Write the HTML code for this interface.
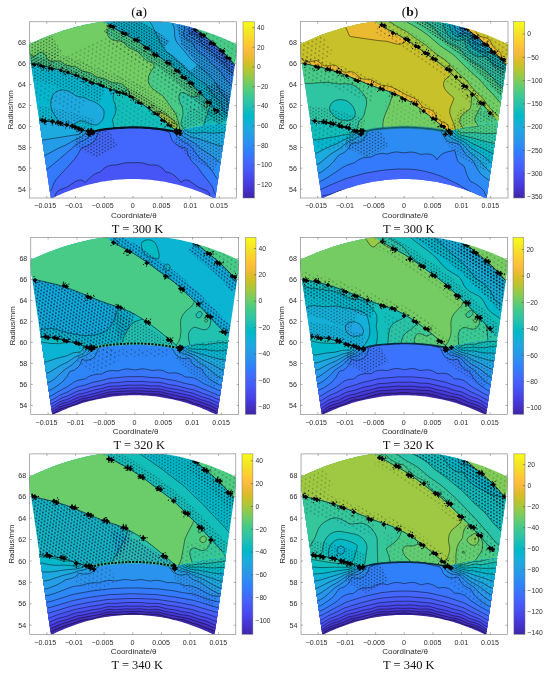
<!DOCTYPE html><html><head><meta charset="utf-8"><title>Figure</title><style>html,body{margin:0;padding:0;background:#fff}svg{display:block}</style></head><body><svg width="550" height="676" viewBox="0 0 550 676"><defs><pattern id="dt1" patternUnits="userSpaceOnUse" width="2.9" height="5.0" patternTransform="rotate(-30)"><circle cx="0.72" cy="1.25" r="0.8" fill="#0a1420"/><circle cx="2.17" cy="3.75" r="0.8" fill="#0a1420"/></pattern><pattern id="dt2" patternUnits="userSpaceOnUse" width="3.3" height="5.6" patternTransform="rotate(-30)"><circle cx="0.8" cy="1.4" r="0.62" fill="#10151a"/><circle cx="2.45" cy="4.2" r="0.62" fill="#10151a"/></pattern><pattern id="dt5" patternUnits="userSpaceOnUse" width="3.4" height="5.9" patternTransform="rotate(-30)"><circle cx="0.85" cy="1.5" r="0.85" fill="#0a1a30"/><circle cx="2.55" cy="4.45" r="0.85" fill="#0a1a30"/></pattern><pattern id="dt4" patternUnits="userSpaceOnUse" width="3.4" height="5.9" patternTransform="rotate(-22)"><circle cx="0.85" cy="1.5" r="0.95" fill="#14267a"/><circle cx="2.55" cy="4.45" r="0.95" fill="#14267a"/></pattern><pattern id="dt3" patternUnits="userSpaceOnUse" width="4.6" height="7.8" patternTransform="rotate(-25)"><circle cx="1.1" cy="1.9" r="0.6" fill="#111"/><circle cx="3.4" cy="5.8" r="0.6" fill="#111"/></pattern><linearGradient id="pg" x1="0" y1="0" x2="0" y2="1"><stop offset="0.0000" stop-color="#f9fb15"/><stop offset="0.0312" stop-color="#f6ef20"/><stop offset="0.0625" stop-color="#f5e327"/><stop offset="0.0938" stop-color="#f9d62d"/><stop offset="0.1250" stop-color="#feca33"/><stop offset="0.1562" stop-color="#febe3c"/><stop offset="0.1875" stop-color="#f1ba37"/><stop offset="0.2188" stop-color="#debc2a"/><stop offset="0.2500" stop-color="#c8c129"/><stop offset="0.2812" stop-color="#afc637"/><stop offset="0.3125" stop-color="#94ca4a"/><stop offset="0.3438" stop-color="#77cc60"/><stop offset="0.3750" stop-color="#5ccc76"/><stop offset="0.4062" stop-color="#44ca8a"/><stop offset="0.4375" stop-color="#34c79c"/><stop offset="0.4688" stop-color="#28c2ab"/><stop offset="0.5000" stop-color="#12beb9"/><stop offset="0.5312" stop-color="#01b9c6"/><stop offset="0.5625" stop-color="#0cb3d3"/><stop offset="0.5938" stop-color="#1aacdd"/><stop offset="0.6250" stop-color="#21a3e3"/><stop offset="0.6562" stop-color="#269ae9"/><stop offset="0.6875" stop-color="#2c90f0"/><stop offset="0.7188" stop-color="#2e85f8"/><stop offset="0.7500" stop-color="#347afd"/><stop offset="0.7812" stop-color="#3f6efe"/><stop offset="0.8125" stop-color="#4562fc"/><stop offset="0.8438" stop-color="#4757f7"/><stop offset="0.8750" stop-color="#484cef"/><stop offset="0.9062" stop-color="#4741e5"/><stop offset="0.9375" stop-color="#4536d5"/><stop offset="0.9688" stop-color="#422ebf"/><stop offset="1.0000" stop-color="#3e26a8"/></linearGradient><clipPath id="bxa"><rect x="29.5" y="21.8" width="207.1" height="176.2"/></clipPath><clipPath id="caband"><path d="M104.9 21.5L104.8 21.5L101.3 21.9L101.3 21.9L97.8 22.5L97.8 22.5L94.3 23.1L94.3 23.1L90.8 23.7L90.8 23.7L87.3 24.4L87.3 24.4L83.8 25.1L83.8 25.2L80.3 26L80.3 26L76.8 26.8L76.8 26.8L73.3 27.7L73.3 27.7L69.8 28.7L69.8 28.7L66.3 29.7L66.3 29.8L62.8 30.8L62.8 30.8L59.4 32L59.4 32L55.9 33.2L55.9 33.2L52.5 34.4L52.4 34.4L49 35.7L49 35.7L45.6 37.1L45.5 37.1L42.1 38.5L42.1 38.5L38.7 40L38.7 40L35.3 41.5L35.2 41.5L31.8 43.1L31.8 43.1L28.4 44.7L28.4 44.7L28.4 44.7L28.3 44.8L28.3 44.8L28.3 44.8L28.3 44.8L28.3 44.9L28.2 44.9L28.2 44.9L28.2 45L28.2 45L28.2 45L28.2 45.1L30.9 63.1L30.9 63.2L30.9 63.2L30.9 63.2L30.9 63.3L31 63.3L31 63.3L31 63.3L31 63.4L31.1 63.4L31.1 63.4L31.1 63.4L31.2 63.4L32.4 63.7L32.4 63.7L35.2 64.4L35.2 64.4L38.1 65L38.1 65L40.9 65.6L43.7 66.3L46.5 66.9L49.4 67.6L52.2 68.2L55 69L57.7 69.7L60.5 70.6L63.3 71.4L66 72.4L68.7 73.3L71.4 74.3L74.1 75.4L76.8 76.4L79.5 77.5L82.2 78.6L84.9 79.7L87.6 80.8L87.6 80.8L90.3 81.9L90.3 81.9L93 83L93 83L95.6 84.1L95.7 84.1L98.4 85.2L98.4 85.2L101.1 86.2L101.1 86.2L103.8 87.2L103.8 87.2L106.5 88.2L106.5 88.2L109.3 89.1L109.3 89.1L112 90L114.8 90.8L117.5 91.8L120.3 92.7L122.9 93.8L125.6 95L128.2 96.2L130.8 97.5L133.3 98.9L135.9 100.3L138.3 101.8L140.8 103.4L143.2 105L145.6 106.7L147.9 108.3L150.3 110.1L152.6 111.8L154.9 113.6L157.2 115.4L159.4 117.2L161.7 119L163.9 120.9L166.2 122.7L168.4 124.6L170.6 126.5L172.8 128.3L175 130.2L177.1 132.1L177.2 132.1L177.2 132.2L177.2 132.2L177.3 132.2L177.3 132.2L177.3 132.2L177.4 132.2L177.4 132.2L177.4 132.2L177.5 132.2L195.3 128L211.2 125.8L225.9 124.4L225.9 124.4L226 124.4L226 124.4L226 124.4L226.1 124.4L226.1 124.4L226.1 124.3L226.1 124.3L226.2 124.3L226.2 124.3L226.2 124.2L226.2 124.2L226.2 124.2L226.2 124.1L226.7 120.8L226.7 120.8L226.7 120.7L226.7 120.7L226.7 120.7L226.7 120.6L226.7 120.6L226.7 120.6L226.6 120.5L226.6 120.5L225.6 119.4L225.6 119.4L223.6 117.3L223.6 117.3L221.7 115.2L221.7 115.2L219.7 113.1L219.7 113.1L217.8 111.1L217.8 111.1L215.8 109L213.8 106.9L211.8 104.9L209.9 102.8L207.9 100.7L206 98.6L204.1 96.5L204.1 96.5L202.1 94.4L202.1 94.4L200.2 92.3L200.2 92.3L198.2 90.3L198.2 90.3L196.1 88.3L196.1 88.3L194.1 86.3L194.1 86.3L192 84.4L189.9 82.4L187.8 80.5L185.8 78.5L183.7 76.5L181.7 74.5L181.7 74.5L179.6 72.5L179.6 72.5L177.6 70.5L177.6 70.5L175.4 68.6L175.4 68.6L173.3 66.8L173.3 66.8L171 65L171 65L168.8 63.3L168.7 63.3L166.4 61.6L166.4 61.6L164.1 59.9L164.1 59.9L161.8 58.3L159.5 56.6L157.2 54.9L154.9 53.2L152.6 51.5L152.6 51.5L150.3 49.8L150.3 49.8L148 48.1L148 48.1L145.7 46.5L145.7 46.5L143.4 44.8L143.4 44.8L141 43.2L141 43.2L138.6 41.6L138.6 41.6L136.2 40.1L136.2 40.1L133.8 38.6L133.8 38.6L131.3 37.1L131.3 37.1L128.9 35.7L128.9 35.7L126.4 34.3L126.4 34.3L123.8 33L123.8 33L121.3 31.6L118.8 30.3L116.3 28.9L113.9 27.5L111.5 26L109.1 24.4L106.9 22.6L105.7 21.5L105.7 21.5L105.7 21.4L105.6 21.4L105.6 21.4L105.6 21.4L105.5 21.4L105.5 21.4L105.5 21.4L105.4 21.4Z"/></clipPath><clipPath id="caU"><path d="M192.8 27.7L192.8 27.7L189.3 26.8L189.3 26.8L185.8 26L185.8 26L182.3 25.2L182.3 25.1L178.8 24.4L178.8 24.4L175.3 23.7L175.3 23.7L171.8 23.1L171.8 23.1L168.3 22.5L168.3 22.5L164.8 21.9L164.8 21.9L161.3 21.5L161.2 21.5L157.7 21L157.7 21L154.2 20.7L154.2 20.7L150.7 20.4L150.7 20.4L147.2 20.1L147.2 20.1L143.6 19.9L143.6 19.9L140.1 19.8L140.1 19.8L136.6 19.7L136.6 19.7L133.1 19.7L133 19.7L129.5 19.7L129.5 19.7L126 19.8L126 19.8L122.5 19.9L122.5 19.9L118.9 20.1L118.9 20.1L115.4 20.4L115.4 20.4L111.9 20.7L111.9 20.7L108.4 21L108.4 21L105.6 21.4L105.6 21.4L105.5 21.4L105.5 21.4L105.5 21.4L105.4 21.4L105.4 21.5L105.4 21.5L105.4 21.5L105.3 21.5L105.3 21.6L105.3 21.6L105.3 21.6L105.3 21.7L105.3 21.7L105.3 21.7L105.3 21.8L105.3 21.8L105.3 21.8L105.3 21.9L105.3 21.9L105.4 21.9L105.4 21.9L105.4 22L106.5 23L106.5 23.1L108.8 24.8L108.8 24.9L111.1 26.5L111.1 26.5L113.6 28L113.6 28L116.1 29.4L116.1 29.4L118.6 30.8L118.6 30.8L121.1 32.2L121.1 32.2L123.6 33.5L126.1 34.8L128.6 36.2L131 37.6L133.5 39.1L135.9 40.6L138.3 42.1L140.7 43.7L143 45.3L145.4 46.9L147.7 48.6L150 50.3L152.2 52L154.5 53.7L154.5 53.7L156.8 55.4L156.8 55.4L159.1 57.1L159.1 57.1L161.4 58.8L161.4 58.8L163.8 60.4L166.1 62.1L168.4 63.7L170.7 65.4L172.9 67.2L175.1 69.1L177.2 71L179.2 72.9L181.3 74.9L183.3 76.9L185.3 78.9L185.3 78.9L187.4 80.9L187.4 80.9L189.5 82.9L189.5 82.9L191.6 84.8L191.6 84.8L193.7 86.8L195.7 88.7L197.8 90.7L199.8 92.7L201.7 94.8L203.7 96.9L205.6 99L207.5 101.1L207.5 101.1L209.5 103.2L209.5 103.2L211.4 105.3L211.4 105.3L213.4 107.3L213.4 107.3L215.4 109.4L217.3 111.5L219.3 113.5L221.3 115.6L223.2 117.7L225.2 119.8L226.1 120.8L226.2 120.9L226.2 120.9L226.2 120.9L226.2 120.9L226.3 120.9L226.3 120.9L226.3 120.9L226.4 121L226.4 121L226.4 120.9L226.5 120.9L226.5 120.9L226.5 120.9L226.6 120.9L226.6 120.9L226.6 120.9L226.6 120.8L226.7 120.8L226.7 120.8L226.7 120.8L226.7 120.7L226.7 120.7L226.7 120.7L234.9 64.9L235 64.9L235 64.8L235 64.8L234.9 64.8L234.9 64.7L234.9 64.7L234.9 64.7L234.9 64.7L234.9 64.6L234.7 64.5L234.7 64.5L233 62.5L233 62.4L231.2 60.4L231.2 60.4L229.5 58.5L229.5 58.5L227.6 56.5L227.6 56.5L225.8 54.6L225.8 54.6L223.9 52.7L223.9 52.7L222 50.8L222 50.8L220.1 49L220.1 49L218.2 47.1L218.1 47.1L216.2 45.4L216.2 45.4L214.2 43.6L214.2 43.6L212.1 41.9L212.1 41.9L210.1 40.2L210.1 40.2L208 38.5L208 38.5L205.9 36.8L205.9 36.8L203.9 35.2L201.8 33.5L199.7 31.8L197.7 30.1L195.9 28.6L195.8 28.6L195.8 28.6L195.8 28.6L195.7 28.6Z"/></clipPath><clipPath id="caK"><path d="M237.9 45.1L237.9 45L237.9 45L237.9 45L237.9 44.9L237.9 44.9L237.8 44.9L237.8 44.8L237.8 44.8L237.8 44.8L237.8 44.8L237.7 44.7L237.7 44.7L237.7 44.7L234.3 43.1L234.3 43.1L230.9 41.5L230.8 41.5L227.4 40L227.4 40L224 38.5L224 38.5L220.6 37.1L220.5 37.1L217.1 35.7L217.1 35.7L213.7 34.4L213.6 34.4L210.2 33.2L210.2 33.2L206.7 32L206.7 32L203.3 30.8L203.3 30.8L199.8 29.8L199.8 29.7L196.3 28.7L196.3 28.7L196 28.6L196 28.6L195.9 28.6L195.9 28.6L195.9 28.6L195.8 28.6L195.8 28.6L195.8 28.7L195.7 28.7L195.7 28.7L195.7 28.7L195.7 28.7L195.6 28.8L195.6 28.8L195.6 28.8L195.6 28.8L195.6 28.9L195.6 28.9L195.6 28.9L195.6 29L195.6 29L195.6 29L195.6 29.1L195.6 29.1L195.6 29.1L195.6 29.2L195.6 29.2L195.7 29.2L195.7 29.2L197.3 30.6L197.3 30.6L199.4 32.3L199.4 32.3L201.4 33.9L201.4 33.9L203.5 35.6L205.6 37.3L207.7 38.9L209.7 40.6L211.8 42.3L213.8 44L215.8 45.8L217.8 47.6L219.7 49.4L221.6 51.2L223.5 53.1L225.4 55L227.2 56.9L229 58.9L230.8 60.8L232.6 62.8L234.3 64.8L234.4 64.9L234.4 65L234.4 65L234.4 65L234.5 65L234.5 65L234.5 65L234.6 65L234.6 65L234.6 65L234.7 65L234.7 65L234.7 65L234.8 65L234.8 65L234.8 65L234.9 65L234.9 64.9L234.9 64.9L234.9 64.9L234.9 64.8L235 64.8L235 64.8L235 64.7Z"/></clipPath><clipPath id="cabot"><path d="M50.8 198.3L50.8 198.3L50.8 198.4L50.8 198.4L50.9 198.4L50.9 198.5L50.9 198.5L50.9 198.5L51 198.5L51 198.6L51 198.6L51 198.6L51.1 198.6L51.1 198.6L51.1 198.6L51.2 198.6L51.2 198.6L51.2 198.6L51.3 198.6L51.3 198.6L54 197.3L56.6 196.1L59.3 194.9L62 193.7L64.7 192.6L67.4 191.5L70.1 190.5L72.8 189.6L75.5 188.6L78.2 187.7L80.9 186.9L83.6 186.1L86.4 185.3L89.1 184.6L91.8 183.9L94.6 183.3L97.3 182.7L100 182.1L102.8 181.6L105.5 181.2L108.3 180.8L111 180.4L113.8 180.1L116.5 179.8L119.3 179.6L122 179.4L124.8 179.2L127.5 179.1L130.3 179L133.1 179L135.8 179L138.6 179.1L141.3 179.2L144.1 179.4L146.8 179.6L149.6 179.8L152.3 180.1L155.1 180.4L157.8 180.8L160.6 181.2L163.3 181.6L166.1 182.1L168.8 182.7L171.5 183.3L174.3 183.9L177 184.6L179.7 185.3L182.5 186.1L185.2 186.9L187.9 187.7L190.6 188.6L193.3 189.6L196 190.5L198.7 191.5L201.4 192.6L204.1 193.7L206.8 194.9L209.5 196.1L212.1 197.3L214.8 198.6L214.8 198.6L214.9 198.6L214.9 198.6L214.9 198.6L215 198.6L215 198.6L215 198.6L215.1 198.6L215.1 198.6L215.1 198.6L215.1 198.5L215.2 198.5L215.2 198.5L215.2 198.5L215.2 198.4L215.3 198.4L215.3 198.4L215.3 198.3L215.3 198.3L226.2 124.3L226.2 124.2L226.2 124.2L226.2 124.2L226.2 124.1L226.2 124.1L226.2 124.1L226.2 124L226.1 124L226.1 124L226.1 123.9L226.1 123.9L226 123.9L226 123.9L226 123.9L225.9 123.9L225.9 123.9L225.9 123.9L225.8 123.9L211.2 125.2L211.2 125.2L195.2 127.4L195.2 127.4L177.5 131.6L177.5 131.6L177.4 131.6L177.4 131.6L177.4 131.6L177.3 131.6L177.3 131.6L177.3 131.6L177.2 131.6L177.2 131.6L177.2 131.6L175.2 131.2L175.2 131.2L173 130.8L173 130.8L170.8 130.5L170.8 130.5L168.6 130.1L168.6 130.1L166.4 129.7L166.4 129.7L164.2 129.4L164.1 129.4L161.9 129.1L161.9 129.1L159.7 128.8L159.7 128.8L157.5 128.5L157.5 128.5L155.3 128.3L155.2 128.3L153 128L153 128L150.8 127.8L150.8 127.8L148.5 127.7L148.5 127.7L146.3 127.5L146.3 127.5L144.1 127.4L144.1 127.4L141.8 127.3L141.8 127.3L139.6 127.2L139.6 127.2L137.3 127.1L137.3 127.1L135.1 127.1L135.1 127.1L132.9 127.1L132.9 127.1L130.6 127.2L130.6 127.2L128.4 127.2L128.4 127.2L126.1 127.3L126.1 127.3L123.9 127.4L123.9 127.4L121.7 127.5L121.6 127.5L119.4 127.6L119.4 127.6L117.2 127.8L117.2 127.8L114.9 128L114.9 128L112.7 128.1L112.7 128.1L110.5 128.3L110.5 128.3L108.2 128.6L108.2 128.6L106 128.8L106 128.8L103.8 129.1L103.8 129.1L101.6 129.5L101.6 129.5L99.4 129.9L99.3 129.9L97.2 130.4L97.2 130.4L95 130.9L95 130.9L92.8 131.5L92.8 131.5L90.8 132.1L90.8 132.1L90.8 132.1L90.8 132.1L90.7 132.1L90.7 132.1L90.7 132.1L90.6 132.1L90.6 132.1L88.8 131.5L86.7 130.9L84.6 130.3L82.6 129.7L80.5 129.1L78.4 128.4L76.4 127.8L74.3 127.2L72.3 126.5L72.3 126.5L70.2 125.9L70.2 125.9L68.1 125.2L68.1 125.2L66.1 124.6L66.1 124.6L64 124L64 124L61.9 123.5L61.9 123.5L59.8 123L59.8 123L57.7 122.6L57.7 122.6L55.6 122.2L55.6 122.2L53.4 121.9L53.4 121.9L51.3 121.5L51.3 121.5L49.2 121.3L49.2 121.3L47 121L44.9 120.7L42.8 120.4L40.6 120.1L39.7 119.9L39.7 119.9L39.7 119.9L39.6 119.9L39.6 119.9L39.5 119.9L39.5 119.9L39.5 120L39.5 120L39.4 120L39.4 120L39.4 120.1L39.4 120.1L39.3 120.1L39.3 120.1L39.3 120.2L39.3 120.2L39.3 120.2L39.3 120.3L39.3 120.3Z"/></clipPath><clipPath id="caW"><path d="M39.3 120.2L39.3 120.2L39.3 120.3L39.3 120.3L39.3 120.3L39.4 120.3L39.4 120.4L39.4 120.4L39.4 120.4L39.5 120.4L39.5 120.5L39.5 120.5L39.6 120.5L39.6 120.5L40.5 120.6L40.5 120.6L42.7 121L42.7 121L44.8 121.3L44.8 121.3L47 121.5L47 121.5L49.1 121.8L51.2 122.1L53.4 122.4L55.5 122.8L57.6 123.1L59.7 123.6L61.8 124.1L63.8 124.6L65.9 125.2L68 125.8L70 126.4L72.1 127.1L74.2 127.7L74.2 127.7L76.2 128.4L76.2 128.4L78.3 129L78.3 129L80.3 129.6L80.3 129.6L82.4 130.2L82.4 130.2L84.5 130.9L84.5 130.9L86.5 131.5L86.5 131.5L88.6 132.1L90.6 132.7L90.7 132.7L90.7 132.7L90.7 132.7L90.8 132.7L90.8 132.7L90.8 132.7L93 132.1L95.1 131.5L97.3 131L99.5 130.5L101.7 130L103.9 129.7L106.1 129.4L108.3 129.2L110.5 128.9L112.8 128.7L115 128.5L117.2 128.4L119.4 128.2L121.7 128.1L123.9 128L126.2 127.9L128.4 127.8L130.6 127.7L132.9 127.7L135.1 127.7L137.3 127.7L139.6 127.8L141.8 127.9L144 128L146.3 128.1L148.5 128.2L150.7 128.4L153 128.6L155.2 128.8L157.4 129.1L159.6 129.4L161.9 129.6L164.1 130L166.3 130.3L168.5 130.7L170.7 131L172.9 131.4L175.1 131.8L177.1 132.2L177.1 132.2L177.2 132.2L177.2 132.2L177.2 132.2L177.3 132.2L177.3 132.1L177.3 132.1L177.3 132.1L177.4 132.1L177.4 132.1L177.4 132L177.4 132L177.5 132L177.5 132L177.5 131.9L177.5 131.9L177.5 131.9L177.5 131.8L177.5 131.8L177.5 131.8L177.5 131.7L177.5 131.7L177.5 131.7L177.4 131.6L177.4 131.6L177.4 131.6L177.4 131.6L175.4 129.8L175.4 129.8L173.2 127.9L173.2 127.9L171 126L171 126L168.7 124.1L168.7 124.1L166.5 122.3L166.5 122.3L164.3 120.4L164.3 120.4L162 118.6L162 118.6L159.8 116.7L159.8 116.7L157.5 114.9L157.5 114.9L155.2 113.1L155.2 113.1L152.9 111.4L152.9 111.4L150.6 109.6L150.6 109.6L148.3 107.9L148.3 107.9L145.9 106.2L145.9 106.2L143.5 104.5L143.5 104.5L141.1 102.9L141.1 102.9L138.7 101.3L138.6 101.3L136.2 99.8L136.2 99.8L133.6 98.4L133.6 98.4L131.1 97L131.1 97L128.5 95.7L128.5 95.7L125.8 94.4L125.8 94.4L123.2 93.3L123.2 93.3L120.5 92.2L120.5 92.2L117.7 91.2L117.7 91.2L115 90.3L115 90.3L112.2 89.4L109.5 88.5L106.7 87.6L104 86.7L101.3 85.7L98.6 84.6L95.9 83.6L93.2 82.5L90.5 81.4L87.8 80.3L85.1 79.2L82.4 78.1L82.4 78.1L79.8 77L79.7 77L77.1 75.9L77.1 75.9L74.4 74.8L74.4 74.8L71.6 73.8L71.6 73.8L68.9 72.8L68.9 72.8L66.2 71.8L66.2 71.8L63.5 70.9L63.4 70.9L60.7 70L60.7 70L57.9 69.2L57.9 69.2L55.1 68.4L55.1 68.4L52.3 67.7L52.3 67.7L49.5 67L49.5 67L46.7 66.3L46.7 66.3L43.8 65.7L43.8 65.7L41 65.1L38.2 64.4L35.3 63.8L32.5 63.2L31.3 62.9L31.3 62.9L31.3 62.9L31.2 62.9L31.2 62.9L31.2 62.9L31.1 62.9L31.1 62.9L31.1 62.9L31 62.9L31 62.9L31 63L31 63L31 63L30.9 63.1L30.9 63.1L30.9 63.1L30.9 63.2L30.9 63.2L30.9 63.2L30.9 63.3Z"/></clipPath><clipPath id="seca"><path d="M28.6 45L32 43.4L35.4 41.8L38.8 40.3L42.2 38.8L45.7 37.4L49.1 36.1L52.6 34.8L56 33.5L59.5 32.3L63 31.2L66.4 30.1L69.9 29.1L73.4 28.1L76.9 27.2L80.4 26.3L83.9 25.5L87.4 24.7L90.9 24L94.4 23.4L97.9 22.8L101.4 22.3L104.9 21.8L108.4 21.4L111.9 21L115.4 20.7L119 20.5L122.5 20.3L126 20.1L129.5 20.1L133.1 20L136.6 20.1L140.1 20.1L143.6 20.3L147.1 20.5L150.7 20.7L154.2 21L157.7 21.4L161.2 21.8L164.7 22.3L168.2 22.8L171.7 23.4L175.2 24L178.7 24.7L182.2 25.5L185.7 26.3L189.2 27.2L192.7 28.1L196.2 29.1L199.7 30.1L203.1 31.2L206.6 32.3L210.1 33.5L213.5 34.8L217 36.1L220.4 37.4L223.9 38.8L227.3 40.3L230.7 41.8L234.1 43.4L237.5 45L214.9 198.3L212.3 197L209.6 195.7L206.9 194.5L204.2 193.4L201.5 192.3L198.8 191.2L196.1 190.2L193.4 189.2L190.7 188.3L188 187.4L185.3 186.5L182.5 185.7L179.8 185L177.1 184.3L174.3 183.6L171.6 182.9L168.9 182.4L166.1 181.8L163.4 181.3L160.6 180.8L157.9 180.4L155.1 180.1L152.4 179.7L149.6 179.4L146.9 179.2L144.1 179L141.3 178.9L138.6 178.7L135.8 178.7L133.1 178.7L130.3 178.7L127.5 178.7L124.8 178.9L122 179L119.2 179.2L116.5 179.4L113.7 179.7L111 180.1L108.2 180.4L105.5 180.8L102.7 181.3L100 181.8L97.2 182.4L94.5 182.9L91.8 183.6L89 184.3L86.3 185L83.6 185.7L80.8 186.5L78.1 187.4L75.4 188.3L72.7 189.2L70 190.2L67.3 191.2L64.6 192.3L61.9 193.4L59.2 194.5L56.5 195.7L53.8 197L51.2 198.3Z"/></clipPath><clipPath id="bxb"><rect x="300.4" y="21.7" width="207.6" height="176.3"/></clipPath><clipPath id="cbband"><path d="M375.9 21.4L375.9 21.4L372.4 21.8L372.4 21.8L368.9 22.4L368.9 22.4L365.4 23L365.4 23L361.8 23.6L361.8 23.6L358.3 24.3L358.3 24.3L354.8 25.1L354.8 25.1L351.3 25.9L351.3 25.9L347.8 26.7L347.8 26.7L344.3 27.6L344.3 27.6L340.8 28.6L340.8 28.6L337.3 29.7L337.3 29.7L333.8 30.7L333.8 30.7L330.4 31.9L330.3 31.9L326.9 33.1L326.9 33.1L323.4 34.3L323.4 34.3L319.9 35.6L319.9 35.6L316.5 37L316.5 37L313 38.4L313 38.4L309.6 39.9L309.6 39.9L306.2 41.4L306.2 41.4L302.7 43L302.7 43L299.3 44.6L299.3 44.6L299.3 44.7L299.2 44.7L299.2 44.7L299.2 44.7L299.2 44.8L299.2 44.8L299.1 44.8L299.1 44.9L299.1 44.9L299.1 44.9L299.1 45L299.1 45L301.8 63.1L301.8 63.1L301.8 63.1L301.8 63.2L301.8 63.2L301.9 63.2L301.9 63.2L301.9 63.3L301.9 63.3L302 63.3L302 63.3L302 63.3L302.1 63.3L303.3 63.6L303.3 63.6L306.1 64.3L306.1 64.3L309 64.9L309 64.9L311.8 65.6L314.6 66.2L317.5 66.8L320.3 67.5L323.1 68.2L325.9 68.9L328.7 69.7L331.5 70.5L334.3 71.4L337 72.3L339.7 73.3L342.4 74.3L345.2 75.3L347.9 76.4L350.6 77.5L353.2 78.6L355.9 79.7L358.6 80.8L358.6 80.8L361.3 81.9L361.3 81.9L364 83L364 83L366.7 84.1L366.7 84.1L369.4 85.1L369.4 85.1L372.1 86.1L372.1 86.1L374.9 87.1L374.9 87.1L377.6 88.1L377.6 88.1L380.4 89L380.4 89L383.1 89.9L385.9 90.8L388.7 91.7L391.4 92.7L394.1 93.7L396.7 94.9L399.3 96.1L401.9 97.4L404.5 98.8L407 100.3L409.5 101.8L412 103.3L414.4 105L416.8 106.6L419.1 108.3L421.5 110L423.8 111.8L426.1 113.5L428.4 115.3L430.6 117.1L432.9 119L435.1 120.8L437.4 122.7L439.6 124.5L441.8 126.4L444 128.3L446.2 130.2L448.4 132.1L448.4 132.1L448.5 132.1L448.5 132.1L448.5 132.2L448.5 132.2L448.6 132.2L448.6 132.2L448.6 132.2L448.7 132.2L448.7 132.2L466.6 128L482.6 125.8L497.3 124.4L497.3 124.4L497.3 124.4L497.4 124.4L497.4 124.4L497.4 124.3L497.5 124.3L497.5 124.3L497.5 124.3L497.5 124.3L497.5 124.2L497.6 124.2L497.6 124.2L497.6 124.1L497.6 124.1L498.1 120.8L498.1 120.7L498.1 120.7L498.1 120.7L498.1 120.6L498.1 120.6L498.1 120.6L498 120.5L498 120.5L498 120.5L497 119.3L497 119.3L495 117.2L495 117.2L493.1 115.1L493.1 115.1L491.1 113.1L491.1 113.1L489.1 111L489.1 111L487.1 109L485.1 106.9L483.2 104.8L481.2 102.8L479.3 100.7L477.3 98.5L475.4 96.4L475.4 96.4L473.5 94.3L473.5 94.3L471.5 92.3L471.5 92.3L469.5 90.2L469.5 90.2L467.4 88.2L467.4 88.2L465.4 86.3L465.4 86.3L463.3 84.3L461.2 82.4L459.1 80.4L457 78.4L455 76.4L452.9 74.4L452.9 74.4L450.9 72.4L450.9 72.4L448.8 70.5L448.8 70.5L446.7 68.5L446.7 68.5L444.5 66.7L444.5 66.7L442.3 64.9L442.3 64.9L440 63.2L440 63.2L437.7 61.5L437.7 61.5L435.3 59.8L435.3 59.8L433 58.2L430.7 56.5L428.4 54.9L426.1 53.2L423.8 51.4L423.8 51.4L421.5 49.7L421.5 49.7L419.2 48L419.2 48L416.9 46.4L416.9 46.4L414.5 44.7L414.5 44.7L412.2 43.1L412.2 43.1L409.8 41.5L409.8 41.5L407.4 40L407.4 40L404.9 38.5L404.9 38.5L402.5 37L402.5 37L400 35.6L400 35.6L397.5 34.2L397.5 34.2L395 32.9L395 32.9L392.5 31.5L389.9 30.2L387.5 28.8L385 27.4L382.6 25.9L380.2 24.3L378 22.5L376.8 21.4L376.8 21.4L376.8 21.3L376.7 21.3L376.7 21.3L376.7 21.3L376.6 21.3L376.6 21.3L376.6 21.3L376.5 21.3Z"/></clipPath><clipPath id="cbU"><path d="M464.1 27.6L464.1 27.6L460.6 26.7L460.6 26.7L457.1 25.9L457.1 25.9L453.6 25.1L453.6 25.1L450.1 24.3L450.1 24.3L446.6 23.6L446.6 23.6L443 23L443 23L439.5 22.4L439.5 22.4L436 21.8L436 21.8L432.5 21.4L432.5 21.4L428.9 20.9L428.9 20.9L425.4 20.6L425.4 20.6L421.9 20.3L421.9 20.3L418.3 20L418.3 20L414.8 19.8L414.8 19.8L411.3 19.7L411.3 19.7L407.7 19.6L407.7 19.6L404.2 19.6L404.2 19.6L400.7 19.6L400.7 19.6L397.1 19.7L397.1 19.7L393.6 19.8L393.6 19.8L390.1 20L390.1 20L386.5 20.3L386.5 20.3L383 20.6L383 20.6L379.5 20.9L379.5 20.9L376.7 21.3L376.7 21.3L376.6 21.3L376.6 21.3L376.6 21.3L376.5 21.3L376.5 21.4L376.5 21.4L376.5 21.4L376.4 21.4L376.4 21.5L376.4 21.5L376.4 21.5L376.4 21.6L376.4 21.6L376.4 21.6L376.4 21.7L376.4 21.7L376.4 21.7L376.4 21.8L376.4 21.8L376.4 21.8L376.5 21.8L376.5 21.9L377.6 22.9L377.6 23L379.8 24.7L379.9 24.8L382.2 26.4L382.2 26.4L384.7 27.9L384.7 27.9L387.2 29.3L387.2 29.3L389.7 30.7L389.7 30.7L392.2 32.1L392.2 32.1L394.7 33.4L397.2 34.8L399.7 36.1L402.2 37.5L404.6 39L407.1 40.5L409.5 42L411.8 43.6L414.2 45.2L416.5 46.8L418.9 48.5L421.2 50.2L423.4 51.9L425.7 53.6L425.7 53.6L428 55.3L428 55.3L430.3 57L430.3 57L432.7 58.7L432.7 58.7L435 60.3L437.3 62L439.6 63.7L441.9 65.4L444.1 67.1L446.3 69L448.4 70.9L450.5 72.8L452.5 74.8L454.6 76.8L456.6 78.8L456.6 78.8L458.7 80.8L458.7 80.8L460.8 82.8L460.8 82.8L462.9 84.8L462.9 84.8L465 86.7L467 88.6L469.1 90.6L471.1 92.7L473 94.7L475 96.8L476.9 98.9L478.8 101.1L478.8 101.1L480.8 103.1L480.8 103.2L482.8 105.2L482.8 105.2L484.7 107.3L484.7 107.3L486.7 109.4L488.7 111.4L490.7 113.5L492.6 115.5L494.6 117.6L496.5 119.7L497.5 120.8L497.5 120.8L497.6 120.8L497.6 120.9L497.6 120.9L497.6 120.9L497.7 120.9L497.7 120.9L497.7 120.9L497.8 120.9L497.8 120.9L497.8 120.9L497.9 120.9L497.9 120.9L497.9 120.9L498 120.8L498 120.8L498 120.8L498 120.8L498.1 120.7L498.1 120.7L498.1 120.7L498.1 120.6L498.1 120.6L506.3 64.8L506.3 64.8L506.3 64.8L506.3 64.7L506.3 64.7L506.3 64.7L506.3 64.6L506.3 64.6L506.3 64.6L506.3 64.6L506.1 64.4L506.1 64.4L504.4 62.4L504.4 62.4L502.6 60.4L502.6 60.4L500.8 58.4L500.8 58.4L499 56.4L499 56.4L497.2 54.5L497.2 54.5L495.3 52.6L495.3 52.6L493.4 50.7L493.4 50.7L491.5 48.9L491.5 48.9L489.5 47.1L489.5 47.1L487.5 45.3L487.5 45.3L485.5 43.5L485.5 43.5L483.5 41.8L483.5 41.8L481.4 40.1L481.4 40.1L479.4 38.4L479.4 38.4L477.3 36.7L477.3 36.7L475.2 35.1L473.1 33.4L471 31.7L469 30L467.2 28.5L467.1 28.5L467.1 28.5L467.1 28.5L467 28.5Z"/></clipPath><clipPath id="cbK"><path d="M509.3 45L509.3 45L509.3 44.9L509.3 44.9L509.3 44.9L509.3 44.8L509.2 44.8L509.2 44.8L509.2 44.7L509.2 44.7L509.2 44.7L509.1 44.7L509.1 44.6L509.1 44.6L505.7 43L505.7 43L502.2 41.4L502.2 41.4L498.8 39.9L498.8 39.9L495.4 38.4L495.4 38.4L491.9 37L491.9 37L488.5 35.6L488.5 35.6L485 34.3L485 34.3L481.5 33.1L481.5 33.1L478.1 31.9L478 31.9L474.6 30.7L474.6 30.7L471.1 29.7L471.1 29.7L467.6 28.6L467.6 28.6L467.3 28.5L467.3 28.5L467.2 28.5L467.2 28.5L467.2 28.5L467.1 28.5L467.1 28.5L467.1 28.6L467 28.6L467 28.6L467 28.6L467 28.6L466.9 28.7L466.9 28.7L466.9 28.7L466.9 28.8L466.9 28.8L466.9 28.8L466.9 28.8L466.9 28.9L466.9 28.9L466.9 29L466.9 29L466.9 29L466.9 29L466.9 29.1L466.9 29.1L467 29.1L467 29.2L468.6 30.5L468.6 30.5L470.7 32.2L470.7 32.2L472.8 33.9L472.8 33.9L474.8 35.5L476.9 37.2L479 38.9L481.1 40.5L483.1 42.2L485.1 44L487.1 45.7L489.1 47.5L491.1 49.3L493 51.1L494.9 53L496.8 54.9L498.6 56.8L500.4 58.8L502.2 60.8L503.9 62.8L505.7 64.8L505.8 64.9L505.8 64.9L505.8 64.9L505.8 64.9L505.9 64.9L505.9 64.9L505.9 65L506 65L506 65L506 65L506.1 65L506.1 65L506.1 65L506.2 64.9L506.2 64.9L506.2 64.9L506.3 64.9L506.3 64.9L506.3 64.8L506.3 64.8L506.3 64.8L506.4 64.7L506.4 64.7L506.4 64.7Z"/></clipPath><clipPath id="cbbot"><path d="M321.8 198.3L321.8 198.3L321.8 198.4L321.8 198.4L321.8 198.4L321.8 198.5L321.9 198.5L321.9 198.5L321.9 198.5L321.9 198.6L322 198.6L322 198.6L322 198.6L322.1 198.6L322.1 198.6L322.1 198.6L322.2 198.6L322.2 198.6L322.2 198.6L322.3 198.6L324.9 197.3L327.6 196.1L330.3 194.9L333 193.7L335.7 192.6L338.4 191.5L341.1 190.5L343.8 189.5L346.5 188.6L349.2 187.7L352 186.9L354.7 186.1L357.4 185.3L360.1 184.6L362.9 183.9L365.6 183.3L368.4 182.7L371.1 182.1L373.9 181.6L376.6 181.2L379.4 180.8L382.1 180.4L384.9 180.1L387.6 179.8L390.4 179.5L393.2 179.3L395.9 179.2L398.7 179.1L401.4 179L404.2 179L407 179L409.7 179.1L412.5 179.2L415.2 179.3L418 179.5L420.8 179.8L423.5 180.1L426.3 180.4L429 180.8L431.8 181.2L434.5 181.6L437.3 182.1L440 182.7L442.8 183.3L445.5 183.9L448.3 184.6L451 185.3L453.7 186.1L456.4 186.9L459.2 187.7L461.9 188.6L464.6 189.5L467.3 190.5L470 191.5L472.7 192.6L475.4 193.7L478.1 194.9L480.8 196.1L483.5 197.3L486.1 198.6L486.2 198.6L486.2 198.6L486.2 198.6L486.3 198.6L486.3 198.6L486.3 198.6L486.4 198.6L486.4 198.6L486.4 198.6L486.5 198.6L486.5 198.5L486.5 198.5L486.5 198.5L486.6 198.5L486.6 198.4L486.6 198.4L486.6 198.4L486.6 198.3L486.6 198.3L497.6 124.2L497.6 124.2L497.6 124.1L497.6 124.1L497.6 124.1L497.6 124L497.5 124L497.5 124L497.5 124L497.5 123.9L497.5 123.9L497.4 123.9L497.4 123.9L497.4 123.8L497.3 123.8L497.3 123.8L497.3 123.8L497.2 123.8L497.2 123.8L482.5 125.2L482.5 125.2L466.5 127.4L466.5 127.4L448.7 131.6L448.7 131.6L448.7 131.5L448.7 131.5L448.6 131.5L448.6 131.5L448.6 131.5L448.5 131.5L448.5 131.6L448.5 131.6L448.5 131.6L446.5 131.2L446.5 131.2L444.2 130.8L444.2 130.8L442 130.4L442 130.4L439.8 130L439.8 130L437.6 129.7L437.6 129.7L435.4 129.4L435.4 129.4L433.2 129L433.1 129L430.9 128.7L430.9 128.7L428.7 128.5L428.7 128.5L426.5 128.2L426.5 128.2L424.2 128L424.2 128L422 127.8L422 127.8L419.7 127.6L419.7 127.6L417.5 127.5L417.5 127.5L415.2 127.3L415.2 127.3L413 127.2L413 127.2L410.8 127.2L410.7 127.2L408.5 127.1L408.5 127.1L406.3 127.1L406.3 127.1L404 127.1L404 127.1L401.8 127.1L401.8 127.1L399.5 127.2L399.5 127.2L397.3 127.2L397.3 127.2L395 127.3L395 127.3L392.8 127.5L392.8 127.5L390.5 127.6L390.5 127.6L388.3 127.8L388.3 127.8L386 127.9L386 127.9L383.8 128.1L383.8 128.1L381.6 128.3L381.6 128.3L379.3 128.5L379.3 128.5L377.1 128.8L377.1 128.8L374.9 129.1L374.9 129.1L372.6 129.4L372.6 129.4L370.4 129.9L370.4 129.9L368.2 130.4L368.2 130.4L366 130.9L366 130.9L363.9 131.5L363.9 131.5L361.9 132.1L361.9 132.1L361.9 132L361.8 132L361.8 132L361.7 132L361.7 132L361.7 132.1L361.7 132.1L359.8 131.5L357.7 130.9L355.7 130.3L353.6 129.7L351.5 129L349.5 128.4L347.4 127.8L345.3 127.1L343.3 126.5L343.3 126.5L341.2 125.8L341.2 125.8L339.1 125.2L339.1 125.2L337.1 124.6L337.1 124.6L335 124L335 124L332.9 123.5L332.9 123.5L330.8 123L330.8 123L328.7 122.5L328.7 122.5L326.5 122.2L326.5 122.2L324.4 121.8L324.4 121.8L322.3 121.5L322.3 121.5L320.1 121.2L320.1 121.2L318 120.9L315.8 120.6L313.7 120.3L311.6 120L310.6 119.9L310.6 119.9L310.6 119.9L310.5 119.9L310.5 119.9L310.5 119.9L310.4 119.9L310.4 119.9L310.4 119.9L310.4 120L310.3 120L310.3 120L310.3 120L310.3 120.1L310.3 120.1L310.2 120.1L310.2 120.2L310.2 120.2L310.2 120.2L310.2 120.3Z"/></clipPath><clipPath id="cbW"><path d="M310.2 120.1L310.2 120.2L310.2 120.2L310.3 120.2L310.3 120.3L310.3 120.3L310.3 120.3L310.3 120.4L310.4 120.4L310.4 120.4L310.4 120.4L310.4 120.4L310.5 120.4L310.5 120.4L311.5 120.6L311.5 120.6L313.6 120.9L313.6 120.9L315.8 121.2L315.8 121.2L317.9 121.5L317.9 121.5L320 121.8L322.2 122.1L324.3 122.4L326.4 122.7L328.5 123.1L330.7 123.5L332.7 124L334.8 124.6L336.9 125.1L339 125.7L341 126.4L343.1 127L345.2 127.7L345.2 127.7L347.2 128.3L347.2 128.3L349.3 129L349.3 129L351.4 129.6L351.4 129.6L353.4 130.2L353.4 130.2L355.5 130.8L355.5 130.8L357.6 131.4L357.6 131.4L359.6 132.1L361.7 132.7L361.7 132.7L361.7 132.7L361.8 132.7L361.8 132.7L361.8 132.7L361.9 132.7L364 132.1L366.2 131.5L368.4 130.9L370.5 130.4L372.7 130L374.9 129.7L377.2 129.4L379.4 129.1L381.6 128.9L383.9 128.7L386.1 128.5L388.3 128.3L390.6 128.2L392.8 128L395 127.9L397.3 127.8L399.5 127.8L401.8 127.7L404 127.7L406.3 127.7L408.5 127.7L410.7 127.7L413 127.8L415.2 127.9L417.5 128L419.7 128.2L421.9 128.4L424.2 128.6L426.4 128.8L428.6 129L430.8 129.3L433.1 129.6L435.3 129.9L437.5 130.3L439.7 130.6L441.9 131L444.1 131.4L446.4 131.8L448.3 132.1L448.4 132.1L448.4 132.1L448.4 132.1L448.5 132.1L448.5 132.1L448.5 132.1L448.6 132.1L448.6 132.1L448.6 132.1L448.7 132L448.7 132L448.7 132L448.7 132L448.7 131.9L448.7 131.9L448.8 131.9L448.8 131.8L448.8 131.8L448.8 131.8L448.8 131.7L448.7 131.7L448.7 131.7L448.7 131.6L448.7 131.6L448.7 131.6L448.7 131.5L448.6 131.5L446.6 129.8L446.6 129.8L444.4 127.9L444.4 127.9L442.2 126L442.2 126L440 124.1L440 124.1L437.8 122.2L437.7 122.2L435.5 120.4L435.5 120.4L433.3 118.5L433.3 118.5L431 116.7L431 116.7L428.7 114.9L428.7 114.9L426.4 113.1L426.4 113.1L424.1 111.3L424.1 111.3L421.8 109.6L421.8 109.5L419.5 107.8L419.5 107.8L417.1 106.1L417.1 106.1L414.7 104.5L414.7 104.5L412.3 102.9L412.3 102.9L409.8 101.3L409.8 101.3L407.3 99.8L407.3 99.8L404.8 98.3L404.8 98.3L402.2 96.9L402.2 96.9L399.6 95.6L399.6 95.6L397 94.4L397 94.4L394.3 93.2L394.3 93.2L391.6 92.1L391.6 92.1L388.8 91.1L388.8 91.1L386.1 90.2L386.1 90.2L383.3 89.3L380.5 88.5L377.8 87.6L375.1 86.6L372.3 85.6L369.6 84.6L366.9 83.5L364.2 82.4L361.5 81.3L358.8 80.2L356.2 79.1L353.5 78L353.5 78L350.8 76.9L350.8 76.9L348.1 75.8L348.1 75.8L345.4 74.8L345.4 74.8L342.7 73.7L342.6 73.7L339.9 72.7L339.9 72.7L337.2 71.7L337.2 71.7L334.4 70.8L334.4 70.8L331.7 69.9L331.7 69.9L328.9 69.1L328.9 69.1L326.1 68.3L326.1 68.3L323.3 67.6L323.3 67.6L320.4 66.9L320.4 66.9L317.6 66.3L317.6 66.3L314.8 65.6L314.8 65.6L311.9 65L309.1 64.4L306.3 63.7L303.4 63.1L302.2 62.8L302.2 62.8L302.2 62.8L302.1 62.8L302.1 62.8L302.1 62.8L302 62.8L302 62.8L302 62.8L301.9 62.8L301.9 62.9L301.9 62.9L301.9 62.9L301.9 63L301.8 63L301.8 63L301.8 63L301.8 63.1L301.8 63.1L301.8 63.1L301.8 63.2Z"/></clipPath><clipPath id="secb"><path d="M299.5 44.9L302.9 43.3L306.3 41.7L309.7 40.2L313.2 38.7L316.6 37.3L320.1 36L323.5 34.7L327 33.4L330.5 32.2L333.9 31.1L337.4 30L340.9 29L344.4 28L347.9 27.1L351.4 26.2L354.9 25.4L358.4 24.6L361.9 23.9L365.4 23.3L368.9 22.7L372.5 22.2L376 21.7L379.5 21.3L383 20.9L386.5 20.6L390.1 20.4L393.6 20.2L397.1 20L400.7 19.9L404.2 19.9L407.7 19.9L411.3 20L414.8 20.2L418.3 20.4L421.9 20.6L425.4 20.9L428.9 21.3L432.4 21.7L435.9 22.2L439.5 22.7L443 23.3L446.5 23.9L450 24.6L453.5 25.4L457 26.2L460.5 27.1L464 28L467.5 29L471 30L474.5 31.1L477.9 32.2L481.4 33.4L484.9 34.7L488.3 36L491.8 37.3L495.2 38.7L498.7 40.2L502.1 41.7L505.5 43.3L508.9 44.9L486.3 198.3L483.6 197L480.9 195.7L478.2 194.5L475.5 193.4L472.8 192.3L470.1 191.2L467.4 190.2L464.7 189.2L462 188.3L459.3 187.4L456.5 186.5L453.8 185.7L451.1 185L448.3 184.2L445.6 183.6L442.9 182.9L440.1 182.3L437.4 181.8L434.6 181.3L431.8 180.8L429.1 180.4L426.3 180L423.6 179.7L420.8 179.4L418 179.2L415.3 179L412.5 178.8L409.7 178.7L407 178.7L404.2 178.6L401.4 178.7L398.7 178.7L395.9 178.8L393.1 179L390.4 179.2L387.6 179.4L384.8 179.7L382.1 180L379.3 180.4L376.6 180.8L373.8 181.3L371 181.8L368.3 182.3L365.5 182.9L362.8 183.6L360.1 184.2L357.3 185L354.6 185.7L351.9 186.5L349.1 187.4L346.4 188.3L343.7 189.2L341 190.2L338.3 191.2L335.6 192.3L332.9 193.4L330.2 194.5L327.5 195.7L324.8 197L322.1 198.3Z"/></clipPath><clipPath id="bxc"><rect x="30.8" y="237.5" width="207.9" height="176.8"/></clipPath><clipPath id="ccband"><path d="M106.4 237.2L106.4 237.2L102.9 237.6L102.9 237.6L99.4 238.2L99.4 238.2L95.9 238.8L95.8 238.8L92.3 239.4L92.3 239.4L88.8 240.1L88.8 240.1L85.3 240.9L85.3 240.9L81.8 241.7L81.8 241.7L78.3 242.5L78.3 242.5L74.8 243.5L74.8 243.5L71.3 244.4L71.3 244.4L67.8 245.5L67.8 245.5L64.3 246.6L64.3 246.6L60.8 247.7L60.8 247.7L57.3 248.9L57.3 248.9L53.8 250.2L53.8 250.2L50.4 251.5L50.4 251.5L46.9 252.8L46.9 252.8L43.5 254.3L43.5 254.3L40 255.7L40 255.7L36.6 257.3L36.6 257.3L33.1 258.8L33.1 258.9L29.7 260.5L29.7 260.5L29.7 260.5L29.6 260.5L29.6 260.6L29.6 260.6L29.6 260.6L29.6 260.7L29.5 260.7L29.5 260.7L29.5 260.8L29.5 260.8L29.5 260.8L29.5 260.9L32.2 279L32.2 279L32.2 279L32.2 279.1L32.2 279.1L32.3 279.1L32.3 279.2L32.3 279.2L32.3 279.2L32.4 279.2L32.4 279.2L32.4 279.3L32.5 279.3L33.7 279.6L33.7 279.6L36.5 280.2L36.5 280.2L39.4 280.8L39.4 280.8L42.2 281.5L45.1 282.1L47.9 282.8L50.7 283.4L53.6 284.1L56.4 284.8L59.2 285.6L61.9 286.4L64.7 287.3L67.4 288.2L70.2 289.2L72.9 290.2L75.6 291.3L78.3 292.3L81 293.4L83.7 294.5L86.4 295.6L89.1 296.7L89.1 296.7L91.8 297.9L91.8 297.9L94.5 299L94.5 299L97.2 300L97.2 300L99.9 301.1L99.9 301.1L102.6 302.1L102.6 302.1L105.4 303.1L105.4 303.1L108.1 304.1L108.1 304.1L110.9 305L110.9 305L113.7 305.9L116.4 306.8L119.2 307.7L121.9 308.7L124.6 309.7L127.3 310.9L129.9 312.1L132.5 313.5L135 314.8L137.6 316.3L140.1 317.8L142.5 319.4L144.9 321L147.3 322.6L149.7 324.3L152 326.1L154.4 327.8L156.7 329.6L158.9 331.4L161.2 333.2L163.5 335.1L165.7 336.9L168 338.8L170.2 340.6L172.4 342.5L174.6 344.4L176.8 346.3L179 348.2L179 348.2L179.1 348.2L179.1 348.3L179.1 348.3L179.2 348.3L179.2 348.3L179.2 348.3L179.3 348.3L179.3 348.3L179.3 348.3L197.3 344.1L213.2 341.9L228 340.5L228 340.5L228 340.5L228.1 340.5L228.1 340.4L228.1 340.4L228.1 340.4L228.2 340.4L228.2 340.4L228.2 340.3L228.2 340.3L228.2 340.3L228.3 340.3L228.3 340.2L228.3 340.2L228.8 336.8L228.8 336.8L228.8 336.8L228.8 336.7L228.8 336.7L228.8 336.7L228.7 336.6L228.7 336.6L228.7 336.6L228.7 336.6L227.6 335.4L227.6 335.4L225.7 333.3L225.7 333.3L223.7 331.2L223.7 331.2L221.8 329.1L221.8 329.1L219.8 327.1L219.8 327.1L217.8 325L215.8 322.9L213.8 320.9L211.9 318.8L209.9 316.7L208 314.6L206.1 312.5L206.1 312.4L204.1 310.3L204.1 310.3L202.1 308.3L202.1 308.3L200.1 306.2L200.1 306.2L198.1 304.2L198.1 304.2L196 302.2L196 302.2L193.9 300.3L191.8 298.4L189.7 296.4L187.7 294.4L185.6 292.4L183.6 290.4L183.6 290.4L181.5 288.4L181.5 288.4L179.4 286.4L179.4 286.4L177.3 284.5L177.3 284.5L175.1 282.6L175.1 282.6L172.9 280.8L172.9 280.8L170.6 279.1L170.6 279.1L168.3 277.4L168.3 277.4L165.9 275.8L165.9 275.8L163.6 274.1L161.3 272.4L159 270.7L156.7 269L154.4 267.3L154.4 267.3L152.1 265.6L152.1 265.6L149.8 263.9L149.8 263.9L147.4 262.2L147.4 262.2L145.1 260.6L145.1 260.6L142.7 259L142.7 259L140.3 257.4L140.3 257.4L137.9 255.8L137.9 255.8L135.5 254.3L135.5 254.3L133 252.9L133 252.9L130.5 251.5L130.5 251.5L128 250.1L128 250.1L125.5 248.7L125.5 248.7L123 247.4L120.5 246L118 244.6L115.5 243.2L113.1 241.7L110.7 240.1L108.5 238.3L107.3 237.2L107.3 237.2L107.3 237.1L107.2 237.1L107.2 237.1L107.2 237.1L107.1 237.1L107.1 237.1L107.1 237.1L107 237.1Z"/></clipPath><clipPath id="ccU"><path d="M194.7 243.5L194.7 243.5L191.2 242.5L191.2 242.5L187.7 241.7L187.7 241.7L184.2 240.9L184.2 240.9L180.7 240.1L180.7 240.1L177.2 239.4L177.2 239.4L173.7 238.8L173.6 238.8L170.1 238.2L170.1 238.2L166.6 237.6L166.6 237.6L163.1 237.2L163.1 237.2L159.5 236.7L159.5 236.7L156 236.4L156 236.4L152.5 236.1L152.5 236.1L148.9 235.8L148.9 235.8L145.4 235.6L145.4 235.6L141.8 235.5L141.8 235.5L138.3 235.4L138.3 235.4L134.8 235.4L134.7 235.4L131.2 235.4L131.2 235.4L127.7 235.5L127.7 235.5L124.1 235.6L124.1 235.6L120.6 235.8L120.6 235.8L117 236.1L117 236.1L113.5 236.4L113.5 236.4L110 236.7L110 236.7L107.2 237.1L107.2 237.1L107.1 237.1L107.1 237.1L107.1 237.1L107 237.1L107 237.2L107 237.2L107 237.2L106.9 237.2L106.9 237.3L106.9 237.3L106.9 237.3L106.9 237.4L106.9 237.4L106.9 237.4L106.9 237.5L106.9 237.5L106.9 237.5L106.9 237.6L106.9 237.6L107 237.6L107 237.6L107 237.7L108.1 238.7L108.1 238.8L110.4 240.6L110.4 240.6L112.7 242.2L112.8 242.2L115.2 243.7L115.2 243.7L117.7 245.1L117.7 245.1L120.2 246.5L120.2 246.5L122.7 247.9L122.7 247.9L125.2 249.2L127.8 250.6L130.3 252L132.7 253.4L135.2 254.8L137.6 256.3L140 257.9L142.4 259.5L144.8 261.1L147.1 262.7L149.4 264.4L151.7 266.1L154 267.8L156.3 269.5L156.3 269.5L158.6 271.2L158.6 271.2L160.9 272.9L160.9 272.9L163.3 274.6L163.3 274.6L165.6 276.2L167.9 277.9L170.2 279.6L172.5 281.3L174.7 283.1L176.9 284.9L179 286.8L181.1 288.8L183.2 290.8L185.2 292.8L187.2 294.8L187.3 294.8L189.3 296.8L189.3 296.8L191.4 298.8L191.4 298.8L193.5 300.7L193.5 300.7L195.6 302.7L197.7 304.6L199.7 306.6L201.7 308.7L203.7 310.7L205.6 312.8L207.6 315L209.5 317.1L209.5 317.1L211.4 319.2L211.5 319.2L213.4 321.3L213.4 321.3L215.4 323.3L215.4 323.3L217.4 325.4L219.4 327.5L221.3 329.5L223.3 331.6L225.3 333.7L227.2 335.8L228.2 336.9L228.2 336.9L228.2 336.9L228.3 336.9L228.3 337L228.3 337L228.4 337L228.4 337L228.4 337L228.5 337L228.5 337L228.5 337L228.6 337L228.6 337L228.6 336.9L228.7 336.9L228.7 336.9L228.7 336.9L228.7 336.8L228.7 336.8L228.8 336.8L228.8 336.8L228.8 336.7L228.8 336.7L237 280.8L237 280.7L237 280.7L237 280.7L237 280.6L237 280.6L237 280.6L237 280.5L237 280.5L237 280.5L236.8 280.3L236.8 280.3L235.1 278.3L235.1 278.3L233.3 276.3L233.3 276.3L231.5 274.3L231.5 274.3L229.7 272.3L229.7 272.3L227.9 270.4L227.9 270.4L226 268.5L226 268.5L224.1 266.6L224.1 266.6L222.1 264.8L222.1 264.7L220.2 262.9L220.2 262.9L218.2 261.1L218.2 261.1L216.2 259.4L216.2 259.4L214.1 257.7L214.1 257.6L212.1 255.9L212.1 255.9L210 254.3L210 254.3L207.9 252.6L207.9 252.6L205.8 250.9L203.8 249.2L201.7 247.6L199.6 245.9L197.8 244.4L197.8 244.3L197.7 244.3L197.7 244.3L197.7 244.3Z"/></clipPath><clipPath id="ccK"><path d="M240 260.9L240 260.8L240 260.8L240 260.8L240 260.7L240 260.7L239.9 260.7L239.9 260.6L239.9 260.6L239.9 260.6L239.9 260.5L239.8 260.5L239.8 260.5L239.8 260.5L236.4 258.9L236.4 258.8L232.9 257.3L232.9 257.3L229.5 255.7L229.5 255.7L226 254.3L226 254.3L222.6 252.8L222.6 252.8L219.1 251.5L219.1 251.5L215.7 250.2L215.7 250.2L212.2 248.9L212.2 248.9L208.7 247.7L208.7 247.7L205.2 246.6L205.2 246.6L201.7 245.5L201.7 245.5L198.2 244.4L198.2 244.4L198 244.4L197.9 244.4L197.9 244.4L197.9 244.4L197.8 244.4L197.8 244.4L197.8 244.4L197.7 244.4L197.7 244.4L197.7 244.4L197.6 244.4L197.6 244.5L197.6 244.5L197.6 244.5L197.6 244.5L197.5 244.6L197.5 244.6L197.5 244.6L197.5 244.7L197.5 244.7L197.5 244.7L197.5 244.8L197.5 244.8L197.5 244.8L197.6 244.9L197.6 244.9L197.6 244.9L197.6 245L197.6 245L199.3 246.3L199.3 246.3L201.3 248L201.3 248L203.4 249.7L203.4 249.7L205.5 251.4L207.6 253L209.6 254.7L211.7 256.4L213.8 258.1L215.8 259.8L217.8 261.6L219.8 263.4L221.7 265.2L223.7 267L225.6 268.9L227.5 270.8L229.3 272.7L231.1 274.7L232.9 276.7L234.6 278.7L236.4 280.7L236.5 280.8L236.5 280.8L236.5 280.8L236.5 280.8L236.6 280.9L236.6 280.9L236.6 280.9L236.7 280.9L236.7 280.9L236.7 280.9L236.8 280.9L236.8 280.9L236.8 280.9L236.9 280.9L236.9 280.8L236.9 280.8L237 280.8L237 280.8L237 280.8L237 280.7L237 280.7L237 280.7L237.1 280.6L237.1 280.6Z"/></clipPath><clipPath id="ccbot"><path d="M52.2 414.6L52.2 414.6L52.2 414.7L52.2 414.7L52.2 414.7L52.3 414.8L52.3 414.8L52.3 414.8L52.3 414.8L52.4 414.9L52.4 414.9L52.4 414.9L52.5 414.9L52.5 414.9L52.5 414.9L52.6 414.9L52.6 414.9L52.6 414.9L52.7 414.9L52.7 414.9L55.4 413.6L58.1 412.4L60.7 411.2L63.4 410L66.1 408.9L68.8 407.8L71.5 406.8L74.3 405.8L77 404.9L79.7 404L82.4 403.1L85.2 402.3L87.9 401.6L90.6 400.8L93.4 400.2L96.1 399.5L98.9 398.9L101.6 398.4L104.4 397.9L107.1 397.4L109.9 397L112.6 396.6L115.4 396.3L118.2 396L120.9 395.8L123.7 395.6L126.5 395.4L129.2 395.3L132 395.3L134.8 395.2L137.5 395.3L140.3 395.3L143 395.4L145.8 395.6L148.6 395.8L151.3 396L154.1 396.3L156.9 396.6L159.6 397L162.4 397.4L165.1 397.9L167.9 398.4L170.6 398.9L173.4 399.5L176.1 400.2L178.9 400.8L181.6 401.6L184.3 402.3L187.1 403.1L189.8 404L192.5 404.9L195.2 405.8L198 406.8L200.7 407.8L203.4 408.9L206.1 410L208.8 411.2L211.4 412.4L214.1 413.6L216.8 414.9L216.8 414.9L216.9 414.9L216.9 414.9L216.9 414.9L217 414.9L217 414.9L217 414.9L217.1 414.9L217.1 414.9L217.1 414.9L217.2 414.8L217.2 414.8L217.2 414.8L217.2 414.8L217.3 414.7L217.3 414.7L217.3 414.7L217.3 414.6L217.3 414.6L228.3 340.3L228.3 340.3L228.3 340.2L228.3 340.2L228.3 340.2L228.2 340.1L228.2 340.1L228.2 340.1L228.2 340L228.2 340L228.1 340L228.1 340L228.1 340L228.1 339.9L228 339.9L228 339.9L228 339.9L227.9 339.9L227.9 339.9L213.2 341.3L213.2 341.3L197.2 343.5L197.2 343.5L179.4 347.7L179.4 347.7L179.3 347.7L179.3 347.7L179.3 347.6L179.2 347.6L179.2 347.7L179.2 347.7L179.1 347.7L179.1 347.7L179.1 347.7L177.1 347.3L177.1 347.3L174.9 346.9L174.9 346.9L172.6 346.5L172.6 346.5L170.4 346.2L170.4 346.2L168.2 345.8L168.2 345.8L166 345.5L166 345.5L163.7 345.1L163.7 345.1L161.5 344.8L161.5 344.8L159.3 344.6L159.3 344.6L157 344.3L157 344.3L154.8 344.1L154.8 344.1L152.6 343.9L152.6 343.9L150.3 343.7L150.3 343.7L148.1 343.6L148.1 343.6L145.8 343.4L145.8 343.4L143.6 343.3L143.6 343.3L141.3 343.3L141.3 343.3L139.1 343.2L139.1 343.2L136.8 343.2L136.8 343.2L134.6 343.2L134.6 343.2L132.3 343.2L132.3 343.2L130.1 343.3L130.1 343.3L127.8 343.3L127.8 343.3L125.6 343.4L125.6 343.4L123.3 343.6L123.3 343.6L121.1 343.7L121.1 343.7L118.8 343.9L118.8 343.9L116.6 344L116.6 344L114.3 344.2L114.3 344.2L112.1 344.4L112.1 344.4L109.8 344.6L109.8 344.6L107.6 344.9L107.6 344.9L105.4 345.2L105.4 345.2L103.1 345.5L103.1 345.5L100.9 346L100.9 346L98.7 346.5L98.7 346.5L96.5 347L96.5 347L94.4 347.6L94.4 347.6L92.4 348.2L92.4 348.2L92.3 348.2L92.3 348.2L92.3 348.2L92.2 348.2L92.2 348.2L92.2 348.2L92.2 348.2L90.3 347.6L88.2 347L86.1 346.4L84.1 345.8L82 345.1L79.9 344.5L77.9 343.9L75.8 343.2L73.7 342.6L73.7 342.6L71.7 341.9L71.7 341.9L69.6 341.3L69.6 341.3L67.5 340.7L67.5 340.7L65.4 340.1L65.4 340.1L63.3 339.5L63.3 339.5L61.2 339.1L61.2 339.1L59.1 338.6L59.1 338.6L57 338.2L57 338.2L54.8 337.9L54.8 337.9L52.7 337.6L52.7 337.6L50.5 337.3L50.5 337.3L48.4 337L46.3 336.7L44.1 336.4L42 336.1L41.1 336L41 335.9L41 335.9L41 335.9L40.9 336L40.9 336L40.9 336L40.8 336L40.8 336L40.8 336L40.7 336.1L40.7 336.1L40.7 336.1L40.7 336.1L40.7 336.2L40.7 336.2L40.7 336.2L40.7 336.3L40.7 336.3L40.7 336.3Z"/></clipPath><clipPath id="ccW"><path d="M40.6 336.2L40.6 336.3L40.7 336.3L40.7 336.3L40.7 336.4L40.7 336.4L40.7 336.4L40.7 336.4L40.8 336.5L40.8 336.5L40.8 336.5L40.9 336.5L40.9 336.5L40.9 336.5L41.9 336.7L41.9 336.7L44 337L44 337L46.2 337.3L46.2 337.3L48.3 337.6L48.3 337.6L50.5 337.9L52.6 338.2L54.7 338.5L56.9 338.8L59 339.2L61.1 339.6L63.2 340.1L65.3 340.6L67.4 341.2L69.4 341.8L71.5 342.5L73.6 343.1L75.6 343.8L75.6 343.8L77.7 344.4L77.7 344.4L79.8 345.1L79.8 345.1L81.8 345.7L81.8 345.7L83.9 346.3L83.9 346.3L86 346.9L86 346.9L88 347.6L88 347.6L90.1 348.2L92.2 348.8L92.2 348.8L92.2 348.8L92.3 348.8L92.3 348.8L92.3 348.8L92.4 348.8L94.5 348.2L96.7 347.6L98.9 347L101 346.5L103.2 346.1L105.4 345.8L107.7 345.5L109.9 345.2L112.1 345L114.4 344.8L116.6 344.6L118.9 344.4L121.1 344.3L123.3 344.1L125.6 344L127.8 343.9L130.1 343.9L132.3 343.8L134.6 343.8L136.8 343.8L139 343.8L141.3 343.8L143.5 343.9L145.8 344L148 344.1L150.3 344.3L152.5 344.5L154.7 344.7L157 344.9L159.2 345.1L161.4 345.4L163.7 345.7L165.9 346L168.1 346.4L170.3 346.7L172.5 347.1L174.8 347.5L177 347.9L179 348.2L179 348.3L179 348.3L179.1 348.3L179.1 348.2L179.1 348.2L179.2 348.2L179.2 348.2L179.2 348.2L179.2 348.2L179.3 348.1L179.3 348.1L179.3 348.1L179.3 348.1L179.3 348L179.4 348L179.4 348L179.4 347.9L179.4 347.9L179.4 347.9L179.4 347.8L179.4 347.8L179.3 347.8L179.3 347.7L179.3 347.7L179.3 347.7L179.3 347.7L179.3 347.6L177.2 345.9L177.2 345.9L175 344L175 344L172.8 342.1L172.8 342.1L170.6 340.2L170.6 340.2L168.3 338.3L168.3 338.3L166.1 336.4L166.1 336.4L163.8 334.6L163.8 334.6L161.6 332.8L161.6 332.8L159.3 330.9L159.3 330.9L157 329.1L157 329.1L154.7 327.4L154.7 327.4L152.4 325.6L152.4 325.6L150 323.9L150 323.9L147.7 322.2L147.7 322.2L145.3 320.5L145.3 320.5L142.8 318.9L142.8 318.9L140.4 317.3L140.4 317.3L137.9 315.8L137.9 315.8L135.3 314.3L135.3 314.3L132.8 312.9L132.7 312.9L130.2 311.6L130.1 311.6L127.5 310.4L127.5 310.4L124.8 309.2L124.8 309.2L122.1 308.1L122.1 308.1L119.4 307.1L119.4 307.1L116.6 306.2L116.6 306.2L113.8 305.3L111.1 304.5L108.3 303.5L105.6 302.6L102.8 301.6L100.1 300.5L97.4 299.5L94.7 298.4L92 297.3L89.3 296.2L86.6 295.1L83.9 294L83.9 294L81.2 292.9L81.2 292.9L78.5 291.8L78.5 291.8L75.8 290.7L75.8 290.7L73.1 289.7L73.1 289.7L70.4 288.7L70.4 288.7L67.6 287.7L67.6 287.7L64.9 286.7L64.9 286.7L62.1 285.9L62.1 285.9L59.3 285L59.3 285L56.5 284.3L56.5 284.3L53.7 283.5L53.7 283.5L50.9 282.9L50.9 282.9L48 282.2L48 282.2L45.2 281.5L45.2 281.5L42.4 280.9L39.5 280.3L36.7 279.6L33.8 279L32.6 278.7L32.6 278.7L32.6 278.7L32.5 278.7L32.5 278.7L32.5 278.7L32.4 278.7L32.4 278.7L32.4 278.7L32.3 278.8L32.3 278.8L32.3 278.8L32.3 278.8L32.3 278.9L32.2 278.9L32.2 278.9L32.2 279L32.2 279L32.2 279L32.2 279.1L32.2 279.1Z"/></clipPath><clipPath id="secc"><path d="M29.9 260.8L33.3 259.2L36.7 257.6L40.2 256.1L43.6 254.6L47 253.2L50.5 251.8L54 250.5L57.4 249.2L60.9 248L64.4 246.9L67.9 245.8L71.4 244.8L74.9 243.8L78.4 242.9L81.9 242L85.4 241.2L88.9 240.4L92.4 239.7L95.9 239.1L99.4 238.5L103 238L106.5 237.5L110 237.1L113.5 236.7L117.1 236.4L120.6 236.2L124.1 236L127.7 235.8L131.2 235.7L134.8 235.7L138.3 235.7L141.8 235.8L145.4 236L148.9 236.2L152.4 236.4L156 236.7L159.5 237.1L163 237.5L166.5 238L170.1 238.5L173.6 239.1L177.1 239.7L180.6 240.4L184.1 241.2L187.6 242L191.1 242.9L194.6 243.8L198.1 244.8L201.6 245.8L205.1 246.9L208.6 248L212.1 249.2L215.5 250.5L219 251.8L222.5 253.2L225.9 254.6L229.3 256.1L232.8 257.6L236.2 259.2L239.6 260.8L217 414.6L214.3 413.3L211.6 412L208.9 410.8L206.2 409.7L203.5 408.6L200.8 407.5L198.1 406.5L195.4 405.5L192.6 404.6L189.9 403.7L187.2 402.8L184.4 402L181.7 401.2L179 400.5L176.2 399.8L173.5 399.2L170.7 398.6L168 398.1L165.2 397.5L162.4 397.1L159.7 396.7L156.9 396.3L154.1 396L151.4 395.7L148.6 395.4L145.8 395.2L143.1 395.1L140.3 395L137.5 394.9L134.8 394.9L132 394.9L129.2 395L126.4 395.1L123.7 395.2L120.9 395.4L118.1 395.7L115.4 396L112.6 396.3L109.8 396.7L107.1 397.1L104.3 397.5L101.5 398.1L98.8 398.6L96 399.2L93.3 399.8L90.5 400.5L87.8 401.2L85.1 402L82.3 402.8L79.6 403.7L76.9 404.6L74.1 405.5L71.4 406.5L68.7 407.5L66 408.6L63.3 409.7L60.6 410.8L57.9 412L55.2 413.3L52.5 414.6Z"/></clipPath><clipPath id="bxd"><rect x="300.5" y="237.5" width="207" height="176.8"/></clipPath><clipPath id="cdband"><path d="M375.8 237.2L375.8 237.2L372.3 237.6L372.3 237.6L368.8 238.2L368.8 238.2L365.3 238.8L365.3 238.8L361.8 239.4L361.8 239.4L358.3 240.1L358.3 240.1L354.8 240.9L354.8 240.9L351.3 241.7L351.3 241.7L347.8 242.5L347.8 242.5L344.3 243.5L344.3 243.5L340.8 244.4L340.8 244.4L337.3 245.5L337.3 245.5L333.8 246.6L333.8 246.6L330.4 247.7L330.4 247.7L326.9 248.9L326.9 248.9L323.4 250.2L323.4 250.2L320 251.5L320 251.5L316.5 252.8L316.5 252.8L313.1 254.3L313.1 254.3L309.7 255.7L309.7 255.7L306.2 257.3L306.2 257.3L302.8 258.8L302.8 258.9L299.4 260.5L299.4 260.5L299.4 260.5L299.3 260.5L299.3 260.6L299.3 260.6L299.3 260.6L299.3 260.7L299.2 260.7L299.2 260.7L299.2 260.8L299.2 260.8L299.2 260.8L299.2 260.9L301.9 279L301.9 279L301.9 279L301.9 279.1L301.9 279.1L302 279.1L302 279.2L302 279.2L302 279.2L302.1 279.2L302.1 279.2L302.1 279.3L302.2 279.3L303.4 279.6L303.4 279.6L306.2 280.2L306.2 280.2L309 280.8L309 280.8L311.9 281.5L314.7 282.1L317.5 282.8L320.3 283.4L323.2 284.1L326 284.8L328.7 285.6L331.5 286.4L334.3 287.3L337 288.2L339.7 289.2L342.4 290.2L345.1 291.3L347.8 292.3L350.5 293.4L353.2 294.5L355.9 295.6L358.6 296.7L358.6 296.7L361.2 297.9L361.2 297.9L363.9 299L363.9 299L366.6 300L366.6 300L369.3 301.1L369.3 301.1L372 302.1L372 302.1L374.7 303.1L374.8 303.1L377.5 304.1L377.5 304.1L380.2 305L380.2 305L383 305.9L385.8 306.8L388.5 307.7L391.2 308.7L393.9 309.7L396.5 310.9L399.2 312.1L401.7 313.5L404.3 314.8L406.8 316.3L409.3 317.8L411.7 319.4L414.2 321L416.5 322.6L418.9 324.3L421.2 326.1L423.5 327.8L425.8 329.6L428.1 331.4L430.4 333.2L432.6 335.1L434.9 336.9L437.1 338.8L439.3 340.6L441.5 342.5L443.7 344.4L445.9 346.3L448.1 348.2L448.1 348.2L448.1 348.2L448.2 348.3L448.2 348.3L448.2 348.3L448.3 348.3L448.3 348.3L448.3 348.3L448.3 348.3L448.4 348.3L466.3 344.1L482.2 341.9L496.8 340.5L496.8 340.5L496.9 340.5L496.9 340.5L496.9 340.4L497 340.4L497 340.4L497 340.4L497 340.4L497.1 340.3L497.1 340.3L497.1 340.3L497.1 340.3L497.1 340.2L497.1 340.2L497.6 336.8L497.6 336.8L497.6 336.8L497.6 336.7L497.6 336.7L497.6 336.7L497.6 336.6L497.6 336.6L497.5 336.6L497.5 336.6L496.5 335.4L496.5 335.4L494.6 333.3L494.6 333.3L492.6 331.2L492.6 331.2L490.6 329.1L490.6 329.1L488.7 327.1L488.7 327.1L486.7 325L484.7 322.9L482.7 320.9L480.8 318.8L478.8 316.7L476.9 314.6L475 312.5L475 312.4L473.1 310.3L473.1 310.3L471.1 308.3L471.1 308.3L469.1 306.2L469.1 306.2L467.1 304.2L467.1 304.2L465 302.2L465 302.2L462.9 300.3L460.8 298.4L458.7 296.4L456.7 294.4L454.6 292.4L452.6 290.4L452.6 290.4L450.6 288.4L450.6 288.4L448.5 286.4L448.5 286.4L446.4 284.5L446.4 284.5L444.2 282.6L444.2 282.6L442 280.8L442 280.8L439.7 279.1L439.7 279.1L437.4 277.4L437.4 277.4L435 275.8L435 275.8L432.7 274.1L430.4 272.4L428.1 270.7L425.8 269L423.5 267.3L423.5 267.3L421.2 265.6L421.2 265.6L419 263.9L418.9 263.9L416.6 262.2L416.6 262.2L414.3 260.6L414.3 260.6L411.9 259L411.9 259L409.6 257.4L409.6 257.4L407.2 255.8L407.2 255.8L404.7 254.3L404.7 254.3L402.3 252.9L402.3 252.9L399.8 251.5L399.8 251.5L397.3 250.1L397.3 250.1L394.8 248.7L394.8 248.7L392.3 247.4L389.8 246L387.3 244.6L384.8 243.2L382.4 241.7L380.1 240.1L377.9 238.3L376.7 237.2L376.7 237.2L376.6 237.1L376.6 237.1L376.6 237.1L376.5 237.1L376.5 237.1L376.5 237.1L376.4 237.1L376.4 237.1Z"/></clipPath><clipPath id="cdU"><path d="M463.7 243.5L463.7 243.5L460.2 242.5L460.2 242.5L456.7 241.7L456.7 241.7L453.2 240.9L453.2 240.9L449.7 240.1L449.7 240.1L446.2 239.4L446.2 239.4L442.7 238.8L442.7 238.8L439.2 238.2L439.2 238.2L435.7 237.6L435.7 237.6L432.2 237.2L432.2 237.2L428.7 236.7L428.7 236.7L425.2 236.4L425.1 236.4L421.6 236.1L421.6 236.1L418.1 235.8L418.1 235.8L414.6 235.6L414.6 235.6L411.1 235.5L411 235.5L407.5 235.4L407.5 235.4L404 235.4L404 235.4L400.5 235.4L400.5 235.4L397 235.5L396.9 235.5L393.4 235.6L393.4 235.6L389.9 235.8L389.9 235.8L386.4 236.1L386.4 236.1L382.9 236.4L382.8 236.4L379.3 236.7L379.3 236.7L376.6 237.1L376.5 237.1L376.5 237.1L376.5 237.1L376.4 237.1L376.4 237.1L376.4 237.2L376.4 237.2L376.3 237.2L376.3 237.2L376.3 237.3L376.3 237.3L376.3 237.3L376.3 237.4L376.3 237.4L376.3 237.4L376.3 237.5L376.3 237.5L376.3 237.5L376.3 237.6L376.3 237.6L376.3 237.6L376.3 237.6L376.4 237.7L377.5 238.7L377.5 238.8L379.7 240.6L379.7 240.6L382.1 242.2L382.1 242.2L384.5 243.7L384.5 243.7L387 245.1L387 245.1L389.5 246.5L389.5 246.5L392 247.9L392 247.9L394.5 249.2L397 250.6L399.5 252L402 253.4L404.4 254.8L406.9 256.3L409.3 257.9L411.6 259.5L414 261.1L416.3 262.7L418.6 264.4L420.9 266.1L423.2 267.8L425.5 269.5L425.5 269.5L427.8 271.2L427.8 271.2L430.1 272.9L430.1 272.9L432.4 274.6L432.4 274.6L434.7 276.2L437 277.9L439.3 279.6L441.6 281.3L443.8 283.1L446 284.9L448.1 286.8L450.2 288.8L452.2 290.8L454.2 292.8L456.3 294.8L456.3 294.8L458.3 296.8L458.3 296.8L460.4 298.8L460.4 298.8L462.5 300.7L462.5 300.7L464.6 302.7L466.7 304.6L468.7 306.6L470.7 308.7L472.6 310.7L474.6 312.8L476.5 315L478.4 317.1L478.4 317.1L480.4 319.2L480.4 319.2L482.3 321.3L482.3 321.3L484.3 323.3L484.3 323.3L486.3 325.4L488.2 327.5L490.2 329.5L492.2 331.6L494.1 333.7L496.1 335.8L497 336.9L497.1 336.9L497.1 336.9L497.1 336.9L497.1 337L497.2 337L497.2 337L497.2 337L497.3 337L497.3 337L497.3 337L497.4 337L497.4 337L497.4 337L497.5 336.9L497.5 336.9L497.5 336.9L497.6 336.9L497.6 336.8L497.6 336.8L497.6 336.8L497.6 336.8L497.6 336.7L497.6 336.7L505.9 280.8L505.9 280.7L505.9 280.7L505.9 280.7L505.8 280.6L505.8 280.6L505.8 280.6L505.8 280.5L505.8 280.5L505.8 280.5L505.6 280.3L505.6 280.3L503.9 278.3L503.9 278.3L502.1 276.3L502.1 276.3L500.4 274.3L500.4 274.3L498.6 272.3L498.5 272.3L496.7 270.4L496.7 270.4L494.8 268.5L494.8 268.5L492.9 266.6L492.9 266.6L491 264.8L491 264.7L489.1 262.9L489.1 262.9L487.1 261.1L487.1 261.1L485.1 259.4L485.1 259.4L483 257.7L483 257.6L481 255.9L481 255.9L478.9 254.3L478.9 254.3L476.9 252.6L476.9 252.6L474.8 250.9L472.7 249.2L470.7 247.6L468.6 245.9L466.8 244.4L466.7 244.3L466.7 244.3L466.7 244.3L466.6 244.3Z"/></clipPath><clipPath id="cdK"><path d="M508.8 260.9L508.8 260.8L508.8 260.8L508.8 260.8L508.8 260.7L508.8 260.7L508.7 260.7L508.7 260.6L508.7 260.6L508.7 260.6L508.7 260.5L508.6 260.5L508.6 260.5L508.6 260.5L505.2 258.9L505.2 258.8L501.8 257.3L501.8 257.3L498.3 255.7L498.3 255.7L494.9 254.3L494.9 254.3L491.5 252.8L491.5 252.8L488 251.5L488 251.5L484.6 250.2L484.6 250.2L481.1 248.9L481.1 248.9L477.6 247.7L477.6 247.7L474.2 246.6L474.2 246.6L470.7 245.5L470.7 245.5L467.2 244.4L467.2 244.4L466.9 244.4L466.9 244.4L466.9 244.4L466.8 244.4L466.8 244.4L466.8 244.4L466.7 244.4L466.7 244.4L466.7 244.4L466.6 244.4L466.6 244.4L466.6 244.5L466.6 244.5L466.5 244.5L466.5 244.5L466.5 244.6L466.5 244.6L466.5 244.6L466.5 244.7L466.5 244.7L466.5 244.7L466.5 244.8L466.5 244.8L466.5 244.8L466.5 244.9L466.5 244.9L466.6 244.9L466.6 245L466.6 245L468.2 246.3L468.2 246.3L470.3 248L470.3 248L472.4 249.7L472.4 249.7L474.4 251.4L476.5 253L478.6 254.7L480.6 256.4L482.7 258.1L484.7 259.8L486.7 261.6L488.7 263.4L490.6 265.2L492.5 267L494.4 268.9L496.3 270.8L498.1 272.7L499.9 274.7L501.7 276.7L503.5 278.7L505.2 280.7L505.3 280.8L505.3 280.8L505.3 280.8L505.3 280.8L505.4 280.9L505.4 280.9L505.4 280.9L505.5 280.9L505.5 280.9L505.5 280.9L505.6 280.9L505.6 280.9L505.6 280.9L505.7 280.9L505.7 280.8L505.7 280.8L505.8 280.8L505.8 280.8L505.8 280.8L505.8 280.7L505.8 280.7L505.9 280.7L505.9 280.6L505.9 280.6Z"/></clipPath><clipPath id="cdbot"><path d="M321.8 414.6L321.8 414.6L321.8 414.7L321.8 414.7L321.8 414.7L321.9 414.8L321.9 414.8L321.9 414.8L321.9 414.8L322 414.9L322 414.9L322 414.9L322.1 414.9L322.1 414.9L322.1 414.9L322.2 414.9L322.2 414.9L322.2 414.9L322.3 414.9L322.3 414.9L325 413.6L327.6 412.4L330.3 411.2L333 410L335.7 408.9L338.4 407.8L341.1 406.8L343.8 405.8L346.5 404.9L349.2 404L351.9 403.1L354.6 402.3L357.3 401.6L360.1 400.8L362.8 400.2L365.5 399.5L368.3 398.9L371 398.4L373.7 397.9L376.5 397.4L379.2 397L382 396.6L384.7 396.3L387.5 396L390.2 395.8L393 395.6L395.7 395.4L398.5 395.3L401.2 395.3L404 395.2L406.8 395.3L409.5 395.3L412.3 395.4L415 395.6L417.8 395.8L420.5 396L423.3 396.3L426 396.6L428.8 397L431.5 397.4L434.3 397.9L437 398.4L439.7 398.9L442.5 399.5L445.2 400.2L447.9 400.8L450.7 401.6L453.4 402.3L456.1 403.1L458.8 404L461.5 404.9L464.2 405.8L466.9 406.8L469.6 407.8L472.3 408.9L475 410L477.7 411.2L480.4 412.4L483 413.6L485.7 414.9L485.7 414.9L485.8 414.9L485.8 414.9L485.8 414.9L485.9 414.9L485.9 414.9L485.9 414.9L486 414.9L486 414.9L486 414.9L486.1 414.8L486.1 414.8L486.1 414.8L486.1 414.8L486.2 414.7L486.2 414.7L486.2 414.7L486.2 414.6L486.2 414.6L497.1 340.3L497.1 340.3L497.1 340.2L497.1 340.2L497.1 340.2L497.1 340.1L497.1 340.1L497.1 340.1L497 340L497 340L497 340L497 340L496.9 340L496.9 339.9L496.9 339.9L496.8 339.9L496.8 339.9L496.8 339.9L496.7 339.9L482.1 341.3L482.1 341.3L466.2 343.5L466.1 343.5L448.4 347.7L448.4 347.7L448.4 347.7L448.3 347.7L448.3 347.6L448.3 347.6L448.2 347.7L448.2 347.7L448.2 347.7L448.1 347.7L448.1 347.7L446.1 347.3L446.1 347.3L443.9 346.9L443.9 346.9L441.7 346.5L441.7 346.5L439.5 346.2L439.5 346.2L437.3 345.8L437.3 345.8L435.1 345.5L435.1 345.5L432.9 345.1L432.9 345.1L430.6 344.8L430.6 344.8L428.4 344.6L428.4 344.6L426.2 344.3L426.2 344.3L424 344.1L424 344.1L421.7 343.9L421.7 343.9L419.5 343.7L419.5 343.7L417.3 343.6L417.3 343.6L415 343.4L415 343.4L412.8 343.3L412.8 343.3L410.5 343.3L410.5 343.3L408.3 343.2L408.3 343.2L406.1 343.2L406 343.2L403.8 343.2L403.8 343.2L401.6 343.2L401.6 343.2L399.3 343.3L399.3 343.3L397.1 343.3L397.1 343.3L394.8 343.4L394.8 343.4L392.6 343.6L392.6 343.6L390.4 343.7L390.4 343.7L388.1 343.9L388.1 343.9L385.9 344L385.9 344L383.7 344.2L383.7 344.2L381.4 344.4L381.4 344.4L379.2 344.6L379.2 344.6L377 344.9L377 344.9L374.7 345.2L374.7 345.2L372.5 345.5L372.5 345.5L370.3 346L370.3 346L368.1 346.5L368.1 346.5L366 347L365.9 347L363.8 347.6L363.8 347.6L361.8 348.2L361.8 348.2L361.8 348.2L361.7 348.2L361.7 348.2L361.7 348.2L361.6 348.2L361.6 348.2L361.6 348.2L359.7 347.6L357.7 347L355.6 346.4L353.5 345.8L351.5 345.1L349.4 344.5L347.4 343.9L345.3 343.2L343.2 342.6L343.2 342.6L341.2 341.9L341.2 341.9L339.1 341.3L339.1 341.3L337.1 340.7L337.1 340.7L335 340.1L335 340.1L332.9 339.5L332.9 339.5L330.8 339.1L330.8 339.1L328.7 338.6L328.7 338.6L326.6 338.2L326.6 338.2L324.4 337.9L324.4 337.9L322.3 337.6L322.3 337.6L320.2 337.3L320.2 337.3L318 337L315.9 336.7L313.8 336.4L311.6 336.1L310.7 336L310.7 335.9L310.6 335.9L310.6 335.9L310.6 336L310.5 336L310.5 336L310.5 336L310.5 336L310.4 336L310.4 336.1L310.4 336.1L310.4 336.1L310.3 336.1L310.3 336.2L310.3 336.2L310.3 336.2L310.3 336.3L310.3 336.3L310.3 336.3Z"/></clipPath><clipPath id="cdW"><path d="M310.3 336.2L310.3 336.3L310.3 336.3L310.3 336.3L310.3 336.4L310.4 336.4L310.4 336.4L310.4 336.4L310.4 336.5L310.5 336.5L310.5 336.5L310.5 336.5L310.5 336.5L310.6 336.5L311.5 336.7L311.5 336.7L313.7 337L313.7 337L315.8 337.3L315.8 337.3L317.9 337.6L317.9 337.6L320.1 337.9L322.2 338.2L324.3 338.5L326.5 338.8L328.6 339.2L330.7 339.6L332.8 340.1L334.8 340.6L336.9 341.2L339 341.8L341 342.5L343.1 343.1L345.1 343.8L345.1 343.8L347.2 344.4L347.2 344.4L349.2 345.1L349.2 345.1L351.3 345.7L351.3 345.7L353.4 346.3L353.4 346.3L355.4 346.9L355.4 346.9L357.5 347.6L357.5 347.6L359.6 348.2L361.6 348.8L361.6 348.8L361.7 348.8L361.7 348.8L361.7 348.8L361.8 348.8L361.8 348.8L363.9 348.2L366.1 347.6L368.3 347L370.4 346.5L372.6 346.1L374.8 345.8L377 345.5L379.3 345.2L381.5 345L383.7 344.8L385.9 344.6L388.2 344.4L390.4 344.3L392.6 344.1L394.9 344L397.1 343.9L399.3 343.9L401.6 343.8L403.8 343.8L406 343.8L408.3 343.8L410.5 343.8L412.8 343.9L415 344L417.2 344.1L419.4 344.3L421.7 344.5L423.9 344.7L426.1 344.9L428.4 345.1L430.6 345.4L432.8 345.7L435 346L437.2 346.4L439.4 346.7L441.6 347.1L443.8 347.5L446 347.9L448 348.2L448.1 348.3L448.1 348.3L448.1 348.3L448.2 348.2L448.2 348.2L448.2 348.2L448.2 348.2L448.3 348.2L448.3 348.2L448.3 348.1L448.4 348.1L448.4 348.1L448.4 348.1L448.4 348L448.4 348L448.4 348L448.4 347.9L448.4 347.9L448.4 347.9L448.4 347.8L448.4 347.8L448.4 347.8L448.4 347.7L448.4 347.7L448.4 347.7L448.3 347.7L448.3 347.6L446.3 345.9L446.3 345.9L444.1 344L444.1 344L441.9 342.1L441.9 342.1L439.7 340.2L439.7 340.2L437.5 338.3L437.5 338.3L435.2 336.4L435.2 336.4L433 334.6L433 334.6L430.7 332.8L430.7 332.8L428.4 330.9L428.4 330.9L426.2 329.1L426.2 329.1L423.9 327.4L423.9 327.4L421.6 325.6L421.6 325.6L419.2 323.9L419.2 323.9L416.9 322.2L416.9 322.2L414.5 320.5L414.5 320.5L412.1 318.9L412 318.9L409.6 317.3L409.6 317.3L407.1 315.8L407.1 315.8L404.6 314.3L404.6 314.3L402 312.9L402 312.9L399.4 311.6L399.4 311.6L396.8 310.4L396.8 310.4L394.1 309.2L394.1 309.2L391.4 308.1L391.4 308.1L388.7 307.1L388.7 307.1L385.9 306.2L385.9 306.2L383.2 305.3L380.4 304.5L377.7 303.5L374.9 302.6L372.2 301.6L369.5 300.5L366.8 299.5L364.1 298.4L361.5 297.3L358.8 296.2L356.1 295.1L353.4 294L353.4 294L350.7 292.9L350.7 292.9L348 291.8L348 291.8L345.3 290.7L345.3 290.7L342.6 289.7L342.6 289.7L339.9 288.7L339.9 288.7L337.2 287.7L337.2 287.7L334.4 286.7L334.4 286.7L331.7 285.9L331.7 285.9L328.9 285L328.9 285L326.1 284.3L326.1 284.3L323.3 283.5L323.3 283.5L320.5 282.9L320.5 282.9L317.7 282.2L317.7 282.2L314.8 281.5L314.8 281.5L312 280.9L309.2 280.3L306.3 279.6L303.5 279L302.3 278.7L302.3 278.7L302.3 278.7L302.2 278.7L302.2 278.7L302.2 278.7L302.1 278.7L302.1 278.7L302.1 278.7L302 278.8L302 278.8L302 278.8L302 278.8L302 278.9L301.9 278.9L301.9 278.9L301.9 279L301.9 279L301.9 279L301.9 279.1L301.9 279.1Z"/></clipPath><clipPath id="secd"><path d="M299.6 260.8L303 259.2L306.4 257.6L309.8 256.1L313.2 254.6L316.7 253.2L320.1 251.8L323.6 250.5L327 249.2L330.5 248L333.9 246.9L337.4 245.8L340.9 244.8L344.4 243.8L347.8 242.9L351.3 242L354.8 241.2L358.3 240.4L361.8 239.7L365.3 239.1L368.8 238.5L372.3 238L375.9 237.5L379.4 237.1L382.9 236.7L386.4 236.4L389.9 236.2L393.4 236L397 235.8L400.5 235.7L404 235.7L407.5 235.7L411 235.8L414.6 236L418.1 236.2L421.6 236.4L425.1 236.7L428.6 237.1L432.1 237.5L435.7 238L439.2 238.5L442.7 239.1L446.2 239.7L449.7 240.4L453.2 241.2L456.7 242L460.2 242.9L463.6 243.8L467.1 244.8L470.6 245.8L474.1 246.9L477.5 248L481 249.2L484.4 250.5L487.9 251.8L491.3 253.2L494.8 254.6L498.2 256.1L501.6 257.6L505 259.2L508.4 260.8L485.9 414.6L483.2 413.3L480.5 412L477.8 410.8L475.1 409.7L472.4 408.6L469.8 407.5L467.1 406.5L464.3 405.5L461.6 404.6L458.9 403.7L456.2 402.8L453.5 402L450.7 401.2L448 400.5L445.3 399.8L442.5 399.2L439.8 398.6L437.1 398.1L434.3 397.5L431.6 397.1L428.8 396.7L426.1 396.3L423.3 396L420.6 395.7L417.8 395.4L415 395.2L412.3 395.1L409.5 395L406.8 394.9L404 394.9L401.2 394.9L398.5 395L395.7 395.1L393 395.2L390.2 395.4L387.4 395.7L384.7 396L381.9 396.3L379.2 396.7L376.4 397.1L373.7 397.5L370.9 398.1L368.2 398.6L365.5 399.2L362.7 399.8L360 400.5L357.3 401.2L354.5 402L351.8 402.8L349.1 403.7L346.4 404.6L343.7 405.5L340.9 406.5L338.2 407.5L335.6 408.6L332.9 409.7L330.2 410.8L327.5 412L324.8 413.3L322.1 414.6Z"/></clipPath><clipPath id="bxe"><rect x="29.7" y="453.9" width="206.1" height="180.4"/></clipPath><clipPath id="ceband"><path d="M104.7 453.6L104.7 453.6L101.2 454L101.2 454L97.7 454.6L97.7 454.6L94.2 455.2L94.2 455.2L90.7 455.8L90.7 455.8L87.2 456.6L87.2 456.6L83.7 457.3L83.7 457.3L80.2 458.2L80.2 458.2L76.8 459L76.8 459L73.3 460L73.3 460L69.8 461L69.8 461L66.3 462L66.3 462L62.9 463.2L62.9 463.2L59.4 464.3L59.4 464.3L56 465.5L56 465.5L52.5 466.8L52.5 466.8L49.1 468.2L49.1 468.2L45.7 469.6L45.7 469.6L42.3 471L42.2 471L38.8 472.5L38.8 472.5L35.4 474.1L35.4 474.1L32 475.7L32 475.7L28.6 477.4L28.6 477.4L28.6 477.4L28.5 477.4L28.5 477.4L28.5 477.5L28.5 477.5L28.5 477.5L28.4 477.6L28.4 477.6L28.4 477.6L28.4 477.7L28.4 477.7L28.4 477.7L31.1 496.2L31.1 496.2L31.1 496.3L31.1 496.3L31.1 496.3L31.1 496.4L31.2 496.4L31.2 496.4L31.2 496.5L31.2 496.5L31.3 496.5L31.3 496.5L31.3 496.5L32.6 496.8L32.6 496.8L35.4 497.5L35.4 497.5L38.2 498.1L38.2 498.1L41 498.8L43.8 499.4L46.7 500.1L49.5 500.8L52.3 501.5L55 502.2L57.8 503L60.6 503.8L63.3 504.7L66 505.7L68.7 506.7L71.4 507.7L74.1 508.8L76.8 509.8L79.5 511L82.2 512.1L84.8 513.2L87.5 514.4L87.5 514.4L90.2 515.5L90.2 515.5L92.9 516.6L92.9 516.6L95.5 517.7L95.5 517.7L98.2 518.8L98.2 518.8L100.9 519.8L100.9 519.8L103.6 520.9L103.6 520.9L106.3 521.8L106.4 521.8L109.1 522.8L109.1 522.8L111.8 523.7L114.6 524.6L117.3 525.5L120 526.5L122.7 527.6L125.3 528.8L127.9 530.1L130.5 531.4L133 532.8L135.5 534.3L138 535.8L140.5 537.4L142.9 539.1L145.2 540.8L147.6 542.5L149.9 544.3L152.2 546.1L154.5 547.9L156.7 549.7L159 551.6L161.2 553.4L163.5 555.3L165.7 557.2L167.9 559.1L170.1 561L172.3 563L174.5 564.9L176.6 566.9L176.7 566.9L176.7 566.9L176.7 566.9L176.7 566.9L176.8 566.9L176.8 566.9L176.8 566.9L176.9 566.9L176.9 566.9L176.9 566.9L194.7 562.6L210.6 560.4L225.2 559L225.2 559L225.2 559L225.3 559L225.3 558.9L225.3 558.9L225.3 558.9L225.4 558.9L225.4 558.9L225.4 558.8L225.4 558.8L225.4 558.8L225.5 558.7L225.5 558.7L225.5 558.7L226 555.3L226 555.2L226 555.2L226 555.2L226 555.1L225.9 555.1L225.9 555.1L225.9 555L225.9 555L225.9 555L224.8 553.8L224.8 553.8L222.9 551.7L222.9 551.7L221 549.5L221 549.5L219 547.4L219 547.4L217 545.3L217 545.3L215.1 543.2L213.1 541.1L211.2 539L209.2 536.8L207.3 534.7L205.4 532.5L203.4 530.4L203.4 530.4L201.5 528.2L201.5 528.2L199.6 526.1L199.6 526.1L197.6 524L197.6 524L195.5 522L195.5 522L193.5 520L193.5 520L191.4 518L189.3 516L187.2 514L185.2 511.9L183.2 509.9L181.1 507.8L181.1 507.8L179.1 505.8L179.1 505.8L177 503.8L177 503.8L174.9 501.8L174.9 501.8L172.8 499.9L172.8 499.9L170.5 498.1L170.5 498.1L168.3 496.4L168.3 496.3L166 494.6L166 494.6L163.7 492.9L163.7 492.9L161.3 491.2L159 489.5L156.7 487.8L154.5 486.1L152.2 484.3L152.2 484.3L149.9 482.6L149.9 482.6L147.6 480.9L147.6 480.9L145.3 479.2L145.3 479.1L143 477.5L143 477.5L140.7 475.8L140.7 475.8L138.3 474.2L138.3 474.2L135.9 472.6L135.9 472.6L133.5 471.1L133.5 471.1L131 469.6L131 469.6L128.6 468.1L128.6 468.1L126.1 466.7L126.1 466.7L123.6 465.4L123.6 465.4L121.1 464L118.6 462.6L116.1 461.2L113.7 459.7L111.3 458.2L108.9 456.5L106.7 454.7L105.6 453.6L105.5 453.6L105.5 453.5L105.5 453.5L105.4 453.5L105.4 453.5L105.4 453.5L105.3 453.5L105.3 453.5L105.3 453.5Z"/></clipPath><clipPath id="ceU"><path d="M192.2 460L192.2 460L188.7 459L188.7 459L185.3 458.2L185.3 458.2L181.8 457.3L181.8 457.3L178.3 456.6L178.3 456.6L174.8 455.8L174.8 455.8L171.3 455.2L171.3 455.2L167.8 454.6L167.8 454.6L164.3 454L164.3 454L160.8 453.6L160.8 453.6L157.3 453.1L157.3 453.1L153.8 452.8L153.8 452.8L150.3 452.4L150.3 452.4L146.8 452.2L146.8 452.2L143.3 452L143.3 452L139.8 451.8L139.8 451.8L136.3 451.7L136.3 451.7L132.8 451.7L132.7 451.7L129.2 451.7L129.2 451.7L125.7 451.8L125.7 451.8L122.2 452L122.2 452L118.7 452.2L118.7 452.2L115.2 452.4L115.2 452.4L111.7 452.8L111.7 452.8L108.2 453.1L108.2 453.1L105.4 453.5L105.4 453.5L105.4 453.5L105.3 453.5L105.3 453.5L105.3 453.5L105.2 453.5L105.2 453.6L105.2 453.6L105.2 453.6L105.2 453.7L105.2 453.7L105.1 453.7L105.1 453.8L105.1 453.8L105.1 453.8L105.1 453.9L105.1 453.9L105.1 453.9L105.2 454L105.2 454L105.2 454L105.2 454.1L105.2 454.1L106.3 455.2L106.4 455.2L108.6 457L108.6 457L110.9 458.7L111 458.7L113.4 460.2L113.4 460.2L115.8 461.7L115.8 461.7L118.3 463.1L118.3 463.1L120.8 464.5L120.8 464.5L123.3 465.9L125.8 467.3L128.3 468.7L130.8 470.1L133.2 471.6L135.6 473.1L138 474.7L140.3 476.3L142.7 478L145 479.6L147.3 481.3L149.6 483.1L151.9 484.8L154.1 486.6L154.1 486.6L156.4 488.3L156.4 488.3L158.7 490L158.7 490L161 491.7L161 491.7L163.3 493.4L165.6 495.1L167.9 496.8L170.2 498.6L172.4 500.4L174.6 502.3L176.6 504.2L178.7 506.2L180.7 508.3L182.8 510.3L184.8 512.4L184.8 512.4L186.8 514.4L186.8 514.4L188.9 516.4L188.9 516.4L191 518.4L191 518.4L193.1 520.4L195.1 522.4L197.2 524.4L199.1 526.5L201.1 528.6L203 530.8L204.9 532.9L206.9 535.1L206.9 535.1L208.8 537.2L208.8 537.2L210.7 539.4L210.7 539.4L212.7 541.5L212.7 541.5L214.7 543.6L216.6 545.7L218.6 547.8L220.6 549.9L222.5 552.1L224.4 554.2L225.4 555.3L225.4 555.3L225.4 555.3L225.5 555.4L225.5 555.4L225.5 555.4L225.6 555.4L225.6 555.4L225.6 555.4L225.7 555.4L225.7 555.4L225.7 555.4L225.8 555.4L225.8 555.4L225.8 555.4L225.8 555.3L225.9 555.3L225.9 555.3L225.9 555.3L225.9 555.2L226 555.2L226 555.2L226 555.1L226 555.1L234.2 498L234.2 498L234.2 498L234.2 497.9L234.2 497.9L234.1 497.9L234.1 497.8L234.1 497.8L234.1 497.8L234.1 497.7L233.9 497.6L233.9 497.6L232.2 495.5L232.2 495.5L230.5 493.5L230.5 493.5L228.7 491.4L228.7 491.4L226.9 489.4L226.9 489.4L225.1 487.5L225.1 487.4L223.2 485.5L223.2 485.5L221.3 483.6L221.3 483.6L219.4 481.7L219.4 481.7L217.4 479.9L217.4 479.9L215.5 478L215.5 478L213.5 476.2L213.5 476.2L211.5 474.5L211.4 474.5L209.4 472.7L209.4 472.7L207.4 471L207.4 471L205.3 469.3L205.3 469.3L203.2 467.6L201.2 465.9L199.1 464.2L197.1 462.4L195.3 460.9L195.2 460.9L195.2 460.8L195.2 460.8L195.1 460.8Z"/></clipPath><clipPath id="ceK"><path d="M237.1 477.7L237.1 477.7L237.1 477.7L237.1 477.6L237.1 477.6L237.1 477.6L237 477.5L237 477.5L237 477.5L237 477.4L237 477.4L236.9 477.4L236.9 477.4L236.9 477.4L233.5 475.7L233.5 475.7L230.1 474.1L230.1 474.1L226.7 472.5L226.7 472.5L223.3 471L223.2 471L219.8 469.6L219.8 469.6L216.4 468.2L216.4 468.2L213 466.8L213 466.8L209.5 465.5L209.5 465.5L206.1 464.3L206.1 464.3L202.6 463.2L202.6 463.2L199.2 462L199.2 462L195.7 461L195.7 461L195.4 460.9L195.4 460.9L195.3 460.9L195.3 460.9L195.3 460.9L195.2 460.9L195.2 460.9L195.2 460.9L195.1 460.9L195.1 461L195.1 461L195.1 461L195 461L195 461.1L195 461.1L195 461.1L195 461.1L195 461.2L195 461.2L195 461.3L195 461.3L195 461.3L195 461.4L195 461.4L195 461.4L195 461.4L195 461.5L195.1 461.5L195.1 461.5L196.7 462.9L196.7 462.9L198.7 464.6L198.8 464.6L200.8 466.3L200.8 466.3L202.9 468L204.9 469.7L207 471.5L209 473.2L211.1 474.9L213.1 476.7L215.1 478.5L217.1 480.3L219 482.1L220.9 484L222.8 485.9L224.6 487.9L226.5 489.8L228.3 491.8L230 493.9L231.8 495.9L233.5 498L233.6 498.1L233.6 498.1L233.6 498.1L233.7 498.1L233.7 498.1L233.7 498.2L233.7 498.2L233.8 498.2L233.8 498.2L233.8 498.2L233.9 498.2L233.9 498.2L234 498.2L234 498.1L234 498.1L234 498.1L234.1 498.1L234.1 498.1L234.1 498L234.1 498L234.2 498L234.2 497.9L234.2 497.9L234.2 497.9Z"/></clipPath><clipPath id="cebot"><path d="M50.9 634.6L50.9 634.6L50.9 634.7L50.9 634.7L51 634.7L51 634.8L51 634.8L51 634.8L51 634.8L51.1 634.9L51.1 634.9L51.1 634.9L51.2 634.9L51.2 634.9L51.2 634.9L51.3 634.9L51.3 634.9L51.3 634.9L51.4 634.9L51.4 634.9L54.1 633.6L56.7 632.3L59.4 631.1L62.1 629.9L64.7 628.8L67.4 627.7L70.1 626.7L72.8 625.7L75.5 624.7L78.2 623.8L80.9 622.9L83.6 622.1L86.3 621.3L89 620.6L91.7 619.9L94.5 619.2L97.2 618.6L99.9 618.1L102.6 617.6L105.4 617.1L108.1 616.7L110.8 616.3L113.6 615.9L116.3 615.7L119 615.4L121.8 615.2L124.5 615.1L127.3 614.9L130 614.9L132.8 614.9L135.5 614.9L138.2 614.9L141 615.1L143.7 615.2L146.5 615.4L149.2 615.7L151.9 615.9L154.7 616.3L157.4 616.7L160.1 617.1L162.9 617.6L165.6 618.1L168.3 618.6L171 619.2L173.8 619.9L176.5 620.6L179.2 621.3L181.9 622.1L184.6 622.9L187.3 623.8L190 624.7L192.7 625.7L195.4 626.7L198.1 627.7L200.8 628.8L203.4 629.9L206.1 631.1L208.8 632.3L211.4 633.6L214.1 634.9L214.1 634.9L214.2 634.9L214.2 634.9L214.2 634.9L214.3 634.9L214.3 634.9L214.3 634.9L214.4 634.9L214.4 634.9L214.4 634.9L214.5 634.8L214.5 634.8L214.5 634.8L214.5 634.8L214.5 634.7L214.6 634.7L214.6 634.7L214.6 634.6L214.6 634.6L225.5 558.8L225.5 558.8L225.5 558.7L225.4 558.7L225.4 558.7L225.4 558.6L225.4 558.6L225.4 558.6L225.4 558.5L225.4 558.5L225.3 558.5L225.3 558.5L225.3 558.4L225.2 558.4L225.2 558.4L225.2 558.4L225.1 558.4L225.1 558.4L225.1 558.4L210.5 559.8L210.5 559.8L194.6 562.1L194.6 562.1L177 566.3L177 566.3L176.9 566.3L176.9 566.3L176.9 566.3L176.8 566.3L176.8 566.3L176.8 566.3L176.7 566.3L176.7 566.3L176.7 566.3L174.7 566L174.7 566L172.5 565.5L172.5 565.5L170.3 565.2L170.3 565.2L168.1 564.8L168.1 564.8L165.9 564.4L165.9 564.4L163.7 564.1L163.7 564.1L161.5 563.7L161.5 563.7L159.3 563.4L159.3 563.4L157.1 563.2L157.1 563.2L154.8 562.9L154.8 562.9L152.6 562.7L152.6 562.7L150.4 562.5L150.4 562.5L148.2 562.3L148.2 562.3L145.9 562.1L145.9 562.1L143.7 562L143.7 562L141.5 561.9L141.5 561.9L139.3 561.8L139.3 561.8L137 561.8L137 561.8L134.8 561.7L134.8 561.7L132.6 561.7L132.6 561.7L130.3 561.8L130.3 561.8L128.1 561.8L128.1 561.8L125.9 561.9L125.9 561.9L123.6 562L123.6 562L121.4 562.1L121.4 562.1L119.2 562.3L119.2 562.3L117 562.4L117 562.4L114.7 562.6L114.7 562.6L112.5 562.8L112.5 562.8L110.3 563L110.3 563L108.1 563.2L108.1 563.2L105.8 563.5L105.8 563.5L103.6 563.8L103.6 563.8L101.4 564.1L101.4 564.1L99.2 564.6L99.2 564.6L97 565.1L97 565.1L94.9 565.6L94.9 565.6L92.7 566.3L92.7 566.3L90.7 566.8L90.7 566.8L90.7 566.8L90.7 566.8L90.6 566.8L90.6 566.8L90.6 566.8L90.5 566.8L90.5 566.8L88.7 566.3L86.6 565.6L84.6 565L82.5 564.4L80.5 563.7L78.4 563.1L76.4 562.4L74.3 561.8L72.3 561.1L72.3 561.1L70.2 560.4L70.2 560.4L68.2 559.8L68.2 559.8L66.1 559.2L66.1 559.2L64 558.6L64 558.6L62 558L61.9 558L59.9 557.5L59.9 557.5L57.8 557.1L57.7 557.1L55.6 556.7L55.6 556.7L53.5 556.3L53.5 556.3L51.4 556L51.4 556L49.3 555.7L49.3 555.7L47.1 555.4L45 555.1L42.9 554.8L40.8 554.5L39.9 554.4L39.8 554.4L39.8 554.4L39.8 554.4L39.7 554.4L39.7 554.4L39.7 554.4L39.6 554.4L39.6 554.4L39.6 554.4L39.6 554.5L39.5 554.5L39.5 554.5L39.5 554.6L39.5 554.6L39.5 554.6L39.5 554.7L39.5 554.7L39.5 554.7L39.5 554.8Z"/></clipPath><clipPath id="ceW"><path d="M39.5 554.6L39.5 554.7L39.5 554.7L39.5 554.7L39.5 554.8L39.5 554.8L39.5 554.8L39.6 554.8L39.6 554.9L39.6 554.9L39.6 554.9L39.7 554.9L39.7 554.9L39.7 554.9L40.7 555.1L40.7 555.1L42.8 555.4L42.8 555.4L44.9 555.7L44.9 555.7L47.1 556L47.1 556L49.2 556.3L51.3 556.6L53.4 556.9L55.5 557.3L57.6 557.7L59.7 558.1L61.8 558.6L63.9 559.1L65.9 559.7L68 560.4L70 561L72.1 561.7L74.1 562.3L74.1 562.3L76.2 563L76.2 563L78.2 563.6L78.2 563.6L80.3 564.3L80.3 564.3L82.3 564.9L82.3 564.9L84.4 565.6L84.4 565.6L86.4 566.2L86.4 566.2L88.5 566.8L90.5 567.4L90.6 567.5L90.6 567.5L90.6 567.5L90.7 567.5L90.7 567.5L90.7 567.4L92.9 566.8L95 566.2L97.2 565.7L99.3 565.2L101.5 564.7L103.7 564.4L105.9 564.1L108.1 563.8L110.3 563.6L112.6 563.4L114.8 563.2L117 563L119.2 562.9L121.4 562.7L123.7 562.6L125.9 562.5L128.1 562.4L130.3 562.4L132.6 562.3L134.8 562.3L137 562.4L139.2 562.4L141.5 562.5L143.7 562.6L145.9 562.7L148.1 562.9L150.3 563.1L152.6 563.3L154.8 563.5L157 563.7L159.2 564L161.4 564.3L163.6 564.6L165.8 565L168 565.4L170.2 565.7L172.4 566.1L174.6 566.5L176.6 566.9L176.6 566.9L176.6 566.9L176.7 566.9L176.7 566.9L176.7 566.9L176.8 566.9L176.8 566.9L176.8 566.8L176.9 566.8L176.9 566.8L176.9 566.8L176.9 566.7L176.9 566.7L177 566.7L177 566.7L177 566.6L177 566.6L177 566.6L177 566.5L177 566.5L177 566.5L177 566.4L176.9 566.4L176.9 566.4L176.9 566.3L176.9 566.3L176.9 566.3L174.8 564.5L174.8 564.5L172.7 562.5L172.7 562.5L170.5 560.6L170.5 560.6L168.3 558.7L168.3 558.7L166.1 556.8L166.1 556.8L163.8 554.9L163.8 554.9L161.6 553L161.6 553L159.4 551.1L159.3 551.1L157.1 549.3L157.1 549.2L154.8 547.4L154.8 547.4L152.5 545.6L152.5 545.6L150.2 543.8L150.2 543.8L147.9 542L147.9 542L145.6 540.3L145.6 540.3L143.2 538.6L143.2 538.6L140.8 536.9L140.8 536.9L138.3 535.3L138.3 535.3L135.8 533.8L135.8 533.8L133.3 532.3L133.3 532.3L130.8 530.9L130.8 530.9L128.2 529.5L128.2 529.5L125.6 528.3L125.6 528.3L122.9 527.1L122.9 527.1L120.2 526L120.2 526L117.5 525L117.5 525L114.8 524L114.8 524L112 523.1L109.3 522.2L106.5 521.3L103.8 520.3L101.1 519.3L98.4 518.2L95.7 517.2L93.1 516.1L90.4 514.9L87.7 513.8L85.1 512.7L82.4 511.5L82.4 511.5L79.7 510.4L79.7 510.4L77 509.3L77 509.3L74.3 508.2L74.3 508.2L71.6 507.1L71.6 507.1L68.9 506.1L68.9 506.1L66.2 505.1L66.2 505.1L63.5 504.1L63.5 504.1L60.7 503.3L60.7 503.2L58 502.4L58 502.4L55.2 501.6L55.2 501.6L52.4 500.9L52.4 500.9L49.6 500.2L49.6 500.2L46.8 499.5L46.8 499.5L44 498.8L44 498.8L41.2 498.2L38.3 497.6L35.5 496.9L32.7 496.2L31.5 495.9L31.5 495.9L31.5 495.9L31.4 495.9L31.4 495.9L31.4 495.9L31.3 496L31.3 496L31.3 496L31.2 496L31.2 496L31.2 496.1L31.2 496.1L31.1 496.1L31.1 496.1L31.1 496.2L31.1 496.2L31.1 496.2L31.1 496.3L31.1 496.3L31.1 496.3Z"/></clipPath><clipPath id="sece"><path d="M28.8 477.7L32.2 476L35.6 474.4L39 472.8L42.4 471.3L45.8 469.9L49.2 468.5L52.7 467.2L56.1 465.9L59.5 464.7L63 463.5L66.4 462.4L69.9 461.3L73.4 460.3L76.8 459.4L80.3 458.5L83.8 457.7L87.3 456.9L90.8 456.2L94.2 455.5L97.7 454.9L101.2 454.4L104.7 453.9L108.2 453.5L111.7 453.1L115.2 452.8L118.7 452.5L122.2 452.3L125.7 452.2L129.2 452.1L132.8 452.1L136.3 452.1L139.8 452.2L143.3 452.3L146.8 452.5L150.3 452.8L153.8 453.1L157.3 453.5L160.8 453.9L164.3 454.4L167.8 454.9L171.3 455.5L174.7 456.2L178.2 456.9L181.7 457.7L185.2 458.5L188.7 459.4L192.1 460.3L195.6 461.3L199.1 462.4L202.5 463.5L206 464.7L209.4 465.9L212.8 467.2L216.3 468.5L219.7 469.9L223.1 471.3L226.5 472.8L229.9 474.4L233.3 476L236.7 477.7L214.2 634.6L211.6 633.2L208.9 632L206.3 630.8L203.6 629.6L200.9 628.5L198.2 627.4L195.5 626.3L192.8 625.3L190.1 624.4L187.4 623.4L184.7 622.6L182 621.7L179.3 621L176.6 620.2L173.8 619.5L171.1 618.9L168.4 618.3L165.7 617.7L162.9 617.2L160.2 616.7L157.5 616.3L154.7 615.9L152 615.6L149.2 615.3L146.5 615.1L143.7 614.9L141 614.7L138.2 614.6L135.5 614.5L132.8 614.5L130 614.5L127.3 614.6L124.5 614.7L121.8 614.9L119 615.1L116.3 615.3L113.5 615.6L110.8 615.9L108 616.3L105.3 616.7L102.6 617.2L99.8 617.7L97.1 618.3L94.4 618.9L91.7 619.5L88.9 620.2L86.2 621L83.5 621.7L80.8 622.6L78.1 623.4L75.4 624.4L72.7 625.3L70 626.3L67.3 627.4L64.6 628.5L61.9 629.6L59.2 630.8L56.6 632L53.9 633.2L51.3 634.6Z"/></clipPath><clipPath id="bxf"><rect x="301" y="453.9" width="206.5" height="180.4"/></clipPath><clipPath id="cfband"><path d="M376.1 453.6L376.1 453.6L372.6 454L372.6 454L369.1 454.6L369.1 454.6L365.6 455.2L365.6 455.2L362.1 455.8L362.1 455.8L358.6 456.6L358.6 456.6L355.1 457.3L355.1 457.3L351.6 458.2L351.6 458.2L348.1 459L348.1 459L344.7 460L344.7 460L341.2 461L341.2 461L337.7 462L337.7 462L334.3 463.2L334.2 463.2L330.8 464.3L330.8 464.3L327.3 465.5L327.3 465.5L323.9 466.8L323.9 466.8L320.4 468.2L320.4 468.2L317 469.6L317 469.6L313.6 471L313.6 471L310.2 472.5L310.1 472.5L306.7 474.1L306.7 474.1L303.3 475.7L303.3 475.7L299.9 477.4L299.9 477.4L299.9 477.4L299.8 477.4L299.8 477.4L299.8 477.5L299.8 477.5L299.8 477.5L299.7 477.6L299.7 477.6L299.7 477.6L299.7 477.7L299.7 477.7L299.7 477.7L302.4 496.2L302.4 496.2L302.4 496.3L302.4 496.3L302.4 496.3L302.5 496.4L302.5 496.4L302.5 496.4L302.5 496.5L302.6 496.5L302.6 496.5L302.6 496.5L302.6 496.5L303.9 496.8L303.9 496.8L306.7 497.5L306.7 497.5L309.5 498.1L309.5 498.1L312.4 498.8L315.2 499.4L318 500.1L320.8 500.8L323.6 501.5L326.4 502.2L329.2 503L331.9 503.8L334.7 504.7L337.4 505.7L340.1 506.7L342.8 507.7L345.5 508.8L348.2 509.8L350.9 511L353.6 512.1L356.2 513.2L358.9 514.4L358.9 514.4L361.6 515.5L361.6 515.5L364.3 516.6L364.3 516.6L367 517.7L367 517.7L369.7 518.8L369.7 518.8L372.4 519.8L372.4 519.8L375.1 520.9L375.1 520.9L377.8 521.8L377.8 521.8L380.5 522.8L380.5 522.8L383.3 523.7L386 524.6L388.8 525.5L391.5 526.5L394.2 527.6L396.8 528.8L399.4 530.1L402 531.4L404.5 532.8L407.1 534.3L409.5 535.8L412 537.4L414.4 539.1L416.8 540.8L419.1 542.5L421.4 544.3L423.7 546.1L426 547.9L428.3 549.7L430.5 551.6L432.8 553.4L435 555.3L437.3 557.2L439.5 559.1L441.7 561L443.9 563L446.1 564.9L448.2 566.9L448.2 566.9L448.3 566.9L448.3 566.9L448.3 566.9L448.4 566.9L448.4 566.9L448.4 566.9L448.5 566.9L448.5 566.9L448.5 566.9L466.4 562.6L482.2 560.4L496.8 559L496.9 559L496.9 559L496.9 559L497 558.9L497 558.9L497 558.9L497 558.9L497.1 558.9L497.1 558.8L497.1 558.8L497.1 558.8L497.1 558.7L497.1 558.7L497.1 558.7L497.6 555.3L497.6 555.2L497.6 555.2L497.6 555.2L497.6 555.1L497.6 555.1L497.6 555.1L497.6 555L497.6 555L497.6 555L496.5 553.8L496.5 553.8L494.6 551.7L494.6 551.7L492.6 549.5L492.6 549.5L490.7 547.4L490.7 547.4L488.7 545.3L488.7 545.3L486.7 543.2L484.8 541.1L482.8 539L480.9 536.8L478.9 534.7L477 532.5L475.1 530.4L475.1 530.4L473.1 528.2L473.1 528.2L471.2 526.1L471.2 526.1L469.2 524L469.2 524L467.2 522L467.2 522L465.1 520L465.1 520L463 518L460.9 516L458.8 514L456.8 511.9L454.8 509.9L452.7 507.8L452.7 507.8L450.7 505.8L450.7 505.8L448.6 503.8L448.6 503.8L446.5 501.8L446.5 501.8L444.3 499.9L444.3 499.9L442.1 498.1L442.1 498.1L439.8 496.4L439.8 496.3L437.5 494.6L437.5 494.6L435.2 492.9L435.2 492.9L432.9 491.2L430.6 489.5L428.3 487.8L426 486.1L423.7 484.3L423.7 484.3L421.5 482.6L421.5 482.6L419.2 480.9L419.2 480.9L416.9 479.2L416.9 479.1L414.5 477.5L414.5 477.5L412.2 475.8L412.2 475.8L409.8 474.2L409.8 474.2L407.4 472.6L407.4 472.6L405 471.1L405 471.1L402.5 469.6L402.5 469.6L400.1 468.1L400.1 468.1L397.6 466.7L397.6 466.7L395.1 465.4L395.1 465.4L392.6 464L390.1 462.6L387.6 461.2L385.1 459.7L382.7 458.2L380.4 456.5L378.2 454.7L377 453.6L377 453.6L377 453.5L376.9 453.5L376.9 453.5L376.9 453.5L376.8 453.5L376.8 453.5L376.8 453.5L376.7 453.5Z"/></clipPath><clipPath id="cfU"><path d="M463.8 460L463.8 460L460.4 459L460.4 459L456.9 458.2L456.9 458.2L453.4 457.3L453.4 457.3L449.9 456.6L449.9 456.6L446.4 455.8L446.4 455.8L442.9 455.2L442.9 455.2L439.4 454.6L439.4 454.6L435.9 454L435.9 454L432.4 453.6L432.4 453.6L428.9 453.1L428.9 453.1L425.4 452.8L425.3 452.8L421.8 452.4L421.8 452.4L418.3 452.2L418.3 452.2L414.8 452L414.8 452L411.3 451.8L411.3 451.8L407.8 451.7L407.8 451.7L404.3 451.7L404.2 451.7L400.7 451.7L400.7 451.7L397.2 451.8L397.2 451.8L393.7 452L393.7 452L390.2 452.2L390.2 452.2L386.7 452.4L386.7 452.4L383.2 452.8L383.1 452.8L379.6 453.1L379.6 453.1L376.9 453.5L376.8 453.5L376.8 453.5L376.8 453.5L376.8 453.5L376.7 453.5L376.7 453.5L376.7 453.6L376.6 453.6L376.6 453.6L376.6 453.7L376.6 453.7L376.6 453.7L376.6 453.8L376.6 453.8L376.6 453.8L376.6 453.9L376.6 453.9L376.6 453.9L376.6 454L376.6 454L376.6 454L376.7 454.1L376.7 454.1L377.8 455.2L377.8 455.2L380 457L380 457L382.4 458.7L382.4 458.7L384.8 460.2L384.8 460.2L387.3 461.7L387.3 461.7L389.8 463.1L389.8 463.1L392.3 464.5L392.3 464.5L394.8 465.9L397.3 467.3L399.8 468.7L402.3 470.1L404.7 471.6L407.1 473.1L409.5 474.7L411.9 476.3L414.2 478L416.5 479.6L418.8 481.3L421.1 483.1L423.4 484.8L425.7 486.6L425.7 486.6L428 488.3L428 488.3L430.2 490L430.3 490L432.6 491.7L432.6 491.7L434.9 493.4L437.2 495.1L439.5 496.8L441.8 498.6L444 500.4L446.1 502.3L448.2 504.2L450.3 506.2L452.3 508.3L454.4 510.3L456.4 512.4L456.4 512.4L458.4 514.4L458.4 514.4L460.5 516.4L460.5 516.4L462.6 518.4L462.6 518.4L464.7 520.4L466.8 522.4L468.8 524.4L470.8 526.5L472.7 528.6L474.7 530.8L476.6 532.9L478.5 535.1L478.5 535.1L480.4 537.2L480.4 537.2L482.4 539.4L482.4 539.4L484.4 541.5L484.4 541.5L486.3 543.6L488.3 545.7L490.3 547.8L492.2 549.9L494.2 552.1L496.1 554.2L497.1 555.3L497.1 555.3L497.1 555.3L497.1 555.4L497.2 555.4L497.2 555.4L497.2 555.4L497.3 555.4L497.3 555.4L497.3 555.4L497.4 555.4L497.4 555.4L497.4 555.4L497.5 555.4L497.5 555.4L497.5 555.3L497.6 555.3L497.6 555.3L497.6 555.3L497.6 555.2L497.6 555.2L497.6 555.2L497.7 555.1L497.7 555.1L505.9 498L505.9 498L505.9 498L505.9 497.9L505.8 497.9L505.8 497.9L505.8 497.8L505.8 497.8L505.8 497.8L505.8 497.7L505.6 497.6L505.6 497.6L503.9 495.5L503.9 495.5L502.2 493.5L502.1 493.5L500.4 491.4L500.4 491.4L498.6 489.4L498.6 489.4L496.7 487.5L496.7 487.4L494.9 485.5L494.9 485.5L493 483.6L493 483.6L491.1 481.7L491.1 481.7L489.1 479.9L489.1 479.9L487.1 478L487.1 478L485.1 476.2L485.1 476.2L483.1 474.5L483.1 474.5L481.1 472.7L481.1 472.7L479 471L479 471L476.9 469.3L476.9 469.3L474.9 467.6L472.8 465.9L470.7 464.2L468.7 462.4L466.9 460.9L466.8 460.9L466.8 460.8L466.8 460.8L466.7 460.8Z"/></clipPath><clipPath id="cfK"><path d="M508.8 477.7L508.8 477.7L508.8 477.7L508.8 477.6L508.8 477.6L508.8 477.6L508.7 477.5L508.7 477.5L508.7 477.5L508.7 477.4L508.7 477.4L508.6 477.4L508.6 477.4L508.6 477.4L505.2 475.7L505.2 475.7L501.8 474.1L501.8 474.1L498.4 472.5L498.3 472.5L494.9 471L494.9 471L491.5 469.6L491.5 469.6L488.1 468.2L488.1 468.2L484.6 466.8L484.6 466.8L481.2 465.5L481.2 465.5L477.7 464.3L477.7 464.3L474.3 463.2L474.2 463.2L470.8 462L470.8 462L467.3 461L467.3 461L467 460.9L467 460.9L467 460.9L466.9 460.9L466.9 460.9L466.9 460.9L466.8 460.9L466.8 460.9L466.8 460.9L466.7 461L466.7 461L466.7 461L466.7 461L466.6 461.1L466.6 461.1L466.6 461.1L466.6 461.1L466.6 461.2L466.6 461.2L466.6 461.3L466.6 461.3L466.6 461.3L466.6 461.4L466.6 461.4L466.6 461.4L466.6 461.4L466.7 461.5L466.7 461.5L466.7 461.5L468.3 462.9L468.3 462.9L470.4 464.6L470.4 464.6L472.4 466.3L472.4 466.3L474.5 468L476.6 469.7L478.6 471.5L480.7 473.2L482.7 474.9L484.7 476.7L486.7 478.5L488.7 480.3L490.7 482.1L492.6 484L494.5 485.9L496.3 487.9L498.2 489.8L499.9 491.8L501.7 493.9L503.5 495.9L505.2 498L505.3 498.1L505.3 498.1L505.3 498.1L505.3 498.1L505.4 498.1L505.4 498.2L505.4 498.2L505.5 498.2L505.5 498.2L505.5 498.2L505.6 498.2L505.6 498.2L505.6 498.2L505.7 498.1L505.7 498.1L505.7 498.1L505.8 498.1L505.8 498.1L505.8 498L505.8 498L505.8 498L505.9 497.9L505.9 497.9L505.9 497.9Z"/></clipPath><clipPath id="cfbot"><path d="M322.3 634.6L322.3 634.6L322.3 634.7L322.3 634.7L322.3 634.7L322.3 634.8L322.3 634.8L322.4 634.8L322.4 634.8L322.4 634.9L322.4 634.9L322.5 634.9L322.5 634.9L322.5 634.9L322.6 634.9L322.6 634.9L322.6 634.9L322.7 634.9L322.7 634.9L322.7 634.9L325.4 633.6L328.1 632.3L330.7 631.1L333.4 629.9L336.1 628.8L338.8 627.7L341.5 626.7L344.2 625.7L346.9 624.7L349.6 623.8L352.3 622.9L355 622.1L357.7 621.3L360.4 620.6L363.2 619.9L365.9 619.2L368.6 618.6L371.3 618.1L374.1 617.6L376.8 617.1L379.5 616.7L382.3 616.3L385 615.9L387.8 615.7L390.5 615.4L393.3 615.2L396 615.1L398.8 614.9L401.5 614.9L404.2 614.9L407 614.9L409.7 614.9L412.5 615.1L415.2 615.2L418 615.4L420.7 615.7L423.5 615.9L426.2 616.3L429 616.7L431.7 617.1L434.4 617.6L437.2 618.1L439.9 618.6L442.6 619.2L445.3 619.9L448.1 620.6L450.8 621.3L453.5 622.1L456.2 622.9L458.9 623.8L461.6 624.7L464.3 625.7L467 626.7L469.7 627.7L472.4 628.8L475.1 629.9L477.8 631.1L480.4 632.3L483.1 633.6L485.8 634.9L485.8 634.9L485.8 634.9L485.9 634.9L485.9 634.9L485.9 634.9L486 634.9L486 634.9L486 634.9L486.1 634.9L486.1 634.9L486.1 634.8L486.1 634.8L486.2 634.8L486.2 634.8L486.2 634.7L486.2 634.7L486.2 634.7L486.2 634.6L486.2 634.6L497.1 558.8L497.1 558.8L497.1 558.7L497.1 558.7L497.1 558.7L497.1 558.6L497.1 558.6L497.1 558.6L497.1 558.5L497 558.5L497 558.5L497 558.5L497 558.4L496.9 558.4L496.9 558.4L496.9 558.4L496.8 558.4L496.8 558.4L496.8 558.4L482.2 559.8L482.1 559.8L466.3 562.1L466.2 562.1L448.6 566.3L448.6 566.3L448.5 566.3L448.5 566.3L448.5 566.3L448.4 566.3L448.4 566.3L448.4 566.3L448.3 566.3L448.3 566.3L448.3 566.3L446.3 566L446.3 566L444.1 565.5L444.1 565.5L441.9 565.2L441.9 565.2L439.7 564.8L439.7 564.8L437.5 564.4L437.5 564.4L435.3 564.1L435.3 564.1L433 563.7L433 563.7L430.8 563.4L430.8 563.4L428.6 563.2L428.6 563.2L426.4 562.9L426.4 562.9L424.2 562.7L424.2 562.7L421.9 562.5L421.9 562.5L419.7 562.3L419.7 562.3L417.5 562.1L417.5 562.1L415.2 562L415.2 562L413 561.9L413 561.9L410.8 561.8L410.8 561.8L408.5 561.8L408.5 561.8L406.3 561.7L406.3 561.7L404.1 561.7L404.1 561.7L401.8 561.8L401.8 561.8L399.6 561.8L399.6 561.8L397.4 561.9L397.3 561.9L395.1 562L395.1 562L392.9 562.1L392.9 562.1L390.7 562.3L390.7 562.3L388.4 562.4L388.4 562.4L386.2 562.6L386.2 562.6L384 562.8L384 562.8L381.7 563L381.7 563L379.5 563.2L379.5 563.2L377.3 563.5L377.3 563.5L375.1 563.8L375.1 563.8L372.9 564.1L372.8 564.1L370.7 564.6L370.6 564.6L368.5 565.1L368.5 565.1L366.3 565.6L366.3 565.6L364.1 566.3L364.1 566.3L362.2 566.8L362.2 566.8L362.1 566.8L362.1 566.8L362.1 566.8L362 566.8L362 566.8L362 566.8L362 566.8L360.1 566.3L358 565.6L356 565L353.9 564.4L351.9 563.7L349.8 563.1L347.7 562.4L345.7 561.8L343.6 561.1L343.6 561.1L341.6 560.4L341.6 560.4L339.5 559.8L339.5 559.8L337.5 559.2L337.5 559.2L335.4 558.6L335.4 558.6L333.3 558L333.3 558L331.2 557.5L331.2 557.5L329.1 557.1L329.1 557.1L327 556.7L327 556.7L324.9 556.3L324.9 556.3L322.7 556L322.7 556L320.6 555.7L320.6 555.7L318.5 555.4L316.3 555.1L314.2 554.8L312.1 554.5L311.2 554.4L311.2 554.4L311.1 554.4L311.1 554.4L311.1 554.4L311 554.4L311 554.4L311 554.4L310.9 554.4L310.9 554.4L310.9 554.5L310.9 554.5L310.8 554.5L310.8 554.6L310.8 554.6L310.8 554.6L310.8 554.7L310.8 554.7L310.8 554.7L310.8 554.8Z"/></clipPath><clipPath id="cfW"><path d="M310.8 554.6L310.8 554.7L310.8 554.7L310.8 554.7L310.8 554.8L310.8 554.8L310.9 554.8L310.9 554.8L310.9 554.9L310.9 554.9L311 554.9L311 554.9L311 554.9L311.1 554.9L312 555.1L312 555.1L314.1 555.4L314.1 555.4L316.3 555.7L316.3 555.7L318.4 556L318.4 556L320.5 556.3L322.7 556.6L324.8 556.9L326.9 557.3L329 557.7L331.1 558.1L333.2 558.6L335.2 559.1L337.3 559.7L339.4 560.4L341.4 561L343.5 561.7L345.5 562.3L345.5 562.3L347.6 563L347.6 563L349.6 563.6L349.6 563.6L351.7 564.3L351.7 564.3L353.7 564.9L353.7 564.9L355.8 565.6L355.8 565.6L357.9 566.2L357.9 566.2L359.9 566.8L362 567.4L362 567.5L362 567.5L362.1 567.5L362.1 567.5L362.1 567.5L362.2 567.4L364.3 566.8L366.4 566.2L368.6 565.7L370.8 565.2L372.9 564.7L375.1 564.4L377.4 564.1L379.6 563.8L381.8 563.6L384 563.4L386.2 563.2L388.5 563L390.7 562.9L392.9 562.7L395.1 562.6L397.4 562.5L399.6 562.4L401.8 562.4L404.1 562.3L406.3 562.3L408.5 562.4L410.7 562.4L413 562.5L415.2 562.6L417.4 562.7L419.7 562.9L421.9 563.1L424.1 563.3L426.3 563.5L428.5 563.7L430.8 564L433 564.3L435.2 564.6L437.4 565L439.6 565.4L441.8 565.7L444 566.1L446.2 566.5L448.2 566.9L448.2 566.9L448.2 566.9L448.3 566.9L448.3 566.9L448.3 566.9L448.4 566.9L448.4 566.9L448.4 566.8L448.4 566.8L448.5 566.8L448.5 566.8L448.5 566.7L448.5 566.7L448.5 566.7L448.6 566.7L448.6 566.6L448.6 566.6L448.6 566.6L448.6 566.5L448.6 566.5L448.6 566.5L448.5 566.4L448.5 566.4L448.5 566.4L448.5 566.3L448.5 566.3L448.5 566.3L446.4 564.5L446.4 564.5L444.2 562.5L444.2 562.5L442 560.6L442 560.6L439.8 558.7L439.8 558.7L437.6 556.8L437.6 556.8L435.4 554.9L435.4 554.9L433.2 553L433.2 553L430.9 551.1L430.9 551.1L428.6 549.3L428.6 549.2L426.4 547.4L426.4 547.4L424.1 545.6L424.1 545.6L421.8 543.8L421.8 543.8L419.4 542L419.4 542L417.1 540.3L417.1 540.3L414.7 538.6L414.7 538.6L412.3 536.9L412.3 536.9L409.8 535.3L409.8 535.3L407.3 533.8L407.3 533.8L404.8 532.3L404.8 532.3L402.3 530.9L402.3 530.9L399.7 529.5L399.7 529.5L397.1 528.3L397 528.3L394.4 527.1L394.4 527.1L391.7 526L391.7 526L389 525L389 525L386.2 524L386.2 524L383.5 523.1L380.7 522.2L378 521.3L375.3 520.3L372.6 519.3L369.9 518.2L367.2 517.2L364.5 516.1L361.8 514.9L359.1 513.8L356.5 512.7L353.8 511.5L353.8 511.5L351.1 510.4L351.1 510.4L348.4 509.3L348.4 509.3L345.7 508.2L345.7 508.2L343 507.1L343 507.1L340.3 506.1L340.3 506.1L337.6 505.1L337.6 505.1L334.9 504.1L334.8 504.1L332.1 503.3L332.1 503.2L329.3 502.4L329.3 502.4L326.5 501.6L326.5 501.6L323.7 500.9L323.7 500.9L320.9 500.2L320.9 500.2L318.1 499.5L318.1 499.5L315.3 498.8L315.3 498.8L312.5 498.2L309.7 497.6L306.8 496.9L304 496.2L302.8 495.9L302.8 495.9L302.8 495.9L302.7 495.9L302.7 495.9L302.7 495.9L302.6 496L302.6 496L302.6 496L302.5 496L302.5 496L302.5 496.1L302.5 496.1L302.4 496.1L302.4 496.1L302.4 496.2L302.4 496.2L302.4 496.2L302.4 496.3L302.4 496.3L302.4 496.3Z"/></clipPath><clipPath id="secf"><path d="M300.1 477.7L303.5 476L306.9 474.4L310.3 472.8L313.7 471.3L317.1 469.9L320.6 468.5L324 467.2L327.4 465.9L330.9 464.7L334.4 463.5L337.8 462.4L341.3 461.3L344.8 460.3L348.2 459.4L351.7 458.5L355.2 457.7L358.7 456.9L362.2 456.2L365.7 455.5L369.2 454.9L372.7 454.4L376.2 453.9L379.7 453.5L383.2 453.1L386.7 452.8L390.2 452.5L393.7 452.3L397.2 452.2L400.7 452.1L404.2 452.1L407.8 452.1L411.3 452.2L414.8 452.3L418.3 452.5L421.8 452.8L425.3 453.1L428.8 453.5L432.3 453.9L435.8 454.4L439.3 454.9L442.8 455.5L446.3 456.2L449.8 456.9L453.3 457.7L456.8 458.5L460.3 459.4L463.7 460.3L467.2 461.3L470.7 462.4L474.1 463.5L477.6 464.7L481.1 465.9L484.5 467.2L487.9 468.5L491.4 469.9L494.8 471.3L498.2 472.8L501.6 474.4L505 476L508.4 477.7L485.9 634.6L483.2 633.2L480.6 632L477.9 630.8L475.2 629.6L472.5 628.5L469.8 627.4L467.1 626.3L464.4 625.3L461.7 624.4L459 623.4L456.3 622.6L453.6 621.7L450.9 621L448.2 620.2L445.4 619.5L442.7 618.9L440 618.3L437.2 617.7L434.5 617.2L431.7 616.7L429 616.3L426.3 615.9L423.5 615.6L420.8 615.3L418 615.1L415.3 614.9L412.5 614.7L409.8 614.6L407 614.5L404.2 614.5L401.5 614.5L398.7 614.6L396 614.7L393.2 614.9L390.5 615.1L387.7 615.3L385 615.6L382.2 615.9L379.5 616.3L376.8 616.7L374 617.2L371.3 617.7L368.5 618.3L365.8 618.9L363.1 619.5L360.3 620.2L357.6 621L354.9 621.7L352.2 622.6L349.5 623.4L346.8 624.4L344.1 625.3L341.4 626.3L338.7 627.4L336 628.5L333.3 629.6L330.6 630.8L327.9 632L325.3 633.2L322.6 634.6Z"/></clipPath></defs><g><g clip-path="url(#bxa)"><g clip-path="url(#caband)"><path d="M104.6 19.3L104.6 19.3L101 19.8L101 19.8L97.5 20.3L97.5 20.3L94 20.9L93.9 20.9L90.4 21.6L90.4 21.6L86.9 22.3L86.8 22.3L83.3 23L83.3 23.1L79.8 23.9L79.8 23.9L76.3 24.7L76.2 24.7L72.8 25.7L72.7 25.7L69.2 26.6L69.2 26.7L65.7 27.7L65.7 27.7L62.2 28.8L62.2 28.8L58.7 29.9L58.7 29.9L55.2 31.1L55.2 31.1L51.7 32.4L51.7 32.4L48.2 33.7L48.2 33.7L44.8 35.1L44.7 35.1L41.3 36.5L41.3 36.5L37.8 38L37.8 38L34.4 39.5L34.4 39.5L30.9 41.1L30.9 41.1L27.5 42.8L27.3 42.9L27.1 43L26.9 43.2L26.7 43.3L26.6 43.5L26.4 43.7L26.3 44L26.2 44.2L26.2 44.4L26.1 44.7L26.1 44.9L26.1 45.1L26.1 45.4L28.8 63.4L28.8 63.7L28.9 63.9L29 64.2L29.1 64.4L29.2 64.6L29.4 64.8L29.6 64.9L29.8 65.1L30 65.2L30.2 65.4L30.4 65.4L30.7 65.5L31.9 65.8L31.9 65.8L34.7 66.5L34.8 66.5L37.6 67.1L37.6 67.1L40.4 67.7L43.2 68.4L46.1 69L48.9 69.7L51.6 70.3L54.4 71.1L57.2 71.8L59.9 72.6L62.6 73.5L65.3 74.4L68 75.4L70.7 76.4L73.4 77.4L76.1 78.4L78.7 79.5L81.4 80.6L84.1 81.7L86.8 82.8L86.8 82.8L89.5 83.9L89.5 83.9L92.2 85L92.2 85L94.9 86.1L94.9 86.1L97.6 87.2L97.6 87.2L100.3 88.2L100.3 88.2L103 89.2L103.1 89.2L105.8 90.2L105.9 90.2L108.6 91.1L108.6 91.1L111.4 92L114.1 92.9L116.8 93.8L119.5 94.7L122.1 95.8L124.7 96.9L127.3 98.1L129.8 99.4L132.3 100.8L134.8 102.2L137.2 103.7L139.6 105.2L142 106.8L144.4 108.4L146.7 110.1L149 111.8L151.3 113.5L153.6 115.3L155.8 117.1L158.1 118.9L160.3 120.7L162.6 122.5L164.8 124.4L167 126.2L169.2 128.1L171.4 130L173.6 131.9L175.7 133.8L175.9 133.9L176.1 134L176.3 134.1L176.6 134.2L176.8 134.3L177 134.3L177.2 134.4L177.5 134.4L177.7 134.3L177.9 134.3L195.7 130.1L211.5 127.9L226.1 126.6L226.3 126.5L226.6 126.5L226.8 126.4L227 126.3L227.2 126.2L227.4 126.1L227.6 125.9L227.7 125.7L227.9 125.5L228 125.3L228.1 125.1L228.2 124.9L228.3 124.7L228.3 124.5L228.8 121.1L228.9 120.9L228.9 120.6L228.8 120.4L228.8 120.1L228.7 119.9L228.6 119.7L228.5 119.5L228.4 119.3L228.2 119.1L227.2 117.9L227.2 117.9L225.2 115.8L225.2 115.8L223.3 113.7L223.2 113.7L221.3 111.6L221.3 111.6L219.3 109.6L219.3 109.6L217.3 107.5L215.3 105.5L213.4 103.4L211.4 101.3L209.5 99.3L207.6 97.1L205.7 95L205.7 95L203.7 92.9L203.7 92.9L201.7 90.8L201.7 90.8L199.7 88.8L199.7 88.7L197.6 86.7L197.6 86.7L195.5 84.8L195.5 84.7L193.4 82.8L191.3 80.9L189.3 78.9L187.2 77L185.2 75L183.2 72.9L183.2 72.9L181.1 70.9L181.1 70.9L179 69L179 68.9L176.9 67L176.8 67L174.6 65.1L174.6 65.1L172.4 63.3L172.3 63.3L170 61.5L170 61.5L167.7 59.8L167.7 59.8L165.3 58.2L165.3 58.2L163 56.5L160.7 54.9L158.4 53.2L156.2 51.5L153.9 49.8L153.9 49.8L151.6 48.1L151.6 48.1L149.3 46.4L149.3 46.4L146.9 44.7L146.9 44.7L144.6 43.1L144.6 43L142.2 41.4L142.2 41.4L139.8 39.8L139.8 39.8L137.4 38.3L137.3 38.2L134.9 36.7L134.9 36.7L132.4 35.3L132.4 35.2L129.9 33.8L129.9 33.8L127.4 32.4L127.4 32.4L124.9 31.1L124.9 31.1L122.3 29.7L119.9 28.4L117.4 27L115 25.6L112.6 24.2L110.4 22.7L108.3 21L107.2 19.9L107 19.8L106.8 19.6L106.6 19.5L106.4 19.4L106.2 19.3L105.9 19.3L105.7 19.2L105.4 19.2L105.2 19.3Z" fill="#12beb9"/><path d="M204.4 128.9L203.9 125.9L204.2 122.9L206.8 116.1L208.8 109.3L209.8 107.7L213.7 103.8L199.7 88.7L179 69L172.4 63.3L142.2 41.4L132.4 35.3L112.6 24.2L106.6 19.5L105.4 19.2L101 19.8L86.9 22.3L65.7 27.7L55.2 31.1L41.3 36.5L27.5 42.8L26.3 44L26.1 45.4L28.8 63.4L29.2 64.6L30.2 65.4L51.6 70.3L62.6 73.5L73.4 77.4L100.3 88.2L116.8 93.8L124.7 96.9L134.8 102.2L146.7 110.1L158.1 118.9L176.6 134.2L177.9 134.3L195.7 130.1Z" fill="#2fc5a2" stroke="#0a0a0a" stroke-width="0.5" stroke-linejoin="round"/><path d="M28.7 63.1L33.6 63.8L38 63L39.5 63.2L41.5 64.3L44.5 67.3L47.3 69.3L53.7 70.9L58.9 70.9L66.4 74.5L73.9 75.5L75.4 76.1L81.3 80L90.3 82.1L94.8 85.7L97.8 87.2L103.7 88.6L106.1 90.3L119.5 94.7L127.3 98.1L137.2 103.7L146.7 110.1L160.3 120.7L175.7 133.8L177 134.3L186.5 132.3L181.4 125.4L181 124.4L181 122.9L182.8 115.3L183 112.3L182.5 107.8L179.7 101.8L178.9 98.8L178.9 95.8L179.9 93.3L181.4 92.6L182.9 92.6L185.9 93.6L190.4 96.4L194.8 96.9L199.6 95.8L201 94.3L201.5 92.8L201.6 90.7L199.7 88.8L179 69L172.3 63.3L139.8 39.8L132.4 35.2L115 25.6L105.9 19.3L97.5 20.3L86.8 22.3L65.7 27.7L44.8 35.1L27.3 42.9L26.3 44L26.1 45.1ZM204 106.3L205.3 107.2L206.8 107.2L207.7 106.3L206.8 103.6L205.3 103L204.8 103.3L203.8 104.8Z" fill="#48cb86" stroke="#0a0a0a" stroke-width="0.5" stroke-linejoin="round"/><path d="M180.2 133.8L179.8 128.9L178.4 121.9L176.3 115.3L173.9 111L162.8 95.8L153 89.1L150.9 86.8L149 83.8L148.2 80.8L148.6 76.3L149.9 73.3L153.7 67.3L154 65.8L153.9 64.3L152.2 62.8L148.3 61.3L145.6 59.7L142.6 57.1L138.1 51.9L129.1 47.8L126.1 45.4L123.2 42.3L120.2 41.1L112.7 40L109.7 38.2L108 35.8L107.1 31.2L107.5 29.7L108.2 29L111.8 26.7L112.8 24.3L106.8 19.6L104.6 19.3L90.4 21.6L79.8 23.9L65.7 27.7L44.7 35.1L30.9 41.1L27.3 42.9L26.4 43.7L26.1 45.1L26.5 48.4L30.2 53.8L31.6 55.3L33.6 56.3L35 56.1L39.5 52.5L42.5 52.3L44.6 53.8L47 58.3L48.5 60.1L50 61L51.5 61.3L58.9 60.8L61.9 62.1L64.9 64.6L66.4 65.4L75.4 66.7L78.4 68.4L81.3 70.8L90.3 72.9L91.8 73.6L96.3 76.9L97.8 77.4L105.2 78.9L111.2 82.3L112.7 82.7L118.7 83.1L121.7 83.9L123.2 84.8L126.8 88.3L129 91.3L130.4 95.8L130.6 99.8L139.6 105.2L149 111.8L162.6 122.5L175.9 133.9L177.7 134.3Z" fill="#71cd64" stroke="#0a0a0a" stroke-width="0.5" stroke-linejoin="round"/><path d="M174.1 132.4L176.9 127.6L177.3 125.9L176.9 124.6L175.4 122.5L168 115.6L163.5 113.1L157.5 111.5L154.5 111.7L151.6 113.8Z" fill="#9fc942" stroke="#0a0a0a" stroke-width="0.5" stroke-linejoin="round"/></g><g clip-path="url(#caU)"><path d="M193.4 25.7L193.3 25.7L189.9 24.7L189.8 24.7L186.3 23.9L186.3 23.9L182.8 23.1L182.8 23L179.3 22.3L179.2 22.3L175.7 21.6L175.7 21.6L172.2 20.9L172.1 20.9L168.6 20.3L168.6 20.3L165.1 19.8L165.1 19.8L161.5 19.3L161.5 19.3L158 18.9L157.9 18.9L154.4 18.5L154.4 18.5L150.9 18.2L150.8 18.2L147.3 18L147.3 18L143.8 17.8L143.7 17.8L140.2 17.6L140.2 17.6L136.6 17.5L136.6 17.5L133.1 17.5L133 17.5L129.5 17.5L129.5 17.5L125.9 17.6L125.9 17.6L122.4 17.8L122.3 17.8L118.8 18L118.8 18L115.3 18.2L115.2 18.2L111.7 18.5L111.7 18.5L108.2 18.9L108.1 18.9L105.3 19.2L105.1 19.3L104.9 19.3L104.6 19.4L104.4 19.5L104.2 19.7L104 19.8L103.8 20L103.7 20.2L103.5 20.4L103.4 20.6L103.3 20.8L103.2 21L103.2 21.3L103.2 21.5L103.2 21.8L103.2 22L103.2 22.3L103.3 22.5L103.4 22.7L103.5 23L103.6 23.2L103.8 23.4L103.9 23.5L105 24.6L105.2 24.7L107.4 26.5L107.6 26.6L109.9 28.2L110 28.3L112.5 29.8L112.5 29.8L115 31.3L115 31.3L117.5 32.7L117.5 32.7L120 34L120.1 34.1L122.6 35.4L125.1 36.7L127.5 38.1L130 39.5L132.4 40.9L134.8 42.4L137.1 43.9L139.5 45.5L141.8 47.1L144.1 48.7L146.4 50.3L148.7 52L151 53.7L153.3 55.4L153.3 55.4L155.6 57.1L155.6 57.1L157.9 58.8L157.9 58.8L160.2 60.5L160.2 60.5L162.5 62.2L164.9 63.8L167.1 65.5L169.4 67.1L171.5 68.9L173.6 70.7L175.7 72.5L177.8 74.5L179.8 76.4L181.8 78.4L183.8 80.4L183.9 80.5L185.9 82.5L185.9 82.5L188 84.4L188 84.5L190.1 86.4L190.1 86.4L192.2 88.3L194.3 90.3L196.3 92.2L198.2 94.2L200.2 96.3L202.1 98.3L204 100.5L205.9 102.6L205.9 102.6L207.9 104.7L207.9 104.7L209.9 106.8L209.9 106.8L211.8 108.8L211.8 108.8L213.8 110.9L215.8 113L217.8 115L219.7 117.1L221.7 119.1L223.6 121.2L224.6 122.3L224.7 122.5L224.9 122.6L225.1 122.8L225.3 122.9L225.6 123L225.8 123L226 123.1L226.3 123.1L226.5 123.1L226.8 123.1L227 123L227.2 123L227.5 122.9L227.7 122.7L227.9 122.6L228.1 122.5L228.2 122.3L228.4 122.1L228.5 121.9L228.6 121.7L228.7 121.4L228.8 121.2L228.8 121L237.1 65.2L237.1 65L237.1 64.7L237.1 64.5L237 64.3L237 64L236.9 63.8L236.8 63.6L236.6 63.4L236.5 63.2L236.4 63.1L236.4 63.1L234.6 61L234.6 61L232.8 59L232.8 59L231 57L231 57L229.2 55L229.2 55L227.4 53.1L227.3 53.1L225.5 51.2L225.4 51.1L223.5 49.3L223.5 49.2L221.6 47.4L221.6 47.4L219.6 45.6L219.6 45.5L217.6 43.8L217.6 43.7L215.6 42L215.5 42L213.5 40.2L213.5 40.2L211.4 38.5L211.4 38.5L209.4 36.8L209.4 36.8L207.3 35.1L207.3 35.1L205.2 33.5L203.1 31.8L201.1 30.1L199 28.5L197.2 27L197 26.8L196.8 26.7L196.5 26.6L196.3 26.5Z" fill="#347afd"/><path d="M235.5 76L231.9 73.1L226.1 65.6L209.2 49.3L201.7 43.4L198.7 37.5L197.2 35.8L195.8 35L191.3 33.8L189.3 32.5L188.7 31L188.7 29.5L190.6 24.9L179.3 22.3L168.6 20.3L154.4 18.5L143.7 17.8L129.5 17.5L115.3 18.2L105.1 19.3L104 19.8L103.3 20.8L103.2 22L103.6 23.2L107.6 26.6L112.5 29.8L130 39.5L137.1 43.9L171.5 68.9L196.3 92.2L224.6 122.3L226 123.1L227.9 122.6L228.8 121Z" fill="#2d8cf3" stroke="#0a0a0a" stroke-width="0.5" stroke-linejoin="round"/><path d="M233.6 88.5L231.1 85.1L225.6 79.5L219.6 70.3L212.2 64.4L205.5 56.6L200.2 53L197.2 50.4L195 47.6L192.7 43L190.8 41.5L186.8 39.6L184.1 37L183.3 34L184.7 28L184.3 23.4L172.2 20.9L161.5 19.3L150.9 18.2L140.2 17.6L129.5 17.5L115.2 18.2L105.1 19.3L103.4 20.6L103.2 22L103.6 23.2L107.6 26.6L112.5 29.8L130 39.5L137.1 43.9L171.5 68.9L196.3 92.2L224.6 122.3L225.8 123L227.7 122.7L228.8 121.2Z" fill="#259ce7" stroke="#0a0a0a" stroke-width="0.5" stroke-linejoin="round"/><path d="M230.8 107.8L228.2 107.6L228 103.1L227 100.1L224.9 97.1L220.6 92.6L217 85.1L213.7 80L210 76.1L189.9 58.1L182.7 49.1L177.4 43L175.7 40L174.8 37L174.4 29.5L173.8 26.5L170.8 20.7L150.9 18.2L133.1 17.5L122.3 17.8L111.7 18.5L105.1 19.3L103.5 20.4L103.2 21.8L103.6 23.2L107.6 26.6L112.5 29.8L130 39.5L137.1 43.9L171.5 68.9L196.3 92.2L224.6 122.3L225.8 123L227.7 122.7L228.8 121.2Z" fill="#1caadf" stroke="#0a0a0a" stroke-width="0.5" stroke-linejoin="round"/><path d="M229.7 114.9L225.6 112.9L223.2 110.6L222.1 107.6L222.1 104.6L221.7 103.1L214.1 95.6L206.2 84.6L197.9 79.1L189.8 72.8L184.2 67.1L173.3 57.1L165.9 51.2L161.3 44.6L151.9 25L149.5 21L147.1 18L133.1 17.5L122.3 17.8L105.3 19.2L103.7 20.2L103.2 21.5L103.5 23L107.6 26.6L112.5 29.8L130 39.5L137.1 43.9L171.5 68.9L196.3 92.2L224.6 122.3L225.6 123L227.5 122.9L228.7 121.4Z" fill="#05b6ce" stroke="#0a0a0a" stroke-width="0.5" stroke-linejoin="round"/></g><g clip-path="url(#caK)"><path d="M240 45.4L240 45.1L240 44.9L240 44.7L239.9 44.4L239.9 44.2L239.8 44L239.7 43.7L239.5 43.5L239.4 43.3L239.2 43.2L239 43L238.8 42.9L238.6 42.8L235.2 41.1L235.2 41.1L231.7 39.5L231.7 39.5L228.3 38L228.3 38L224.8 36.5L224.8 36.5L221.4 35.1L221.3 35.1L217.9 33.7L217.9 33.7L214.4 32.4L214.4 32.4L210.9 31.1L210.9 31.1L207.4 29.9L207.4 29.9L203.9 28.8L203.9 28.8L200.4 27.7L200.4 27.7L196.9 26.7L196.9 26.6L196.6 26.6L196.3 26.5L196.1 26.5L195.9 26.5L195.6 26.5L195.4 26.5L195.2 26.6L194.9 26.7L194.7 26.8L194.5 26.9L194.3 27.1L194.1 27.2L194 27.4L193.8 27.6L193.7 27.8L193.6 28L193.5 28.3L193.5 28.5L193.4 28.7L193.4 29L193.4 29.2L193.5 29.5L193.5 29.7L193.6 29.9L193.7 30.2L193.8 30.4L194 30.6L194.2 30.7L194.3 30.9L195.9 32.2L196 32.3L198 33.9L198 34L200.1 35.6L200.1 35.6L202.2 37.3L204.3 39L206.3 40.6L208.4 42.3L210.4 44L212.4 45.7L214.4 47.4L216.3 49.2L218.3 51L220.2 52.8L222 54.6L223.9 56.5L225.7 58.4L227.4 60.3L229.2 62.3L230.9 64.3L232.7 66.3L232.7 66.3L232.9 66.5L233.1 66.7L233.3 66.8L233.5 66.9L233.7 67L234 67.1L234.2 67.2L234.5 67.2L234.7 67.2L235 67.2L235.2 67.1L235.4 67.1L235.7 67L235.9 66.9L236.1 66.7L236.3 66.6L236.5 66.4L236.6 66.2L236.8 66L236.9 65.8L237 65.5L237 65.3L237.1 65.1Z" fill="#48cb86"/></g><g clip-path="url(#cabot)"><path d="M48.7 198.6L48.7 198.9L48.8 199.1L48.9 199.3L49 199.5L49.2 199.7L49.3 199.9L49.5 200.1L49.7 200.3L49.9 200.4L50.1 200.5L50.3 200.6L50.6 200.7L50.8 200.7L51 200.8L51.3 200.8L51.5 200.7L51.8 200.7L52 200.6L52.2 200.5L54.9 199.2L57.5 198L60.2 196.8L62.8 195.7L65.5 194.6L68.2 193.6L70.8 192.5L73.5 191.6L76.2 190.7L78.9 189.8L81.5 188.9L84.2 188.1L86.9 187.4L89.6 186.7L92.3 186L95 185.4L97.7 184.8L100.4 184.3L103.2 183.8L105.9 183.3L108.6 182.9L111.3 182.5L114 182.2L116.7 181.9L119.4 181.7L122.2 181.5L124.9 181.4L127.6 181.2L130.3 181.2L133.1 181.2L135.8 181.2L138.5 181.2L141.2 181.4L143.9 181.5L146.7 181.7L149.4 181.9L152.1 182.2L154.8 182.5L157.5 182.9L160.2 183.3L162.9 183.8L165.7 184.3L168.4 184.8L171.1 185.4L173.8 186L176.5 186.7L179.2 187.4L181.9 188.1L184.6 188.9L187.2 189.8L189.9 190.7L192.6 191.6L195.3 192.5L197.9 193.6L200.6 194.6L203.3 195.7L205.9 196.8L208.6 198L211.2 199.2L213.9 200.5L214.1 200.6L214.3 200.7L214.6 200.7L214.8 200.8L215.1 200.8L215.3 200.7L215.5 200.7L215.8 200.6L216 200.5L216.2 200.4L216.4 200.3L216.6 200.1L216.8 199.9L216.9 199.7L217.1 199.5L217.2 199.3L217.3 199.1L217.4 198.9L217.4 198.6L228.3 124.6L228.3 124.3L228.3 124.1L228.3 123.8L228.3 123.6L228.2 123.3L228.1 123.1L228 122.9L227.8 122.7L227.7 122.5L227.5 122.3L227.3 122.2L227.1 122L226.8 121.9L226.6 121.8L226.4 121.8L226.1 121.7L225.9 121.7L225.6 121.7L211 123.1L210.9 123.1L195 125.3L194.7 125.3L177.3 129.4L177.3 129.4L177.3 129.4L175.6 129.1L175.6 129.1L173.4 128.7L173.4 128.7L171.2 128.3L171.1 128.3L168.9 128L168.9 128L166.7 127.6L166.7 127.6L164.5 127.3L164.4 127.3L162.2 126.9L162.2 126.9L160 126.6L160 126.6L157.7 126.4L157.7 126.4L155.5 126.1L155.5 126.1L153.2 125.9L153.2 125.9L151 125.7L150.9 125.7L148.7 125.5L148.7 125.5L146.5 125.4L146.4 125.4L144.2 125.2L144.2 125.2L141.9 125.1L141.9 125.1L139.7 125L139.6 125L137.4 125L137.4 125L135.1 125L135.1 125L132.9 125L132.8 125L130.6 125L130.6 125L128.3 125.1L128.3 125.1L126.1 125.1L126 125.1L123.8 125.2L123.8 125.2L121.5 125.4L121.5 125.4L119.3 125.5L119.3 125.5L117 125.6L117 125.6L114.8 125.8L114.8 125.8L112.5 126L112.5 126L110.3 126.2L110.3 126.2L108 126.4L108 126.4L105.8 126.7L105.7 126.7L103.5 127L103.4 127L101.2 127.3L101.2 127.4L99 127.8L98.9 127.8L96.7 128.3L96.6 128.3L94.5 128.9L94.4 128.9L92.3 129.5L92.2 129.5L90.7 129.9L89.4 129.5L87.3 128.9L85.2 128.2L83.2 127.6L81.1 127L79.1 126.4L77 125.7L75 125.1L72.9 124.4L72.9 124.4L70.8 123.8L70.8 123.8L68.8 123.2L68.7 123.2L66.7 122.5L66.6 122.5L64.6 122L64.5 122L62.4 121.4L62.4 121.4L60.3 120.9L60.2 120.9L58.1 120.5L58.1 120.5L55.9 120.1L55.9 120.1L53.8 119.7L53.7 119.7L51.6 119.4L51.6 119.4L49.5 119.1L49.4 119.1L47.3 118.8L45.2 118.6L43.1 118.3L41 117.9L40.1 117.8L39.8 117.8L39.6 117.8L39.3 117.8L39.1 117.8L38.9 117.9L38.6 118L38.4 118.1L38.2 118.2L38 118.4L37.8 118.6L37.7 118.8L37.5 119L37.4 119.2L37.3 119.4L37.3 119.6L37.2 119.9L37.2 120.1L37.2 120.4L37.2 120.6Z" fill="#4755f6"/><path d="M54.9 199.2L55.2 195.8L56.4 192.8L58.1 190.9L59.6 190L67 187.1L74.5 182L77.5 180.5L80.5 180L82 180.3L85.2 182.3L92.4 175.6L95.4 173.7L100.3 171.8L104.4 168.1L107.4 166.3L111.8 165.1L116.3 165L125.3 162.8L138.7 162.6L143.2 163.1L149.2 164.9L155.2 164.9L159.6 166.3L162.6 168.3L165.6 171.9L170.1 172.9L174.6 175.6L180.6 181.7L182 181.7L183.5 180.4L185 180L186.5 180L189.5 180.9L198.5 187.2L207.4 190.9L208.9 192.5L209.7 194.3L209.6 198.5L214.1 200.6L216 200.5L216.9 199.7L217.4 198.6L228.3 124.6L228.1 123.1L227.3 122.2L225.9 121.7L210.9 123.1L194.7 125.3L177.3 129.4L164.4 127.3L153.2 125.9L141.9 125.1L132.9 125L119.3 125.5L105.8 126.7L98.9 127.8L90.7 129.9L60.3 120.9L40.1 117.8L38.6 118L37.5 119L37.2 120.6L48.7 198.9L49.7 200.3L51 200.8Z" fill="#4367fd" stroke="#0a0a0a" stroke-width="0.5" stroke-linejoin="round"/><path d="M47.8 192.4L51.6 189.8L53.5 183.8L56.2 179.3L74 159.8L77.5 154.9L81.5 147.8L88 145.7L92.4 143.1L95.4 139.6L98.1 132.8L99.9 131L110.4 127.6L114.8 126.7L126.8 125.2L138.7 125.4L155.2 127.8L168.6 131.9L170.2 134.3L170.9 137.3L172.2 140.3L174.6 143.2L179.1 146.2L182 147.3L185.2 147.8L186.5 149.3L188.4 155.3L190.8 159.8L193.3 162.8L197 166L201.9 173.3L210.4 183.9L213.1 188.3L214.2 192.8L217.7 196.6L228.3 124.6L228.2 123.3L227.3 122.2L225.9 121.7L210.9 123.1L194.7 125.3L177.3 129.4L164.4 127.3L153.2 125.9L141.9 125.1L132.9 125L119.3 125.5L105.8 126.7L98.9 127.8L90.7 129.9L60.3 120.9L51.6 119.4L38.9 117.9L37.5 119L37.2 120.6Z" fill="#347afd" stroke="#0a0a0a" stroke-width="0.5" stroke-linejoin="round"/><path d="M44.7 171.2L58.1 160.2L79 142.2L85 139.7L88 137.6L90.7 134.3L94.1 129L90.7 129.9L66.7 122.5L58.1 120.5L39.8 117.8L38 118.4L37.3 119.4L37.2 120.6ZM171.6 128.5L176.6 135.8L179.1 138.5L182 140.8L188 143.9L190.9 146.3L198.5 156.7L206.8 164.3L212.8 171.8L216.4 177.9L220 180.9L228.3 124.6L227.7 122.5L225.9 121.7L210.9 123.1L194.7 125.3L177.3 129.4Z" fill="#2d8cf3" stroke="#0a0a0a" stroke-width="0.5" stroke-linejoin="round"/><path d="M42.5 156.3L46.1 154.9L58.1 148.4L65.6 145.1L74.2 140.3L81 137.3L84.8 134.3L88.1 129.1L60.3 120.9L40.1 117.8L38.4 118.1L37.4 119.2L37.2 120.6ZM177.3 129.4L180.6 134L183.5 136.8L194.7 143.3L200 148.1L211.1 155.3L219.4 162.3L222.4 164.4L228.3 124.6L228.2 123.3L227.3 122.2L225.6 121.7L211 123.1L195 125.3Z" fill="#259ce7" stroke="#0a0a0a" stroke-width="0.5" stroke-linejoin="round"/><path d="M40.2 140.5L79 134.3L80.9 132.8L82 131.3L83.3 127.7L60.3 120.9L51.6 119.4L38.9 117.9L37.5 119L37.2 120.4ZM181.2 128.5L185 133.4L191 136.7L201.5 139.7L211.9 143.4L220.9 145.9L224.9 147.6L228.3 123.8L227.5 122.3L225.9 121.7L210.9 123.1L195 125.3Z" fill="#1caadf" stroke="#0a0a0a" stroke-width="0.5" stroke-linejoin="round"/><path d="M37.7 118.7L44.6 120.5L62.6 123.8L67 123.9L69.1 123.3L60.3 120.9L51.6 119.4L39.8 117.8L38.6 118ZM185 127.8L186 129.8L187.5 131.3L189.5 132.3L192.5 133L197 133L203 132.2L210.4 133.1L216.4 133L222.4 132.2L227.1 133L228.3 124.1L227.5 122.3L225.6 121.7L210.9 123.1L195 125.3Z" fill="#05b6ce" stroke="#0a0a0a" stroke-width="0.5" stroke-linejoin="round"/></g><g clip-path="url(#caW)"><path d="M37.2 120.5L37.2 120.7L37.3 121L37.4 121.2L37.5 121.4L37.6 121.6L37.8 121.8L38 122L38.1 122.1L38.3 122.3L38.6 122.4L38.8 122.5L39 122.6L39.2 122.6L40.2 122.8L40.2 122.8L42.4 123.1L42.4 123.1L44.5 123.4L44.5 123.4L46.7 123.7L46.7 123.7L48.8 124L50.9 124.3L53 124.6L55.1 124.9L57.2 125.3L59.2 125.7L61.3 126.2L63.3 126.7L65.3 127.2L67.4 127.8L69.4 128.5L71.5 129.1L73.5 129.8L73.5 129.8L75.6 130.4L75.6 130.4L77.6 131L77.6 131.1L79.7 131.7L79.7 131.7L81.8 132.3L81.8 132.3L83.8 132.9L83.9 132.9L85.9 133.5L85.9 133.5L88 134.2L90 134.8L90.3 134.8L90.5 134.9L90.7 134.9L91 134.9L91.2 134.8L91.4 134.8L93.5 134.2L95.7 133.6L97.8 133.1L99.9 132.6L102 132.2L104.2 131.8L106.3 131.5L108.5 131.3L110.7 131.1L112.9 130.9L115.2 130.7L117.4 130.5L119.6 130.4L121.8 130.2L124 130.1L126.2 130L128.5 129.9L130.7 129.9L132.9 129.9L135.1 129.9L137.3 129.9L139.5 129.9L141.7 130L143.9 130.1L146.1 130.2L148.3 130.4L150.6 130.6L152.8 130.8L155 131L157.2 131.2L159.4 131.5L161.6 131.8L163.8 132.1L165.9 132.4L168.1 132.8L170.3 133.2L172.5 133.5L174.7 133.9L176.7 134.3L177 134.3L177.2 134.3L177.4 134.3L177.7 134.3L177.9 134.2L178.1 134.1L178.3 134L178.5 133.9L178.7 133.8L178.9 133.6L179.1 133.4L179.2 133.2L179.3 133L179.4 132.8L179.5 132.6L179.6 132.3L179.6 132.1L179.6 131.9L179.6 131.6L179.6 131.4L179.5 131.1L179.5 130.9L179.4 130.7L179.2 130.5L179.1 130.3L179 130.1L178.8 129.9L176.8 128.2L176.7 128.2L174.6 126.3L174.5 126.3L172.3 124.4L172.3 124.4L170.1 122.5L170.1 122.5L167.9 120.6L167.9 120.6L165.6 118.7L165.6 118.7L163.4 116.9L163.4 116.9L161.1 115.1L161.1 115.1L158.8 113.2L158.8 113.2L156.6 111.4L156.5 111.4L154.2 109.7L154.2 109.6L151.9 107.9L151.9 107.9L149.6 106.1L149.5 106.1L147.2 104.4L147.1 104.4L144.7 102.8L144.7 102.7L142.3 101.1L142.2 101.1L139.8 99.5L139.8 99.5L137.3 98L137.2 98L134.7 96.5L134.6 96.5L132.1 95.1L132 95.1L129.4 93.7L129.4 93.7L126.7 92.5L126.7 92.4L124 91.3L123.9 91.3L121.3 90.2L121.2 90.2L118.5 89.2L118.4 89.2L115.6 88.2L115.6 88.2L112.9 87.4L110.1 86.5L107.4 85.6L104.7 84.6L102 83.6L99.3 82.6L96.6 81.6L94 80.5L91.3 79.4L88.6 78.3L85.9 77.2L83.3 76.1L83.2 76.1L80.6 75L80.5 75L77.9 73.9L77.8 73.9L75.1 72.8L75.1 72.8L72.4 71.8L72.4 71.8L69.7 70.8L69.6 70.8L66.9 69.8L66.9 69.8L64.1 68.8L64.1 68.8L61.3 67.9L61.3 67.9L58.5 67.1L58.5 67.1L55.7 66.3L55.6 66.3L52.8 65.6L52.8 65.6L50 64.9L50 64.9L47.2 64.2L47.1 64.2L44.3 63.6L44.3 63.6L41.5 63L38.6 62.3L35.8 61.7L33 61.1L31.8 60.8L31.6 60.7L31.3 60.7L31.1 60.7L30.9 60.7L30.6 60.8L30.4 60.9L30.2 61L30 61.1L29.8 61.2L29.6 61.4L29.4 61.5L29.2 61.7L29.1 61.9L29 62.1L28.9 62.4L28.8 62.6L28.8 62.8L28.8 63.1L28.8 63.3L28.8 63.6Z" fill="#1caadf"/><path d="M37.2 120.7L38 122L39 122.6L55.1 124.9L61.3 126.2L90.5 134.9L99.9 132.6L106.3 131.5L128.5 129.9L139.5 129.9L152.8 130.8L163.8 132.1L177 134.3L178.7 133.8L179.6 132.1L179.5 130.9L178.8 129.9L165.6 118.7L154.2 109.6L142.2 101.1L129.4 93.7L121.3 90.2L102 83.6L75.1 72.8L64.1 68.8L52.8 65.6L31.1 60.7L29.4 61.5L28.8 63.6ZM60.1 90.2L63.1 89.9L67.6 90.9L70.6 92.3L76.6 96.1L84 97.5L90 100.3L94.5 101.9L98.4 104.3L101.9 107.4L103.9 110.3L104.1 113.3L103.8 116.3L102.9 119.3L101.9 120.9L99 123.6L97.5 124.4L94.5 125L90 124.1L85.5 121.8L82.5 120.8L79.5 121.2L73.6 124.4L69.1 125.5L64.6 125L60.1 122.5L57.1 119.1L52.6 111.8L51.4 108.8L50.7 104.3L51.1 99.7L52.9 95.2L55.6 92.1L57.1 91.2Z" fill="#05b6ce" stroke="#0a0a0a" stroke-width="0.5" stroke-linejoin="round"/><path d="M116.5 88.5L113.9 93.4L113.3 96.7L113.4 99.7L115.6 105.8L116.1 108.8L115.5 113.3L112.7 119.3L112.6 120.8L114.7 130.7L128.5 129.9L141.7 130L159.4 131.5L177 134.3L178.1 134.1L179.2 133.2L179.6 131.4L178.8 129.9L161.1 115.1L147.1 104.4L137.3 98L129.4 93.7L118.4 89.2Z" fill="#12beb9" stroke="#0a0a0a" stroke-width="0.5" stroke-linejoin="round"/></g><g clip-path="url(#seca)"><g clip-path="url(#caU)"><path d="M108.8 24.5L118.8 30.6L129 36.1L138.9 42.2L148.5 48.8L157.8 55.8L167.3 62.6L176.4 69.9L184.8 78L193.2 86L201.5 94.2L209.4 102.8L217.5 111.2L225.5 119.7L232.1 113.6L223.9 104.9L216 96.6L208 88L199.3 79.3L191.1 71.5L182.4 63.2L172.6 55.3L163.1 48.5L153.8 41.6L143.9 34.7L133.4 28.3L123.1 22.7L114.2 17.3Z" fill="url(#dt1)"/></g><g clip-path="url(#caU)"><path d="M114.2 17.3L117.3 19.3L120.9 21.5L124.7 23.6L128.7 25.7L132.8 27.9L136.9 30.3L141 32.8L145 35.4L148.9 38.1L152.7 40.8L156.4 43.5L160.1 46.2L163.6 48.9L169.5 40.8L166 38.2L162.4 35.5L158.5 32.7L154.6 29.9L150.5 27L146.3 24.3L142 21.7L137.6 19.2L133.4 16.9L129.4 14.8L125.8 12.7L122.5 10.8L120.1 9.3Z" fill="url(#dt1)"/></g><g clip-path="url(#caU)"><path d="M190.6 71.1L193.8 74.2L196.9 77.1L200.3 80.3L203.7 83.5L207.1 87L210.3 90.4L213.4 93.8L216.4 97L219.5 100.3L222.6 103.5L225.7 106.8L228.9 110.2L232.1 113.6L239.4 106.8L236.2 103.3L232.9 99.9L229.7 96.6L226.6 93.3L223.6 90.2L220.7 87L217.6 83.6L214.4 80.1L210.7 76.4L207.1 72.9L203.7 69.8L200.6 66.9L197.6 63.9Z" fill="url(#dt1)"/></g><g clip-path="url(#caU)"><path d="M175.4 19.8L181.3 44.8L203.2 69.9L217.2 81.9L204.2 87.9L231.1 124.9L244.1 99.9L244.1 19.8Z" fill="url(#dt1)"/></g><g clip-path="url(#caU)"><path d="M186.2 35.2L189.9 38.3L193.7 41.4L197.4 44.4L201 47.4L204.6 50.3L208 53.2L211.3 56.2L214.5 59.2L217.7 62.4L220.7 65.6L223.7 69L226.7 72.5L229.8 76L238.1 68.9L235.1 65.3L232 61.7L228.8 58.2L225.5 54.7L222.2 51.3L218.7 48.1L215.2 44.9L211.6 41.8L207.9 38.8L204.2 35.8L200.5 32.8L196.8 29.8L193.2 26.8Z" fill="url(#dt1)"/></g><g clip-path="url(#caband)"><path d="M27.3 62.2L39.6 65.1L51.9 67.9L64.1 71.4L75.9 75.8L87.6 80.5L99.3 85.2L111.3 89.4L123.2 93.6L134.5 99.2L145.1 106L155.3 113.5L165.1 121.5L174.8 129.7L179.6 124L169.9 115.7L159.9 107.6L149.4 99.8L138.2 92.7L126 86.7L113.5 82.3L102 78.2L90.4 73.6L78.7 68.8L66.4 64.3L53.7 60.6L41.2 57.7L29.1 54.9Z" fill="url(#dt1)" opacity="0.9"/></g><g clip-path="url(#caband)"><path d="M34 56.1L45.5 58.7L57.3 61.5L69.2 65.2L80.5 69.5L91.5 74L102.3 78.4L113.1 82.1L124.8 86.2L136.3 91.6L147 98.2L157 105.4L166.5 112.9L175.7 120.6L180.6 114.9L171.2 107L161.5 99.4L151.1 91.9L139.9 85L127.6 79.2L115.4 75L105 71.3L94.4 67.1L83.3 62.6L71.6 58.1L59.2 54.3L47.1 51.3L35.7 48.8Z" fill="url(#dt2)" opacity="0.6"/></g><g clip-path="url(#caband)"><path d="M103.5 31.8L114.5 38.5L124.6 44L134 49.7L143.2 56.1L152.6 63.1L162.1 69.9L170.4 76.6L178.5 84.4L187.2 92.6L195 100.4L202.9 108.9L211 117.4L218.9 125.8L225.5 119.7L217.5 111.2L209.4 102.8L201.5 94.2L193.2 86L184.8 78L176.4 69.9L167.3 62.6L157.8 55.8L148.5 48.8L138.9 42.2L129 36.1L118.8 30.6L108.8 24.5Z" fill="url(#dt1)" opacity="0.85"/></g><g clip-path="url(#caband)"><path d="M107.1 44.7L116.6 49.8L124.7 54.5L132.6 59.6L140.4 65.3L148.9 71.6L157.3 77.6L164 82.9L170.9 89.5L178.7 97L185.7 103.6L192.3 110.6L199.6 118.5L206.8 126L213.2 119.8L206.1 112.3L198.9 104.6L192 97.3L184.8 90.4L177.1 83L169.9 76.1L162.6 70.3L154.2 64.3L145.8 58L137.6 52.1L129.4 46.8L120.8 41.9L111.5 36.8Z" fill="url(#dt3)" opacity="0.6"/></g><g clip-path="url(#caband)"><path d="M59.9 59.8L109.7 33.8L149.5 51.8L189.3 83.9L214.2 107.9L189.3 111.9L149.5 91.9L99.7 69.9Z" fill="url(#dt3)" opacity="0.55"/></g><g clip-path="url(#caband)"><path d="M26 43.8L51.9 35.8L61.9 51.8L47.9 67.9L28 65.8Z" fill="url(#dt2)" opacity="0.8"/></g><g clip-path="url(#caband)"><path d="M177.4 131.9L189.3 107.9L225.1 112.9L227.1 119.9L199.3 123.9Z" fill="url(#dt2)" opacity="0.75"/></g><g clip-path="url(#caW)"><path d="M20.1 76.9L26.7 78.5L33.3 80.1L39.8 81.5L45.9 82.9L51.8 84.4L57.5 86.1L63.1 88L68.9 90.2L74.8 92.6L80.8 95.1L87 97.6L93.4 100.1L100 102.5L105.3 87.4L99.1 85.1L93 82.7L86.9 80.2L80.8 77.7L74.7 75.3L68.5 73L62.3 70.8L56 69L49.6 67.3L43.2 65.9L36.8 64.4L30.4 62.9L24 61.3Z" fill="url(#dt2)" opacity="0.85"/></g><g clip-path="url(#caW)"><path d="M15.7 94.3L21.4 95.8L27.2 97.2L32.8 98.4L38.1 99.6L42.9 100.7L47.3 101.9L51.4 103L55.6 104.4L60 106.1L64.6 107.9L69.5 109.8L74.5 111.9L79.8 114.1L86.5 97.4L81.3 95.3L76.2 93.2L71.2 91.1L66.3 89.2L61.5 87.4L56.8 85.9L52.1 84.5L47.2 83.2L42 82L36.7 80.8L31.2 79.6L25.6 78.3L20.1 76.9Z" fill="url(#dt3)" opacity="0.6"/></g><g clip-path="url(#caW)"><path d="M30 118.4L34.7 119.3L39.4 120.2L44.2 120.9L49 121.5L53.7 122.2L58.4 123L63.1 124.1L67.8 125.4L72.3 126.8L76.9 128.3L81.5 129.7L86.1 131.1L90.7 132.4L94.7 119L90.1 117.6L85.5 116.3L81 114.9L76.5 113.5L71.7 112L66.6 110.5L61.2 109.3L55.8 108.3L50.8 107.6L46.1 107L41.7 106.3L37.3 105.5L32.7 104.7Z" fill="url(#dt2)" opacity="0.6"/></g><g clip-path="url(#caW)"><path d="M111.6 95.9L139.5 106.9L177.4 131.9L149.5 128.4L117.6 127.9Z" fill="url(#dt3)" opacity="0.45"/></g><g clip-path="url(#cabot)"><path d="M77.8 130.9L109.7 130.9L117.6 145.9L95.7 158L73.8 145.9Z" fill="url(#dt2)" opacity="0.85"/></g><g clip-path="url(#cabot)"><path d="M177.4 131.9L226.1 119.9L225.1 149.9L213.2 172L189.3 158L173.4 141.9Z" fill="url(#dt2)" opacity="0.75"/></g><g clip-path="url(#caK)"><path d="M199.3 23.8L239.1 39.8L239.1 75.9L224.2 57.8Z" fill="url(#dt3)" opacity="0.5"/></g><path d="M90.7 132.4L93.7 131.6L96.8 130.8L99.8 130.1L102.9 129.6L106 129.1L109.1 128.8L112.2 128.5L115.3 128.2L118.4 128L121.5 127.8L124.6 127.6L127.7 127.5L130.9 127.4L134 127.4L137.1 127.4L140.2 127.5L143.3 127.6L146.4 127.8L149.6 128L152.7 128.3L155.8 128.6L158.9 129L162 129.4L165.1 129.8L168.1 130.3L171.2 130.8L174.3 131.4L177.4 131.9" stroke="#07131c" stroke-width="2.2" fill="none"/><path d="M32.3 63.4L35.3 64.1L38.3 64.8L41.4 65.4L44.4 66.1L47.4 66.8L50.4 67.5L53.4 68.3L56.4 69.1L59.4 69.9L62.3 70.8L65.3 71.8L68.2 72.8L71.1 73.9L74 75L76.8 76.1L79.7 77.3L82.6 78.5L85.4 79.6L88.3 80.8L91.1 82L94 83.1L96.9 84.3L99.8 85.4L102.7 86.5L105.6 87.5L108.5 88.5L111.4 89.5L114.4 90.4L117.3 91.4L120.2 92.4L123.1 93.6L125.9 94.8L128.7 96.1L131.5 97.5L134.2 99L136.9 100.6L139.5 102.2L142.1 103.9L144.7 105.7L147.2 107.4L149.7 109.3L152.2 111.1L154.6 113L157 114.9L159.5 116.9L161.9 118.8L164.3 120.8L166.6 122.7L169 124.7L171.4 126.8L173.7 128.8L176.1 130.8" stroke="#111" stroke-width="0.9" fill="none"/><path d="M31 64.1h1.4M31.7 63.4v1.4M33.6 65h1.6M34.4 64.2v1.6M39.8 65.8h1.6M40.6 65v1.6M42.4 66.7h1.8M43.3 65.8v1.8M48.7 68.2h1.6M49.5 67.4v1.6M51.5 69.1h1.5M52.2 68.4v1.5M60 70.4h1.7M60.9 69.5v1.7M67 72.2h1.8M67.9 71.4v1.8M74.8 75.2h1.6M75.6 74.4v1.6M77.5 76.1h1.4M78.3 75.4v1.4M82.6 78.6h1.4M83.3 77.9v1.4M85.2 79.5h1.7M86 78.7v1.7M89.5 82.2h1.7M90.4 81.3v1.7M92.3 83.1h1.6M93.1 82.3v1.6M99.5 85h1.5M100.3 84.2v1.5M102.2 85.9h1.6M103 85.1v1.6M109.8 90h1.4M110.5 89.3v1.4M116.2 91.9h1.6M117 91.1v1.6M118.8 92.8h1.7M119.7 91.9v1.7M122.6 93.3h1.4M123.2 92.6v1.4M125.2 94.2h1.4M125.9 93.4v1.4M129 96.5h1.6M129.9 95.6v1.6M131.8 97.4h1.4M132.6 96.6v1.4M137.4 102.5h1.5M138.2 101.7v1.5M140.1 103.4h1.5M140.9 102.6v1.5M148.4 107.7h1.5M149.2 106.9v1.5M154.3 113.5h1.4M155 112.8v1.4M156.8 114.4h1.7M157.7 113.5v1.7M161 120.2h1.4M161.7 119.5v1.4M163.6 121.1h1.6M164.4 120.4v1.6M167.2 125h1.4M167.9 124.3v1.4M169.8 125.9h1.6M170.6 125.1v1.6" stroke="#030303" stroke-width="1.95" fill="none" stroke-linecap="round"/><path d="M33.1 67.1h0M28.6 64.9h0M38.2 63.9h0M29.8 66.6h0M30.1 62.6h0M42 70.2h0M38.5 66.8h0M37.5 65.6h0M43.7 68.9h0M45.4 68.3h0M50.7 65.1h0M53.2 66h0M48.5 71.2h0M46.7 70.2h0M49.9 65.6h0M62.4 68.2h0M65.2 70.2h0M62.4 67.4h0M64.7 71.6h0M63.3 72.7h0M63.9 71.7h0M64.5 73.8h0M71.2 71.1h0M65.4 74.7h0M67.1 69.1h0M77.2 78.5h0M72.9 73h0M75.3 72h0M72.1 76.7h0M77 72.6h0M83.6 81.8h0M83 76.2h0M86.7 81.3h0M81.9 81.7h0M85 82.1h0M91.1 79.1h0M91.9 85.1h0M87.9 85.3h0M96.9 83.4h0M94.5 79.8h0M100.8 81.3h0M98.1 83.3h0M100.9 82.2h0M106.5 86.6h0M98.8 83.7h0M115.9 90h0M110.8 86.7h0M111 93.8h0M114.1 89.3h0M113.2 93.1h0M118.6 88.6h0M119.6 95.4h0M117.8 95.5h0M113.3 93.5h0M122.1 91.9h0M122.6 90.9h0M129.5 92.1h0M125.5 90.9h0M120.3 91.8h0M122.4 97h0M130.9 100.4h0M133.1 99.4h0M135 97.6h0M133.5 100.7h0M129.2 93.6h0M142.6 103.6h0M135.7 101.9h0M141.6 106.2h0M135.4 103.1h0M138.9 100.1h0M151.4 110.3h0M152 105.6h0M149.2 111h0M153.5 105.6h0M152.7 107.5h0M151.8 113.8h0M153 112.4h0M160.3 111.3h0M153.2 114.6h0M159.7 113.4h0M164.6 118.6h0M160.6 117.5h0M161.4 123.5h0M161.3 123.9h0M166.4 122.5h0M165.1 126.7h0M174 123.5h0M169 122.4h0M169 122.6h0M172.2 122.8h0" stroke="#050505" stroke-width="1.2" stroke-linecap="round" fill="none"/><path d="M110.2 25.5L112.8 27.2L115.5 28.8L118.2 30.3L121 31.8L123.7 33.2L126.4 34.7L129.2 36.2L131.9 37.8L134.5 39.4L137.2 41L139.8 42.7L142.4 44.5L144.9 46.3L147.4 48.1L149.9 49.9L152.4 51.8L154.9 53.6L157.4 55.5L160 57.3L162.5 59.1L165 60.9L167.6 62.8L170.1 64.6L172.5 66.5L174.9 68.5L177.2 70.6L179.5 72.8L181.7 74.9L183.9 77.1L186.2 79.3L188.4 81.5L190.7 83.6L193 85.7L195.3 87.8L197.5 90L199.7 92.2L201.8 94.5L203.9 96.8L206 99.1L208.2 101.4L210.3 103.7L212.4 105.9L214.6 108.2L216.7 110.4L218.9 112.7L221 114.9L223.2 117.2" stroke="#111" stroke-width="0.8" fill="none"/><path d="M109.1 26h2.6M110.5 24.7v2.6M112 26.9h2.3M113.2 25.8v2.3M121.7 33.1h2.1M122.8 32v2.1M124.2 34h2.6M125.5 32.7v2.6M133.7 39.7h2.1M134.8 38.6v2.1M136.3 40.6h2.4M137.5 39.4v2.4M144 47.6h2.4M145.2 46.4v2.4M146.7 48.5h2.4M147.9 47.2v2.4M152.8 54.5h2.6M154.1 53.2v2.6M155.6 55.4h2.3M156.8 54.2v2.3M165.7 62.6h2.2M166.8 61.5v2.2M168.4 63.5h2.2M169.5 62.4v2.2M174.7 70.3h2M175.8 69.3v2M177.2 71.2h2.6M178.5 69.9v2.6M181.2 77.1h2.2M182.3 76v2.2M183.8 78h2.4M185 76.8v2.4M188.5 82.8h2.2M189.6 81.7v2.2M191.2 83.7h2.3M192.3 82.5v2.3M199 92.4h2.2M200.1 91.3v2.2M206.2 102h2.3M207.4 100.8v2.3M208.9 102.9h2.3M210.1 101.7v2.3M213.7 109.7h2.2M214.8 108.6v2.2M216.2 110.6h2.5M217.5 109.4v2.5" stroke="#030303" stroke-width="1.95" fill="none" stroke-linecap="round"/><path d="M108.2 23.9h0M113.2 29.7h0M115.4 26.1h0M108 26.8h0M107.1 25.7h0M128.1 34.8h0M123 36.4h0M121 32.8h0M128.9 33h0M122.4 29.6h0M140.1 40.4h0M132 41.8h0M138.8 37.5h0M137.5 37.9h0M139.7 40.8h0M145.3 51.6h0M143.3 45.2h0M144 50.9h0M149.6 45.7h0M151.1 49.2h0M156.7 52.4h0M154.5 57.3h0M150.4 54.6h0M153.3 52.9h0M159.2 56.4h0M167 60.4h0M167.8 65.9h0M168.9 60.6h0M173.4 64.1h0M170.7 60.9h0M173.7 73.4h0M171.8 71.1h0M180.4 72.3h0M179.8 67.7h0M174.9 73.4h0M180.9 76.3h0M187 79h0M188.7 77.7h0M182.6 74.8h0M185.7 75.7h0M186.9 83.5h0M191 87.3h0M190.4 80.8h0M190.3 86.5h0M193.4 86.7h0M197.6 94.1h0M202.6 94.9h0M195.5 92.7h0M196.3 89.5h0M197.4 94.1h0M210.2 99.3h0M211.2 100.3h0M207.1 106.1h0M209.4 105.4h0M204 102.1h0M213.6 108.7h0M216.5 113.2h0M214.8 112.9h0M215.9 113.5h0M211.8 110.8h0" stroke="#050505" stroke-width="1.2" stroke-linecap="round" fill="none"/><path d="M194.4 27.8L196.9 29.9L199.5 32L202.1 34.1L204.7 36.2L207.2 38.2L209.8 40.3L212.3 42.4L214.9 44.6L217.3 46.8L219.8 49L222.2 51.3L224.5 53.7L226.8 56.1L229.1 58.5L231.3 61L233.5 63.5L235.6 66" stroke="#111" stroke-width="1.0" fill="none"/><path d="M193.8 29.5h2.7M195.1 28.2v2.7M200.1 34.5h2.3M201.2 33.4v2.3M202.6 35.4h2.5M203.9 34.2v2.5M209.7 42.9h2.2M210.8 41.8v2.2M212.2 43.8h2.6M213.5 42.5v2.6M219.4 50.4h2.3M220.5 49.3v2.3M222.1 51.3h2.3M223.2 50.2v2.3M225.7 57.6h2.1M226.8 56.6v2.1M228.4 58.5h2.2M229.5 57.4v2.2" stroke="#030303" stroke-width="1.95" fill="none" stroke-linecap="round"/><path d="M196.9 32.7h0M192.5 31.6h0M191.7 26.9h0M194.4 27.2h0M195.9 32.1h0M206.7 33.8h0M201.5 37.4h0M200.2 36.9h0M199 34.2h0M200.9 32h0M209.1 44.7h0M214.8 46h0M215.3 44h0M215.2 44.9h0M212.2 40.8h0M222.4 54.2h0M223.1 53.7h0M219.3 54h0M223.8 53.4h0M224.6 48.6h0M224.4 59.5h0M227.1 55h0M230.1 61.1h0M223.4 58.1h0M226.1 61.9h0" stroke="#050505" stroke-width="1.2" stroke-linecap="round" fill="none"/><path d="M34.3 119.2L37.4 119.8L40.6 120.4L43.7 120.8L46.9 121.2L50.1 121.7L53.2 122.1L56.4 122.6L59.5 123.2L62.6 124L65.7 124.8L68.8 125.7L71.8 126.7L74.9 127.6L77.9 128.6L81 129.5L84 130.4L87.1 131.3L90.1 132.2" stroke="#111" stroke-width="0.8" fill="none"/><path d="M33.2 119h3M34.7 117.5v3M35.7 119.9h3.3M37.4 118.3v3.3M40.8 120.3h2.7M42.2 119v2.7M43.2 121.2h3.2M44.9 119.6v3.2M50.9 121.3h3M52.4 119.9v3M56.5 122.3h2.7M57.9 121v2.7M58.9 123.2h3.3M60.6 121.6v3.3M65.2 124.8h2.9M66.7 123.4v2.9M70.7 126.1h3.2M72.2 124.5v3.2M73.3 127h3.2M74.9 125.4v3.2M77.3 128.8h3.2M78.8 127.3v3.2M80 129.7h3.1M81.5 128.2v3.1M86.6 131h2.7M88 129.6v2.7M89.3 131.9h2.6M90.7 130.6v2.6" stroke="#030303" stroke-width="1.95" fill="none" stroke-linecap="round"/><path d="M37.8 122.5h0M35.1 122.7h0M31.9 119.7h0M32.7 116.3h0M39.9 118.6h0M48.1 119.8h0M44.3 123.9h0M42.9 116.6h0M45.6 118.1h0M45.9 124.5h0M52.6 123.8h0M51.5 117.2h0M52.2 125h0M48.1 121h0M49.3 119.8h0M58.3 125.6h0M55.5 123.3h0M62.4 125.4h0M55.9 124.2h0M63 122.5h0M63.3 126h0M66.7 121.5h0M65.5 128h0M68.9 122.2h0M62.6 122.9h0M77.7 127.5h0M77.2 127.2h0M69.8 127.8h0M77 129.5h0M78 127h0M76.8 131.2h0M81.3 132.3h0M75.2 129.5h0M84.4 130.6h0M84.2 128.1h0M93.3 130h0M93.9 132.1h0M90.5 133.9h0M91.8 128.8h0M88.7 128.8h0" stroke="#050505" stroke-width="1.2" stroke-linecap="round" fill="none"/><path d="M87 134.1h3.2M88.6 132.5v3.2M88.2 134.2h3.2M89.8 132.6v3.2M91.2 133h3.2M92.8 131.4v3.2M89.5 130.6h3.2M91.1 129v3.2M178.5 133.6h3.2M180.1 132v3.2M174.8 130.2h3.2M176.4 128.6v3.2M175.3 133h3.2M176.9 131.4v3.2M178 131h3.2M179.6 129.4v3.2" stroke="#030303" stroke-width="1.8" fill="none" stroke-linecap="round"/></g></g><rect x="29.5" y="21.8" width="207.1" height="176.2" fill="none" stroke="#777" stroke-width="0.6"/><text x="45.2" y="208.3" font-size="7.1" text-anchor="middle" fill="#2c2c2c" font-family="Liberation Sans, Arial, sans-serif">−0.015</text><text x="73.9" y="208.3" font-size="7.1" text-anchor="middle" fill="#2c2c2c" font-family="Liberation Sans, Arial, sans-serif">−0.01</text><text x="102.7" y="208.3" font-size="7.1" text-anchor="middle" fill="#2c2c2c" font-family="Liberation Sans, Arial, sans-serif">−0.005</text><text x="132.8" y="208.3" font-size="7.1" text-anchor="middle" fill="#2c2c2c" font-family="Liberation Sans, Arial, sans-serif">0</text><text x="161.5" y="208.3" font-size="7.1" text-anchor="middle" fill="#2c2c2c" font-family="Liberation Sans, Arial, sans-serif">0.005</text><text x="190.3" y="208.3" font-size="7.1" text-anchor="middle" fill="#2c2c2c" font-family="Liberation Sans, Arial, sans-serif">0.01</text><text x="219" y="208.3" font-size="7.1" text-anchor="middle" fill="#2c2c2c" font-family="Liberation Sans, Arial, sans-serif">0.015</text><text x="26" y="191.6" font-size="7.1" text-anchor="end" fill="#2c2c2c" font-family="Liberation Sans, Arial, sans-serif">54</text><text x="26" y="170.7" font-size="7.1" text-anchor="end" fill="#2c2c2c" font-family="Liberation Sans, Arial, sans-serif">56</text><text x="26" y="149.8" font-size="7.1" text-anchor="end" fill="#2c2c2c" font-family="Liberation Sans, Arial, sans-serif">58</text><text x="26" y="128.9" font-size="7.1" text-anchor="end" fill="#2c2c2c" font-family="Liberation Sans, Arial, sans-serif">60</text><text x="26" y="108" font-size="7.1" text-anchor="end" fill="#2c2c2c" font-family="Liberation Sans, Arial, sans-serif">62</text><text x="26" y="87" font-size="7.1" text-anchor="end" fill="#2c2c2c" font-family="Liberation Sans, Arial, sans-serif">64</text><text x="26" y="66.1" font-size="7.1" text-anchor="end" fill="#2c2c2c" font-family="Liberation Sans, Arial, sans-serif">66</text><text x="26" y="45.2" font-size="7.1" text-anchor="end" fill="#2c2c2c" font-family="Liberation Sans, Arial, sans-serif">68</text><path d="M46.8 198v-2M46.8 21.8v2M75.5 198v-2M75.5 21.8v2M104.3 198v-2M104.3 21.8v2M133.1 198v-2M133.1 21.8v2M161.8 198v-2M161.8 21.8v2M190.6 198v-2M190.6 21.8v2M219.3 198v-2M219.3 21.8v2M29.5 189.1h2M236.6 189.1h-2M29.5 168.2h2M236.6 168.2h-2M29.5 147.3h2M236.6 147.3h-2M29.5 126.4h2M236.6 126.4h-2M29.5 105.5h2M236.6 105.5h-2M29.5 84.5h2M236.6 84.5h-2M29.5 63.6h2M236.6 63.6h-2M29.5 42.7h2M236.6 42.7h-2" stroke="#777" stroke-width="0.6" fill="none"/><text x="133.9" y="217.7" font-size="8" text-anchor="middle" fill="#2c2c2c" font-family="Liberation Sans, Arial, sans-serif">Coordniate/θ</text><text transform="translate(13.3 109.9) rotate(-90)" font-size="7.7" text-anchor="middle" fill="#2c2c2c" font-family="Liberation Sans, Arial, sans-serif">Radius/mm</text><text x="137.6" y="233" font-size="12.5" text-anchor="middle" fill="#111" font-family="Liberation Serif, Times New Roman, serif">T = 300 K</text><rect x="243" y="21.8" width="11.4" height="176.2" fill="url(#pg)" stroke="#777" stroke-width="0.5"/><text x="257" y="29.9" font-size="6.7" fill="#2c2c2c" font-family="Liberation Sans, Arial, sans-serif">40</text><text x="257" y="49.5" font-size="6.7" fill="#2c2c2c" font-family="Liberation Sans, Arial, sans-serif">20</text><text x="257" y="69.2" font-size="6.7" fill="#2c2c2c" font-family="Liberation Sans, Arial, sans-serif">0</text><text x="257" y="88.8" font-size="6.7" fill="#2c2c2c" font-family="Liberation Sans, Arial, sans-serif">−20</text><text x="257" y="108.4" font-size="6.7" fill="#2c2c2c" font-family="Liberation Sans, Arial, sans-serif">−40</text><text x="257" y="128.1" font-size="6.7" fill="#2c2c2c" font-family="Liberation Sans, Arial, sans-serif">−60</text><text x="257" y="147.7" font-size="6.7" fill="#2c2c2c" font-family="Liberation Sans, Arial, sans-serif">−80</text><text x="257" y="167.3" font-size="6.7" fill="#2c2c2c" font-family="Liberation Sans, Arial, sans-serif">−100</text><text x="257" y="186.9" font-size="6.7" fill="#2c2c2c" font-family="Liberation Sans, Arial, sans-serif">−120</text><path d="M254.4 27.7h-2M254.4 47.3h-2M254.4 67h-2M254.4 86.6h-2M254.4 106.2h-2M254.4 125.9h-2M254.4 145.5h-2M254.4 165.1h-2M254.4 184.7h-2" stroke="#555" stroke-width="0.6" fill="none"/></g><g><g clip-path="url(#bxb)"><g clip-path="url(#cbband)"><path d="M375.7 19.2L375.6 19.2L372.1 19.7L372.1 19.7L368.6 20.2L368.5 20.2L365 20.8L365 20.8L361.5 21.5L361.4 21.5L357.9 22.2L357.9 22.2L354.4 22.9L354.3 23L350.8 23.8L350.8 23.8L347.3 24.6L347.3 24.6L343.8 25.6L343.7 25.6L340.2 26.5L340.2 26.6L336.7 27.6L336.7 27.6L333.2 28.7L333.2 28.7L329.7 29.8L329.6 29.8L326.2 31L326.1 31.1L322.7 32.3L322.6 32.3L319.2 33.6L319.2 33.6L315.7 35L315.7 35L312.2 36.4L312.2 36.4L308.8 37.9L308.7 37.9L305.3 39.4L305.3 39.5L301.8 41L301.8 41L298.4 42.7L298.2 42.8L298 42.9L297.8 43.1L297.6 43.3L297.5 43.4L297.3 43.7L297.2 43.9L297.1 44.1L297 44.3L297 44.6L297 44.8L297 45.1L297 45.3L299.7 63.4L299.7 63.6L299.8 63.9L299.9 64.1L300 64.3L300.1 64.5L300.3 64.7L300.5 64.9L300.7 65L300.9 65.2L301.1 65.3L301.3 65.4L301.6 65.4L302.8 65.7L302.8 65.7L305.7 66.4L305.7 66.4L308.5 67L308.5 67L311.3 67.7L314.2 68.3L317 68.9L319.8 69.6L322.6 70.3L325.4 71L328.1 71.7L330.9 72.5L333.6 73.4L336.3 74.3L339 75.3L341.7 76.3L344.4 77.3L347.1 78.4L349.7 79.5L352.4 80.6L355.1 81.7L357.8 82.8L357.8 82.8L360.5 83.9L360.5 83.9L363.2 85L363.2 85L365.9 86.1L365.9 86.1L368.6 87.1L368.7 87.1L371.4 88.2L371.4 88.2L374.1 89.2L374.2 89.2L376.9 90.1L376.9 90.1L379.7 91.1L379.7 91.1L382.5 92L385.2 92.8L388 93.7L390.6 94.7L393.2 95.7L395.8 96.9L398.4 98.1L400.9 99.4L403.5 100.7L405.9 102.1L408.4 103.6L410.8 105.2L413.2 106.7L415.5 108.4L417.9 110L420.2 111.7L422.5 113.5L424.8 115.2L427 117L429.3 118.8L431.5 120.6L433.8 122.5L436 124.3L438.2 126.2L440.4 128.1L442.6 129.9L444.8 131.8L447 133.7L447.2 133.9L447.4 134L447.6 134.1L447.8 134.2L448 134.3L448.3 134.3L448.5 134.3L448.7 134.3L449 134.3L449.2 134.3L467 130.1L482.8 127.9L497.5 126.5L497.7 126.5L497.9 126.5L498.2 126.4L498.4 126.3L498.6 126.2L498.8 126L499 125.9L499.1 125.7L499.3 125.5L499.4 125.3L499.5 125.1L499.6 124.9L499.7 124.6L499.7 124.4L500.2 121.1L500.2 120.8L500.2 120.6L500.2 120.3L500.2 120.1L500.1 119.9L500 119.6L499.9 119.4L499.7 119.2L499.6 119L498.5 117.9L498.5 117.9L496.6 115.8L496.6 115.8L494.6 113.7L494.6 113.7L492.6 111.6L492.6 111.6L490.7 109.5L490.7 109.5L488.7 107.5L486.7 105.4L484.7 103.3L482.8 101.3L480.8 99.2L478.9 97.1L477 95L477 95L475 92.9L475 92.9L473.1 90.8L473 90.7L471 88.7L471 88.7L468.9 86.7L468.9 86.6L466.8 84.7L466.8 84.7L464.7 82.7L462.6 80.8L460.6 78.9L458.5 76.9L456.5 74.9L454.5 72.9L454.4 72.9L452.4 70.9L452.4 70.8L450.3 68.9L450.2 68.9L448.1 66.9L448.1 66.9L445.9 65.1L445.8 65L443.6 63.2L443.6 63.2L441.3 61.5L441.2 61.4L438.9 59.8L438.9 59.7L436.6 58.1L436.6 58.1L434.2 56.4L431.9 54.8L429.6 53.1L427.4 51.4L425.1 49.7L425.1 49.7L422.8 48L422.8 48L420.5 46.3L420.4 46.3L418.1 44.6L418.1 44.6L415.8 43L415.7 42.9L413.4 41.3L413.3 41.3L411 39.7L410.9 39.7L408.5 38.2L408.5 38.1L406.1 36.6L406 36.6L403.6 35.2L403.5 35.1L401.1 33.7L401 33.7L398.5 32.4L398.5 32.3L396 31L396 31L393.5 29.6L391 28.3L388.5 26.9L386.1 25.5L383.7 24.1L381.5 22.6L379.4 20.9L378.3 19.8L378.1 19.7L377.9 19.5L377.7 19.4L377.5 19.3L377.2 19.2L377 19.2L376.8 19.1L376.5 19.1L376.3 19.2Z" fill="#48cb86"/><path d="M480.4 128.2L476.1 122.8L474.8 119.8L474.8 118.3L480.7 106.3L483.6 102.2L475 92.9L452.4 70.8L443.6 63.2L413.3 41.3L403.6 35.2L383.7 24.1L377.7 19.4L376.5 19.1L372.1 19.7L357.9 22.2L336.7 27.6L326.1 31.1L312.2 36.4L298.4 42.7L297.2 43.9L297 45.3L299.7 63.4L300.9 65.2L322.6 70.3L333.6 73.4L344.4 77.3L371.4 88.2L388 93.7L395.8 96.9L405.9 102.1L417.9 110L431.5 120.6L447.6 134.1L449.2 134.3L467 130.1Z" fill="#71cd64" stroke="#0a0a0a" stroke-width="0.5" stroke-linejoin="round"/><path d="M464.5 130.7L459.8 122.8L459.8 119.8L460.9 116.8L461.9 115.3L463.4 113.8L469.1 109.7L470.4 107.8L471.1 104.8L472.1 89.8L450.2 68.9L441.3 61.5L411 39.7L403.5 35.1L386.1 25.5L381.5 22.6L377.7 19.4L376.5 19.1L372.1 19.7L357.9 22.2L336.7 27.6L326.1 31.1L312.2 36.4L298.4 42.7L297.2 43.9L297 45.3L299.7 63.4L300.1 64.5L301.1 65.3L322.6 70.3L333.6 73.4L344.4 77.3L371.4 88.2L388 93.7L395.8 96.9L405.9 102.1L417.9 110L429.3 118.8L447.8 134.2L449.2 134.3Z" fill="#9fc942" stroke="#0a0a0a" stroke-width="0.5" stroke-linejoin="round"/><path d="M456.2 132.6L453.9 124.3L450.4 115.3L449.7 112.3L450.2 107.8L453.9 98.8L453.2 97.3L448.2 93L445.4 89.8L444.5 88.3L443.5 85.2L443.8 82.2L444.5 80.7L445.6 79.2L450.7 74.7L452.6 71.1L443.6 63.2L415.7 42.9L403.6 35.2L383.7 24.1L377.7 19.4L376.5 19.1L372.1 19.7L357.9 22.2L336.7 27.6L315.7 35L301.8 41L298.2 42.8L297.3 43.7L297 45.3L299.7 63.4L300.9 65.2L322.6 70.3L333.6 73.4L344.4 77.3L371.4 88.2L393.2 95.7L403.5 100.7L415.5 108.4L429.3 118.8L447.4 134L449 134.3Z" fill="#c8c129" stroke="#0a0a0a" stroke-width="0.5" stroke-linejoin="round"/><path d="M344.9 25.3L349.4 35.8L350.9 36.6L377.8 40.5L386.8 41.3L395.8 43.9L398.8 44.2L401.8 43.8L403.3 43.2L405.3 41.7L408.5 38.1L386.1 25.5L377 19.2L365 20.8L350.8 23.8ZM447.6 134.1L448.5 130.3L448.7 127.3L448.3 125.8L447.2 124.3L445.2 123L440.7 121.2L438.5 119.8L437.1 118.3L434.7 113.2L433.2 111.3L430.2 109.6L425.7 108.2L422.7 106.7L421.2 105.2L418.2 100.9L415.2 98.6L406.3 94.9L398.8 90.5L391.3 87L386.8 85.8L380.8 85.1L377.8 83.8L373.2 80.7L370.3 79.4L368.8 79.1L364.3 79.3L361.4 78.5L353.9 72.4L350.9 71.7L346.4 72.3L343.4 71.8L340.9 70.2L337.4 66.5L335.9 65.5L332.9 64.9L328.4 65.9L325.4 66.1L322.4 64.9L318 61.2L316.4 60.6L313.4 60.9L309 62.1L306 61.9L303 60.3L298.5 55.1L299.7 63.6L301.1 65.3L322.6 70.3L336.3 74.3L371.4 88.2L390.6 94.7L400.9 99.4L408.4 103.6L417.9 110L431.5 120.6L447.2 133.9Z" fill="#eaba31" stroke="#0a0a0a" stroke-width="0.5" stroke-linejoin="round"/></g><g clip-path="url(#cbU)"><path d="M464.7 25.6L464.6 25.6L461.1 24.6L461.1 24.6L457.6 23.8L457.6 23.8L454.1 23L454 22.9L450.5 22.2L450.5 22.2L447 21.5L446.9 21.5L443.4 20.8L443.4 20.8L439.9 20.2L439.8 20.2L436.3 19.7L436.3 19.7L432.8 19.2L432.7 19.2L429.2 18.8L429.2 18.8L425.6 18.4L425.6 18.4L422.1 18.1L422 18.1L418.5 17.9L418.5 17.9L414.9 17.7L414.9 17.7L411.4 17.5L411.3 17.5L407.8 17.4L407.8 17.4L404.2 17.4L404.2 17.4L400.6 17.4L400.6 17.4L397.1 17.5L397 17.5L393.5 17.7L393.5 17.7L389.9 17.9L389.9 17.9L386.4 18.1L386.3 18.1L382.8 18.4L382.8 18.4L379.2 18.8L379.2 18.8L376.4 19.1L376.2 19.2L376 19.2L375.7 19.3L375.5 19.4L375.3 19.6L375.1 19.7L374.9 19.9L374.8 20.1L374.6 20.3L374.5 20.5L374.4 20.7L374.3 20.9L374.3 21.2L374.2 21.4L374.2 21.7L374.2 21.9L374.3 22.2L374.4 22.4L374.4 22.6L374.6 22.9L374.7 23.1L374.8 23.3L375 23.4L376.1 24.5L376.3 24.6L378.5 26.4L378.7 26.5L381 28.2L381.1 28.2L383.6 29.7L383.6 29.7L386.1 31.2L386.1 31.2L388.6 32.6L388.7 32.6L391.2 34L391.2 34L393.7 35.3L396.2 36.6L398.7 38L401.1 39.4L403.5 40.8L405.9 42.3L408.3 43.8L410.6 45.4L413 47L415.3 48.6L417.6 50.3L419.9 51.9L422.2 53.6L424.5 55.3L424.5 55.4L426.8 57.1L426.8 57.1L429.1 58.7L429.1 58.8L431.4 60.4L431.4 60.4L433.8 62.1L436.1 63.7L438.4 65.4L440.6 67.1L442.8 68.8L444.9 70.6L447 72.5L449 74.4L451 76.4L453.1 78.4L455.1 80.4L455.1 80.4L457.2 82.4L457.2 82.4L459.3 84.4L459.3 84.4L461.4 86.3L461.4 86.3L463.5 88.3L465.6 90.2L467.6 92.2L469.5 94.2L471.5 96.2L473.4 98.3L475.3 100.4L477.3 102.5L477.3 102.5L479.2 104.6L479.2 104.6L481.2 106.7L481.2 106.7L483.2 108.8L483.2 108.8L485.2 110.9L487.1 112.9L489.1 115L491.1 117L493 119.1L495 121.2L495.9 122.3L496.1 122.4L496.3 122.6L496.5 122.7L496.7 122.8L496.9 122.9L497.2 123L497.4 123L497.7 123.1L497.9 123.1L498.1 123L498.4 123L498.6 122.9L498.8 122.8L499.1 122.7L499.3 122.6L499.4 122.4L499.6 122.2L499.8 122L499.9 121.8L500 121.6L500.1 121.4L500.2 121.2L500.2 120.9L508.5 65.1L508.5 64.9L508.5 64.7L508.5 64.4L508.4 64.2L508.4 64L508.3 63.8L508.2 63.5L508 63.3L507.9 63.2L507.8 63L507.8 63L506 61L506 60.9L504.2 58.9L504.2 58.9L502.4 56.9L502.4 56.9L500.6 55L500.6 54.9L498.7 53L498.7 53L496.8 51.1L496.8 51L494.9 49.2L494.9 49.2L492.9 47.3L492.9 47.3L491 45.5L490.9 45.5L488.9 43.7L488.9 43.7L486.9 41.9L486.9 41.9L484.9 40.2L484.8 40.1L482.8 38.4L482.8 38.4L480.7 36.7L480.7 36.7L478.6 35.1L478.6 35L476.5 33.4L474.5 31.7L472.4 30.1L470.3 28.4L468.5 26.9L468.3 26.7L468.1 26.6L467.9 26.5L467.6 26.4Z" fill="#259ce7"/><path d="M470 28.9L467.1 29L462.6 30.7L461.1 30.5L459.9 29.4L459.5 27.9L459.7 24.3L439.9 20.2L422 18.1L404.2 17.4L389.9 17.9L376.2 19.2L374.9 19.9L374.2 21.4L374.8 23.3L378.7 26.5L383.6 29.7L401.1 39.4L408.3 43.8L442.8 68.8L467.6 92.2L496.1 122.4L497.2 123L498.4 123L499.6 122.2L500.2 120.9L508.5 65.1L508.4 64L500.6 54.9L491 45.5L471.4 29.3Z" fill="#1caadf" stroke="#0a0a0a" stroke-width="0.5" stroke-linejoin="round"/><path d="M491 45.9L486.5 46.1L483.5 45.7L477.5 44.2L474.5 42.8L473 41.5L470.7 35.4L468.5 33.7L465.6 33.1L461.1 33.6L458.1 33.3L456.6 31.9L455.2 29.4L453.8 22.9L450.5 22.2L439.9 20.2L429.2 18.8L418.5 17.9L407.8 17.4L393.5 17.7L379.2 18.8L375.7 19.3L374.8 20.1L374.3 21.2L374.8 23.3L378.7 26.5L383.6 29.7L401.1 39.4L408.3 43.8L442.8 68.8L467.6 92.2L496.1 122.4L497.9 123.1L499.4 122.4L500.2 120.9L508.5 64.7L507.9 63.2L500.6 55L492.9 47.3Z" fill="#05b6ce" stroke="#0a0a0a" stroke-width="0.5" stroke-linejoin="round"/><path d="M503 57.8L498.5 56.8L492.4 53.5L489.5 52.5L482 51.7L479 50.9L473 47.9L469.6 44.5L468.7 38.5L467.9 37L467.1 36.1L465.6 35.5L464.1 35.6L458.1 36.7L455.1 35.6L453.1 33.9L450.4 29.4L448.5 21.8L429.2 18.8L418.5 17.9L407.8 17.4L393.5 17.7L379.2 18.8L375.7 19.3L374.3 20.9L374.7 23.1L378.7 26.5L383.6 29.7L401.1 39.4L408.3 43.8L442.8 68.8L467.6 92.2L495.9 122.3L497.7 123.1L499.3 122.6L500.2 120.9L508.5 64.9L507.9 63.2Z" fill="#12beb9" stroke="#0a0a0a" stroke-width="0.5" stroke-linejoin="round"/><path d="M507.8 69.8L497 66.6L492.5 64.3L488.4 58L486.5 56.1L485 56L482 56.8L479 56.6L476 55.8L471.5 53.2L468.5 50.5L466.5 47.5L465.4 44.5L464.6 40L464.1 39.5L459.6 40.3L455.1 39.9L451.8 38.5L448.3 35.4L445.3 30.9L444.2 27.9L443.1 23.4L442.1 21.9L440 20.3L422.1 18.1L404.2 17.4L393.5 17.7L379.2 18.8L375.7 19.3L374.4 20.7L374.2 21.9L374.7 23.1L378.7 26.5L383.6 29.7L401.1 39.4L408.3 43.8L442.8 68.8L467.6 92.2L495.9 122.3L497.4 123L499.3 122.6L500.2 120.9Z" fill="#2fc5a2" stroke="#0a0a0a" stroke-width="0.5" stroke-linejoin="round"/><path d="M504.8 90.1L498.5 85L492.6 77.5L483.5 68.9L480.5 66.5L471.5 61.2L467.1 57.6L458.5 47.5L450.6 44L446.4 41.5L441.6 37L433.8 27.9L429.6 24.7L422.5 20.4L417.4 17.8L404.2 17.4L393.5 17.7L379.2 18.8L376 19.2L374.5 20.5L374.2 21.9L374.7 23.1L378.7 26.5L383.6 29.7L401.1 39.4L408.3 43.8L442.8 68.8L467.6 92.2L495.9 122.3L497.2 123L499.1 122.7L500.2 121.2Z" fill="#48cb86" stroke="#0a0a0a" stroke-width="0.5" stroke-linejoin="round"/><path d="M502.6 105.1L479 79.1L464.1 65.4L455.1 56.3L451.7 53.5L440.6 46L428.1 35.3L420.6 29.9L399.4 17.5L379.2 18.8L376 19.2L374.6 20.3L374.2 21.7L374.7 23.1L378.7 26.5L383.6 29.7L401.1 39.4L408.3 43.8L442.8 68.8L467.6 92.2L495.9 122.3L497.2 123L499.1 122.7L500.2 121.2Z" fill="#71cd64" stroke="#0a0a0a" stroke-width="0.5" stroke-linejoin="round"/><path d="M500.5 119.2L499.1 116.6L495.3 113.6L491 109.4L487.1 104.6L483.2 98.6L474.5 90.4L465.6 79.6L456.6 71.6L446.1 60.7L435.6 53.5L426.6 45.7L416.2 38.7L407.2 32L395.2 25.4L385.6 18.9L384.4 18.3L379.2 18.8L376 19.2L374.8 20.1L374.2 21.4L374.6 22.9L378.7 26.5L383.6 29.7L401.1 39.4L408.3 43.8L442.8 68.8L467.6 92.2L496.3 122.6L497.9 123.1L499.6 122.2L500.2 121.2Z" fill="#9fc942" stroke="#0a0a0a" stroke-width="0.5" stroke-linejoin="round"/></g><g clip-path="url(#cbK)"><path d="M511.4 45.3L511.4 45.1L511.4 44.8L511.4 44.6L511.4 44.3L511.3 44.1L511.2 43.9L511.1 43.7L510.9 43.4L510.8 43.3L510.6 43.1L510.4 42.9L510.2 42.8L510 42.7L506.6 41L506.6 41L503.1 39.5L503.1 39.4L499.7 37.9L499.6 37.9L496.2 36.4L496.2 36.4L492.7 35L492.7 35L489.2 33.6L489.2 33.6L485.8 32.3L485.7 32.3L482.3 31.1L482.2 31L478.8 29.8L478.7 29.8L475.2 28.7L475.2 28.7L471.7 27.6L471.7 27.6L468.2 26.6L468.2 26.5L467.9 26.5L467.7 26.4L467.4 26.4L467.2 26.4L466.9 26.4L466.7 26.4L466.5 26.5L466.2 26.6L466 26.7L465.8 26.8L465.6 27L465.4 27.1L465.3 27.3L465.1 27.5L465 27.7L464.9 27.9L464.8 28.2L464.8 28.4L464.7 28.7L464.7 28.9L464.7 29.1L464.8 29.4L464.8 29.6L464.9 29.8L465 30.1L465.1 30.3L465.3 30.5L465.5 30.7L465.6 30.8L467.3 32.2L467.3 32.2L469.3 33.8L469.3 33.9L471.4 35.5L471.4 35.5L473.5 37.2L475.6 38.9L477.6 40.5L479.7 42.2L481.7 43.9L483.7 45.6L485.7 47.3L487.7 49.1L489.6 50.9L491.5 52.7L493.4 54.5L495.2 56.4L497 58.3L498.8 60.2L500.6 62.2L502.3 64.2L504.1 66.2L504.1 66.3L504.3 66.4L504.5 66.6L504.7 66.7L504.9 66.9L505.1 67L505.4 67L505.6 67.1L505.9 67.1L506.1 67.1L506.4 67.1L506.6 67.1L506.8 67L507.1 66.9L507.3 66.8L507.5 66.6L507.7 66.5L507.9 66.3L508 66.1L508.2 65.9L508.3 65.7L508.4 65.5L508.4 65.2L508.5 65Z" fill="#c8c129"/><path d="M500.8 62.4L501.1 54.9L500.9 53.4L499.2 51.4L496.2 49.7L493.7 47.4L489.6 39.9L487.2 38.1L481.2 36.8L478.2 35.3L476.1 32.4L475.1 28.6L467.7 26.4L466.5 26.5L465.4 27.1L464.7 28.9L465.5 30.7L487.7 49.1L495.2 56.4ZM507.7 66.5L505.1 66.8L504.4 66.6L506.1 67.1Z" fill="#eaba31" stroke="#0a0a0a" stroke-width="0.5" stroke-linejoin="round"/></g><g clip-path="url(#cbbot)"><path d="M319.6 198.6L319.7 198.9L319.8 199.1L319.9 199.3L320 199.5L320.1 199.7L320.3 199.9L320.4 200.1L320.6 200.3L320.8 200.4L321 200.5L321.3 200.6L321.5 200.7L321.7 200.7L322 200.8L322.2 200.8L322.5 200.7L322.7 200.7L323 200.6L323.2 200.5L325.8 199.2L328.5 198L331.2 196.8L333.8 195.7L336.5 194.6L339.2 193.6L341.8 192.5L344.5 191.6L347.2 190.7L349.9 189.8L352.6 188.9L355.3 188.1L358 187.4L360.7 186.7L363.4 186L366.1 185.4L368.8 184.8L371.5 184.3L374.2 183.8L376.9 183.3L379.7 182.9L382.4 182.5L385.1 182.2L387.8 181.9L390.6 181.7L393.3 181.5L396 181.3L398.7 181.2L401.5 181.2L404.2 181.1L406.9 181.2L409.7 181.2L412.4 181.3L415.1 181.5L417.8 181.7L420.6 181.9L423.3 182.2L426 182.5L428.7 182.9L431.5 183.3L434.2 183.8L436.9 184.3L439.6 184.8L442.3 185.4L445 186L447.7 186.7L450.4 187.4L453.1 188.1L455.8 188.9L458.5 189.8L461.2 190.7L463.9 191.6L466.6 192.5L469.2 193.6L471.9 194.6L474.6 195.7L477.2 196.8L479.9 198L482.6 199.2L485.2 200.5L485.4 200.6L485.7 200.7L485.9 200.7L486.2 200.8L486.4 200.8L486.7 200.7L486.9 200.7L487.1 200.6L487.4 200.5L487.6 200.4L487.8 200.3L488 200.1L488.1 199.9L488.3 199.7L488.4 199.5L488.5 199.3L488.6 199.1L488.7 198.9L488.8 198.6L499.7 124.5L499.7 124.3L499.7 124L499.7 123.8L499.6 123.5L499.6 123.3L499.5 123.1L499.3 122.8L499.2 122.6L499 122.4L498.9 122.3L498.7 122.1L498.4 122L498.2 121.9L498 121.8L497.7 121.7L497.5 121.7L497.2 121.7L497 121.7L482.3 123L482.2 123.1L466.3 125.3L466 125.3L448.6 129.4L448.5 129.4L448.5 129.4L446.8 129.1L446.8 129.1L444.6 128.7L444.6 128.7L442.4 128.3L442.4 128.3L440.2 127.9L440.2 127.9L437.9 127.6L437.9 127.6L435.7 127.2L435.7 127.2L433.5 126.9L433.4 126.9L431.2 126.6L431.2 126.6L428.9 126.3L428.9 126.3L426.7 126.1L426.7 126.1L424.4 125.9L424.4 125.9L422.2 125.7L422.1 125.6L419.9 125.5L419.9 125.5L417.6 125.3L417.6 125.3L415.4 125.2L415.3 125.2L413.1 125.1L413.1 125.1L410.8 125L410.8 125L408.6 125L408.5 125L406.3 124.9L406.2 124.9L404 124.9L404 124.9L401.7 125L401.7 125L399.5 125L399.4 125L397.2 125.1L397.2 125.1L394.9 125.2L394.9 125.2L392.7 125.3L392.6 125.3L390.4 125.5L390.4 125.5L388.1 125.6L388.1 125.6L385.9 125.8L385.9 125.8L383.6 126L383.6 126L381.4 126.2L381.4 126.2L379.1 126.4L379.1 126.4L376.9 126.6L376.8 126.7L374.6 126.9L374.5 127L372.3 127.3L372.2 127.3L370 127.7L369.9 127.8L367.8 128.3L367.7 128.3L365.5 128.8L365.5 128.8L363.3 129.4L363.3 129.4L361.8 129.8L360.4 129.4L358.3 128.8L356.3 128.2L354.2 127.6L352.1 127L350.1 126.3L348 125.7L346 125.1L343.9 124.4L343.9 124.4L341.8 123.8L341.8 123.8L339.8 123.1L339.7 123.1L337.7 122.5L337.6 122.5L335.5 121.9L335.5 121.9L333.4 121.4L333.4 121.4L331.3 120.9L331.2 120.9L329.1 120.4L329 120.4L326.9 120L326.9 120L324.7 119.7L324.7 119.7L322.6 119.4L322.5 119.4L320.4 119.1L320.4 119.1L318.3 118.8L316.1 118.5L314 118.2L311.9 117.9L311 117.7L310.7 117.7L310.5 117.7L310.3 117.7L310 117.8L309.8 117.9L309.5 117.9L309.3 118.1L309.1 118.2L308.9 118.3L308.8 118.5L308.6 118.7L308.5 118.9L308.3 119.1L308.2 119.4L308.2 119.6L308.1 119.8L308.1 120.1L308.1 120.3L308.1 120.6Z" fill="#4755f6"/><path d="M319.9 199.4L323.1 195.5L329.1 194.7L333.5 193.3L339.5 190.7L347 189.4L356 187.1L361.1 186.6L374.2 183.8L385.1 182.2L396 181.3L406.9 181.2L417.8 181.7L426 182.5L436.9 184.3L445 186L461.2 190.7L474.6 195.7L485.4 200.6L487.4 200.5L488.3 199.7L488.8 198.6L499.7 124.5L499.6 123.3L498.7 122.1L497.2 121.7L482.2 123.1L466 125.3L448.6 129.4L435.7 127.2L424.4 125.9L413.1 125.1L404 124.9L390.4 125.5L376.9 126.6L369.9 127.8L361.8 129.8L331.3 120.9L311 117.7L309.5 117.9L308.5 118.9L308.1 120.6L319.6 198.6Z" fill="#4367fd" stroke="#0a0a0a" stroke-width="0.5" stroke-linejoin="round"/><path d="M318.6 190.2L321.6 189.2L332 184.3L345.5 178.7L363.5 173.6L377 171.1L384.4 170.1L397.9 169L409.9 169.2L417.4 169.9L424.9 171.3L433.8 173.7L441.3 176.3L457.8 184L472.8 193.7L475.7 196.2L485.4 200.6L487.1 200.6L488.3 199.7L488.8 198.6L499.7 124.5L499.6 123.3L498.7 122.1L497.2 121.7L482.2 123.1L466 125.3L448.6 129.4L435.7 127.2L424.4 125.9L413.1 125.1L404 124.9L390.4 125.5L376.9 126.6L369.9 127.8L361.8 129.8L331.3 120.9L322.5 119.4L309.8 117.9L308.5 118.9L308.1 120.6Z" fill="#347afd" stroke="#0a0a0a" stroke-width="0.5" stroke-linejoin="round"/><path d="M317.3 182.4L321.6 180.8L327.1 177.8L342.5 167.5L347 165.1L354.2 162.8L357.5 160.4L362 158.2L365 157.5L371 157.1L375.5 154.7L378.5 153.8L382.9 153.3L387.4 154L391.9 152.5L396.4 151.9L403.9 152.8L409.9 152.1L412.9 152.2L415.9 152.7L420.4 154.4L426.4 153.8L430.9 154.4L432.9 155.3L434.9 156.8L436.3 158.3L436.8 159.7L439.8 155.9L442.4 153.8L445.8 152.3L453.3 150.5L454.8 150.8L456.8 158.3L458 161.3L459.3 162.8L463.7 165.8L464.6 167.3L466.9 174.8L469.8 180.8L475.8 184.1L481.6 188.3L484 191.3L485.9 195.8L489.1 196.6L499.7 124.5L499.6 123.3L498.7 122.1L497.2 121.7L482.2 123.1L466 125.3L448.6 129.4L435.7 127.2L424.4 125.9L413.1 125.1L404 124.9L390.4 125.5L376.9 126.6L369.9 127.8L361.8 129.8L331.3 120.9L322.5 119.4L309.8 117.9L308.5 118.9L308.1 120.6Z" fill="#2d8cf3" stroke="#0a0a0a" stroke-width="0.5" stroke-linejoin="round"/><path d="M428.2 126.2L439.8 130.8L441.7 132.7L445.1 138.8L447.3 140.7L450.3 142.3L457.8 143.6L459.8 144.8L465.3 153.8L466.8 155.4L470.5 158.3L473.3 161.3L478.1 170.3L480.2 173.3L483.3 176.2L491.2 181.9L499.7 124.5L499.6 123.3L498.9 122.3L497 121.7L482.2 123.1L466.3 125.3L448.6 129.4ZM316 174.1L321.6 172L329.1 166.2L333.9 161.3L338.6 155.3L344 152.6L347 150L348.8 147.8L351.5 143.1L357.5 142.9L362 140.7L364 138.8L367.3 132.7L369.5 130L375 126.9L369.9 127.8L361.8 129.8L331.2 120.9L310.7 117.7L308.9 118.3L308.2 119.4L308.1 120.6Z" fill="#259ce7" stroke="#0a0a0a" stroke-width="0.5" stroke-linejoin="round"/><path d="M314.7 164.9L318.6 163.9L320.1 162.9L331.1 153.8L338.6 149.3L347.9 141.8L354.8 138.8L357.4 137.2L360.3 134.2L363.4 129.4L361.8 129.8L331.2 120.9L311 117.7L309.1 118.2L308.3 119.1L308.1 120.6ZM442.6 128.3L447.3 134.6L449.8 137.2L453.3 139.5L459.3 141.9L461.6 143.3L464.7 146.3L469.8 152.4L475.6 156.8L478.7 159.8L487.7 170L489.2 171.2L492.6 172.8L499.7 124.5L499.6 123.3L498.9 122.3L497 121.7L482.2 123.1L466.3 125.3L448.6 129.4Z" fill="#1caadf" stroke="#0a0a0a" stroke-width="0.5" stroke-linejoin="round"/><path d="M313 153.7L317.1 152.9L327.6 147.5L336.5 143.9L344 139.8L351.5 137L355 134.2L358.3 128.8L331.3 120.9L311 117.7L309.3 118.1L308.3 119.1L308.1 120.6ZM447.4 129.2L450.3 133.3L453.3 136.2L456.3 138.1L463.8 141.8L467.7 144.8L471.3 148.2L481.8 154.9L490.7 162.3L493.9 163.8L499.7 124.5L499.6 123.3L498.7 122.1L497 121.7L482.3 123L466.3 125.3L448.6 129.4Z" fill="#05b6ce" stroke="#0a0a0a" stroke-width="0.5" stroke-linejoin="round"/><path d="M311.1 139.6L315.6 139.9L335 136.7L342.5 135.1L350 134.3L351.6 132.7L352.4 131.2L353.4 127.3L331.3 120.9L310 117.8L308.6 118.7L308.1 120.3ZM450.8 128.9L455 134.2L459.3 137.1L467.1 140.3L472.8 143.8L483.3 148.5L492.2 153.3L495.3 154.3L499.7 124.5L499.5 123.1L498.4 122L497 121.7L482.3 123L466.3 125.3Z" fill="#12beb9" stroke="#0a0a0a" stroke-width="0.5" stroke-linejoin="round"/><path d="M453.9 128.2L455.6 131.2L456.9 132.7L460.8 135.1L472.8 138L483.3 141L496.8 143.9L499.7 124L498.9 122.3L497 121.7L482.2 123.1L466.3 125.3Z" fill="#2fc5a2" stroke="#0a0a0a" stroke-width="0.5" stroke-linejoin="round"/><path d="M456.8 127.5L458.8 131.2L460.8 132.4L462.3 132.8L474.3 132.6L484.8 133.5L498.4 133.3L499.7 124L498.9 122.3L497.2 121.7L482.3 123L466 125.3Z" fill="#48cb86" stroke="#0a0a0a" stroke-width="0.5" stroke-linejoin="round"/><path d="M461.7 126.3L461.4 128.2L462.3 128.5L468.3 126.9L474.3 126.9L483.3 124.3L489.2 123.3L495.2 122.9L498.2 121.9L497 121.7L482.2 123.1L466.3 125.3Z" fill="#71cd64" stroke="#0a0a0a" stroke-width="0.5" stroke-linejoin="round"/></g><g clip-path="url(#cbW)"><path d="M308.1 120.5L308.1 120.7L308.2 120.9L308.3 121.2L308.4 121.4L308.6 121.6L308.7 121.8L308.9 121.9L309.1 122.1L309.3 122.2L309.5 122.3L309.7 122.4L309.9 122.5L310.2 122.6L311.1 122.7L311.2 122.7L313.3 123L313.3 123.1L315.5 123.4L315.5 123.4L317.6 123.6L317.6 123.6L319.8 123.9L321.9 124.2L324 124.5L326.1 124.9L328.1 125.2L330.2 125.6L332.2 126.1L334.3 126.6L336.3 127.2L338.4 127.8L340.4 128.4L342.5 129.1L344.5 129.7L344.5 129.7L346.6 130.4L346.6 130.4L348.7 131L348.7 131L350.7 131.6L350.7 131.6L352.8 132.3L352.8 132.3L354.9 132.9L354.9 132.9L357 133.5L357 133.5L359 134.1L361.1 134.7L361.3 134.8L361.5 134.8L361.8 134.8L362 134.8L362.2 134.8L362.5 134.7L364.6 134.1L366.7 133.6L368.9 133L371 132.5L373.1 132.1L375.2 131.8L377.4 131.5L379.6 131.3L381.8 131L384 130.8L386.3 130.6L388.5 130.5L390.7 130.3L392.9 130.2L395.1 130.1L397.4 130L399.6 129.9L401.8 129.9L404 129.8L406.2 129.8L408.5 129.8L410.7 129.9L412.9 130L415.1 130.1L417.3 130.2L419.5 130.3L421.7 130.5L424 130.7L426.2 130.9L428.4 131.2L430.6 131.5L432.8 131.7L435 132.1L437.2 132.4L439.4 132.7L441.6 133.1L443.8 133.5L446 133.9L448 134.3L448.2 134.3L448.4 134.3L448.7 134.3L448.9 134.2L449.2 134.2L449.4 134.1L449.6 134L449.8 133.9L450 133.7L450.2 133.6L450.3 133.4L450.5 133.2L450.6 133L450.7 132.8L450.8 132.5L450.9 132.3L450.9 132.1L450.9 131.8L450.9 131.6L450.9 131.3L450.8 131.1L450.7 130.9L450.6 130.6L450.5 130.4L450.4 130.2L450.2 130.1L450 129.9L448 128.1L448 128.1L445.8 126.2L445.8 126.2L443.6 124.3L443.6 124.3L441.4 122.4L441.4 122.4L439.1 120.6L439.1 120.6L436.9 118.7L436.9 118.7L434.6 116.9L434.6 116.8L432.3 115L432.3 115L430.1 113.2L430 113.2L427.8 111.4L427.7 111.4L425.4 109.6L425.4 109.6L423.1 107.8L423.1 107.8L420.7 106.1L420.7 106.1L418.3 104.4L418.3 104.4L415.9 102.7L415.9 102.7L413.5 101.1L413.4 101L411 99.5L410.9 99.4L408.4 97.9L408.4 97.9L405.8 96.5L405.8 96.4L403.2 95L403.2 95L400.6 93.7L400.5 93.7L397.9 92.4L397.8 92.4L395.1 91.2L395.1 91.2L392.4 90.1L392.3 90.1L389.6 89.1L389.5 89.1L386.8 88.2L386.7 88.2L384 87.3L381.2 86.4L378.5 85.5L375.8 84.6L373.1 83.6L370.4 82.6L367.7 81.5L365 80.4L362.3 79.4L359.7 78.2L357 77.1L354.3 76L354.3 76L351.6 74.9L351.6 74.9L348.9 73.8L348.9 73.8L346.2 72.8L346.1 72.8L343.4 71.7L343.4 71.7L340.7 70.7L340.6 70.7L337.9 69.7L337.9 69.7L335.1 68.8L335.1 68.8L332.3 67.9L332.3 67.9L329.5 67L329.4 67L326.6 66.3L326.6 66.2L323.8 65.5L323.8 65.5L320.9 64.8L320.9 64.8L318.1 64.2L318.1 64.2L315.2 63.5L315.2 63.5L312.4 62.9L309.6 62.3L306.7 61.6L303.9 61L302.7 60.7L302.5 60.6L302.3 60.6L302 60.6L301.8 60.7L301.5 60.7L301.3 60.8L301.1 60.9L300.9 61L300.7 61.1L300.5 61.3L300.3 61.5L300.1 61.6L300 61.9L299.9 62.1L299.8 62.3L299.7 62.5L299.7 62.8L299.7 63L299.7 63.3L299.7 63.5Z" fill="#12beb9"/><path d="M308.1 120.7L308.9 121.9L309.9 122.5L326.1 124.9L332.2 126.1L361.5 134.8L371 132.5L377.4 131.5L399.6 129.9L410.7 129.9L424 130.7L435 132.1L448.2 134.3L450 133.7L450.9 132.1L450.7 130.9L450 129.9L436.9 118.7L425.4 109.6L413.4 101L400.5 93.7L392.4 90.1L373.1 83.6L346.2 72.8L335.1 68.8L323.8 65.5L302 60.6L300.3 61.5L299.7 63.5ZM340.1 99.5L344.6 100.1L347.6 101.4L350.6 103.6L353.4 107.2L355.1 111.5L355.2 114.7L354.1 117.7L352.1 119.6L350.6 120.2L347.6 120.4L343.1 120.3L340.1 119.8L335.6 117.4L332.6 114.7L330.4 111.7L329.8 110.2L329.6 107.2L331.1 103.8L332.6 102.1L335.6 100.4Z" fill="#2fc5a2" stroke="#0a0a0a" stroke-width="0.5" stroke-linejoin="round"/><path d="M302.7 83.3L311.6 83.4L325.1 82.2L329.6 82.5L338.6 83.9L347.6 83.7L350.6 84.2L353.6 85.3L356.6 87.1L359 89.2L363.2 93.7L365.2 96.7L366.4 99.7L366.6 104.2L364.2 114.7L362.5 117.7L359.7 120.7L358.8 122.2L357.1 128.2L354.8 132.9L362 134.8L371 132.5L377.4 131.5L390.7 130.3L404 129.8L415.1 130.1L426.2 130.9L448.2 134.3L449.8 133.9L450.8 132.5L450.8 131.1L450 129.9L432.3 115L418.3 104.4L405.8 96.4L397.9 92.4L392.4 90.1L373.1 83.6L346.2 72.8L335.1 68.8L318.1 64.2L302.7 60.7L301.1 60.9L300 61.9L299.7 63.3Z" fill="#48cb86" stroke="#0a0a0a" stroke-width="0.5" stroke-linejoin="round"/><path d="M394 90.8L389.5 104.2L385.1 114.7L383.6 119.2L382.9 123.7L383.1 130.9L397.4 130L410.7 129.9L428.4 131.2L448.2 134.3L449.4 134.1L450.5 133.2L450.9 131.3L450 129.9L434.6 116.9L420.7 106.1L411 99.5L403.2 95Z" fill="#71cd64" stroke="#0a0a0a" stroke-width="0.5" stroke-linejoin="round"/></g><g clip-path="url(#secb)"><g clip-path="url(#cbU)"><path d="M379.9 24.4L389.9 30.5L400.1 36L410.1 42.1L419.7 48.8L429.1 55.7L438.5 62.5L447.6 69.8L456.1 77.9L464.5 85.9L472.8 94.1L480.8 102.7L488.8 111.1L496.8 119.6L503.4 113.5L495.3 104.9L487.3 96.5L479.4 87.9L470.6 79.3L462.4 71.5L453.6 63.1L443.8 55.2L434.3 48.4L425 41.5L415 34.6L404.5 28.2L394.2 22.6L385.3 17.2Z" fill="url(#dt3)" opacity="0.6"/></g><g clip-path="url(#cbU)"><path d="M461.9 71L465.1 74.1L468.2 77.1L471.6 80.2L475.1 83.5L478.5 87L481.7 90.4L484.7 93.7L487.7 97L490.8 100.2L493.9 103.5L497.1 106.8L500.3 110.1L503.4 113.5L510.8 106.7L507.6 103.3L504.3 99.8L501.1 96.5L498 93.3L495 90.1L492.1 87L489 83.6L485.7 80.1L482 76.3L478.4 72.9L475 69.7L472 66.8L468.9 63.8Z" fill="url(#dt3)" opacity="0.4"/></g><g clip-path="url(#cbU)"><path d="M414.5 22.4L423.4 28.1L431.6 33.9L439.2 39.6L446.6 44.9L455.1 51.2L463.4 58.5L470.4 65.3L476.9 71.5L484.4 78.7L491.3 86.1L497.5 92.7L504 99.5L510.8 106.7L540.9 78.9L533.5 71.1L527 64.3L521.4 58.3L513.7 50L504.6 41.2L498.9 35.9L491.6 28.7L480.5 19L470.3 11.4L463.5 6.5L455.8 0.8L446.4 -5.9L435.6 -12.8Z" fill="url(#dt1)"/></g><g clip-path="url(#cbU)"><path d="M457.5 35.1L461.2 38.2L465 41.3L468.7 44.3L472.4 47.3L475.9 50.2L479.3 53.1L482.6 56.1L485.9 59.2L489 62.3L492.1 65.6L495.1 68.9L498.1 72.4L501.1 76L509.5 68.9L506.5 65.2L503.3 61.6L500.2 58.1L496.9 54.6L493.5 51.3L490.1 48L486.5 44.8L482.9 41.7L479.3 38.7L475.5 35.7L471.8 32.7L468.2 29.7L464.5 26.7Z" fill="url(#dt1)"/></g><g clip-path="url(#cbband)"><path d="M298.2 62.1L310.6 65L322.9 67.8L335.1 71.3L346.9 75.7L358.7 80.5L370.4 85.2L382.4 89.3L394.3 93.5L405.6 99.1L416.3 105.9L426.5 113.5L436.4 121.4L446 129.6L450.9 123.9L441.1 115.6L431.1 107.6L420.6 99.8L409.3 92.6L397.2 86.6L384.6 82.2L373.1 78.1L361.5 73.5L349.7 68.7L337.4 64.2L324.7 60.5L312.2 57.6L300 54.8Z" fill="url(#dt3)" opacity="0.7"/></g><g clip-path="url(#cbband)"><path d="M374.6 31.7L385.6 38.4L395.8 43.9L405.2 49.6L414.4 56L423.8 63L433.3 69.8L441.6 76.5L449.8 84.3L458.5 92.5L466.3 100.3L474.2 108.9L482.4 117.4L490.2 125.7L496.8 119.6L488.8 111.1L480.8 102.7L472.8 94.1L464.5 85.9L456.1 77.9L447.6 69.8L438.5 62.5L429.1 55.7L419.7 48.8L410.1 42.1L400.1 36L389.9 30.5L379.9 24.4Z" fill="url(#dt3)" opacity="0.7"/></g><g clip-path="url(#cbband)"><path d="M296.9 43.7L322.9 35.7L332.8 51.8L318.9 67.8L298.9 65.8Z" fill="url(#dt3)" opacity="0.7"/></g><g clip-path="url(#cbband)"><path d="M448.6 131.9L460.6 107.8L496.5 112.9L498.5 119.9L470.6 123.9Z" fill="url(#dt2)" opacity="0.6"/></g><g clip-path="url(#cbW)"><path d="M291 76.8L297.6 78.5L304.2 80L310.7 81.4L316.9 82.8L322.8 84.3L328.5 86L334.1 88L339.9 90.1L345.8 92.5L351.9 95L358.1 97.5L364.5 100.1L371.1 102.5L376.3 87.4L370.2 85.1L364 82.7L357.9 80.2L351.8 77.7L345.7 75.2L339.5 72.9L333.3 70.8L327 68.9L320.6 67.3L314.2 65.8L307.7 64.4L301.3 62.9L294.9 61.3Z" fill="url(#dt3)" opacity="0.7"/></g><g clip-path="url(#cbW)"><path d="M300.9 118.4L305.6 119.3L310.4 120.1L315.1 120.8L319.9 121.5L324.7 122.2L329.4 123L334.1 124.1L338.7 125.4L343.3 126.8L347.9 128.2L352.5 129.6L357.2 131L361.8 132.4L365.7 118.9L361.1 117.6L356.6 116.2L352.1 114.8L347.5 113.4L342.7 111.9L337.6 110.5L332.2 109.2L326.8 108.3L321.8 107.6L317 106.9L312.6 106.3L308.2 105.5L303.6 104.6Z" fill="url(#dt2)" opacity="0.6"/></g><g clip-path="url(#cbW)"><path d="M382.7 95.8L410.7 106.8L448.6 131.9L420.7 128.4L388.7 127.9Z" fill="url(#dt3)" opacity="0.3"/></g><g clip-path="url(#cbbot)"><path d="M348.8 130.9L380.7 130.9L388.7 145.9L366.8 157.9L344.8 145.9Z" fill="url(#dt2)" opacity="0.9"/></g><g clip-path="url(#cbbot)"><path d="M310.9 121.9L362.8 133.9L350.8 149.9L318.9 149.9L312.9 134.9Z" fill="url(#dt3)" opacity="0.6"/></g><g clip-path="url(#cbbot)"><path d="M448.6 131.9L497.5 119.9L496.5 149.9L484.5 172L460.6 157.9L444.6 141.9Z" fill="url(#dt2)" opacity="0.6"/></g><g clip-path="url(#cbK)"><path d="M470.6 23.7L510.5 39.7L510.5 75.8L495.5 57.8Z" fill="url(#dt3)" opacity="0.6"/></g><path d="M361.8 132.4L364.8 131.5L367.8 130.8L370.9 130.1L374 129.5L377 129.1L380.2 128.7L383.3 128.4L386.4 128.2L389.5 128L392.6 127.8L395.8 127.6L398.9 127.5L402 127.4L405.1 127.4L408.3 127.4L411.4 127.5L414.5 127.6L417.6 127.8L420.8 128L423.9 128.3L427 128.6L430.1 128.9L433.2 129.3L436.3 129.8L439.4 130.3L442.5 130.8L445.5 131.3L448.6 131.9" stroke="#1a8aa0" stroke-width="3.4" fill="none" opacity="0.55"/><path d="M361.8 132.4L364.8 131.5L367.8 130.8L370.9 130.1L374 129.5L377 129.1L380.2 128.7L383.3 128.4L386.4 128.2L389.5 128L392.6 127.8L395.8 127.6L398.9 127.5L402 127.4L405.1 127.4L408.3 127.4L411.4 127.5L414.5 127.6L417.6 127.8L420.8 128L423.9 128.3L427 128.6L430.1 128.9L433.2 129.3L436.3 129.8L439.4 130.3L442.5 130.8L445.5 131.3L448.6 131.9" stroke="#0c4a60" stroke-width="1.6" fill="none" opacity="0.85"/><path d="M303.2 63.3L306.2 64L309.3 64.7L312.3 65.4L315.3 66L318.3 66.7L321.4 67.4L324.4 68.2L327.4 69L330.3 69.8L333.3 70.8L336.2 71.7L339.2 72.7L342.1 73.8L345 74.9L347.8 76.1L350.7 77.2L353.6 78.4L356.5 79.6L359.3 80.8L362.2 81.9L365.1 83.1L367.9 84.2L370.8 85.3L373.7 86.4L376.7 87.5L379.6 88.5L382.5 89.4L385.5 90.3L388.4 91.3L391.4 92.4L394.2 93.5L397.1 94.7L399.9 96.1L402.6 97.5L405.3 99L408 100.5L410.7 102.2L413.3 103.9L415.8 105.6L418.4 107.4L420.9 109.2L423.4 111.1L425.8 113L428.3 114.9L430.7 116.8L433.1 118.8L435.5 120.7L437.9 122.7L440.3 124.7L442.6 126.7L445 128.7L447.3 130.8" stroke="#111" stroke-width="0.8" fill="none"/><path d="M304.1 63.8h1.8M305 62.9v1.8M314.8 66.5h2M315.8 65.5v2M317.4 67.4h2.1M318.5 66.3v2.1M326.1 69h2.3M327.3 67.9v2.3M329 69.9h1.9M330 68.9v1.9M336 71.6h2.2M337.1 70.5v2.2M338.8 72.5h2M339.8 71.5v2M345.9 75.8h1.7M346.8 75v1.7M354.4 80.1h1.7M355.3 79.2v1.7M356.8 81h2.3M358 79.9v2.3M370.5 84.7h1.9M371.5 83.8v1.9M379.3 88.5h2M380.3 87.5v2M381.9 89.4h2.2M383 88.3v2.2M391.4 93.6h1.8M392.3 92.6v1.8M394.1 94.5h1.8M395 93.5v1.8M401.2 98.6h2.1M402.3 97.5v2.1M404.1 99.5h1.8M405 98.6v1.8M412.8 103.5h1.8M413.7 102.6v1.8M415.4 104.4h2.1M416.4 103.3v2.1M422.6 111.1h2.2M423.7 110v2.2M431.9 118.4h2.3M433 117.2v2.3M434.7 119.3h2M435.7 118.3v2M440.3 125.9h2.1M441.3 124.9v2.1M442.9 126.8h2.2M444 125.7v2.2" stroke="#030303" stroke-width="1.95" fill="none" stroke-linecap="round"/><path d="M307.1 61.4h0M304.8 67.5h0M305.7 60.1h0M309.2 61.8h0M307 60.6h0M312.8 68.9h0M318.2 69.4h0M314.4 70.1h0M321.4 66h0M316.8 70.5h0M332.8 69.1h0M327.8 67h0M330.5 67.2h0M325.9 71.7h0M325.1 70.2h0M338.9 68.7h0M338.5 68.4h0M334.7 71.7h0M341.5 69.5h0M338.2 75.7h0M348 78.5h0M343 75h0M348.3 78.4h0M341.9 76.2h0M343.7 76h0M360.6 80.5h0M358.8 78.1h0M352.6 83h0M360.3 78.6h0M353.9 78.3h0M371.5 81.1h0M368.2 83.5h0M368 84.4h0M368.5 86.9h0M373.6 82.2h0M384.1 86.7h0M378.9 90h0M380.2 86.4h0M377.5 91.5h0M378.8 90.6h0M397.3 96h0M394.3 91.3h0M392.1 96.9h0M389.3 96h0M389.5 92h0M400.4 97.5h0M402.3 101.8h0M402.1 96.9h0M399.4 100.9h0M405.6 101.3h0M412.1 101.1h0M411.1 101.5h0M414.8 101.1h0M416.7 101.4h0M410.4 104.1h0M426.2 113.4h0M422 107.7h0M419.8 109h0M419.9 111.2h0M420.8 112.9h0M430.9 117.3h0M434.1 122.8h0M431.7 120.2h0M435.8 116h0M436.4 115.4h0M437.8 126.9h0M441.9 130.2h0M438.5 126.7h0M441.6 123.2h0M446.4 129.2h0" stroke="#050505" stroke-width="1.2" stroke-linecap="round" fill="none"/><path d="M381.3 25.4L383.9 27.1L386.6 28.7L389.3 30.2L392.1 31.7L394.8 33.1L397.6 34.6L400.3 36.1L403 37.7L405.7 39.3L408.3 40.9L410.9 42.6L413.5 44.4L416.1 46.2L418.6 48L421.1 49.8L423.6 51.7L426.1 53.6L428.7 55.4L431.2 57.3L433.7 59.1L436.3 60.9L438.8 62.7L441.3 64.5L443.8 66.5L446.2 68.5L448.5 70.6L450.8 72.7L453 74.9L455.2 77.1L457.4 79.2L459.7 81.4L462 83.5L464.3 85.7L466.6 87.8L468.8 89.9L471 92.2L473.1 94.4L475.3 96.7L477.4 99L479.5 101.3L481.6 103.6L483.8 105.9L485.9 108.1L488.1 110.4L490.3 112.6L492.4 114.9L494.5 117.2" stroke="#111" stroke-width="0.8" fill="none"/><path d="M380.5 24.9h2.4M381.7 23.7v2.4M383 25.8h2.8M384.4 24.4v2.8M391.8 32.9h2.3M392.9 31.8v2.3M404.3 39h2.5M405.5 37.8v2.5M406.8 39.9h2.8M408.2 38.5v2.8M414.6 46.1h2.2M415.7 45v2.2M417 47h2.8M418.4 45.6v2.8M423.8 52.9h2.7M425.1 51.6v2.7M426.4 53.8h2.7M427.8 52.4v2.7M431.7 58.6h2.3M432.9 57.4v2.3M434.2 59.5h2.8M435.6 58.1v2.8M445.6 69.1h2.6M446.9 67.7v2.6M448.1 70h2.9M449.6 68.5v2.9M454.9 76.9h2.3M456.1 75.7v2.3M462.4 85.8h2.6M463.7 84.4v2.6M465.4 86.7h2.1M466.4 85.6v2.1M470.9 94.5h2.9M472.3 93.1v2.9M479.2 102.8h2.7M480.6 101.4v2.7M481.9 103.7h2.8M483.3 102.3v2.8M488.9 113.2h2.6M490.2 111.9v2.6" stroke="#030303" stroke-width="1.95" fill="none" stroke-linecap="round"/><path d="M379.3 27.4h0M379.3 26.6h0M386.2 27.8h0M384.9 21.6h0M381.2 22.2h0M389.6 35.3h0M395.4 34.7h0M391 30.6h0M392.7 36.1h0M397.2 33.5h0M403.8 38.4h0M409.6 43h0M407 36.9h0M409 42.6h0M403.2 42.4h0M415.5 42.7h0M412.6 48.6h0M417 42.9h0M422.1 45.1h0M412.7 45h0M428.5 50.4h0M422.8 51.4h0M426.9 56.4h0M426.5 49.6h0M421.8 54.4h0M433.7 55.4h0M430.9 59.5h0M432.4 56.9h0M437.3 55.8h0M432.1 56.8h0M449.7 65.9h0M451.2 71.7h0M448.1 66.8h0M448.2 65.8h0M452 69.6h0M460.3 77.6h0M461.3 77.6h0M460 76.7h0M455.8 79.3h0M459.9 76.4h0M461.9 83.4h0M462 88.8h0M462.9 88.3h0M465 89.7h0M461.7 86.3h0M467.9 96.9h0M477.1 95.7h0M473.2 90.8h0M467.3 95.4h0M475.5 93.7h0M476.8 103.9h0M478.9 104.7h0M484.9 105.6h0M484.8 102.2h0M477.6 101.2h0M493.1 114.5h0M495.4 112.6h0M492.7 111h0M487.8 111.3h0M488.5 116.5h0" stroke="#050505" stroke-width="1.2" stroke-linecap="round" fill="none"/><path d="M465.7 27.7L468.2 29.8L470.8 31.9L473.4 34L476 36.1L478.6 38.1L481.1 40.2L483.7 42.4L486.2 44.5L488.7 46.7L491.1 49L493.5 51.3L495.9 53.6L498.2 56L500.5 58.4L502.7 60.9L504.9 63.4L507 65.9" stroke="#111" stroke-width="1.0" fill="none"/><path d="M463.6 27.8h2.7M465 26.5v2.7M466.4 28.7h2.6M467.7 27.4v2.6M473.1 36.5h2.6M474.4 35.3v2.6M475.9 37.4h2.4M477.1 36.2v2.4M483.4 44.2h2.3M484.5 43.1v2.3M486.1 45.1h2.3M487.2 44v2.3M490.6 51.6h2.4M491.8 50.4v2.4M493.3 52.5h2.5M494.5 51.3v2.5M500.4 58.9h2.1M501.4 57.8v2.1M503 59.8h2.2M504.1 58.7v2.2" stroke="#030303" stroke-width="1.95" fill="none" stroke-linecap="round"/><path d="M468.2 31h0M469.5 28h0M461.9 28.1h0M460.9 28.4h0M468.3 26.2h0M478.1 34.8h0M471.8 35.4h0M478.9 37.5h0M474.3 39.5h0M472.1 38h0M481.7 44.1h0M487 42.2h0M488.9 46.2h0M482.4 43h0M488 41.1h0M487.9 51.6h0M497.6 51.5h0M488.7 52.6h0M490.7 50.1h0M491.4 48.3h0M503.1 61.9h0M499.1 56.7h0M505.3 61.5h0M504 56.4h0M500.5 61.3h0" stroke="#050505" stroke-width="1.2" stroke-linecap="round" fill="none"/><path d="M305.2 119.2L308.3 119.8L311.5 120.3L314.7 120.8L317.8 121.2L321 121.6L324.2 122.1L327.3 122.6L330.5 123.2L333.6 123.9L336.7 124.8L339.8 125.7L342.8 126.6L345.9 127.6L348.9 128.5L352 129.5L355 130.4L358.1 131.3L361.2 132.2" stroke="#111" stroke-width="0.8" fill="none"/><path d="M303.2 119.1h2.4M304.4 117.9v2.4M305.9 120h2.5M307.1 118.8v2.5M313.3 121.1h2.8M314.7 119.6v2.8M322 121.7h2.9M323.5 120.3v2.9M324.7 122.6h2.9M326.2 121.2v2.9M329.2 123.1h2.9M330.6 121.6v2.9M331.8 124h3M333.3 122.5v3M337.7 125.8h3M339.2 124.2v3M340.5 126.7h2.9M341.9 125.2v2.9M345.1 127.3h2.3M346.3 126.1v2.3M347.8 128.2h2.5M349 126.9v2.5M353.2 130.6h2.4M354.4 129.4v2.4M355.6 131.5h2.9M357.1 130v2.9" stroke="#030303" stroke-width="1.95" fill="none" stroke-linecap="round"/><path d="M304.6 122h0M301.6 117.2h0M308.5 122.6h0M306.7 116.6h0M308.3 116.9h0M310.6 123.2h0M316.1 118.1h0M318.1 122.5h0M316.5 123.8h0M319 123.4h0M328.8 123.3h0M323.7 119.6h0M319.7 121.8h0M321.9 123.6h0M326.3 119.6h0M330.8 127h0M329.7 126.2h0M336.1 122.6h0M335.8 122.4h0M332.5 120h0M340 123.4h0M338.5 123.5h0M343.9 126.9h0M341 122.2h0M336 126.1h0M348.9 130.6h0M347.7 124.6h0M349.6 124.9h0M343.4 126.8h0M350 124.2h0M352.6 131.5h0M353.4 132.7h0M351.7 131.8h0M358.1 134.1h0M360.7 130h0" stroke="#050505" stroke-width="1.2" stroke-linecap="round" fill="none"/><path d="M359.2 134.1h3.2M360.8 132.5v3.2M359.2 130.6h3.2M360.8 129v3.2M360 133.7h3.2M361.6 132.1v3.2M361.4 130.7h3.2M363 129.1v3.2M447 130.8h3.2M448.6 129.2v3.2M443.8 134.3h3.2M445.4 132.7v3.2M448.4 131.5h3.2M450 129.9v3.2M448.9 133.5h3.2M450.5 131.9v3.2" stroke="#030303" stroke-width="1.8" fill="none" stroke-linecap="round"/></g></g><rect x="300.4" y="21.7" width="207.6" height="176.3" fill="none" stroke="#777" stroke-width="0.6"/><text x="316.1" y="208.3" font-size="7.1" text-anchor="middle" fill="#2c2c2c" font-family="Liberation Sans, Arial, sans-serif">−0.015</text><text x="344.9" y="208.3" font-size="7.1" text-anchor="middle" fill="#2c2c2c" font-family="Liberation Sans, Arial, sans-serif">−0.01</text><text x="373.8" y="208.3" font-size="7.1" text-anchor="middle" fill="#2c2c2c" font-family="Liberation Sans, Arial, sans-serif">−0.005</text><text x="403.9" y="208.3" font-size="7.1" text-anchor="middle" fill="#2c2c2c" font-family="Liberation Sans, Arial, sans-serif">0</text><text x="432.7" y="208.3" font-size="7.1" text-anchor="middle" fill="#2c2c2c" font-family="Liberation Sans, Arial, sans-serif">0.005</text><text x="461.6" y="208.3" font-size="7.1" text-anchor="middle" fill="#2c2c2c" font-family="Liberation Sans, Arial, sans-serif">0.01</text><text x="490.4" y="208.3" font-size="7.1" text-anchor="middle" fill="#2c2c2c" font-family="Liberation Sans, Arial, sans-serif">0.015</text><text x="296.9" y="191.6" font-size="7.1" text-anchor="end" fill="#2c2c2c" font-family="Liberation Sans, Arial, sans-serif">54</text><text x="296.9" y="170.7" font-size="7.1" text-anchor="end" fill="#2c2c2c" font-family="Liberation Sans, Arial, sans-serif">56</text><text x="296.9" y="149.8" font-size="7.1" text-anchor="end" fill="#2c2c2c" font-family="Liberation Sans, Arial, sans-serif">58</text><text x="296.9" y="128.8" font-size="7.1" text-anchor="end" fill="#2c2c2c" font-family="Liberation Sans, Arial, sans-serif">60</text><text x="296.9" y="107.9" font-size="7.1" text-anchor="end" fill="#2c2c2c" font-family="Liberation Sans, Arial, sans-serif">62</text><text x="296.9" y="87" font-size="7.1" text-anchor="end" fill="#2c2c2c" font-family="Liberation Sans, Arial, sans-serif">64</text><text x="296.9" y="66.1" font-size="7.1" text-anchor="end" fill="#2c2c2c" font-family="Liberation Sans, Arial, sans-serif">66</text><text x="296.9" y="45.1" font-size="7.1" text-anchor="end" fill="#2c2c2c" font-family="Liberation Sans, Arial, sans-serif">68</text><path d="M317.7 198v-2M317.7 21.7v2M346.5 198v-2M346.5 21.7v2M375.4 198v-2M375.4 21.7v2M404.2 198v-2M404.2 21.7v2M433 198v-2M433 21.7v2M461.9 198v-2M461.9 21.7v2M490.7 198v-2M490.7 21.7v2M300.4 189.1h2M508 189.1h-2M300.4 168.2h2M508 168.2h-2M300.4 147.3h2M508 147.3h-2M300.4 126.3h2M508 126.3h-2M300.4 105.4h2M508 105.4h-2M300.4 84.5h2M508 84.5h-2M300.4 63.6h2M508 63.6h-2M300.4 42.6h2M508 42.6h-2" stroke="#777" stroke-width="0.6" fill="none"/><text x="405" y="217.7" font-size="8" text-anchor="middle" fill="#2c2c2c" font-family="Liberation Sans, Arial, sans-serif">Coordinate/θ</text><text transform="translate(284.2 109.8) rotate(-90)" font-size="7.7" text-anchor="middle" fill="#2c2c2c" font-family="Liberation Sans, Arial, sans-serif">Radius/mm</text><text x="408.7" y="233" font-size="12.5" text-anchor="middle" fill="#111" font-family="Liberation Serif, Times New Roman, serif">T = 300 K</text><rect x="513.7" y="21.7" width="11" height="176.3" fill="url(#pg)" stroke="#777" stroke-width="0.5"/><text x="527.3" y="36.2" font-size="6.7" fill="#2c2c2c" font-family="Liberation Sans, Arial, sans-serif">0</text><text x="527.3" y="59.5" font-size="6.7" fill="#2c2c2c" font-family="Liberation Sans, Arial, sans-serif">−50</text><text x="527.3" y="82.8" font-size="6.7" fill="#2c2c2c" font-family="Liberation Sans, Arial, sans-serif">−100</text><text x="527.3" y="106.1" font-size="6.7" fill="#2c2c2c" font-family="Liberation Sans, Arial, sans-serif">−150</text><text x="527.3" y="129.4" font-size="6.7" fill="#2c2c2c" font-family="Liberation Sans, Arial, sans-serif">−200</text><text x="527.3" y="152.7" font-size="6.7" fill="#2c2c2c" font-family="Liberation Sans, Arial, sans-serif">−250</text><text x="527.3" y="176" font-size="6.7" fill="#2c2c2c" font-family="Liberation Sans, Arial, sans-serif">−300</text><text x="527.3" y="199.3" font-size="6.7" fill="#2c2c2c" font-family="Liberation Sans, Arial, sans-serif">−350</text><path d="M524.7 34h-2M524.7 57.3h-2M524.7 80.6h-2M524.7 103.9h-2M524.7 127.2h-2M524.7 150.5h-2M524.7 173.8h-2M524.7 197.1h-2" stroke="#555" stroke-width="0.6" fill="none"/></g><g><g clip-path="url(#bxc)"><g clip-path="url(#ccband)"><path d="M106.2 235L106.1 235L102.6 235.5L102.6 235.5L99.1 236L99 236L95.5 236.6L95.5 236.6L91.9 237.3L91.9 237.3L88.4 238L88.4 238L84.8 238.7L84.8 238.8L81.3 239.6L81.3 239.6L77.8 240.4L77.7 240.5L74.2 241.4L74.2 241.4L70.7 242.4L70.7 242.4L67.2 243.4L67.1 243.4L63.6 244.5L63.6 244.5L60.1 245.7L60.1 245.7L56.6 246.9L56.6 246.9L53.1 248.1L53.1 248.1L49.6 249.5L49.6 249.5L46.1 250.8L46.1 250.8L42.6 252.3L42.6 252.3L39.2 253.7L39.1 253.8L35.7 255.3L35.7 255.3L32.2 256.9L32.2 256.9L28.8 258.5L28.6 258.7L28.4 258.8L28.2 258.9L28 259.1L27.9 259.3L27.7 259.5L27.6 259.7L27.5 260L27.4 260.2L27.4 260.4L27.4 260.7L27.4 260.9L27.4 261.2L30.1 279.3L30.1 279.5L30.2 279.8L30.3 280L30.4 280.2L30.5 280.4L30.7 280.6L30.9 280.8L31.1 280.9L31.3 281.1L31.5 281.2L31.7 281.3L32 281.4L33.2 281.7L33.2 281.7L36.1 282.3L36.1 282.3L38.9 283L38.9 283L41.8 283.6L44.6 284.2L47.4 284.9L50.2 285.5L53 286.2L55.8 286.9L58.6 287.7L61.3 288.5L64 289.4L66.7 290.3L69.5 291.2L72.1 292.2L74.8 293.3L77.5 294.3L80.2 295.4L82.9 296.5L85.6 297.6L88.3 298.7L88.3 298.7L91 299.9L91 299.9L93.7 301L93.7 301L96.4 302L96.4 302L99.1 303.1L99.2 303.1L101.9 304.1L101.9 304.2L104.6 305.2L104.7 305.2L107.4 306.1L107.4 306.1L110.2 307.1L110.2 307.1L113 308L115.8 308.8L118.5 309.7L121.2 310.7L123.8 311.7L126.4 312.9L128.9 314.1L131.5 315.4L134 316.7L136.5 318.2L138.9 319.6L141.4 321.2L143.7 322.8L146.1 324.4L148.4 326.1L150.8 327.8L153.1 329.5L155.3 331.3L157.6 333.1L159.9 334.9L162.1 336.7L164.4 338.6L166.6 340.4L168.8 342.3L171 344.2L173.2 346L175.4 347.9L177.6 349.8L177.8 350L178 350.1L178.2 350.2L178.4 350.3L178.6 350.4L178.9 350.4L179.1 350.4L179.3 350.4L179.6 350.4L179.8 350.4L197.7 346.2L213.5 344L228.2 342.6L228.4 342.6L228.6 342.5L228.9 342.5L229.1 342.4L229.3 342.3L229.5 342.1L229.7 342L229.8 341.8L230 341.6L230.1 341.4L230.2 341.2L230.3 341L230.4 340.7L230.4 340.5L230.9 337.2L230.9 336.9L230.9 336.7L230.9 336.4L230.8 336.2L230.8 335.9L230.7 335.7L230.6 335.5L230.4 335.3L230.3 335.1L229.2 334L229.2 333.9L227.3 331.8L227.3 331.8L225.3 329.7L225.3 329.7L223.3 327.6L223.3 327.6L221.3 325.6L221.3 325.6L219.3 323.5L217.4 321.4L215.4 319.4L213.4 317.3L211.5 315.2L209.6 313.1L207.6 311L207.6 311L205.7 308.9L205.7 308.9L203.7 306.8L203.7 306.7L201.7 304.7L201.6 304.7L199.6 302.7L199.5 302.6L197.5 300.7L197.4 300.7L195.3 298.7L193.3 296.8L191.2 294.8L189.2 292.8L187.1 290.8L185.1 288.8L185.1 288.8L183 286.8L183 286.8L180.9 284.8L180.9 284.8L178.7 282.9L178.7 282.8L176.5 281L176.4 280.9L174.2 279.1L174.2 279.1L171.9 277.4L171.8 277.4L169.5 275.7L169.5 275.7L167.2 274L167.2 274L164.8 272.3L162.5 270.7L160.2 269L157.9 267.3L155.7 265.6L155.6 265.6L153.4 263.9L153.3 263.9L151 262.2L151 262.2L148.7 260.5L148.7 260.5L146.3 258.8L146.3 258.8L143.9 257.2L143.9 257.2L141.5 255.6L141.5 255.6L139.1 254L139.1 254L136.6 252.5L136.6 252.5L134.1 251L134.1 251L131.6 249.6L131.6 249.6L129.1 248.2L129 248.2L126.5 246.8L126.5 246.8L124 245.5L121.5 244.1L119 242.7L116.6 241.3L114.2 239.9L112 238.4L109.9 236.7L108.8 235.6L108.6 235.5L108.4 235.3L108.2 235.2L108 235.1L107.8 235L107.5 235L107.3 234.9L107 234.9L106.8 234.9Z" fill="#21c1b0"/><path d="M190.5 347.9L188.8 340.4L188.3 335.9L188.8 332.9L190.5 329.9L192.3 328.1L193.8 327.4L195.3 327.2L202.8 329.7L205.8 329.6L207.3 328.9L208.8 327.6L210 325.3L211.7 315.5L199.6 302.7L180.9 284.8L174.2 279.1L143.9 257.2L134.1 251L114.2 239.9L108.2 235.2L107 234.9L102.6 235.5L88.4 238L67.1 243.4L56.6 246.9L42.6 252.3L28.8 258.5L27.6 259.7L27.4 261.2L30.1 279.3L31.3 281.1L53 286.2L64 289.4L74.8 293.3L101.9 304.1L118.5 309.7L126.4 312.9L136.5 318.2L148.4 326.1L162.1 336.7L178.2 350.2L179.8 350.4ZM201 311.8L202.2 313.3L202 314.8L201.2 316.3L199.8 317.5L198.3 317.9L196.8 317.3L196.2 316.3L196.1 314.8L196.8 313.3L198.3 312L199.8 311.5Z" fill="#33c69d" stroke="#0a0a0a" stroke-width="0.5" stroke-linejoin="round"/><path d="M174.7 347.4L178.8 341.6L180.3 336.9L180.9 331.4L180.5 322.3L180.9 319.3L182 316.3L185.1 311.8L192.3 305.5L193.9 302.7L195 298.4L176.4 280.9L151 262.2L136.6 252.5L114.2 239.9L108.4 235.3L106.2 235L91.9 237.3L81.3 239.6L67.2 243.4L46.1 250.8L32.2 256.9L28.6 258.7L27.7 259.5L27.4 261.2L30.1 279.3L31.3 281.1L53 286.2L64 289.4L74.8 293.3L101.9 304.1L118.5 309.7L126.4 312.9L134 316.7L143.7 322.8L157.6 333.1ZM205.8 322.3L207.3 321.4L207.6 320.8L207.3 319.9L205.8 319.2L204.5 320.8Z" fill="#48cb86" stroke="#0a0a0a" stroke-width="0.5" stroke-linejoin="round"/></g><g clip-path="url(#ccU)"><path d="M195.3 241.4L195.3 241.4L191.8 240.5L191.7 240.4L188.2 239.6L188.2 239.6L184.7 238.8L184.7 238.7L181.1 238L181.1 238L177.6 237.3L177.6 237.3L174 236.6L174 236.6L170.5 236L170.4 236L166.9 235.5L166.9 235.5L163.4 235L163.3 235L159.8 234.6L159.7 234.6L156.2 234.2L156.2 234.2L152.6 233.9L152.6 233.9L149.1 233.7L149 233.7L145.5 233.5L145.5 233.5L141.9 233.3L141.9 233.3L138.3 233.2L138.3 233.2L134.8 233.2L134.7 233.2L131.2 233.2L131.2 233.2L127.6 233.3L127.6 233.3L124 233.5L124 233.5L120.5 233.7L120.4 233.7L116.9 233.9L116.9 233.9L113.3 234.2L113.3 234.2L109.8 234.6L109.7 234.6L106.9 234.9L106.7 235L106.5 235L106.2 235.1L106 235.2L105.8 235.4L105.6 235.5L105.4 235.7L105.3 235.9L105.1 236.1L105 236.3L104.9 236.5L104.8 236.7L104.8 237L104.7 237.2L104.7 237.5L104.8 237.7L104.8 238L104.9 238.2L105 238.4L105.1 238.7L105.2 238.9L105.3 239.1L105.5 239.2L106.6 240.3L106.8 240.5L109 242.2L109.2 242.4L111.5 244L111.6 244L114.1 245.5L114.1 245.6L116.6 247L116.7 247L119.2 248.4L119.2 248.4L121.7 249.8L121.7 249.8L124.2 251.1L126.7 252.5L129.2 253.9L131.7 255.2L134.1 256.7L136.5 258.2L138.9 259.7L141.2 261.3L143.5 262.9L145.9 264.5L148.2 266.1L150.5 267.8L152.7 269.5L155 271.2L155 271.2L157.3 273L157.4 273L159.7 274.7L159.7 274.7L162 276.3L162 276.3L164.4 278L166.7 279.6L169 281.3L171.2 283L173.4 284.7L175.5 286.5L177.6 288.4L179.6 290.4L181.7 292.3L183.7 294.3L185.7 296.3L185.8 296.4L187.8 298.4L187.8 298.4L189.9 300.4L189.9 300.4L192 302.3L192 302.3L194.1 304.3L196.2 306.2L198.2 308.2L200.2 310.2L202.1 312.2L204.1 314.3L206 316.4L207.9 318.5L207.9 318.6L209.9 320.7L209.9 320.7L211.9 322.8L211.9 322.8L213.8 324.8L213.9 324.8L215.8 326.9L217.8 329L219.8 331L221.8 333.1L223.7 335.2L225.6 337.3L226.6 338.3L226.8 338.5L227 338.7L227.2 338.8L227.4 338.9L227.6 339L227.9 339.1L228.1 339.1L228.3 339.1L228.6 339.1L228.8 339.1L229.1 339.1L229.3 339L229.5 338.9L229.7 338.8L229.9 338.7L230.1 338.5L230.3 338.3L230.5 338.1L230.6 337.9L230.7 337.7L230.8 337.5L230.9 337.2L230.9 337L239.2 281.1L239.2 280.8L239.2 280.6L239.2 280.4L239.1 280.1L239.1 279.9L239 279.7L238.9 279.5L238.7 279.3L238.6 279.1L238.5 278.9L238.5 278.9L236.7 276.9L236.7 276.9L234.9 274.9L234.9 274.8L233.1 272.8L233.1 272.8L231.3 270.9L231.3 270.8L229.4 268.9L229.4 268.9L227.5 267L227.5 266.9L225.6 265.1L225.6 265L223.6 263.2L223.6 263.2L221.6 261.3L221.6 261.3L219.6 259.5L219.6 259.5L217.6 257.8L217.6 257.7L215.5 256L215.5 256L213.5 254.3L213.4 254.3L211.4 252.6L211.4 252.6L209.3 250.9L209.3 250.9L207.2 249.2L205.1 247.5L203 245.9L201 244.2L199.2 242.7L199 242.5L198.7 242.4L198.5 242.3L198.2 242.2Z" fill="#0ab4d2"/><path d="M142.2 241.9L141.3 243.8L141.8 248.3L142.9 251.3L145.2 254.5L148.2 256.6L151.2 257.7L155.7 258.8L157.2 258.9L158.7 258.3L159.4 255.8L157.6 248.3L156.6 245.3L154.6 242.2L151.2 240.2L148.2 239.8L145.2 240.2ZM164 266.4L163.8 267.9L164.4 269.4L166.2 270.7L167.7 270.7L169.2 269.7L170.2 267.9L170.1 266.4L169.2 265L167.7 264.2L166.2 264.3L165.1 264.8Z" fill="#04bbc2" stroke="#0a0a0a" stroke-width="0.5" stroke-linejoin="round"/></g><g clip-path="url(#ccK)"><path d="M242.1 261.2L242.1 260.9L242.1 260.7L242.1 260.4L242.1 260.2L242 260L241.9 259.7L241.8 259.5L241.6 259.3L241.5 259.1L241.3 258.9L241.1 258.8L240.9 258.7L240.7 258.5L237.3 256.9L237.3 256.9L233.8 255.3L233.8 255.3L230.4 253.8L230.3 253.7L226.9 252.3L226.9 252.3L223.4 250.8L223.4 250.8L219.9 249.5L219.9 249.5L216.4 248.1L216.4 248.1L212.9 246.9L212.9 246.9L209.4 245.7L209.4 245.7L205.9 244.5L205.9 244.5L202.4 243.4L202.3 243.4L198.8 242.4L198.8 242.4L198.5 242.3L198.3 242.2L198.1 242.2L197.8 242.2L197.6 242.2L197.3 242.2L197.1 242.3L196.9 242.4L196.6 242.5L196.4 242.6L196.2 242.8L196.1 242.9L195.9 243.1L195.8 243.3L195.6 243.5L195.5 243.8L195.5 244L195.4 244.2L195.4 244.5L195.4 244.7L195.4 245L195.4 245.2L195.5 245.4L195.6 245.7L195.7 245.9L195.8 246.1L195.9 246.3L196.1 246.5L196.3 246.6L197.9 248L197.9 248L200 249.7L200 249.7L202.1 251.4L202.1 251.4L204.1 253L206.2 254.7L208.3 256.4L210.4 258.1L212.4 259.8L214.4 261.5L216.4 263.2L218.3 265L220.3 266.8L222.2 268.6L224.1 270.4L225.9 272.3L227.7 274.2L229.5 276.1L231.3 278.1L233 280.1L234.8 282.1L234.8 282.2L235 282.4L235.2 282.5L235.4 282.7L235.6 282.8L235.8 282.9L236.1 283L236.3 283L236.6 283L236.8 283.1L237 283L237.3 283L237.5 282.9L237.8 282.8L238 282.7L238.2 282.6L238.4 282.4L238.6 282.2L238.7 282.1L238.9 281.8L239 281.6L239.1 281.4L239.1 281.2L239.2 280.9Z" fill="#48cb86"/></g><g clip-path="url(#ccbot)"><path d="M50.1 414.9L50.1 415.2L50.2 415.4L50.3 415.6L50.4 415.8L50.5 416L50.7 416.2L50.9 416.4L51.1 416.6L51.3 416.7L51.5 416.8L51.7 416.9L51.9 417L52.2 417L52.4 417.1L52.7 417.1L52.9 417L53.2 417L53.4 416.9L53.6 416.8L56.3 415.5L58.9 414.3L61.6 413.1L64.3 412L66.9 410.9L69.6 409.8L72.3 408.8L75 407.9L77.7 406.9L80.4 406L83.1 405.2L85.8 404.4L88.5 403.7L91.2 402.9L93.9 402.3L96.6 401.6L99.3 401.1L102 400.5L104.7 400L107.5 399.6L110.2 399.2L112.9 398.8L115.6 398.5L118.4 398.2L121.1 397.9L123.8 397.7L126.6 397.6L129.3 397.5L132 397.4L134.8 397.4L137.5 397.4L140.2 397.5L142.9 397.6L145.7 397.7L148.4 397.9L151.1 398.2L153.9 398.5L156.6 398.8L159.3 399.2L162 399.6L164.8 400L167.5 400.5L170.2 401.1L172.9 401.6L175.6 402.3L178.3 402.9L181 403.7L183.7 404.4L186.4 405.2L189.1 406L191.8 406.9L194.5 407.9L197.2 408.8L199.9 409.8L202.6 410.9L205.2 412L207.9 413.1L210.6 414.3L213.2 415.5L215.9 416.8L216.1 416.9L216.3 417L216.6 417L216.8 417.1L217.1 417.1L217.3 417L217.6 417L217.8 416.9L218 416.8L218.2 416.7L218.4 416.6L218.6 416.4L218.8 416.2L219 416L219.1 415.8L219.2 415.6L219.3 415.4L219.4 415.2L219.4 414.9L230.4 340.6L230.4 340.4L230.4 340.1L230.4 339.9L230.3 339.6L230.3 339.4L230.2 339.2L230 338.9L229.9 338.7L229.7 338.5L229.5 338.4L229.3 338.2L229.1 338.1L228.9 338L228.7 337.9L228.4 337.8L228.2 337.8L227.9 337.7L227.7 337.8L213 339.1L212.9 339.1L196.9 341.4L196.7 341.4L179.2 345.5L179.2 345.5L179.1 345.5L177.4 345.2L177.4 345.2L175.2 344.8L175.2 344.8L173 344.4L173 344.4L170.8 344L170.8 344L168.5 343.7L168.5 343.7L166.3 343.3L166.3 343.3L164 343L164 343L161.8 342.7L161.8 342.7L159.5 342.4L159.5 342.4L157.3 342.2L157.2 342.2L155 341.9L155 341.9L152.7 341.7L152.7 341.7L150.5 341.6L150.4 341.6L148.2 341.4L148.2 341.4L145.9 341.3L145.9 341.3L143.7 341.2L143.6 341.2L141.4 341.1L141.4 341.1L139.1 341L139.1 341L136.8 341L136.8 341L134.6 341L134.5 341L132.3 341.1L132.2 341.1L130 341.1L130 341.1L127.7 341.2L127.7 341.2L125.5 341.3L125.4 341.3L123.2 341.4L123.2 341.4L120.9 341.5L120.9 341.5L118.7 341.7L118.7 341.7L116.4 341.9L116.4 341.9L114.2 342.1L114.1 342.1L111.9 342.3L111.9 342.3L109.6 342.5L109.6 342.5L107.4 342.7L107.3 342.8L105.1 343L105 343.1L102.8 343.4L102.7 343.4L100.5 343.8L100.4 343.9L98.3 344.4L98.2 344.4L96 344.9L96 344.9L93.8 345.5L93.8 345.5L92.3 346L90.9 345.5L88.8 344.9L86.8 344.3L84.7 343.7L82.6 343.1L80.6 342.4L78.5 341.8L76.4 341.2L74.4 340.5L74.4 340.5L72.3 339.8L72.3 339.8L70.2 339.2L70.2 339.2L68.1 338.6L68.1 338.6L66 338L66 338L63.9 337.5L63.8 337.4L61.7 337L61.6 336.9L59.5 336.5L59.5 336.5L57.3 336.1L57.3 336.1L55.2 335.8L55.1 335.8L53 335.4L53 335.4L50.8 335.2L50.8 335.2L48.7 334.9L46.5 334.6L44.4 334.3L42.3 334L41.4 333.8L41.2 333.8L40.9 333.8L40.7 333.8L40.4 333.9L40.2 333.9L40 334L39.7 334.1L39.5 334.3L39.3 334.4L39.2 334.6L39 334.8L38.9 335L38.7 335.2L38.7 335.4L38.6 335.7L38.5 335.9L38.5 336.2L38.5 336.4L38.5 336.7Z" fill="#3e26a8"/><path d="M50.8 416.3L53.1 413.6L55 412.7L59.5 409.2L74.5 404.8L83.5 400.4L89.5 400L94 399.2L109 394.4L118 393.9L125.5 394L134.5 392.9L145 394L150.9 393.8L159.9 394.3L167.4 396L174.9 398.5L185.4 399.8L194.4 403.5L200.4 405L209.4 408.2L216.9 412.1L219.5 414.6L230.4 340.6L230.3 339.4L229.3 338.2L227.9 337.7L212.9 339.1L196.7 341.4L179.2 345.5L166.3 343.3L155 341.9L143.7 341.2L134.6 341L120.9 341.5L107.4 342.7L100.4 343.9L92.3 346L61.7 337L41.4 333.8L40 334L38.9 335L38.5 336.7L50.1 414.9Z" fill="#4330c5" stroke="#0a0a0a" stroke-width="0.5" stroke-linejoin="round"/><path d="M49.8 413.3L53.5 411.2L59.5 406.9L70 403.8L82 398.6L90.7 397.1L109 392L131.5 390.7L139 390.7L161.4 391.9L167.4 393.6L189.9 398.5L209.4 405.2L220.1 410.5L230.4 340.6L230.3 339.4L229.3 338.2L227.9 337.7L212.9 339.1L196.7 341.4L179.2 345.5L166.3 343.3L155 341.9L143.7 341.2L134.6 341L120.9 341.5L107.4 342.7L100.4 343.9L92.3 346L61.7 337L41.4 333.8L40 334L38.9 335L38.5 336.7Z" fill="#463cde" stroke="#0a0a0a" stroke-width="0.5" stroke-linejoin="round"/><path d="M49.4 410.6L53.5 408.7L59.5 404.6L62.5 403.3L70 401.2L76 398.2L80.5 396.5L86.5 395.5L109 389.4L113.5 388.9L118 389L128.5 388.1L142 388L150.9 388.9L156.9 388.8L161.4 389.3L167.4 391L174.9 392.3L191.4 396L200.4 399.5L209.4 402.2L216.9 405.9L220.6 407.3L230.4 340.6L230.3 339.4L229.3 338.2L227.9 337.7L212.9 339.1L196.7 341.4L179.2 345.5L166.3 343.3L155 341.9L143.7 341.2L134.6 341L120.9 341.5L107.4 342.7L100.4 343.9L92.3 346L61.7 337L53 335.4L40.2 333.9L38.9 335L38.5 336.7Z" fill="#484aee" stroke="#0a0a0a" stroke-width="0.5" stroke-linejoin="round"/><path d="M49 407.8L52 406.7L59.5 401.9L68.5 398.9L76 395.2L79 394.1L85 392.9L94 390.1L101.5 388.6L109 386.4L113.5 386L118 386.1L128.5 385L134.5 385.2L142 384.9L150.9 385.9L156.9 385.8L161.4 386.3L167.4 387.9L176.4 389.3L192.9 393.2L200.4 396.2L209.4 399L216.9 402.5L221.1 403.9L230.4 340.6L230.3 339.4L229.3 338.2L227.9 337.7L212.9 339.1L196.7 341.4L179.2 345.5L166.3 343.3L155 341.9L143.7 341.2L134.6 341L120.9 341.5L107.4 342.7L100.4 343.9L92.3 346L61.7 337L53 335.4L40.2 333.9L38.9 335L38.5 336.7Z" fill="#4758f8" stroke="#0a0a0a" stroke-width="0.5" stroke-linejoin="round"/><path d="M48.6 404.6L52 403.5L61 398.3L68.5 395.6L74.5 392.4L79 390.7L85 389.5L92.5 386.9L101.5 385.1L109 383L118 382.5L127 381.4L134.5 381.6L142 381.3L150.9 382.2L158.4 382.3L162.9 383L168.9 384.5L176.4 385.6L185.3 388L194.4 390L201.9 393.1L210.9 396.1L218.4 399.5L221.6 400.2L230.4 340.6L230.3 339.4L229.3 338.2L227.9 337.7L212.9 339.1L196.7 341.4L179.2 345.5L166.3 343.3L155 341.9L143.7 341.2L134.6 341L120.9 341.5L107.4 342.7L100.4 343.9L92.3 346L61.7 337L53 335.4L40.2 333.9L38.9 335L38.5 336.7Z" fill="#4367fd" stroke="#0a0a0a" stroke-width="0.5" stroke-linejoin="round"/><path d="M48 401L52 399.9L59.5 395.4L67 392.2L73 388.9L77.5 386.9L85 385.1L92.5 382.4L101.5 380.5L109 378.4L127 376.7L142 376.6L150.9 377.5L158.4 377.7L176.4 380.9L185.4 383.5L194.4 385.3L218.4 395.3L222.2 396L230.4 340.6L230.3 339.4L229.3 338.2L227.9 337.7L212.9 339.1L196.7 341.4L179.2 345.5L166.3 343.3L155 341.9L143.7 341.2L134.6 341L120.9 341.5L107.4 342.7L100.4 343.9L92.3 346L61.7 337L53 335.4L40.2 333.9L38.9 335L38.5 336.7Z" fill="#3876fe" stroke="#0a0a0a" stroke-width="0.5" stroke-linejoin="round"/><path d="M47.5 396.6L50.5 396.1L52 395.4L58 391.7L67.7 386.5L74.5 381.7L79 380L85 379L88 376.9L91 375.5L95.5 374.4L101.5 374L106 371.7L109 370.8L113.5 370.5L118 371L122.5 369.5L127 368.9L130 369.1L134.5 370L142 368.8L146.5 369.2L152.4 370.6L156.9 370L159.9 370L162.9 370.6L168.9 373.2L173.4 372.8L177.9 373.3L182.4 375.1L185.4 377.1L189.9 377.2L194.4 378.1L197.4 379.5L203.4 383.4L213.5 388L218.4 390.1L222.9 391.1L230.3 339.6L229.5 338.4L227.9 337.7L213 339.1L196.7 341.4L179.2 345.5L166.3 343.3L155 341.9L143.7 341.2L134.6 341L120.9 341.5L107.4 342.7L100.4 343.9L92.3 346L61.7 337L53 335.4L40.2 333.9L38.9 335L38.5 336.7Z" fill="#2e85f8" stroke="#0a0a0a" stroke-width="0.5" stroke-linejoin="round"/><path d="M156.4 342.1L170.4 346.9L172.5 348.9L176 354.9L179.4 357.6L183.9 358.7L188.8 357.9L189.9 359L190.8 360.9L192.9 364.1L195.9 366.6L200.9 368.4L201.9 369.3L205 374.5L209.6 379L214.1 382L218.4 384.3L219.9 385L223.8 385.5L230.4 340.6L230.3 339.4L229.3 338.2L227.7 337.8L213 339.1L196.9 341.4L179.2 345.5ZM46.5 390.7L50.5 389.9L52 389.2L58.4 385L62.3 382L66.2 377.5L69.8 371.5L74.5 370L78.4 366.9L80.3 363.9L81.9 359.4L85 360.2L88 360.2L92.5 358.6L95.5 355.5L98.3 348.9L100 346.6L103 344.7L108.7 342.6L100.5 343.8L92.3 346L61.7 337L41.4 333.8L39.5 334.3L38.7 335.2L38.5 336.7Z" fill="#2a92ee" stroke="#0a0a0a" stroke-width="0.5" stroke-linejoin="round"/><path d="M174 344.6L178.8 350.4L180.9 352.3L183.9 354L189.9 355.6L191.7 356.4L198.9 362.4L206.3 366.9L216.9 375.8L221.4 378.1L224.8 378.6L230.4 340.6L230.3 339.4L229.3 338.2L227.7 337.8L213 339.1L196.9 341.4L179.2 345.5ZM45.4 383.1L50 382L54.6 379L64.2 370L71.5 365.1L79.4 357.9L88 354.3L91 351.3L94.6 345.3L92.3 346L68.1 338.6L59.5 336.5L41.2 333.8L39.5 334.3L38.7 335.2L38.5 336.7Z" fill="#249fe6" stroke="#0a0a0a" stroke-width="0.5" stroke-linejoin="round"/><path d="M179.5 345.4L182.4 349L186.4 351.9L195.9 355.8L203.4 360.3L211.6 363.9L221.4 369.7L226 370.4L230.4 340.6L230.2 339.2L229.1 338.1L227.7 337.8L213 339.1L196.9 341.4ZM44 373.6L49 372.5L60.5 365.4L68.5 361.5L74.5 357.3L83.4 353.4L86.4 350.4L89.2 345L61.7 337L41.4 333.8L39.7 334.1L38.7 335.2L38.5 336.7Z" fill="#1caadf" stroke="#0a0a0a" stroke-width="0.5" stroke-linejoin="round"/><path d="M183.1 344.6L186.9 349.1L191.4 351.4L216.9 358.6L227.5 360.5L230.4 339.9L229.5 338.4L227.9 337.7L212.9 339.1L196.9 341.4ZM42.2 361.4L46 361.9L47.5 361.5L56.5 358.4L67 355.8L73 352.9L80.5 351.9L82.1 350.4L82.9 348.9L84 343.5L61.6 336.9L41.4 333.8L40 334L38.9 335L38.5 336.7Z" fill="#0ab4d2" stroke="#0a0a0a" stroke-width="0.5" stroke-linejoin="round"/><path d="M39.3 341.7L50.5 343.5L59.5 343.6L67 342.4L69.7 341.3L71.7 339.7L59.5 336.5L40.9 333.8L39.3 334.4L38.5 335.9ZM186.5 343.8L188.6 347.3L189.9 348.3L192.9 349.1L204.9 349.4L209.4 350.3L215.4 350.9L219.9 350.8L224.4 350.2L228.9 350.5L230.4 340.1L229.5 338.4L227.9 337.7L213 339.1L196.7 341.4Z" fill="#04bbc2" stroke="#0a0a0a" stroke-width="0.5" stroke-linejoin="round"/><path d="M191.1 342.8L191.4 346L197.4 344.4L200.4 344.3L204.9 344.9L216.9 342.9L221.4 342.6L225.9 342.9L230.3 341.1L230.4 340.1L229.5 338.4L227.7 337.8L212.9 339.1L196.9 341.4Z" fill="#21c1b0" stroke="#0a0a0a" stroke-width="0.5" stroke-linejoin="round"/></g><g clip-path="url(#ccW)"><path d="M38.5 336.5L38.6 336.8L38.6 337L38.7 337.2L38.8 337.5L39 337.7L39.1 337.8L39.3 338L39.5 338.2L39.7 338.3L39.9 338.4L40.1 338.5L40.3 338.6L40.6 338.7L41.5 338.8L41.6 338.8L43.7 339.1L43.7 339.1L45.9 339.4L45.9 339.4L48 339.7L48 339.7L50.2 340L52.3 340.3L54.4 340.6L56.5 340.9L58.6 341.3L60.6 341.7L62.7 342.2L64.7 342.7L66.8 343.3L68.8 343.9L70.9 344.5L72.9 345.2L75 345.8L75 345.8L77 346.5L77.1 346.5L79.1 347.1L79.1 347.1L81.2 347.8L81.2 347.8L83.3 348.4L83.3 348.4L85.4 349L85.4 349L87.4 349.6L87.4 349.6L89.5 350.2L91.6 350.8L91.8 350.9L92 350.9L92.3 351L92.5 350.9L92.7 350.9L92.9 350.9L95.1 350.3L97.2 349.7L99.4 349.1L101.5 348.7L103.6 348.2L105.8 347.9L107.9 347.6L110.1 347.4L112.3 347.1L114.6 346.9L116.8 346.8L119 346.6L121.2 346.4L123.5 346.3L125.7 346.2L127.9 346.1L130.1 346L132.4 346L134.6 345.9L136.8 345.9L139 346L141.2 346L143.5 346.1L145.7 346.2L147.9 346.3L150.1 346.5L152.3 346.6L154.5 346.8L156.8 347L159 347.3L161.2 347.6L163.4 347.9L165.6 348.2L167.8 348.5L170 348.9L172.2 349.2L174.4 349.6L176.6 350L178.6 350.4L178.8 350.4L179.1 350.4L179.3 350.4L179.5 350.4L179.8 350.3L180 350.2L180.2 350.1L180.4 350L180.6 349.8L180.8 349.7L181 349.5L181.1 349.3L181.2 349.1L181.3 348.9L181.4 348.6L181.5 348.4L181.5 348.2L181.5 347.9L181.5 347.7L181.5 347.4L181.4 347.2L181.3 347L181.2 346.8L181.1 346.5L181 346.4L180.8 346.2L180.7 346L178.6 344.2L178.6 344.2L176.4 342.3L176.4 342.3L174.2 340.4L174.2 340.4L172 338.5L172 338.5L169.7 336.6L169.7 336.6L167.5 334.8L167.5 334.8L165.2 332.9L165.2 332.9L162.9 331.1L162.9 331.1L160.6 329.3L160.6 329.2L158.3 327.4L158.3 327.4L156 325.6L156 325.6L153.7 323.9L153.7 323.9L151.3 322.1L151.3 322.1L148.9 320.4L148.9 320.4L146.5 318.7L146.5 318.7L144 317.1L144 317.1L141.5 315.5L141.5 315.5L139 313.9L138.9 313.9L136.4 312.5L136.3 312.4L133.8 311L133.7 311L131.1 309.7L131.1 309.7L128.4 308.4L128.4 308.4L125.7 307.2L125.6 307.2L122.9 306.1L122.8 306.1L120.1 305.1L120 305.1L117.3 304.2L117.3 304.2L114.5 303.3L111.7 302.4L109 301.5L106.3 300.5L103.6 299.6L100.9 298.5L98.2 297.5L95.5 296.4L92.8 295.3L90.1 294.2L87.5 293.1L84.8 292L84.8 292L82.1 290.9L82 290.9L79.3 289.8L79.3 289.8L76.6 288.7L76.6 288.7L73.9 287.7L73.9 287.6L71.1 286.6L71.1 286.6L68.4 285.6L68.3 285.6L65.6 284.7L65.5 284.7L62.8 283.8L62.7 283.8L59.9 283L59.9 283L57.1 282.2L57 282.2L54.2 281.5L54.2 281.4L51.4 280.8L51.4 280.7L48.5 280.1L48.5 280.1L45.7 279.4L45.7 279.4L42.8 278.8L40 278.2L37.1 277.5L34.3 276.9L33.1 276.6L32.9 276.6L32.7 276.5L32.4 276.5L32.2 276.6L31.9 276.6L31.7 276.7L31.5 276.8L31.3 276.9L31.1 277L30.9 277.2L30.7 277.4L30.5 277.6L30.4 277.8L30.3 278L30.2 278.2L30.1 278.4L30.1 278.7L30.1 278.9L30.1 279.2L30.1 279.4Z" fill="#0ab4d2"/><path d="M119.2 304.8L115.1 317.2L111.5 324.8L107.9 329.3L105 331.3L102 332.9L97.5 334.4L93 335.2L87 335.6L82.5 335.5L67.5 332.8L54 328.8L49.6 328.3L37.6 330L38.6 337L39.3 338L40.3 338.6L56.5 340.9L62.7 342.2L92 350.9L101.5 348.7L107.9 347.6L119 346.6L132.4 346L143.5 346.1L154.5 346.8L165.6 348.2L178.8 350.4L180 350.2L181.1 349.3L181.5 347.4L180.7 346L162.9 331.1L148.9 320.4L141.5 315.5L133.7 311L125.6 307.2Z" fill="#04bbc2" stroke="#0a0a0a" stroke-width="0.5" stroke-linejoin="round"/><path d="M145.5 318.3L136.5 321.1L133.5 322.7L130.5 325.4L128.8 327.8L123.2 338.3L121.1 346.4L134.6 345.9L145.7 346.2L161.2 347.6L178.8 350.4L180 350.2L181 349.5L181.5 347.7L180.7 346L160.6 329.2L151.3 322.1Z" fill="#21c1b0" stroke="#0a0a0a" stroke-width="0.5" stroke-linejoin="round"/></g><g clip-path="url(#secc)"><g clip-path="url(#ccU)"><path d="M110.4 240.2L120.4 246.3L130.7 251.9L140.7 258L150.3 264.6L159.6 271.6L169.1 278.4L178.3 285.7L186.7 293.8L195.2 301.9L203.5 310.1L211.4 318.7L219.5 327.2L227.5 335.7L234.1 329.6L226 320.9L218 312.5L210 303.9L201.3 295.2L193 287.4L184.3 279L174.4 271.1L164.9 264.3L155.6 257.3L145.6 250.4L135.1 244L124.7 238.4L115.8 233Z" fill="url(#dt4)" opacity="0.85"/></g><g clip-path="url(#ccU)"><path d="M121.8 224.9L122.8 225.6L124 226.4L125.5 227.3L127.2 228.3L129 229.3L130.8 230.2L132.7 231.3L134.6 232.3L136.6 233.4L138.7 234.5L140.8 235.7L143 236.9L145.1 238.2L166.2 202.9L163.7 201.4L161 199.8L158.3 198.3L156 197.1L153.9 196L151.9 194.9L150.2 194L148.7 193.2L147.4 192.4L146.1 191.7L145.4 191.2L145.7 191.5L146.3 191.9Z" fill="url(#dt2)" opacity="0.6"/></g><g clip-path="url(#ccU)"><path d="M188.1 251L191.8 254.1L195.6 257.2L199.3 260.2L203 263.1L206.6 266.1L210 269L213.3 272L216.6 275.1L219.7 278.2L222.8 281.5L225.8 284.9L228.8 288.3L231.8 291.9L240.2 284.8L237.2 281.1L234 277.5L230.9 274L227.6 270.5L224.2 267.1L220.8 263.9L217.2 260.7L213.6 257.6L209.9 254.5L206.2 251.6L202.5 248.6L198.8 245.6L195.1 242.5Z" fill="url(#dt4)" opacity="0.85"/></g><g clip-path="url(#ccW)"><path d="M21.3 270.6L136.2 310.8L129.3 327.9L113.3 348L21.3 341Z" fill="url(#dt4)" opacity="0.95"/></g><g clip-path="url(#ccW)"><path d="M113.3 311.8L141.2 322.9L179.2 348L151.2 344.5L119.3 344Z" fill="url(#dt2)" opacity="0.75"/></g><g clip-path="url(#ccbot)"><path d="M79.3 347L111.3 347L119.3 362.1L97.3 374.1L75.3 362.1Z" fill="url(#dt3)" opacity="0.7"/></g><g clip-path="url(#ccbot)"><path d="M101.3 349L171.2 349L166.2 357L106.3 357Z" fill="url(#dt3)" opacity="0.7"/></g><g clip-path="url(#ccbot)"><path d="M179.2 348L228.2 335.9L227.2 366.1L215.2 388.2L191.2 374.1L175.2 358Z" fill="url(#dt2)" opacity="0.6"/></g><g clip-path="url(#ccK)"><path d="M201.2 239.5L241.2 255.6L241.2 291.7L226.2 273.7Z" fill="url(#dt3)" opacity="0.6"/></g><path d="M92.3 348.5L95.3 347.7L98.3 346.9L101.4 346.2L104.5 345.6L107.6 345.2L110.7 344.8L113.8 344.5L116.9 344.3L120 344.1L123.2 343.9L126.3 343.7L129.4 343.6L132.5 343.5L135.7 343.5L138.8 343.5L141.9 343.6L145.1 343.7L148.2 343.9L151.3 344.1L154.4 344.4L157.6 344.7L160.7 345L163.8 345.4L166.9 345.9L170 346.4L173.1 346.9L176.1 347.4L179.2 348" stroke="#35c9a0" stroke-width="2.6" fill="none"/><path d="M92.3 348.5L95.3 347.7L98.3 346.9L101.4 346.2L104.5 345.6L107.6 345.2L110.7 344.8L113.8 344.5L116.9 344.3L120 344.1L123.2 343.9L126.3 343.7L129.4 343.6L132.5 343.5L135.7 343.5L138.8 343.5L141.9 343.6L145.1 343.7L148.2 343.9L151.3 344.1L154.4 344.4L157.6 344.7L160.7 345L163.8 345.4L166.9 345.9L170 346.4L173.1 346.9L176.1 347.4L179.2 348" stroke="#050c12" stroke-width="2.0" fill="none" stroke-dasharray="2.2 1.3"/><path d="M33.6 279.2L36.7 279.9L39.7 280.6L42.7 281.3L45.7 282L48.8 282.7L51.8 283.4L54.8 284.1L57.8 284.9L60.8 285.8L63.7 286.7L66.7 287.7L69.6 288.7L72.5 289.8L75.4 290.9L78.3 292L81.2 293.2L84.1 294.4L86.9 295.5L89.8 296.7L92.7 297.9L95.6 299.1L98.4 300.2L101.3 301.3L104.2 302.4L107.2 303.4L110.1 304.4L113.1 305.4L116 306.3L119 307.3L121.9 308.4L124.8 309.5L127.6 310.7L130.4 312.1L133.2 313.5L135.9 315L138.6 316.6L141.2 318.2L143.8 319.9L146.4 321.6L148.9 323.4L151.4 325.3L153.9 327.1L156.4 329L158.8 330.9L161.3 332.9L163.7 334.8L166.1 336.8L168.5 338.8L170.9 340.8L173.2 342.8L175.6 344.8L177.9 346.9" stroke="#111" stroke-width="0.6" fill="none"/><path d="M33.7 280.2h2.5M35 278.9v2.5M62.6 285.6h2.4M63.8 284.4v2.4M65.3 286.5h2.4M66.5 285.3v2.4M86.3 296.8h2.9M87.8 295.4v2.9M89.2 297.7h2.5M90.5 296.5v2.5M116.6 306.7h2.9M118.1 305.2v2.9M119.6 307.6h2.4M120.8 306.4v2.4M144.6 321.6h2.5M145.9 320.3v2.5M147.1 322.5h2.9M148.6 321v2.9M166.9 339.7h2.4M168.1 338.5v2.4M169.4 340.6h2.8M170.8 339.2v2.8" stroke="#030303" stroke-width="1.95" fill="none" stroke-linecap="round"/><path d="M34.1 276.6h0M35.6 282.9h0M31.9 279.5h0M30.1 281h0M37.8 282.5h0M63.4 282.1h0M63.1 283.1h0M65.2 283.2h0M61.9 289.1h0M68.9 284.1h0M93.6 295.4h0M87.4 293.3h0M94.1 296.3h0M85.6 300.3h0M86 295.1h0M120.3 310.5h0M123.5 309h0M116.2 307.7h0M116.1 304.3h0M124.5 308h0M150.1 323.7h0M145.9 324.7h0M149.5 325.5h0M150.6 319.2h0M146.6 318.4h0M170.2 337.8h0M167.4 337.7h0M166.6 337h0M171.4 343.8h0M172.8 337.8h0" stroke="#050505" stroke-width="1.2" stroke-linecap="round" fill="none"/><path d="M111.8 241.2L114.5 242.9L117.1 244.5L119.9 246L122.6 247.5L125.4 249L128.1 250.5L130.9 252L133.6 253.5L136.2 255.1L138.9 256.8L141.5 258.5L144.1 260.3L146.7 262L149.2 263.9L151.7 265.7L154.2 267.6L156.7 269.5L159.2 271.3L161.8 273.2L164.3 275L166.9 276.8L169.4 278.6L171.9 280.5L174.4 282.4L176.8 284.4L179.1 286.5L181.4 288.6L183.6 290.8L185.8 293L188.1 295.2L190.3 297.4L192.6 299.5L194.9 301.6L197.2 303.8L199.4 305.9L201.6 308.2L203.8 310.4L205.9 312.7L208 315L210.1 317.3L212.3 319.6L214.4 321.9L216.6 324.2L218.8 326.4L220.9 328.7L223.1 330.9L225.2 333.2" stroke="#111" stroke-width="0.7" fill="none"/><path d="M112.1 242.6h2.9M113.5 241.1v2.9M125.9 250.8h2.5M127.1 249.5v2.5M128.3 251.7h3M129.8 250.2v3M145.5 263.1h2.5M146.8 261.8v2.5M164 276.3h3.2M165.6 274.7v3.2M179.1 288.6h2.7M180.4 287.2v2.7M181.6 289.5h2.9M183.1 288v2.9M196.9 304h2.9M198.4 302.6v2.9M206.2 315.9h3M207.7 314.4v3M208.9 316.8h3.2M210.4 315.3v3.2M221.3 331.7h2.7M222.6 330.4v2.7M223.8 332.6h3.1M225.3 331.1v3.1" stroke="#030303" stroke-width="1.95" fill="none" stroke-linecap="round"/><path d="M117.6 243.3h0M115.3 239.1h0M111 245.5h0M117.9 241.4h0M117.3 244.9h0M126.9 255.2h0M124.7 251.8h0M128.2 255h0M125.1 251.4h0M123.9 253.4h0M145.2 260.5h0M151.3 262.1h0M143.5 264.5h0M146.5 266.1h0M148.8 261h0M170.1 275.4h0M165.8 272.1h0M168.1 278.2h0M164.7 278.9h0M169 276.7h0M180.3 292h0M181.8 292.8h0M184.3 287h0M184.3 290.8h0M179.8 285.4h0M201.4 303.1h0M196.5 306.1h0M199.6 306.7h0M197.8 301.1h0M202.2 302.1h0M212.8 316.5h0M204.9 317.9h0M206.3 313.1h0M212.9 317.6h0M205.8 317h0M227.4 330.2h0M226 329.1h0M219.3 331.8h0M224 328.4h0M225.5 334.9h0" stroke="#050505" stroke-width="1.2" stroke-linecap="round" fill="none"/><path d="M196.3 243.5L198.9 245.6L201.4 247.7L204 249.8L206.6 251.9L209.2 254L211.8 256.1L214.4 258.2L216.9 260.4L219.4 262.6L221.8 264.8L224.2 267.1L226.6 269.5L228.9 271.9L231.2 274.3L233.4 276.8L235.6 279.3L237.7 281.8" stroke="#111" stroke-width="0.8" fill="none"/><path d="M194.4 243.6h2.3M195.5 242.4v2.3M196.9 244.5h2.7M198.2 243.1v2.7M206.3 253.2h2.5M207.5 252v2.5M208.9 254.1h2.7M210.2 252.8v2.7M215.6 262.5h2.6M216.9 261.2v2.6M218.3 263.4h2.6M219.6 262.1v2.6M231.1 276.3h2.4M232.3 275.1v2.4M233.8 277.2h2.4M235 276v2.4" stroke="#030303" stroke-width="1.95" fill="none" stroke-linecap="round"/><path d="M192.8 243.8h0M193.7 246.2h0M193.9 243.1h0M201.6 242.7h0M198.3 247.3h0M212.3 252.1h0M204.2 255.5h0M213.6 254h0M204.5 253.8h0M213.5 251.7h0M214.2 265.1h0M222.9 262.5h0M223.5 261.8h0M214.4 263.7h0M217.3 265.3h0M237.7 279.4h0M236.7 275.2h0M235.5 273.3h0M231 275.4h0M234.8 280.6h0" stroke="#050505" stroke-width="1.2" stroke-linecap="round" fill="none"/><path d="M35.6 335.3L38.8 335.9L41.9 336.4L45.1 336.9L48.3 337.3L51.4 337.7L54.6 338.2L57.8 338.7L60.9 339.3L64 340L67.1 340.9L70.2 341.8L73.3 342.7L76.3 343.7L79.4 344.6L82.5 345.6L85.5 346.5L88.6 347.4L91.7 348.3" stroke="#111" stroke-width="0.8" fill="none"/><path d="M33.1 335.1h2.9M34.6 333.6v2.9M35.9 336h2.8M37.3 334.6v2.8M44.1 336.7h2.9M45.5 335.3v2.9M46.8 337.6h2.7M48.2 336.3v2.7M53.2 337.7h2.6M54.5 336.4v2.6M56 338.6h2.4M57.2 337.4v2.4M62.8 340.3h2.4M64 339.1v2.4M65.4 341.2h2.6M66.7 339.9v2.6M74.7 342.9h2.8M76.1 341.5v2.8M77.6 343.8h2.5M78.8 342.6v2.5M85.5 347.2h2.3M86.6 346v2.3M87.9 348.1h2.8M89.3 346.6v2.8" stroke="#030303" stroke-width="1.95" fill="none" stroke-linecap="round"/><path d="M37.5 338.2h0M40.7 333.7h0M40.7 335.9h0M38.1 333.9h0M35.6 338h0M47.2 339.6h0M45.5 334.1h0M50.5 335.8h0M41.6 337.1h0M42.9 337.6h0M57.6 341.6h0M59.2 336.3h0M59.4 336.6h0M59.9 336h0M59.9 339.2h0M69.9 339.4h0M69.1 342.2h0M68.9 338.3h0M62.1 337.8h0M68.5 339.3h0M82.3 343.5h0M74 341.6h0M78 341h0M81.6 343.2h0M81.4 344h0M84 347.8h0M85.6 349.6h0M91.1 344.7h0M84.9 346.3h0M88.5 351h0" stroke="#050505" stroke-width="1.2" stroke-linecap="round" fill="none"/><path d="M90 347.4h3.2M91.6 345.8v3.2M88.4 347.6h3.2M90 346v3.2M92.5 347.6h3.2M94.1 346v3.2M89.9 349.6h3.2M91.5 348v3.2M177.9 350.2h3.2M179.5 348.6v3.2M177.6 347.9h3.2M179.2 346.3v3.2M178.4 347h3.2M180 345.4v3.2M180.4 347.7h3.2M182 346.1v3.2" stroke="#030303" stroke-width="1.8" fill="none" stroke-linecap="round"/></g></g><rect x="30.8" y="237.5" width="207.9" height="176.8" fill="none" stroke="#777" stroke-width="0.6"/><text x="46.5" y="424.6" font-size="7.1" text-anchor="middle" fill="#2c2c2c" font-family="Liberation Sans, Arial, sans-serif">−0.015</text><text x="75.4" y="424.6" font-size="7.1" text-anchor="middle" fill="#2c2c2c" font-family="Liberation Sans, Arial, sans-serif">−0.01</text><text x="104.3" y="424.6" font-size="7.1" text-anchor="middle" fill="#2c2c2c" font-family="Liberation Sans, Arial, sans-serif">−0.005</text><text x="134.4" y="424.6" font-size="7.1" text-anchor="middle" fill="#2c2c2c" font-family="Liberation Sans, Arial, sans-serif">0</text><text x="163.3" y="424.6" font-size="7.1" text-anchor="middle" fill="#2c2c2c" font-family="Liberation Sans, Arial, sans-serif">0.005</text><text x="192.2" y="424.6" font-size="7.1" text-anchor="middle" fill="#2c2c2c" font-family="Liberation Sans, Arial, sans-serif">0.01</text><text x="221.1" y="424.6" font-size="7.1" text-anchor="middle" fill="#2c2c2c" font-family="Liberation Sans, Arial, sans-serif">0.015</text><text x="27.3" y="407.9" font-size="7.1" text-anchor="end" fill="#2c2c2c" font-family="Liberation Sans, Arial, sans-serif">54</text><text x="27.3" y="386.9" font-size="7.1" text-anchor="end" fill="#2c2c2c" font-family="Liberation Sans, Arial, sans-serif">56</text><text x="27.3" y="365.9" font-size="7.1" text-anchor="end" fill="#2c2c2c" font-family="Liberation Sans, Arial, sans-serif">58</text><text x="27.3" y="344.9" font-size="7.1" text-anchor="end" fill="#2c2c2c" font-family="Liberation Sans, Arial, sans-serif">60</text><text x="27.3" y="323.9" font-size="7.1" text-anchor="end" fill="#2c2c2c" font-family="Liberation Sans, Arial, sans-serif">62</text><text x="27.3" y="303" font-size="7.1" text-anchor="end" fill="#2c2c2c" font-family="Liberation Sans, Arial, sans-serif">64</text><text x="27.3" y="282" font-size="7.1" text-anchor="end" fill="#2c2c2c" font-family="Liberation Sans, Arial, sans-serif">66</text><text x="27.3" y="261" font-size="7.1" text-anchor="end" fill="#2c2c2c" font-family="Liberation Sans, Arial, sans-serif">68</text><path d="M48.1 414.3v-2M48.1 237.5v2M77 414.3v-2M77 237.5v2M105.9 414.3v-2M105.9 237.5v2M134.8 414.3v-2M134.8 237.5v2M163.6 414.3v-2M163.6 237.5v2M192.5 414.3v-2M192.5 237.5v2M221.4 414.3v-2M221.4 237.5v2M30.8 405.4h2M238.7 405.4h-2M30.8 384.4h2M238.7 384.4h-2M30.8 363.4h2M238.7 363.4h-2M30.8 342.4h2M238.7 342.4h-2M30.8 321.4h2M238.7 321.4h-2M30.8 300.5h2M238.7 300.5h-2M30.8 279.5h2M238.7 279.5h-2M30.8 258.5h2M238.7 258.5h-2" stroke="#777" stroke-width="0.6" fill="none"/><text x="135.6" y="434" font-size="8" text-anchor="middle" fill="#2c2c2c" font-family="Liberation Sans, Arial, sans-serif">Coordinate/θ</text><text transform="translate(14.6 325.9) rotate(-90)" font-size="7.7" text-anchor="middle" fill="#2c2c2c" font-family="Liberation Sans, Arial, sans-serif">Radius/mm</text><text x="139.2" y="449.3" font-size="12.5" text-anchor="middle" fill="#111" font-family="Liberation Serif, Times New Roman, serif">T = 320 K</text><rect x="245.3" y="237.5" width="10.7" height="176.8" fill="url(#pg)" stroke="#777" stroke-width="0.5"/><text x="258.6" y="250.7" font-size="6.7" fill="#2c2c2c" font-family="Liberation Sans, Arial, sans-serif">40</text><text x="258.6" y="277" font-size="6.7" fill="#2c2c2c" font-family="Liberation Sans, Arial, sans-serif">20</text><text x="258.6" y="303.4" font-size="6.7" fill="#2c2c2c" font-family="Liberation Sans, Arial, sans-serif">0</text><text x="258.6" y="329.8" font-size="6.7" fill="#2c2c2c" font-family="Liberation Sans, Arial, sans-serif">−20</text><text x="258.6" y="356.2" font-size="6.7" fill="#2c2c2c" font-family="Liberation Sans, Arial, sans-serif">−40</text><text x="258.6" y="382.6" font-size="6.7" fill="#2c2c2c" font-family="Liberation Sans, Arial, sans-serif">−60</text><text x="258.6" y="409" font-size="6.7" fill="#2c2c2c" font-family="Liberation Sans, Arial, sans-serif">−80</text><path d="M256 248.5h-2M256 274.8h-2M256 301.2h-2M256 327.6h-2M256 354h-2M256 380.4h-2M256 406.8h-2" stroke="#555" stroke-width="0.6" fill="none"/></g><g><g clip-path="url(#bxd)"><g clip-path="url(#cdband)"><path d="M375.6 235L375.5 235L372 235.5L372 235.5L368.5 236L368.4 236L364.9 236.6L364.9 236.6L361.4 237.3L361.3 237.3L357.8 238L357.8 238L354.3 238.7L354.3 238.8L350.8 239.6L350.7 239.6L347.3 240.4L347.2 240.5L343.7 241.4L343.7 241.4L340.2 242.4L340.2 242.4L336.7 243.4L336.7 243.4L333.2 244.5L333.2 244.5L329.7 245.7L329.7 245.7L326.2 246.9L326.2 246.9L322.7 248.1L322.7 248.1L319.2 249.5L319.2 249.5L315.8 250.8L315.7 250.8L312.3 252.3L312.3 252.3L308.8 253.7L308.8 253.8L305.4 255.3L305.4 255.3L301.9 256.9L301.9 256.9L298.5 258.5L298.3 258.7L298.1 258.8L297.9 258.9L297.7 259.1L297.6 259.3L297.4 259.5L297.3 259.7L297.2 260L297.2 260.2L297.1 260.4L297.1 260.7L297.1 260.9L297.1 261.2L299.8 279.3L299.8 279.5L299.9 279.8L300 280L300.1 280.2L300.2 280.4L300.4 280.6L300.6 280.8L300.8 280.9L301 281.1L301.2 281.2L301.4 281.3L301.7 281.4L302.9 281.7L302.9 281.7L305.7 282.3L305.8 282.3L308.6 283L308.6 283L311.4 283.6L314.2 284.2L317.1 284.9L319.9 285.5L322.6 286.2L325.4 286.9L328.2 287.7L330.9 288.5L333.6 289.4L336.3 290.3L339 291.2L341.7 292.2L344.4 293.3L347 294.3L349.7 295.4L352.4 296.5L355.1 297.6L357.7 298.7L357.7 298.7L360.4 299.9L360.4 299.9L363.1 301L363.1 301L365.8 302L365.8 302L368.5 303.1L368.6 303.1L371.3 304.1L371.3 304.2L374 305.2L374 305.2L376.8 306.1L376.8 306.1L379.6 307.1L379.6 307.1L382.3 308L385.1 308.8L387.8 309.7L390.5 310.7L393.1 311.7L395.7 312.9L398.2 314.1L400.8 315.4L403.3 316.7L405.7 318.2L408.2 319.6L410.6 321.2L413 322.8L415.3 324.4L417.6 326.1L419.9 327.8L422.2 329.5L424.5 331.3L426.8 333.1L429 334.9L431.3 336.7L433.5 338.6L435.7 340.4L437.9 342.3L440.1 344.2L442.3 346L444.5 347.9L446.7 349.8L446.9 350L447.1 350.1L447.3 350.2L447.5 350.3L447.7 350.4L447.9 350.4L448.2 350.4L448.4 350.4L448.6 350.4L448.9 350.4L466.6 346.2L482.4 344L497 342.6L497.2 342.6L497.5 342.5L497.7 342.5L497.9 342.4L498.1 342.3L498.3 342.1L498.5 342L498.7 341.8L498.8 341.6L498.9 341.4L499 341.2L499.1 341L499.2 340.7L499.2 340.5L499.7 337.2L499.8 336.9L499.8 336.7L499.7 336.4L499.7 336.2L499.6 335.9L499.5 335.7L499.4 335.5L499.3 335.3L499.1 335.1L498.1 334L498.1 333.9L496.1 331.8L496.1 331.8L494.2 329.7L494.2 329.7L492.2 327.6L492.2 327.6L490.2 325.6L490.2 325.6L488.2 323.5L486.3 321.4L484.3 319.4L482.3 317.3L480.4 315.2L478.5 313.1L476.6 311L476.6 311L474.6 308.9L474.6 308.9L472.7 306.8L472.6 306.7L470.6 304.7L470.6 304.7L468.6 302.7L468.5 302.6L466.4 300.7L466.4 300.7L464.3 298.7L462.3 296.8L460.2 294.8L458.2 292.8L456.1 290.8L454.1 288.8L454.1 288.8L452 286.8L452 286.8L449.9 284.8L449.9 284.8L447.8 282.9L447.7 282.8L445.6 281L445.5 280.9L443.3 279.1L443.2 279.1L441 277.4L440.9 277.4L438.6 275.7L438.6 275.7L436.3 274L436.3 274L434 272.3L431.7 270.7L429.4 269L427.1 267.3L424.8 265.6L424.8 265.6L422.5 263.9L422.5 263.9L420.2 262.2L420.2 262.2L417.9 260.5L417.9 260.5L415.5 258.8L415.5 258.8L413.2 257.2L413.1 257.2L410.7 255.6L410.7 255.6L408.3 254L408.3 254L405.9 252.5L405.8 252.5L403.4 251L403.3 251L400.9 249.6L400.8 249.6L398.3 248.2L398.3 248.2L395.8 246.8L395.8 246.8L393.3 245.5L390.8 244.1L388.4 242.7L385.9 241.3L383.6 239.9L381.3 238.4L379.3 236.7L378.2 235.6L378 235.5L377.8 235.3L377.6 235.2L377.4 235.1L377.1 235L376.9 235L376.6 234.9L376.4 234.9L376.2 234.9Z" fill="#2bc3a8"/><path d="M488.1 343.4L487.1 329.9L485.5 322.3L486.4 321.6L468.6 302.7L449.9 284.8L440.9 277.4L410.7 255.6L403.3 251L385.9 241.3L381.3 238.4L377.4 235.1L372 235.5L357.8 238L336.7 243.4L326.2 246.9L312.3 252.3L298.5 258.5L297.3 259.7L297.1 261.2L299.8 279.3L301 281.1L322.6 286.2L333.6 289.4L344.4 293.3L371.3 304.1L387.8 309.7L395.7 312.9L405.7 318.2L417.6 326.1L431.3 336.7L447.3 350.2L448.9 350.4L466.6 346.2Z" fill="#3ac994" stroke="#0a0a0a" stroke-width="0.5" stroke-linejoin="round"/><path d="M458.9 347.9L458.1 335.9L458.7 332.9L459.8 330.5L461.3 328.8L462.8 327.8L464.3 327.4L465.8 327.5L470.2 328.9L473.2 329.3L476.2 328.2L477.7 326.9L479.2 323.9L479.9 319.3L479.8 316.3L478.7 313.3L468.6 302.7L449.9 284.8L443.2 279.1L413.1 257.2L403.4 251L383.6 239.9L377.6 235.2L376.4 234.9L372 235.5L357.8 238L336.7 243.4L315.7 250.8L301.9 256.9L298.3 258.7L297.4 259.5L297.1 261.2L299.8 279.3L301 281.1L322.6 286.2L333.6 289.4L344.4 293.3L371.3 304.1L393.1 311.7L403.3 316.7L415.3 324.4L429 334.9L447.1 350.1L448.6 350.4ZM470.2 310.6L471.7 310.6L473.1 311.8L472.9 313.3L472.2 314.8L470.2 316.9L468.8 317.5L467.3 317.2L466.3 316.3L466.1 314.8L466.5 313.3L468.8 311.1Z" fill="#54cc7c" stroke="#0a0a0a" stroke-width="0.5" stroke-linejoin="round"/><path d="M443.9 347.4L448.2 341.9L450.5 335.9L451.1 331.4L450.9 322.3L451.8 317.8L454.3 313.3L461.5 305.7L463.1 302.7L464 298.4L445.5 280.9L420.2 262.2L405.9 252.5L383.6 239.9L377.8 235.3L375.6 235L361.3 237.3L350.7 239.6L336.7 243.4L315.7 250.8L301.9 256.9L298.3 258.7L297.4 259.5L297.1 261.2L299.8 279.3L301 281.1L322.6 286.2L333.6 289.4L344.4 293.3L371.3 304.1L387.8 309.7L395.7 312.9L403.3 316.7L413 322.8L426.8 333.1ZM473.4 320.8L474.7 322.5L476.2 321.7L476.6 320.8L476.2 319.8L474.7 319.2Z" fill="#75cc62" stroke="#0a0a0a" stroke-width="0.5" stroke-linejoin="round"/><path d="M364.3 236.8L370.3 245.5L372.8 247L374.7 246.6L377.7 243.5L379.2 242.7L380.7 242.6L382.2 243.1L385.2 245.6L388.1 247.2L391.1 247.2L394.4 246.1L383.6 239.9L377.1 235Z" fill="#98c947" stroke="#0a0a0a" stroke-width="0.5" stroke-linejoin="round"/></g><g clip-path="url(#cdU)"><path d="M464.3 241.4L464.3 241.4L460.8 240.5L460.7 240.4L457.3 239.6L457.2 239.6L453.7 238.8L453.7 238.7L450.2 238L450.2 238L446.7 237.3L446.6 237.3L443.1 236.6L443.1 236.6L439.6 236L439.5 236L436 235.5L436 235.5L432.5 235L432.4 235L428.9 234.6L428.9 234.6L425.4 234.2L425.3 234.2L421.8 233.9L421.8 233.9L418.3 233.7L418.2 233.7L414.7 233.5L414.7 233.5L411.1 233.3L411.1 233.3L407.6 233.2L407.5 233.2L404 233.2L404 233.2L400.5 233.2L400.4 233.2L396.9 233.3L396.9 233.3L393.3 233.5L393.3 233.5L389.8 233.7L389.7 233.7L386.2 233.9L386.2 233.9L382.7 234.2L382.6 234.2L379.1 234.6L379.1 234.6L376.3 234.9L376.1 235L375.8 235L375.6 235.1L375.4 235.2L375.2 235.4L375 235.5L374.8 235.7L374.6 235.9L374.5 236.1L374.4 236.3L374.3 236.5L374.2 236.7L374.2 237L374.1 237.2L374.1 237.5L374.1 237.7L374.2 238L374.2 238.2L374.3 238.4L374.4 238.7L374.6 238.9L374.7 239.1L374.9 239.2L376 240.3L376.2 240.5L378.4 242.2L378.5 242.4L380.9 244L381 244L383.4 245.5L383.5 245.6L385.9 247L386 247L388.5 248.4L388.5 248.4L391 249.8L391 249.8L393.5 251.1L396 252.5L398.5 253.9L400.9 255.2L403.3 256.7L405.7 258.2L408.1 259.7L410.4 261.3L412.8 262.9L415.1 264.5L417.4 266.1L419.6 267.8L421.9 269.5L424.2 271.2L424.2 271.2L426.5 273L426.5 273L428.8 274.7L428.8 274.7L431.1 276.3L431.2 276.3L433.5 278L435.8 279.6L438.1 281.3L440.3 283L442.5 284.7L444.6 286.5L446.6 288.4L448.7 290.4L450.7 292.3L452.7 294.3L454.8 296.3L454.8 296.4L456.8 298.4L456.9 298.4L458.9 300.4L458.9 300.4L461 302.3L461 302.3L463.1 304.3L465.2 306.2L467.2 308.2L469.1 310.2L471.1 312.2L473 314.3L474.9 316.4L476.8 318.5L476.9 318.6L478.8 320.7L478.8 320.7L480.8 322.8L480.8 322.8L482.8 324.8L482.8 324.8L484.7 326.9L486.7 329L488.7 331L490.6 333.1L492.6 335.2L494.5 337.3L495.5 338.3L495.6 338.5L495.8 338.7L496 338.8L496.2 338.9L496.5 339L496.7 339.1L496.9 339.1L497.2 339.1L497.4 339.1L497.7 339.1L497.9 339.1L498.1 339L498.4 338.9L498.6 338.8L498.8 338.7L499 338.5L499.1 338.3L499.3 338.1L499.4 337.9L499.5 337.7L499.6 337.5L499.7 337.2L499.8 337L508 281.1L508 280.8L508 280.6L508 280.4L507.9 280.1L507.9 279.9L507.8 279.7L507.7 279.5L507.5 279.3L507.4 279.1L507.3 278.9L507.3 278.9L505.5 276.9L505.5 276.9L503.7 274.9L503.7 274.8L501.9 272.8L501.9 272.8L500.1 270.9L500.1 270.8L498.3 268.9L498.2 268.9L496.4 267L496.3 266.9L494.4 265.1L494.4 265L492.5 263.2L492.5 263.2L490.5 261.3L490.5 261.3L488.5 259.5L488.5 259.5L486.5 257.8L486.5 257.7L484.4 256L484.4 256L482.4 254.3L482.3 254.3L480.3 252.6L480.3 252.6L478.2 250.9L478.2 250.9L476.1 249.2L474.1 247.5L472 245.9L470 244.2L468.1 242.7L467.9 242.5L467.7 242.4L467.5 242.3L467.2 242.2Z" fill="#14b0d8"/><path d="M504 306.7L496.5 301.4L495 300L491 292L489 289L483.1 283.4L475.6 278.4L468.6 269.4L462.2 262.6L450.7 252.8L442.8 245.1L430.1 234.7L414.7 233.5L396.9 233.3L376.3 234.9L375.2 235.4L374.4 236.3L374.1 237.7L374.6 238.9L378.5 242.4L383.5 245.6L400.9 255.2L408.1 259.7L442.5 284.7L467.2 308.2L495.5 338.3L496.7 339.1L498.6 338.8L499.7 337.2Z" fill="#01b8c9" stroke="#0a0a0a" stroke-width="0.5" stroke-linejoin="round"/><path d="M502.1 321.4L499.5 318L492 313L488.7 310.1L486.5 307L483.5 301L481.3 298L478.6 296L469.7 291.5L466.7 289.1L464.1 285.9L461.4 279.9L459.2 277L447.3 269.7L442.8 265.6L436.8 258.4L432.3 254.2L404.5 233.2L393.3 233.5L382.7 234.2L376.1 235L374.5 236.1L374.1 237.5L374.6 238.9L378.5 242.4L383.5 245.6L400.9 255.2L408.1 259.7L442.5 284.7L467.2 308.2L495.5 338.3L496.7 339.1L498.6 338.8L499.7 337.2Z" fill="#12beb9" stroke="#0a0a0a" stroke-width="0.5" stroke-linejoin="round"/><path d="M425.4 272.1L419.1 263.3L409.9 255.3L403 246.8L401 245.1L392 239.8L383.9 234.1L376.1 235L374.5 236.1L374.1 237.5L374.6 238.9L378.5 242.4L385.9 247L405.7 258.2L415.1 264.5Z" fill="#2bc3a8" stroke="#0a0a0a" stroke-width="0.5" stroke-linejoin="round"/></g><g clip-path="url(#cdK)"><path d="M510.9 261.2L510.9 260.9L510.9 260.7L510.9 260.4L510.8 260.2L510.8 260L510.7 259.7L510.6 259.5L510.4 259.3L510.3 259.1L510.1 258.9L509.9 258.8L509.7 258.7L509.5 258.5L506.1 256.9L506.1 256.9L502.6 255.3L502.6 255.3L499.2 253.8L499.2 253.7L495.7 252.3L495.7 252.3L492.3 250.8L492.2 250.8L488.8 249.5L488.8 249.5L485.3 248.1L485.3 248.1L481.8 246.9L481.8 246.9L478.3 245.7L478.3 245.7L474.8 244.5L474.8 244.5L471.3 243.4L471.3 243.4L467.8 242.4L467.8 242.4L467.5 242.3L467.3 242.2L467 242.2L466.8 242.2L466.5 242.2L466.3 242.2L466.1 242.3L465.8 242.4L465.6 242.5L465.4 242.6L465.2 242.8L465.1 242.9L464.9 243.1L464.8 243.3L464.6 243.5L464.5 243.8L464.5 244L464.4 244.2L464.4 244.5L464.3 244.7L464.4 245L464.4 245.2L464.5 245.4L464.5 245.7L464.6 245.9L464.8 246.1L464.9 246.3L465.1 246.5L465.3 246.6L466.9 248L466.9 248L468.9 249.7L468.9 249.7L471 251.4L471 251.4L473.1 253L475.2 254.7L477.2 256.4L479.3 258.1L481.3 259.8L483.3 261.5L485.3 263.2L487.2 265L489.2 266.8L491.1 268.6L492.9 270.4L494.8 272.3L496.6 274.2L498.4 276.1L500.1 278.1L501.9 280.1L503.6 282.1L503.6 282.2L503.8 282.4L504 282.5L504.2 282.7L504.4 282.8L504.6 282.9L504.9 283L505.1 283L505.4 283L505.6 283.1L505.9 283L506.1 283L506.3 282.9L506.6 282.8L506.8 282.7L507 282.6L507.2 282.4L507.4 282.2L507.5 282.1L507.7 281.8L507.8 281.6L507.9 281.4L507.9 281.2L508 280.9Z" fill="#75cc62"/></g><g clip-path="url(#cdbot)"><path d="M319.7 414.9L319.7 415.2L319.8 415.4L319.9 415.6L320 415.8L320.2 416L320.3 416.2L320.5 416.4L320.7 416.6L320.9 416.7L321.1 416.8L321.3 416.9L321.5 417L321.8 417L322 417.1L322.3 417.1L322.5 417L322.8 417L323 416.9L323.2 416.8L325.9 415.5L328.5 414.3L331.2 413.1L333.8 412L336.5 410.9L339.1 409.8L341.8 408.8L344.5 407.9L347.2 406.9L349.8 406L352.5 405.2L355.2 404.4L357.9 403.7L360.6 402.9L363.3 402.3L366 401.6L368.7 401.1L371.4 400.5L374.1 400L376.8 399.6L379.5 399.2L382.3 398.8L385 398.5L387.7 398.2L390.4 397.9L393.1 397.7L395.8 397.6L398.6 397.5L401.3 397.4L404 397.4L406.7 397.4L409.4 397.5L412.2 397.6L414.9 397.7L417.6 397.9L420.3 398.2L423 398.5L425.7 398.8L428.5 399.2L431.2 399.6L433.9 400L436.6 400.5L439.3 401.1L442 401.6L444.7 402.3L447.4 402.9L450.1 403.7L452.8 404.4L455.5 405.2L458.2 406L460.8 406.9L463.5 407.9L466.2 408.8L468.9 409.8L471.5 410.9L474.2 412L476.8 413.1L479.5 414.3L482.1 415.5L484.8 416.8L485 416.9L485.2 417L485.5 417L485.7 417.1L486 417.1L486.2 417L486.5 417L486.7 416.9L486.9 416.8L487.1 416.7L487.3 416.6L487.5 416.4L487.7 416.2L487.8 416L488 415.8L488.1 415.6L488.2 415.4L488.3 415.2L488.3 414.9L499.2 340.6L499.2 340.4L499.2 340.1L499.2 339.9L499.2 339.6L499.1 339.4L499 339.2L498.9 338.9L498.7 338.7L498.6 338.5L498.4 338.4L498.2 338.2L498 338.1L497.8 338L497.5 337.9L497.3 337.8L497 337.8L496.8 337.7L496.5 337.8L481.9 339.1L481.8 339.1L465.9 341.4L465.6 341.4L448.3 345.5L448.2 345.5L448.2 345.5L446.5 345.2L446.5 345.2L444.3 344.8L444.3 344.8L442.1 344.4L442.1 344.4L439.9 344L439.9 344L437.6 343.7L437.6 343.7L435.4 343.3L435.4 343.3L433.2 343L433.1 343L430.9 342.7L430.9 342.7L428.7 342.4L428.7 342.4L426.4 342.2L426.4 342.2L424.2 341.9L424.1 341.9L421.9 341.7L421.9 341.7L419.7 341.6L419.6 341.6L417.4 341.4L417.4 341.4L415.1 341.3L415.1 341.3L412.9 341.2L412.8 341.2L410.6 341.1L410.6 341.1L408.3 341L408.3 341L406.1 341L406 341L403.8 341L403.8 341L401.5 341.1L401.5 341.1L399.3 341.1L399.2 341.1L397 341.2L397 341.2L394.8 341.3L394.7 341.3L392.5 341.4L392.5 341.4L390.2 341.5L390.2 341.5L388 341.7L388 341.7L385.7 341.9L385.7 341.9L383.5 342.1L383.5 342.1L381.2 342.3L381.2 342.3L379 342.5L379 342.5L376.7 342.7L376.7 342.8L374.5 343L374.4 343.1L372.2 343.4L372.1 343.4L369.9 343.8L369.8 343.9L367.7 344.4L367.6 344.4L365.4 344.9L365.4 344.9L363.2 345.5L363.2 345.5L361.7 346L360.3 345.5L358.3 344.9L356.2 344.3L354.2 343.7L352.1 343.1L350 342.4L348 341.8L345.9 341.2L343.9 340.5L343.9 340.5L341.8 339.8L341.8 339.8L339.7 339.2L339.7 339.2L337.7 338.6L337.6 338.6L335.5 338L335.5 338L333.4 337.5L333.4 337.4L331.3 337L331.2 336.9L329.1 336.5L329 336.5L326.9 336.1L326.9 336.1L324.8 335.8L324.7 335.8L322.6 335.4L322.6 335.4L320.4 335.2L320.4 335.2L318.3 334.9L316.2 334.6L314.1 334.3L312 334L311.1 333.8L310.8 333.8L310.6 333.8L310.3 333.8L310.1 333.9L309.8 333.9L309.6 334L309.4 334.1L309.2 334.3L309 334.4L308.8 334.6L308.7 334.8L308.5 335L308.4 335.2L308.3 335.4L308.2 335.7L308.2 335.9L308.2 336.2L308.2 336.4L308.2 336.7Z" fill="#3e26a8"/><path d="M320.3 416.3L322.6 413.6L324.6 412.5L329.1 408.9L343.3 404.6L353 400L358.9 399.5L363.4 398.6L372.2 395.6L378.3 394L387.3 393.3L394.8 393.3L403.7 392.4L414.2 393.4L420.1 393.3L429.1 393.9L436.5 395.6L441 397.4L445.5 398.6L454.5 399.7L464.9 404.3L478.3 408.4L484.3 412.2L488 415.9L499.2 340.6L499.1 339.4L498.2 338.2L496.8 337.7L481.8 339.1L465.6 341.4L448.3 345.5L435.4 343.3L424.2 341.9L412.9 341.2L403.8 341L390.2 341.5L376.7 342.7L369.8 343.9L361.7 346L331.3 337L311.1 333.8L309.6 334L308.5 335L308.2 336.7L319.7 414.9Z" fill="#4230c4" stroke="#0a0a0a" stroke-width="0.5" stroke-linejoin="round"/><path d="M319.4 412.8L323.1 410.8L326.8 407.6L329.1 406.2L333.5 404.5L339.5 403L348.5 398.7L351.5 397.7L355.9 397L378.3 390.9L402.2 389.4L409.7 389.5L429.1 390.7L448.5 395.8L456 397.3L459.9 398.6L467.9 402.1L478.3 405.6L488.8 411.9L499.2 340.6L499.1 339.4L498.2 338.2L496.8 337.7L481.8 339.1L465.6 341.4L448.3 345.5L435.4 343.3L424.2 341.9L412.9 341.2L403.8 341L390.2 341.5L376.7 342.7L369.8 343.9L361.7 346L331.3 337L311.1 333.8L309.6 334L308.5 335L308.2 336.7Z" fill="#463bdd" stroke="#0a0a0a" stroke-width="0.5" stroke-linejoin="round"/><path d="M318.9 409.5L321.6 408.4L326.1 405L329.1 403.2L332.1 401.9L338.7 400.1L345.5 396.5L350 394.9L354.9 394.1L363.4 391.3L370.9 389.8L378.3 387.6L399.2 386L403.7 386.3L411.2 386L420.1 387L427.6 387.2L432.1 388.1L436.5 389.6L444 391L453 393.8L457.4 394.5L461.9 395.9L469.4 399.7L478.3 402.5L481.3 404.1L485.8 407.4L489.2 408.7L499.2 340.6L499.1 339.4L498.2 338.2L496.8 337.7L481.8 339.1L465.6 341.4L448.3 345.5L435.4 343.3L424.2 341.9L412.9 341.2L403.8 341L390.2 341.5L376.7 342.7L369.8 343.9L361.7 346L331.3 337L322.6 335.4L309.8 333.9L308.5 335L308.2 336.7Z" fill="#4848ec" stroke="#0a0a0a" stroke-width="0.5" stroke-linejoin="round"/><path d="M318.4 405.9L321.6 404.7L329.1 399.8L338 396.5L344 393.3L348.5 391.6L354.4 390.3L363.4 387.3L370.9 385.8L378.3 383.7L387.3 383.2L397.7 382L403.7 382.3L411.2 382L420.1 383.1L427.6 383.3L445.5 387.3L453 389.9L461.9 392L469.4 395.8L478.3 399.1L485.8 403.6L489.7 405.2L499.2 340.6L499.1 339.4L498.2 338.2L496.8 337.7L481.8 339.1L465.6 341.4L448.3 345.5L435.4 343.3L424.2 341.9L412.9 341.2L403.8 341L390.2 341.5L376.7 342.7L369.8 343.9L361.7 346L331.3 337L322.6 335.4L309.8 333.9L308.5 335L308.2 336.7Z" fill="#4756f7" stroke="#0a0a0a" stroke-width="0.5" stroke-linejoin="round"/><path d="M317.8 401.8L321.6 400.3L329.1 395.8L336.5 392.5L345.5 387.8L354.4 385.2L361.9 382.6L379.8 378.4L399.2 376.8L412.7 376.9L427.6 378.3L445.5 382.2L453 384.8L460.4 386.7L463.4 387.8L470.9 391.8L479.8 395.9L487.3 400.1L490.3 401.1L499.2 340.6L499.1 339.4L498.2 338.2L496.8 337.7L481.8 339.1L465.6 341.4L448.3 345.5L435.4 343.3L424.2 341.9L412.9 341.2L403.8 341L390.2 341.5L376.7 342.7L369.8 343.9L361.7 346L331.3 337L322.6 335.4L309.8 333.9L308.5 335L308.2 336.7Z" fill="#4564fd" stroke="#0a0a0a" stroke-width="0.5" stroke-linejoin="round"/><path d="M317.1 397.1L321.4 395.6L327.6 391.7L336.5 386.9L344 381.1L348.5 379.4L353.7 379L357.4 376.1L360.4 374.5L364.9 373.6L370.9 373.7L375.3 371.2L378.3 370.3L382.8 370.1L387.3 370.7L391.8 369.1L396.2 368.5L400.7 368.9L403.7 369.8L411.2 368.5L415.7 369L420.1 370.5L426.1 369.8L429.1 370L432.1 370.7L436.5 373.2L438 373.6L442.5 373.2L447 373.8L450 375.2L454.5 379L458.9 378.9L463.4 380.3L466.4 382.2L471.6 386.5L485.8 394.6L491 396.5L499.2 339.6L498.4 338.4L496.8 337.7L481.9 339.1L465.6 341.4L448.3 345.5L435.4 343.3L424.2 341.9L412.9 341.2L403.8 341L390.2 341.5L376.7 342.7L369.8 343.9L361.7 346L331.3 337L322.6 335.4L309.8 333.9L308.5 335L308.2 336.7Z" fill="#3b72fe" stroke="#0a0a0a" stroke-width="0.5" stroke-linejoin="round"/><path d="M316.2 391.3L323.5 388L328.2 385L332 382L335.8 377.5L339.2 371.5L344 369.8L347.5 366.9L349.5 363.9L351.5 359.3L355.9 360.3L358.9 360.2L361.9 359.2L364 357.9L366.5 354.9L368.8 348.9L370.9 346.9L384.3 342.9L399.2 341.3L411.2 341.5L424.6 343.5L439.5 347.8L440.7 348.9L443.5 354.9L445.5 357.2L448.5 359L451.5 359.7L454.5 359.7L457.4 359.2L458 359.4L460.1 363.9L462.1 366.9L464.9 369.5L469.6 371.5L473 377.5L476.5 382L480 385L486.4 389.5L488.8 390.7L491.8 391.4L499.2 339.6L498.4 338.4L496.8 337.7L481.9 339.1L465.6 341.4L448.3 345.5L435.4 343.3L424.2 341.9L412.9 341.2L403.8 341L390.2 341.5L376.7 342.7L369.8 343.9L361.7 346L333.4 337.4L324.8 335.8L310.1 333.9L308.5 335L308.2 336.7Z" fill="#2f81fa" stroke="#0a0a0a" stroke-width="0.5" stroke-linejoin="round"/><path d="M439.6 344L442.5 346.5L446.7 351.9L448.5 353.5L451.5 355.3L457.4 356.7L460.2 357.9L467.3 365.4L473.8 370L484.3 380.8L488.8 384L492.7 385.3L499.2 340.6L499.1 339.4L498.2 338.2L496.5 337.8L481.9 339.1L465.9 341.4L448.3 345.5ZM315.3 384.9L320.1 383.1L324.6 380.2L329.1 376.3L335.1 370L342.5 365.1L349.8 357.9L351.5 357.1L357.4 355.9L360.4 354.1L362.6 351.9L367.9 344.3L361.7 346L331.3 337L311.1 333.8L309.2 334.3L308.4 335.2L308.2 336.7Z" fill="#2c8ef1" stroke="#0a0a0a" stroke-width="0.5" stroke-linejoin="round"/><path d="M314.3 378.2L318.6 376.7L321.6 374.9L330.5 368.4L338.1 363.9L347 357.5L356 353.4L359.4 350.4L362.5 345.7L361.7 346L331.2 336.9L311.1 333.8L309.2 334.3L308.4 335.2L308.2 336.7ZM444.9 344.9L448.5 349.3L451.5 352L454 353.4L461.9 356.7L470.9 363.7L479 368.4L488.8 376.2L490.3 377.1L493.7 378.2L499.2 340.6L499.1 339.4L498.2 338.2L496.5 337.8L481.9 339.1L465.9 341.4L448.3 345.5Z" fill="#269ae8" stroke="#0a0a0a" stroke-width="0.5" stroke-linejoin="round"/><path d="M448.6 345.4L451.6 348.9L455.9 351.9L466.5 356.4L472.4 359.9L481.4 363.9L490.3 368.7L494.9 370.2L499.2 340.6L499 339.2L498 338.1L496.5 337.8L481.9 339.1L465.9 341.4ZM313.2 371L318.6 369.4L329.2 363.9L336.5 360.7L344.1 356.4L353 352.7L355.8 350.4L359 345.2L331.3 337L311.1 333.8L309.4 334.1L308.4 335.2L308.2 336.7Z" fill="#1fa6e2" stroke="#0a0a0a" stroke-width="0.5" stroke-linejoin="round"/><path d="M451.3 344.8L454.9 348.9L457.4 350.4L460.4 351.7L484.3 358.9L496.1 361.9L499.2 340.1L498.4 338.4L496.8 337.7L481.9 339.1L465.6 341.4ZM312.1 363.4L317.1 362.7L336.5 356.5L342.5 354L350 352.2L352.7 350.4L353.9 348.9L355.9 344.2L331.3 337L311.1 333.8L309.6 334L308.5 335L308.2 336.7Z" fill="#14b0d8" stroke="#0a0a0a" stroke-width="0.5" stroke-linejoin="round"/><path d="M453.8 344.3L456 347.1L457.4 348.3L461.9 350.1L466.4 350.7L473.9 351L484.3 353L493.3 353.1L497.3 353.7L499.2 340.1L498.4 338.4L496.5 337.8L481.8 339.1L465.9 341.4ZM310.8 354.5L315.6 355L326.1 353.1L335 352.2L342.5 350.3L350 350.1L351.1 348.9L351.6 347.3L352.1 343.1L331.3 337L310.1 333.9L308.7 334.8L308.2 336.4Z" fill="#01b8c9" stroke="#0a0a0a" stroke-width="0.5" stroke-linejoin="round"/><path d="M308.8 340.5L320.1 342.8L332.1 343.5L339.5 342.6L342.4 341.3L343.1 340.2L329.1 336.5L310.6 333.8L309 334.4L308.2 335.9ZM456.2 343.6L457.3 345.8L458.9 347.2L461.9 348.1L473.9 347.1L478.3 347.7L484.3 347.6L494.8 346.1L498.3 346.6L499.2 340.1L498.4 338.4L496.8 337.7L481.9 339.1L465.6 341.4Z" fill="#12beb9" stroke="#0a0a0a" stroke-width="0.5" stroke-linejoin="round"/><path d="M458.9 343L459.7 345.8L460.4 346.2L467.9 344.2L474.4 344.3L485.8 341.8L496.3 341.3L499.2 340.1L498.4 338.4L496.5 337.8L481.8 339.1L465.9 341.4Z" fill="#2bc3a8" stroke="#0a0a0a" stroke-width="0.5" stroke-linejoin="round"/></g><g clip-path="url(#cdW)"><path d="M308.2 336.5L308.2 336.8L308.3 337L308.4 337.2L308.5 337.5L308.6 337.7L308.8 337.8L309 338L309.1 338.2L309.3 338.3L309.5 338.4L309.8 338.5L310 338.6L310.2 338.7L311.2 338.8L311.2 338.8L313.4 339.1L313.4 339.1L315.5 339.4L315.5 339.4L317.7 339.7L317.7 339.7L319.8 340L321.9 340.3L324 340.6L326.1 340.9L328.2 341.3L330.2 341.7L332.2 342.2L334.3 342.7L336.3 343.3L338.3 343.9L340.4 344.5L342.4 345.2L344.5 345.8L344.5 345.8L346.5 346.5L346.6 346.5L348.6 347.1L348.6 347.1L350.7 347.8L350.7 347.8L352.8 348.4L352.8 348.4L354.8 349L354.8 349L356.9 349.6L356.9 349.6L359 350.2L361 350.8L361.2 350.9L361.5 350.9L361.7 351L361.9 350.9L362.2 350.9L362.4 350.9L364.5 350.3L366.6 349.7L368.8 349.1L370.9 348.7L373 348.2L375.1 347.9L377.3 347.6L379.5 347.4L381.7 347.1L383.9 346.9L386.1 346.8L388.3 346.6L390.5 346.4L392.8 346.3L395 346.2L397.2 346.1L399.4 346L401.6 346L403.8 345.9L406 345.9L408.2 346L410.5 346L412.7 346.1L414.9 346.2L417.1 346.3L419.3 346.5L421.5 346.6L423.7 346.8L425.9 347L428.1 347.3L430.3 347.6L432.5 347.9L434.7 348.2L436.9 348.5L439.1 348.9L441.3 349.2L443.5 349.6L445.7 350L447.6 350.4L447.9 350.4L448.1 350.4L448.4 350.4L448.6 350.4L448.8 350.3L449.1 350.2L449.3 350.1L449.5 350L449.7 349.8L449.8 349.7L450 349.5L450.2 349.3L450.3 349.1L450.4 348.9L450.5 348.6L450.5 348.4L450.6 348.2L450.6 347.9L450.6 347.7L450.5 347.4L450.5 347.2L450.4 347L450.3 346.8L450.2 346.5L450 346.4L449.9 346.2L449.7 346L447.7 344.2L447.7 344.2L445.5 342.3L445.5 342.3L443.3 340.4L443.3 340.4L441.1 338.5L441 338.5L438.8 336.6L438.8 336.6L436.6 334.8L436.6 334.8L434.3 332.9L434.3 332.9L432.1 331.1L432 331.1L429.8 329.3L429.8 329.2L427.5 327.4L427.5 327.4L425.2 325.6L425.2 325.6L422.9 323.9L422.8 323.9L420.5 322.1L420.5 322.1L418.1 320.4L418.1 320.4L415.7 318.7L415.7 318.7L413.2 317.1L413.2 317.1L410.7 315.5L410.7 315.5L408.2 313.9L408.2 313.9L405.6 312.5L405.6 312.4L403 311L403 311L400.4 309.7L400.3 309.7L397.7 308.4L397.6 308.4L395 307.2L394.9 307.2L392.2 306.1L392.1 306.1L389.4 305.1L389.4 305.1L386.6 304.2L386.6 304.2L383.8 303.3L381.1 302.4L378.4 301.5L375.7 300.5L373 299.6L370.3 298.5L367.6 297.5L364.9 296.4L362.3 295.3L359.6 294.2L356.9 293.1L354.2 292L354.2 292L351.5 290.9L351.5 290.9L348.8 289.8L348.8 289.8L346.1 288.7L346.1 288.7L343.4 287.7L343.4 287.6L340.7 286.6L340.6 286.6L337.9 285.6L337.9 285.6L335.1 284.7L335.1 284.7L332.3 283.8L332.3 283.8L329.5 283L329.5 283L326.7 282.2L326.6 282.2L323.8 281.5L323.8 281.4L321 280.8L321 280.7L318.1 280.1L318.1 280.1L315.3 279.4L315.3 279.4L312.5 278.8L309.6 278.2L306.8 277.5L304 276.9L302.8 276.6L302.6 276.6L302.3 276.5L302.1 276.5L301.9 276.6L301.6 276.6L301.4 276.7L301.2 276.8L301 276.9L300.8 277L300.6 277.2L300.4 277.4L300.2 277.6L300.1 277.8L300 278L299.9 278.2L299.8 278.4L299.8 278.7L299.8 278.9L299.8 279.2L299.8 279.4Z" fill="#1fa6e2"/><path d="M308.2 336.8L309 338L310 338.6L326.1 340.9L332.2 342.2L361.5 350.9L370.9 348.7L377.3 347.6L399.4 346L410.5 346L423.7 346.8L434.7 348.2L447.9 350.4L449.7 349.8L450.6 348.2L450.4 347L449.7 346L436.6 334.8L425.2 325.6L413.2 317.1L400.3 309.7L392.2 306.1L373 299.6L346.1 288.7L335.1 284.7L323.8 281.4L302.1 276.5L300.4 277.4L299.8 279.4ZM350.5 322L353.5 321.8L356.5 322.4L359.5 324.1L361 325.5L362.5 327.8L363.5 330.8L363.4 332.3L362.5 334L359.5 335.9L355 336.4L352 336L350.3 335.3L348.2 333.8L346 330.8L345.3 327.8L345.5 326.3L346.2 324.8L347.5 323.3Z" fill="#14b0d8" stroke="#0a0a0a" stroke-width="0.5" stroke-linejoin="round"/><path d="M304.2 309.5L308.6 306.7L311.7 305.6L314.7 305.6L323.6 306.7L335.6 306L358 310.4L364 312.7L365.4 313.9L366.8 315.7L368 318.7L369.6 326.3L369.9 332.3L369.1 336.8L366.9 341.5L364 345.8L359.1 350.3L361 350.8L362.2 350.9L370.9 348.7L377.3 347.6L399.4 346L410.5 346L423.7 346.8L434.7 348.2L447.9 350.4L449.5 350L450.5 348.6L450.5 347.2L449.7 346L436.6 334.8L425.2 325.6L413.2 317.1L400.3 309.7L392.2 306.1L373 299.6L346.1 288.7L335.1 284.7L323.8 281.4L302.1 276.5L300.4 277.4L299.8 279.2Z" fill="#01b8c9" stroke="#0a0a0a" stroke-width="0.5" stroke-linejoin="round"/><path d="M300.8 285.6L308.7 287.8L334.1 291.2L340.1 293.4L349 298.5L350.5 298.9L358 299.3L361 299.8L364 301L366.9 302.9L374.5 311.2L375.6 312.7L376.8 315.7L377 320.2L376.2 326.3L377.2 332.3L377.4 336.8L376.9 341.3L375.4 347.9L392.8 346.3L408.2 346L428.1 347.3L447.9 350.4L449.3 350.1L450.4 348.9L450.5 347.4L449.7 346L436.6 334.8L422.9 323.9L408.2 313.9L395 307.2L373 299.6L337.9 285.6L329.5 283L318.1 280.1L302.8 276.6L301.4 276.7L300.2 277.6L299.8 278.9Z" fill="#12beb9" stroke="#0a0a0a" stroke-width="0.5" stroke-linejoin="round"/><path d="M406.7 313.1L404.3 317L402.8 318.4L393.8 323.1L390.8 326.6L389.6 329.3L388.9 332.3L387.5 346.6L401.6 346L412.7 346.1L430.3 347.6L447.9 350.4L449.1 350.2L450 349.5L450.6 347.9L449.9 346.2L432.1 331.1L422.8 323.9L413.2 317.1Z" fill="#2bc3a8" stroke="#0a0a0a" stroke-width="0.5" stroke-linejoin="round"/><path d="M419.6 321.7L411.7 328.9L406.4 332.3L403.7 335.3L401.6 339.8L400.7 346L419.3 346.5L432.5 347.9L447.9 350.4L449.8 349.7L450.6 347.9L449.7 346L432 331.1L422.8 323.9Z" fill="#3ac994" stroke="#0a0a0a" stroke-width="0.5" stroke-linejoin="round"/><path d="M434.1 332.7L428.8 335.3L426.7 335.9L425.2 335.8L420.7 333.8L419.2 333.5L417.7 333.9L416.2 334.9L415 336.8L414.3 339.8L414.5 342.8L415.2 346.2L430.3 347.6L447.9 350.4L449.8 349.7L450.6 347.9L449.7 346Z" fill="#54cc7c" stroke="#0a0a0a" stroke-width="0.5" stroke-linejoin="round"/></g><g clip-path="url(#secd)"><g clip-path="url(#cdU)"><path d="M379.8 240.2L389.7 246.3L400 251.9L409.9 258L419.4 264.6L428.8 271.6L438.2 278.4L447.3 285.7L455.7 293.8L464.2 301.9L472.4 310.1L480.3 318.7L488.4 327.2L496.4 335.7L503 329.6L494.8 320.9L486.9 312.5L479 303.9L470.2 295.2L462 287.4L453.3 279L443.5 271.1L434.1 264.3L424.7 257.3L414.8 250.4L404.3 244L394 238.4L385.1 233Z" fill="url(#dt2)" opacity="0.7"/></g><g clip-path="url(#cdU)"><path d="M414.3 238.2L423.1 243.9L431.3 249.8L438.9 255.5L446.3 260.8L454.7 267.1L463.1 274.4L470 281.2L476.5 287.4L484 294.7L490.8 302.1L497 308.7L503.5 315.6L510.3 322.8L540.3 294.9L532.9 287L526.5 280.2L520.9 274.2L513.2 265.9L504.1 257.1L498.4 251.7L491.1 244.5L480.1 234.8L469.9 227.2L463.1 222.3L455.4 216.5L446 209.8L435.3 202.9Z" fill="url(#dt5)" opacity="0.95"/></g><g clip-path="url(#cdU)"><path d="M457.1 251L460.8 254.1L464.6 257.2L468.3 260.2L472 263.1L475.5 266.1L478.9 269L482.2 272L485.5 275.1L488.6 278.2L491.6 281.5L494.6 284.9L497.6 288.3L500.7 291.9L509 284.8L506 281.1L502.9 277.5L499.7 274L496.4 270.5L493.1 267.1L489.6 263.9L486.1 260.7L482.5 257.6L478.8 254.5L475.1 251.6L471.4 248.6L467.8 245.6L464.1 242.5Z" fill="url(#dt5)" opacity="0.95"/></g><g clip-path="url(#cdband)"><path d="M298.3 278L310.6 280.9L322.9 283.8L335 287.3L346.9 291.6L358.6 296.4L370.3 301.2L382.2 305.3L394.1 309.5L405.4 315.2L416.1 322L426.2 329.6L436.1 337.5L445.7 345.7L450.6 340L440.8 331.7L430.8 323.6L420.3 315.8L409.1 308.6L397 302.6L384.5 298.2L372.9 294.1L361.4 289.5L349.6 284.6L337.4 280.1L324.7 276.4L312.2 273.5L300.1 270.7Z" fill="url(#dt3)" opacity="0.6"/></g><g clip-path="url(#cdband)"><path d="M374.4 247.5L385.4 254.2L395.6 259.8L405 265.5L414.2 271.9L423.5 278.9L433 285.7L441.3 292.5L449.4 300.3L458.1 308.5L465.9 316.3L473.8 324.9L481.9 333.5L489.8 341.8L496.4 335.7L488.4 327.2L480.3 318.7L472.4 310.1L464.2 301.9L455.7 293.8L447.3 285.7L438.2 278.4L428.8 271.6L419.4 264.6L409.9 258L400 251.9L389.7 246.3L379.8 240.2Z" fill="url(#dt3)" opacity="0.5"/></g><g clip-path="url(#cdband)"><path d="M448.3 348L460.2 323.9L496.1 328.9L498 335.9L470.2 340Z" fill="url(#dt3)" opacity="0.5"/></g><g clip-path="url(#cdW)"><path d="M291.1 292.8L297.7 294.4L304.3 296L310.8 297.4L316.9 298.8L322.8 300.3L328.5 302L334.1 303.9L339.9 306.1L345.8 308.5L351.8 311L358 313.6L364.4 316.1L371 318.5L376.2 303.3L370.1 301.1L363.9 298.6L357.9 296.1L351.8 293.6L345.7 291.2L339.5 288.8L333.3 286.7L327 284.8L320.6 283.2L314.2 281.7L307.8 280.3L301.4 278.8L295 277.2Z" fill="url(#dt5)" opacity="0.85"/></g><g clip-path="url(#cdW)"><path d="M286.7 310.3L292.4 311.7L298.2 313.1L303.8 314.4L309.1 315.5L313.9 316.7L318.3 317.8L322.3 319L326.5 320.4L331 322L335.6 323.9L340.4 325.8L345.5 327.9L350.8 330.1L357.5 313.3L352.3 311.2L347.2 309.1L342.2 307.1L337.3 305.1L332.5 303.4L327.7 301.8L323 300.4L318.1 299.1L313 297.9L307.7 296.7L302.2 295.5L296.6 294.1L291.1 292.8Z" fill="url(#dt2)" opacity="0.7"/></g><g clip-path="url(#cdW)"><path d="M301 334.4L305.7 335.4L310.4 336.2L315.2 336.9L319.9 337.6L324.7 338.2L329.4 339.1L334.1 340.2L338.7 341.5L343.3 342.9L347.9 344.3L352.5 345.7L357.1 347.1L361.7 348.5L365.6 335L361.1 333.6L356.5 332.3L352 330.9L347.5 329.5L342.7 328L337.6 326.5L332.2 325.3L326.8 324.3L321.8 323.6L317.1 323L312.7 322.3L308.3 321.5L303.7 320.6Z" fill="url(#dt2)" opacity="0.6"/></g><g clip-path="url(#cdW)"><path d="M382.6 311.8L410.5 322.9L448.3 348L420.4 344.5L388.6 344Z" fill="url(#dt3)" opacity="0.5"/></g><g clip-path="url(#cdbot)"><path d="M348.8 347L380.6 347L388.6 362.1L366.7 374.1L344.8 362.1Z" fill="url(#dt2)" opacity="0.85"/></g><g clip-path="url(#cdbot)"><path d="M448.3 348L497.1 335.9L496.1 366.1L484.1 388.2L460.2 374.1L444.3 358Z" fill="url(#dt2)" opacity="0.6"/></g><g clip-path="url(#cdK)"><path d="M470.2 239.5L510 255.6L510 291.7L495.1 273.7Z" fill="url(#dt3)" opacity="0.5"/></g><path d="M361.7 348.5L364.7 347.7L367.7 346.9L370.8 346.2L373.8 345.6L376.9 345.2L380 344.8L383.1 344.5L386.2 344.3L389.3 344.1L392.5 343.9L395.6 343.7L398.7 343.6L401.8 343.5L404.9 343.5L408 343.5L411.2 343.6L414.3 343.7L417.4 343.9L420.5 344.1L423.6 344.4L426.7 344.7L429.8 345L432.9 345.4L436 345.9L439.1 346.4L442.1 346.9L445.2 347.4L448.3 348" stroke="#0a2a3f" stroke-width="1.7" fill="none"/><path d="M303.3 279.2L306.3 279.9L309.3 280.6L312.4 281.3L315.4 282L318.4 282.7L321.4 283.4L324.4 284.1L327.4 284.9L330.3 285.8L333.3 286.7L336.2 287.7L339.1 288.7L342 289.8L344.9 290.9L347.8 292L350.7 293.2L353.5 294.4L356.4 295.5L359.3 296.7L362.1 297.9L365 299.1L367.8 300.2L370.7 301.3L373.6 302.4L376.5 303.4L379.5 304.4L382.4 305.4L385.3 306.3L388.3 307.3L391.2 308.4L394.1 309.5L396.9 310.7L399.7 312.1L402.4 313.5L405.1 315L407.8 316.6L410.4 318.2L413 319.9L415.6 321.6L418.1 323.4L420.6 325.3L423.1 327.1L425.5 329L428 330.9L430.4 332.9L432.8 334.8L435.2 336.8L437.6 338.8L440 340.8L442.3 342.8L444.7 344.8L447 346.9" stroke="#111" stroke-width="0.7" fill="none"/><path d="M302.5 279.8h2.4M303.7 278.6v2.4M305 280.7h2.8M306.4 279.3v2.8M314.2 280.8h2.4M315.4 279.6v2.4M316.9 281.7h2.4M318.1 280.5v2.4M326.7 285.1h2.4M327.9 283.9v2.4M342.4 291.1h2.1M343.5 290v2.1M345.1 292h2.2M346.2 290.9v2.2M353.1 295.4h2.5M354.4 294.1v2.5M356 296.3h2.2M357.1 295.2v2.2M366.6 300.3h2.2M367.7 299.2v2.2M379.9 305.2h2.4M381 304.1v2.4M382.4 306.1h2.7M383.7 304.8v2.7M390.7 308.2h2.6M392 306.9v2.6M393.5 309.1h2.5M394.7 307.9v2.5M402.7 316h2.5M404 314.7v2.5M412.4 321.1h2.2M413.5 320v2.2M415 322h2.4M416.2 320.8v2.4M423.8 328.4h2.7M425.1 327.1v2.7M426.6 329.3h2.4M427.8 328.1v2.4M437.3 340.8h2.4M438.5 339.6v2.4M439.9 341.7h2.6M441.2 340.4v2.6" stroke="#030303" stroke-width="1.95" fill="none" stroke-linecap="round"/><path d="M308.4 281.3h0M304.5 284.3h0M305.8 277.7h0M308.1 278.3h0M303.5 282.5h0M320.6 282.1h0M319.2 283h0M316.3 284.3h0M316.1 278.5h0M318.5 278.7h0M329 281.6h0M324.2 287.1h0M331.3 287h0M330.7 286.8h0M325.2 282.2h0M344.6 294.9h0M342 294.1h0M339.6 290.8h0M342.1 288.3h0M343.1 294.7h0M352.3 298.2h0M355.4 299.4h0M353.6 299h0M351.4 296.4h0M360.6 295h0M367.2 296.7h0M368.6 298h0M367.2 304.1h0M371.6 300.6h0M364.3 299.5h0M385.1 307.4h0M387.1 306.3h0M381.4 308.6h0M380.4 307.7h0M385.9 307.1h0M396.8 306.1h0M394.8 311.2h0M389.7 309.6h0M397.1 307.5h0M395.2 311.5h0M407.7 314.8h0M408.6 315.5h0M404.1 313.2h0M405.8 314h0M403.4 312.8h0M417.8 322.6h0M417.3 325h0M419.2 321.9h0M413.6 318.1h0M414.6 317.5h0M429 326.5h0M428.5 331.6h0M430.9 327.8h0M429.9 331h0M431 329.1h0M437.9 339h0M441.7 343.6h0M437.4 343.6h0M438 338.8h0M444.4 341.7h0" stroke="#050505" stroke-width="1.2" stroke-linecap="round" fill="none"/><path d="M381.2 241.2L383.8 242.9L386.5 244.5L389.2 246L391.9 247.5L394.7 249L397.4 250.5L400.1 252L402.8 253.5L405.5 255.1L408.1 256.8L410.7 258.5L413.3 260.3L415.8 262L418.4 263.9L420.9 265.7L423.4 267.6L425.9 269.5L428.4 271.3L430.9 273.2L433.4 275L436 276.8L438.5 278.6L441 280.5L443.4 282.4L445.8 284.4L448.2 286.5L450.4 288.6L452.7 290.8L454.9 293L457.1 295.2L459.3 297.4L461.6 299.5L463.9 301.6L466.2 303.8L468.4 305.9L470.6 308.2L472.7 310.4L474.9 312.7L477 315L479.1 317.3L481.2 319.6L483.3 321.9L485.5 324.2L487.7 326.4L489.8 328.7L492 330.9L494.1 333.2" stroke="#111" stroke-width="0.7" fill="none"/><path d="M381 241.5h2.9M382.5 240v2.9M391.4 248.6h2.8M392.8 247.2v2.8M394.1 249.5h2.8M395.5 248.1v2.8M408.5 258.9h3.3M410.1 257.2v3.3M419.7 265.8h2.7M421 264.5v2.7M422.2 266.7h3M423.7 265.3v3M431 275.2h2.9M432.4 273.7v2.9M433.6 276.1h3M435.1 274.6v3M444.8 285.9h2.7M446.2 284.6v2.7M447.4 286.8h3.1M448.9 285.3v3.1M454.6 295.3h2.8M455.9 294v2.8M456.9 296.2h3.5M458.6 294.5v3.5M464.4 302.4h2.8M465.8 301v2.8M467 303.3h3M468.5 301.9v3M475.8 317h3.4M477.5 315.3v3.4M478.5 317.9h3.4M480.2 316.2v3.4M488.5 328.6h3.4M490.2 326.9v3.4" stroke="#030303" stroke-width="1.95" fill="none" stroke-linecap="round"/><path d="M385.5 242h0M383.9 239h0M384.6 243.8h0M382.7 238.5h0M385.7 241.8h0M393 245.1h0M394.3 252.2h0M391.5 247.5h0M392.6 252.6h0M390.8 250.6h0M406.1 259.6h0M413 261.8h0M409.9 261.3h0M413 261.6h0M406.6 260.2h0M419.2 262.9h0M425.5 266h0M425.2 262.8h0M420.2 269.7h0M418.7 265.9h0M436 272.8h0M429.3 276.9h0M431.8 271.8h0M431.3 272.3h0M436.3 272.6h0M447.9 283h0M444.9 283.5h0M450 290h0M444.8 288.6h0M448.3 288.8h0M457.6 299.2h0M460.3 298.1h0M456.1 299.2h0M460.5 296.3h0M462.2 296.1h0M469.4 300.3h0M466 305.2h0M466.1 305.9h0M465.8 306.3h0M463.9 302.6h0M477.2 315.3h0M478 320h0M475.2 318.2h0M481.3 321.2h0M481.6 315.5h0M491.7 332h0M486.6 330.5h0M493.4 326.9h0M487.5 327.2h0M486.2 325.8h0" stroke="#050505" stroke-width="1.2" stroke-linecap="round" fill="none"/><path d="M465.3 243.5L467.9 245.6L470.4 247.7L473 249.8L475.6 251.9L478.1 254L480.7 256.1L483.3 258.2L485.8 260.4L488.2 262.6L490.7 264.8L493.1 267.1L495.4 269.5L497.7 271.9L500 274.3L502.2 276.8L504.4 279.3L506.5 281.8" stroke="#111" stroke-width="0.8" fill="none"/><path d="M463.5 244.2h3.2M465.1 242.6v3.2M466.3 245.1h3M467.8 243.6v3M472.2 252.1h3.1M473.7 250.5v3.1M475 253h2.8M476.4 251.6v2.8M484.3 260.7h3M485.8 259.2v3M487.1 261.6h2.9M488.5 260.2v2.9M496.3 272.7h2.9M497.8 271.2v2.9M498.9 273.6h3.2M500.5 272v3.2" stroke="#030303" stroke-width="1.95" fill="none" stroke-linecap="round"/><path d="M467.2 247.2h0M465.1 240.8h0M463.9 246.3h0M462.2 243.9h0M468.1 242.3h0M474.2 249.3h0M478.5 255.6h0M477.2 255.1h0M471.1 252.2h0M470.2 250.9h0M485.8 263.9h0M485 264.2h0M489.2 265h0M484.1 261.9h0M487.3 257.1h0M504.3 274.3h0M504.4 273.9h0M496.8 275.7h0M496.9 270.3h0M495.8 272.4h0" stroke="#050505" stroke-width="1.2" stroke-linecap="round" fill="none"/><path d="M305.3 335.3L308.4 335.9L311.6 336.4L314.7 336.9L317.9 337.3L321.1 337.7L324.2 338.2L327.4 338.7L330.5 339.3L333.6 340L336.7 340.9L339.7 341.8L342.8 342.7L345.8 343.7L348.9 344.6L351.9 345.6L355 346.5L358 347.4L361.1 348.3" stroke="#111" stroke-width="0.8" fill="none"/><path d="M302.9 334.3h2.6M304.2 333v2.6M305.7 335.2h2.4M306.9 334v2.4M310 336.7h3M311.5 335.3v3M316.8 337.6h2.8M318.2 336.2v2.8M319.6 338.5h2.7M320.9 337.2v2.7M327.2 338.1h3.2M328.8 336.5v3.2M335.5 340.4h2.9M337 339v2.9M338.2 341.3h2.8M339.7 339.9v2.8M344.5 344.1h2.5M345.7 342.8v2.5M347 345h2.9M348.4 343.5v2.9M352.1 345.8h2.8M353.5 344.4v2.8M355 346.7h2.5M356.2 345.5v2.5" stroke="#030303" stroke-width="1.95" fill="none" stroke-linecap="round"/><path d="M301.6 334.9h0M310.3 333.9h0M305.7 330.6h0M306.1 331h0M301.5 334.7h0M308.1 337.7h0M312.5 334.2h0M316.1 335.2h0M308.5 334.8h0M308.8 338h0M315.1 337.5h0M314.6 338.6h0M315.7 336.3h0M317.7 334.5h0M316.4 339.8h0M325.2 341.2h0M326 337h0M327.7 341.2h0M324.2 336.6h0M333.3 337.2h0M336.6 342.9h0M337.4 337.6h0M343.2 339.2h0M340.6 338.6h0M339.1 343.6h0M343.5 344h0M344.7 346.3h0M350.9 341.7h0M352.2 345.3h0M350.8 347.6h0M358.6 345.8h0M356.8 344h0M358.7 348h0M356.8 349.3h0M350.6 344.5h0" stroke="#050505" stroke-width="1.2" stroke-linecap="round" fill="none"/><path d="M357.6 348.5h3.2M359.2 346.9v3.2M362 349.7h3.2M363.6 348.1v3.2M361.7 348.5h3.2M363.3 346.9v3.2M362.2 348.9h3.2M363.8 347.3v3.2M443.8 348.1h3.2M445.4 346.5v3.2M443.5 350.2h3.2M445.1 348.6v3.2M449.8 347.5h3.2M451.4 345.9v3.2M445.4 349.5h3.2M447 347.9v3.2" stroke="#030303" stroke-width="1.8" fill="none" stroke-linecap="round"/></g></g><rect x="300.5" y="237.5" width="207" height="176.8" fill="none" stroke="#777" stroke-width="0.6"/><text x="316.1" y="424.6" font-size="7.1" text-anchor="middle" fill="#2c2c2c" font-family="Liberation Sans, Arial, sans-serif">−0.015</text><text x="344.9" y="424.6" font-size="7.1" text-anchor="middle" fill="#2c2c2c" font-family="Liberation Sans, Arial, sans-serif">−0.01</text><text x="373.6" y="424.6" font-size="7.1" text-anchor="middle" fill="#2c2c2c" font-family="Liberation Sans, Arial, sans-serif">−0.005</text><text x="403.7" y="424.6" font-size="7.1" text-anchor="middle" fill="#2c2c2c" font-family="Liberation Sans, Arial, sans-serif">0</text><text x="432.4" y="424.6" font-size="7.1" text-anchor="middle" fill="#2c2c2c" font-family="Liberation Sans, Arial, sans-serif">0.005</text><text x="461.2" y="424.6" font-size="7.1" text-anchor="middle" fill="#2c2c2c" font-family="Liberation Sans, Arial, sans-serif">0.01</text><text x="489.9" y="424.6" font-size="7.1" text-anchor="middle" fill="#2c2c2c" font-family="Liberation Sans, Arial, sans-serif">0.015</text><text x="297" y="407.9" font-size="7.1" text-anchor="end" fill="#2c2c2c" font-family="Liberation Sans, Arial, sans-serif">54</text><text x="297" y="386.9" font-size="7.1" text-anchor="end" fill="#2c2c2c" font-family="Liberation Sans, Arial, sans-serif">56</text><text x="297" y="365.9" font-size="7.1" text-anchor="end" fill="#2c2c2c" font-family="Liberation Sans, Arial, sans-serif">58</text><text x="297" y="344.9" font-size="7.1" text-anchor="end" fill="#2c2c2c" font-family="Liberation Sans, Arial, sans-serif">60</text><text x="297" y="323.9" font-size="7.1" text-anchor="end" fill="#2c2c2c" font-family="Liberation Sans, Arial, sans-serif">62</text><text x="297" y="303" font-size="7.1" text-anchor="end" fill="#2c2c2c" font-family="Liberation Sans, Arial, sans-serif">64</text><text x="297" y="282" font-size="7.1" text-anchor="end" fill="#2c2c2c" font-family="Liberation Sans, Arial, sans-serif">66</text><text x="297" y="261" font-size="7.1" text-anchor="end" fill="#2c2c2c" font-family="Liberation Sans, Arial, sans-serif">68</text><path d="M317.8 414.3v-2M317.8 237.5v2M346.5 414.3v-2M346.5 237.5v2M375.2 414.3v-2M375.2 237.5v2M404 414.3v-2M404 237.5v2M432.8 414.3v-2M432.8 237.5v2M461.5 414.3v-2M461.5 237.5v2M490.2 414.3v-2M490.2 237.5v2M300.5 405.4h2M507.5 405.4h-2M300.5 384.4h2M507.5 384.4h-2M300.5 363.4h2M507.5 363.4h-2M300.5 342.4h2M507.5 342.4h-2M300.5 321.4h2M507.5 321.4h-2M300.5 300.5h2M507.5 300.5h-2M300.5 279.5h2M507.5 279.5h-2M300.5 258.5h2M507.5 258.5h-2" stroke="#777" stroke-width="0.6" fill="none"/><text x="404.8" y="434" font-size="8" text-anchor="middle" fill="#2c2c2c" font-family="Liberation Sans, Arial, sans-serif">Coordinate/θ</text><text transform="translate(284.3 325.9) rotate(-90)" font-size="7.7" text-anchor="middle" fill="#2c2c2c" font-family="Liberation Sans, Arial, sans-serif">Radius/mm</text><text x="408.5" y="449.3" font-size="12.5" text-anchor="middle" fill="#111" font-family="Liberation Serif, Times New Roman, serif">T = 320 K</text><rect x="513" y="237.5" width="10.8" height="176.8" fill="url(#pg)" stroke="#777" stroke-width="0.5"/><text x="526.4" y="251.8" font-size="6.7" fill="#2c2c2c" font-family="Liberation Sans, Arial, sans-serif">20</text><text x="526.4" y="278.3" font-size="6.7" fill="#2c2c2c" font-family="Liberation Sans, Arial, sans-serif">0</text><text x="526.4" y="304.7" font-size="6.7" fill="#2c2c2c" font-family="Liberation Sans, Arial, sans-serif">−20</text><text x="526.4" y="331.1" font-size="6.7" fill="#2c2c2c" font-family="Liberation Sans, Arial, sans-serif">−40</text><text x="526.4" y="357.5" font-size="6.7" fill="#2c2c2c" font-family="Liberation Sans, Arial, sans-serif">−60</text><text x="526.4" y="383.9" font-size="6.7" fill="#2c2c2c" font-family="Liberation Sans, Arial, sans-serif">−80</text><text x="526.4" y="410.3" font-size="6.7" fill="#2c2c2c" font-family="Liberation Sans, Arial, sans-serif">−100</text><path d="M523.8 249.6h-2M523.8 276.1h-2M523.8 302.5h-2M523.8 328.9h-2M523.8 355.3h-2M523.8 381.7h-2M523.8 408.1h-2" stroke="#555" stroke-width="0.6" fill="none"/></g><g><g clip-path="url(#bxe)"><g clip-path="url(#ceband)"><path d="M104.4 451.4L104.4 451.4L100.9 451.9L100.9 451.9L97.4 452.4L97.3 452.4L93.8 453L93.8 453L90.3 453.7L90.3 453.7L86.8 454.4L86.8 454.4L83.3 455.2L83.2 455.2L79.8 456L79.7 456L76.2 456.9L76.2 456.9L72.7 457.9L72.7 457.9L69.2 458.9L69.2 458.9L65.7 459.9L65.7 459.9L62.3 461L62.2 461.1L58.8 462.2L58.7 462.2L55.3 463.5L55.3 463.5L51.8 464.8L51.8 464.8L48.4 466.1L48.3 466.1L44.9 467.5L44.9 467.5L41.4 469L41.4 469L38 470.5L38 470.5L34.6 472.1L34.5 472.1L31.1 473.7L31.1 473.7L27.7 475.4L27.5 475.5L27.3 475.6L27.1 475.8L26.9 476L26.8 476.2L26.7 476.4L26.5 476.6L26.4 476.8L26.4 477.1L26.3 477.3L26.3 477.6L26.3 477.8L26.3 478.1L29 496.5L29 496.8L29.1 497L29.2 497.3L29.3 497.5L29.4 497.7L29.6 497.9L29.8 498.1L30 498.2L30.2 498.4L30.4 498.5L30.6 498.6L30.9 498.7L32.1 499L32.1 499L34.9 499.6L34.9 499.6L37.7 500.3L37.8 500.3L40.6 500.9L43.4 501.6L46.2 502.2L49 502.9L51.7 503.6L54.5 504.3L57.2 505.1L59.9 505.9L62.6 506.8L65.3 507.7L68 508.7L70.7 509.8L73.4 510.8L76 511.9L78.7 513L81.4 514.1L84 515.3L86.7 516.4L86.7 516.4L89.4 517.5L89.4 517.5L92.1 518.6L92.1 518.7L94.7 519.8L94.8 519.8L97.4 520.8L97.5 520.8L100.2 521.9L100.2 521.9L102.9 522.9L102.9 522.9L105.6 523.9L105.7 523.9L108.4 524.9L108.4 524.9L111.2 525.8L113.9 526.7L116.6 527.6L119.3 528.6L121.9 529.7L124.5 530.8L127 532L129.5 533.4L132 534.7L134.5 536.2L136.9 537.7L139.3 539.3L141.7 540.9L144 542.6L146.3 544.3L148.6 546L150.9 547.8L153.2 549.6L155.4 551.4L157.7 553.3L159.9 555.1L162.1 557L164.3 558.9L166.5 560.8L168.7 562.7L170.9 564.7L173.1 566.6L175.2 568.5L175.4 568.7L175.6 568.8L175.8 568.9L176 569L176.3 569.1L176.5 569.1L176.7 569.1L177 569.1L177.2 569.1L177.4 569.1L195.1 564.8L210.8 562.6L225.4 561.2L225.6 561.1L225.8 561.1L226 561L226.3 560.9L226.5 560.8L226.6 560.6L226.8 560.5L227 560.3L227.1 560.1L227.3 559.9L227.4 559.7L227.5 559.5L227.5 559.2L227.6 559L228.1 555.6L228.1 555.3L228.1 555.1L228.1 554.8L228 554.6L227.9 554.3L227.8 554.1L227.7 553.9L227.6 553.7L227.4 553.5L226.4 552.3L226.4 552.3L224.5 550.2L224.5 550.1L222.5 548L222.5 548L220.6 545.9L220.5 545.9L218.6 543.8L218.6 543.8L216.6 541.7L214.6 539.5L212.7 537.4L210.8 535.3L208.8 533.2L206.9 531L205 528.9L205 528.9L203.1 526.7L203.1 526.7L201.1 524.6L201.1 524.6L199.1 522.5L199.1 522.4L197 520.4L197 520.4L194.9 518.4L194.9 518.3L192.8 516.4L190.7 514.4L188.7 512.4L186.7 510.4L184.7 508.3L182.6 506.3L182.6 506.3L180.6 504.2L180.6 504.2L178.5 502.2L178.5 502.2L176.4 500.2L176.3 500.1L174.1 498.3L174.1 498.2L171.9 496.4L171.8 496.3L169.6 494.6L169.5 494.6L167.2 492.8L167.2 492.8L164.9 491.1L164.9 491.1L162.6 489.4L160.3 487.8L158 486L155.7 484.3L153.5 482.6L153.5 482.6L151.2 480.8L151.2 480.8L148.9 479.1L148.9 479.1L146.6 477.4L146.6 477.3L144.2 475.7L144.2 475.6L141.9 474L141.8 474L139.5 472.4L139.4 472.3L137.1 470.8L137 470.7L134.6 469.2L134.6 469.2L132.1 467.7L132.1 467.7L129.6 466.2L129.6 466.2L127.1 464.8L127.1 464.8L124.6 463.4L124.6 463.4L122.1 462L119.6 460.7L117.2 459.3L114.8 457.8L112.4 456.3L110.2 454.8L108.1 453.1L107 452L106.8 451.8L106.6 451.7L106.4 451.5L106.2 451.4L106 451.4L105.8 451.3L105.5 451.3L105.3 451.3L105 451.3Z" fill="#2ac3a9"/><path d="M227 560.3L221 547.9L220.4 545.8L199.1 522.5L176.3 500.1L169.5 494.6L141.9 474L132.1 467.7L112.4 456.3L106.2 451.4L100.9 451.9L86.8 454.4L65.7 459.9L55.3 463.5L41.4 469L27.7 475.4L26.4 476.8L26.3 478.1L29 496.5L30.2 498.4L51.7 503.6L62.6 506.8L73.4 510.8L100.2 521.9L116.6 527.6L124.5 530.8L134.5 536.2L146.3 544.3L157.7 553.3L176 569L177.4 569.1L195.1 564.8L210.8 562.6L225.6 561.1Z" fill="#37c897" stroke="#0a0a0a" stroke-width="0.5" stroke-linejoin="round"/><path d="M193.1 565.3L189.7 554.3L189.9 551.2L190.6 549.7L192.8 548L194.3 547.9L201.7 550.6L204.7 550.3L206.1 549.5L208.7 546.6L209.7 543.5L209.7 537.4L209.2 533.6L197 520.4L178.5 502.2L171.8 496.3L141.8 474L132.1 467.7L112.4 456.3L106.4 451.5L105.3 451.3L100.9 451.9L86.8 454.4L65.7 459.9L55.3 463.5L41.4 469L27.7 475.4L26.5 476.6L26.3 478.1L29 496.5L29.4 497.7L30.4 498.5L51.7 503.6L62.6 506.8L73.4 510.8L100.2 521.9L116.6 527.6L124.5 530.8L134.5 536.2L146.3 544.3L157.7 553.3L176 569L177.4 569.1ZM201.5 529.7L201.4 531.2L200.2 532.8L198.7 532.7L198.1 531.2L198.7 530.1L200.2 529.2Z" fill="#4dcc82" stroke="#0a0a0a" stroke-width="0.5" stroke-linejoin="round"/><path d="M177.9 568.4L181.3 558.9L185 538.9L187.8 532.8L192.7 523.5L194.6 518.1L178.5 502.2L169.5 494.6L139.5 472.4L132.1 467.7L114.8 457.8L110.2 454.8L106.6 451.7L104.4 451.4L90.3 453.7L79.7 456L65.7 459.9L44.9 467.5L31.1 473.7L27.5 475.5L26.7 476.4L26.3 478.1L29 496.5L30.2 498.4L51.7 503.6L62.6 506.8L73.4 510.8L100.2 521.9L116.6 527.6L124.5 530.8L132 534.7L141.7 540.9L157.7 553.3L175.4 568.7L177.2 569.1ZM199.9 538.9L199.9 540.4L201 542L203.2 542.7L204.8 542L206 540.4L206.3 538.9L205.8 537.4L204.7 536.3L203.2 536.1L200.8 537.4Z" fill="#6bcd69" stroke="#0a0a0a" stroke-width="0.5" stroke-linejoin="round"/></g><g clip-path="url(#ceU)"><path d="M192.8 457.9L192.8 457.9L189.3 456.9L189.3 456.9L185.8 456L185.7 456L182.3 455.2L182.2 455.2L178.7 454.4L178.7 454.4L175.2 453.7L175.2 453.7L171.7 453L171.7 453L168.2 452.4L168.1 452.4L164.6 451.9L164.6 451.9L161.1 451.4L161.1 451.4L157.6 450.9L157.5 450.9L154 450.6L154 450.6L150.5 450.2L150.4 450.2L146.9 450L146.9 450L143.4 449.8L143.4 449.8L139.9 449.6L139.8 449.6L136.3 449.5L136.3 449.5L132.8 449.5L132.7 449.5L129.2 449.5L129.2 449.5L125.7 449.6L125.6 449.6L122.1 449.8L122.1 449.8L118.6 450L118.6 450L115.1 450.2L115 450.2L111.5 450.6L111.5 450.6L108 450.9L107.9 450.9L105.2 451.3L104.9 451.3L104.7 451.4L104.5 451.5L104.3 451.6L104.1 451.7L103.9 451.9L103.7 452L103.5 452.2L103.4 452.4L103.3 452.7L103.2 452.9L103.1 453.1L103 453.4L103 453.6L103 453.9L103 454.1L103.1 454.4L103.1 454.6L103.2 454.9L103.3 455.1L103.4 455.3L103.6 455.5L103.8 455.7L104.9 456.8L105 456.9L107.2 458.7L107.4 458.9L109.7 460.5L109.8 460.6L112.3 462.1L112.3 462.1L114.8 463.6L114.8 463.6L117.3 465L117.3 465.1L119.8 466.4L119.8 466.4L122.3 467.8L124.8 469.2L127.3 470.6L129.7 472L132.1 473.5L134.5 475L136.8 476.5L139.2 478.1L141.5 479.8L143.8 481.4L146 483.1L148.3 484.8L150.6 486.6L152.9 488.3L152.9 488.3L155.1 490.1L155.2 490.1L157.4 491.8L157.5 491.8L159.8 493.5L159.8 493.5L162.1 495.2L164.4 496.9L166.7 498.6L168.9 500.3L171.1 502.1L173.1 503.9L175.2 505.9L177.2 507.8L179.3 509.8L181.3 511.9L183.3 513.9L183.3 514L185.4 516L185.4 516L187.4 518L187.5 518.1L189.5 520L189.5 520L191.6 522L193.7 524L195.7 526L197.6 528L199.5 530.1L201.5 532.3L203.4 534.4L205.3 536.6L205.3 536.6L207.2 538.7L207.2 538.8L209.2 540.9L209.2 540.9L211.2 543L211.2 543L213.1 545.1L215.1 547.2L217.1 549.3L219 551.4L220.9 553.6L222.8 555.7L223.8 556.8L224 557L224.2 557.1L224.4 557.3L224.6 557.4L224.8 557.5L225 557.5L225.3 557.6L225.5 557.6L225.8 557.6L226 557.6L226.2 557.5L226.5 557.5L226.7 557.4L226.9 557.3L227.1 557.1L227.3 557L227.5 556.8L227.6 556.6L227.8 556.4L227.9 556.2L228 555.9L228 555.7L228.1 555.4L236.3 498.4L236.3 498.1L236.3 497.9L236.3 497.6L236.2 497.4L236.2 497.2L236.1 496.9L236 496.7L235.8 496.5L235.7 496.3L235.6 496.2L235.6 496.1L233.8 494.1L233.8 494.1L232.1 492L232 492L230.3 490L230.2 489.9L228.5 487.9L228.4 487.9L226.6 485.9L226.6 485.9L224.7 484L224.7 483.9L222.8 482L222.8 482L220.9 480.1L220.8 480.1L218.9 478.2L218.9 478.2L216.9 476.4L216.9 476.4L214.9 474.6L214.8 474.5L212.8 472.8L212.8 472.8L210.8 471L210.8 471L208.7 469.3L208.7 469.3L206.6 467.6L206.6 467.6L204.6 465.9L202.5 464.2L200.5 462.4L198.4 460.7L196.6 459.2L196.4 459L196.2 458.9L195.9 458.8L195.7 458.7Z" fill="#01b8c8"/><path d="M231.1 534.5L220.4 522.6L211.5 513.8L203.5 504.9L192.2 494.3L184.4 486.4L161 468.4L140.3 454.1L132 449.5L111.5 450.6L104.9 451.3L103.4 452.4L103 453.9L103.4 455.3L107.4 458.9L112.3 462.1L129.7 472L136.8 476.5L171.1 502.1L195.7 526L223.8 556.8L225 557.5L226.9 557.3L228 555.7Z" fill="#12beb9" stroke="#0a0a0a" stroke-width="0.5" stroke-linejoin="round"/></g><g clip-path="url(#ceK)"><path d="M239.2 478.1L239.2 477.8L239.2 477.6L239.2 477.3L239.1 477.1L239.1 476.8L239 476.6L238.8 476.4L238.7 476.2L238.6 476L238.4 475.8L238.2 475.6L238 475.5L237.8 475.4L234.4 473.7L234.4 473.7L231 472.1L230.9 472.1L227.5 470.5L227.5 470.5L224.1 469L224.1 469L220.6 467.5L220.6 467.5L217.2 466.1L217.1 466.1L213.7 464.8L213.7 464.8L210.2 463.5L210.2 463.5L206.8 462.2L206.7 462.2L203.3 461.1L203.2 461L199.8 459.9L199.8 459.9L196.3 458.9L196.3 458.9L196 458.8L195.7 458.7L195.5 458.7L195.3 458.7L195 458.7L194.8 458.7L194.6 458.8L194.3 458.9L194.1 459L193.9 459.1L193.7 459.3L193.5 459.5L193.4 459.6L193.2 459.8L193.1 460.1L193 460.3L192.9 460.5L192.9 460.8L192.8 461L192.8 461.3L192.9 461.5L192.9 461.8L192.9 462L193 462.2L193.1 462.5L193.3 462.7L193.4 462.9L193.6 463.1L193.7 463.2L195.3 464.6L195.4 464.6L197.4 466.3L197.4 466.3L199.5 468.1L199.5 468.1L201.5 469.8L203.6 471.5L205.7 473.2L207.7 474.9L209.7 476.6L211.7 478.4L213.7 480.1L215.6 481.9L217.5 483.8L219.4 485.6L221.3 487.5L223.1 489.4L224.9 491.3L226.7 493.3L228.4 495.3L230.2 497.4L231.9 499.4L232 499.5L232.1 499.7L232.3 499.8L232.5 500L232.7 500.1L233 500.2L233.2 500.3L233.4 500.3L233.7 500.4L233.9 500.4L234.2 500.4L234.4 500.3L234.6 500.2L234.9 500.1L235.1 500L235.3 499.9L235.5 499.7L235.7 499.6L235.8 499.4L236 499.1L236.1 498.9L236.2 498.7L236.2 498.4L236.3 498.2Z" fill="#4dcc82"/></g><g clip-path="url(#cebot)"><path d="M48.8 634.9L48.9 635.2L48.9 635.4L49 635.7L49.1 635.9L49.3 636.1L49.4 636.3L49.6 636.5L49.8 636.6L50 636.8L50.2 636.9L50.4 637L50.7 637L50.9 637.1L51.1 637.1L51.4 637.1L51.6 637.1L51.9 637L52.1 637L52.3 636.9L55 635.6L57.6 634.3L60.2 633.1L62.9 632L65.5 630.8L68.2 629.8L70.8 628.7L73.5 627.7L76.2 626.8L78.8 625.9L81.5 625L84.2 624.2L86.9 623.4L89.5 622.7L92.2 622L94.9 621.4L97.6 620.8L100.3 620.2L103 619.7L105.7 619.3L108.4 618.8L111.1 618.5L113.8 618.1L116.5 617.9L119.2 617.6L121.9 617.4L124.6 617.3L127.3 617.1L130 617.1L132.8 617.1L135.5 617.1L138.2 617.1L140.9 617.3L143.6 617.4L146.3 617.6L149 617.9L151.7 618.1L154.4 618.5L157.1 618.8L159.8 619.3L162.5 619.7L165.2 620.2L167.9 620.8L170.6 621.4L173.3 622L176 622.7L178.6 623.4L181.3 624.2L184 625L186.7 625.9L189.3 626.8L192 627.7L194.7 628.7L197.3 629.8L200 630.8L202.6 632L205.3 633.1L207.9 634.3L210.5 635.6L213.2 636.9L213.4 637L213.6 637L213.9 637.1L214.1 637.1L214.4 637.1L214.6 637.1L214.8 637L215.1 637L215.3 636.9L215.5 636.8L215.7 636.6L215.9 636.5L216.1 636.3L216.2 636.1L216.4 635.9L216.5 635.7L216.6 635.4L216.6 635.2L216.7 634.9L227.6 559.1L227.6 558.9L227.6 558.6L227.6 558.4L227.5 558.1L227.4 557.9L227.3 557.6L227.2 557.4L227.1 557.2L226.9 557L226.7 556.8L226.5 556.7L226.3 556.5L226.1 556.4L225.9 556.3L225.6 556.2L225.4 556.2L225.1 556.2L224.9 556.2L210.3 557.6L210.2 557.6L194.4 559.9L194.1 559.9L176.8 564.1L176.8 564.1L176.7 564.1L175.1 563.8L175.1 563.8L172.9 563.4L172.9 563.4L170.7 563L170.7 563L168.5 562.6L168.4 562.6L166.2 562.2L166.2 562.2L164 561.9L164 561.9L161.8 561.5L161.8 561.5L159.6 561.2L159.5 561.2L157.3 561L157.3 561L155.1 560.7L155.1 560.7L152.8 560.5L152.8 560.5L150.6 560.3L150.6 560.3L148.3 560.1L148.3 560.1L146.1 559.9L146.1 559.9L143.8 559.8L143.8 559.8L141.6 559.7L141.6 559.7L139.3 559.6L139.3 559.6L137.1 559.6L137 559.6L134.8 559.5L134.8 559.5L132.6 559.5L132.5 559.5L130.3 559.6L130.3 559.6L128 559.6L128 559.6L125.8 559.7L125.8 559.7L123.5 559.8L123.5 559.8L121.3 559.9L121.3 559.9L119.1 560.1L119 560.1L116.8 560.2L116.8 560.2L114.6 560.4L114.6 560.4L112.3 560.6L112.3 560.6L110.1 560.8L110.1 560.8L107.8 561L107.8 561L105.6 561.3L105.6 561.3L103.3 561.6L103.3 561.6L101.1 562L101 562L98.8 562.4L98.7 562.4L96.6 562.9L96.5 562.9L94.3 563.5L94.3 563.5L92.2 564.1L92.1 564.1L90.7 564.6L89.3 564.1L87.2 563.5L85.2 562.9L83.1 562.3L81.1 561.6L79 561L77 560.3L74.9 559.7L72.9 559L72.9 559L70.8 558.3L70.8 558.3L68.8 557.7L68.8 557.7L66.7 557.1L66.7 557L64.6 556.5L64.6 556.4L62.5 555.9L62.4 555.9L60.3 555.4L60.3 555.4L58.2 554.9L58.1 554.9L56 554.5L56 554.5L53.9 554.2L53.8 554.2L51.7 553.8L51.7 553.8L49.6 553.5L49.5 553.5L47.4 553.3L45.3 553L43.2 552.7L41.1 552.3L40.2 552.2L40 552.2L39.7 552.1L39.5 552.2L39.2 552.2L39 552.3L38.8 552.4L38.6 552.5L38.4 552.6L38.2 552.8L38 553L37.8 553.2L37.7 553.4L37.6 553.6L37.5 553.8L37.4 554.1L37.4 554.3L37.3 554.6L37.3 554.8L37.4 555.1Z" fill="#3e26a8"/><path d="M48.6 633.6L52.2 630.9L58.1 628.3L68.5 624.5L73 623.5L81.9 620L92.3 618.9L107.2 614.3L122.1 614.6L132.5 613.2L142.9 614.5L157.7 614.2L172.6 618.7L183 619.7L193.4 623.6L197.9 624.4L202.3 626.4L213.6 630.6L216.9 633.3L227.6 559.1L227.4 557.9L226.5 556.7L225.1 556.2L210.2 557.6L194.1 559.9L176.8 564.1L164 561.9L152.8 560.5L141.6 559.7L132.6 559.5L119.1 560.1L105.6 561.3L98.7 562.4L90.7 564.6L60.3 555.4L40.2 552.2L38.8 552.4L37.7 553.4L37.4 555.1Z" fill="#422fc2" stroke="#0a0a0a" stroke-width="0.5" stroke-linejoin="round"/><path d="M48.1 629.7L59.6 624.6L78.9 618.3L99.8 614.3L105.7 612.3L110.2 611.8L116.1 612.3L129.5 611.4L138.4 611.4L148.8 612.3L154.8 611.8L159.2 612.1L165.2 614.1L187.5 618.3L206.8 624.6L217.5 629.3L227.6 559.1L227.4 557.9L226.5 556.7L225.1 556.2L210.2 557.6L194.1 559.9L176.8 564.1L164 561.9L152.8 560.5L141.6 559.7L132.6 559.5L119.1 560.1L105.6 561.3L98.7 562.4L90.7 564.6L60.3 555.4L51.7 553.8L39 552.3L37.7 553.4L37.4 555.1Z" fill="#4639da" stroke="#0a0a0a" stroke-width="0.5" stroke-linejoin="round"/><path d="M47.7 626.2L50.7 625.3L59.6 621.4L67.1 619.5L77.5 615.7L83.4 615L92.3 612.9L99.8 611.8L107.2 609.5L110.2 609.3L116.1 609.8L126.5 608.8L132.5 609.2L139.9 608.8L148.8 609.8L154.8 609.3L159.2 609.6L166.6 611.8L172.6 612.6L181.5 614.7L188.9 615.7L197.9 618.9L206.8 621.3L214.2 624.6L218 625.8L227.6 559.1L227.4 557.9L226.5 556.7L225.1 556.2L210.2 557.6L194.1 559.9L176.8 564.1L164 561.9L152.8 560.5L141.6 559.7L132.6 559.5L119.1 560.1L105.6 561.3L98.7 562.4L90.7 564.6L60.3 555.4L51.7 553.8L39 552.3L37.7 553.4L37.4 555.1Z" fill="#4746ea" stroke="#0a0a0a" stroke-width="0.5" stroke-linejoin="round"/><path d="M47 622.6L50.7 621.7L58.1 618.4L67.1 616.1L73 613.7L77.5 612.6L83.4 611.8L92.3 609.7L99.8 608.8L107.2 606.7L111.7 606.5L116.1 606.9L126.5 605.9L132.5 606.3L141.4 606L148.8 606.9L154.8 606.4L159.2 606.8L166.6 608.8L174.1 609.7L181.5 611.5L190.4 612.8L199.3 615.9L206.8 617.7L215.7 621.4L218.5 622.1L227.6 559.1L227.4 557.9L226.5 556.7L225.1 556.2L210.2 557.6L194.1 559.9L176.8 564.1L164 561.9L152.8 560.5L141.6 559.7L132.6 559.5L119.1 560.1L105.6 561.3L98.7 562.4L90.7 564.6L60.3 555.4L51.7 553.8L39 552.3L37.7 553.4L37.4 555.1Z" fill="#4852f4" stroke="#0a0a0a" stroke-width="0.5" stroke-linejoin="round"/><path d="M46.4 618.4L50.7 617.4L58.1 614.5L76 609.2L90.8 606.3L99.8 605L107.2 603.4L116.1 603.3L126.5 602.5L139.9 602.5L148.8 603.3L159.2 603.5L166.6 605.1L175.6 606.3L191.9 609.5L199.3 611.9L208.3 614.3L215.7 617.1L219.1 617.9L227.6 559.1L227.4 557.9L226.5 556.7L225.1 556.2L210.2 557.6L194.1 559.9L176.8 564.1L164 561.9L152.8 560.5L141.6 559.7L132.6 559.5L119.1 560.1L105.6 561.3L98.7 562.4L90.7 564.6L60.3 555.4L51.7 553.8L39 552.3L37.7 553.4L37.4 555.1Z" fill="#465ffb" stroke="#0a0a0a" stroke-width="0.5" stroke-linejoin="round"/><path d="M45.8 613.6L50.7 612.5L73 605.6L89.4 602.3L107.2 599.5L128 598.5L139.9 598.5L156.2 599.3L175.6 602L191.9 605.1L219.8 613.2L227.5 558.1L226.7 556.8L225.1 556.2L210.3 557.6L194.1 559.9L176.8 564.1L164 561.9L152.8 560.5L141.6 559.7L132.6 559.5L119.1 560.1L105.6 561.3L98.7 562.4L90.7 564.6L60.3 555.4L51.7 553.8L39 552.3L37.7 553.4L37.4 555.1Z" fill="#406cfe" stroke="#0a0a0a" stroke-width="0.5" stroke-linejoin="round"/><path d="M45 608.4L50.7 607.3L73 600.5L89.4 597.3L108.7 594.7L132.5 593.7L156.2 594.6L175.6 597.1L193.4 600.3L215.7 607L220.6 608L227.5 558.1L226.7 556.8L225.1 556.2L210.3 557.6L194.1 559.9L176.8 564.1L164 561.9L152.8 560.5L141.6 559.7L132.6 559.5L119.1 560.1L105.6 561.3L98.7 562.4L90.7 564.6L62.4 555.9L53.9 554.2L39.2 552.2L37.7 553.4L37.4 555.1Z" fill="#347afd" stroke="#0a0a0a" stroke-width="0.5" stroke-linejoin="round"/><path d="M44.2 602.5L50.7 601.4L73 594.4L90.8 591.1L110.2 588.8L125 588L138.4 587.9L159.2 589L174.1 590.9L183 592.7L191.9 593.8L196.4 595L209.7 599.9L221.4 602.4L227.5 558.1L226.7 556.8L225.1 556.2L210.3 557.6L194.1 559.9L176.8 564.1L164 561.9L152.8 560.5L141.6 559.7L132.6 559.5L119.1 560.1L105.6 561.3L98.7 562.4L90.7 564.6L62.4 555.9L53.9 554.2L39.2 552.2L37.7 553.4L37.4 555.1Z" fill="#2e87f7" stroke="#0a0a0a" stroke-width="0.5" stroke-linejoin="round"/><path d="M43.3 596L49.2 595.1L53.7 593.8L71.5 586.9L76 585.9L80.4 585.8L87.9 583.4L93.8 582.7L98.3 582.9L102.7 581.4L107.2 580.6L110.2 580.4L116.1 581L123.5 579.6L128 579.7L132.5 580.4L141.4 579.5L150.3 581.1L154.8 580.3L159.2 580.5L163.7 581.5L166.6 582.6L172.6 582.6L178.5 583.4L181.5 584.3L184.5 585.8L187.5 585.5L190.4 585.9L197.9 588.2L206.8 593.1L211.3 595.2L215.7 596.3L218.7 596.1L222.1 597.1L227.6 558.4L226.7 556.8L225.1 556.2L210.3 557.6L194.1 559.9L176.8 564.1L164 561.9L152.8 560.5L141.6 559.7L132.6 559.5L119.1 560.1L105.6 561.3L98.7 562.4L90.7 564.6L62.4 555.9L53.9 554.2L39.2 552.2L37.8 553.2L37.3 554.8Z" fill="#2a93ee" stroke="#0a0a0a" stroke-width="0.5" stroke-linejoin="round"/><path d="M42.2 589L46.3 588.9L55.2 585.7L61.1 582.7L65.6 579.7L71.5 578.4L74.5 577.2L79 573.5L80.4 573.3L83.4 574L86.4 574.1L90.8 573L93.8 570.9L96.8 567.5L99.8 565.3L113.1 562L126.5 560.6L139.9 560.8L154.8 562.7L160.7 564.7L168.1 566.3L169.7 567.5L172.6 571.5L174.1 572.9L178.5 574.9L183 575L187.5 573.8L188.9 576L191.9 578.8L194.9 580.4L199.3 581.7L209.7 588.9L218.7 593.8L222.7 593.1L227.6 558.4L226.7 556.8L225.1 556.2L210.3 557.6L194.1 559.9L176.8 564.1L164 561.9L152.8 560.5L141.6 559.7L132.6 559.5L119.1 560.1L105.6 561.3L98.7 562.4L90.7 564.6L62.4 555.9L53.9 554.2L39.5 552.2L37.8 553.2L37.4 555.1Z" fill="#249ee6" stroke="#0a0a0a" stroke-width="0.5" stroke-linejoin="round"/><path d="M169.3 562.7L175.6 568.3L178.5 570.2L181.5 571.3L188 572.1L194.9 576L204 579.8L217.2 587.1L220.2 588L223.4 587.9L227.6 558.9L227.2 557.4L226.1 556.4L224.9 556.2L210.3 557.6L194.4 559.9L176.8 564.1ZM41.1 581L44.8 581L49.2 580L62.6 575.5L73 572.9L79 570.7L84.9 569.6L89.4 567.5L94 563.6L90.7 564.6L60.3 555.4L51.7 553.8L39 552.3L37.7 553.4L37.4 555.1Z" fill="#1da8e0" stroke="#0a0a0a" stroke-width="0.5" stroke-linejoin="round"/><path d="M39.8 572L50.7 572L64.1 570L76 569L81.9 567.5L84.8 566L87.7 563.7L60.3 555.4L39.5 552.2L38 553L37.3 554.8ZM175.7 563.9L180 567.5L183.3 569.1L205.3 575.9L217.2 580.2L220.2 581L224.4 581.2L227.6 558.4L226.7 556.8L225.1 556.2L210.3 557.6L194.1 559.9L176.8 564.1Z" fill="#12b1d6" stroke="#0a0a0a" stroke-width="0.5" stroke-linejoin="round"/><path d="M38.5 563.2L41.8 563.1L47.7 564.4L53.7 565.2L59.6 565.4L64.1 565L77.5 566.4L80.4 565.5L83.7 562.4L60.3 555.4L39.7 552.1L38 553L37.3 554.6ZM179.5 563.5L184.5 567.2L190.4 569.1L202.3 570.9L214.2 573.3L225.4 574.1L227.6 558.4L226.7 556.8L225.1 556.2L210.2 557.6L194.1 559.9Z" fill="#01b8c8" stroke="#0a0a0a" stroke-width="0.5" stroke-linejoin="round"/><path d="M37.3 554.9L41.8 556.9L46.3 556.9L50.7 557.6L56.7 559L63.9 561.4L67.1 560.9L71.5 561.3L74.5 562.2L77.5 563.6L78.8 562.9L79.5 561.1L60.3 555.4L40.2 552.2L39 552.3L37.8 553.2ZM182.5 562.9L186.1 566L190.4 567.2L202.3 567L208.3 567.7L214.2 567.9L226.4 567.1L227.6 558.6L226.7 556.8L224.9 556.2L210.2 557.6L194.4 559.9Z" fill="#12beb9" stroke="#0a0a0a" stroke-width="0.5" stroke-linejoin="round"/><path d="M185.1 562.1L187.5 564.8L188.9 565.4L190.4 565.3L197.9 564.1L209.7 563.2L227.3 560.7L227.6 558.6L226.7 556.8L225.1 556.2L210.3 557.6L194.1 559.9Z" fill="#2ac3a9" stroke="#0a0a0a" stroke-width="0.5" stroke-linejoin="round"/><path d="M188.6 561.4L188.9 563L194.9 560.5L197.9 560.1L202.3 560.3L203.8 560L210.2 557.6L194.4 559.9Z" fill="#37c897" stroke="#0a0a0a" stroke-width="0.5" stroke-linejoin="round"/></g><g clip-path="url(#ceW)"><path d="M37.3 555L37.4 555.2L37.5 555.4L37.6 555.7L37.7 555.9L37.8 556.1L37.9 556.3L38.1 556.5L38.3 556.6L38.5 556.8L38.7 556.9L38.9 557L39.2 557.1L39.4 557.1L40.3 557.3L40.4 557.3L42.5 557.6L42.5 557.6L44.6 557.9L44.7 557.9L46.8 558.2L46.8 558.2L48.9 558.5L51 558.8L53.1 559.1L55.2 559.5L57.2 559.8L59.3 560.3L61.3 560.7L63.3 561.3L65.4 561.9L67.4 562.5L69.4 563.1L71.5 563.8L73.5 564.4L73.5 564.4L75.5 565.1L75.6 565.1L77.6 565.8L77.6 565.8L79.7 566.4L79.7 566.4L81.7 567L81.7 567L83.8 567.7L83.8 567.7L85.8 568.3L85.8 568.3L87.9 568.9L89.9 569.6L90.2 569.6L90.4 569.6L90.6 569.7L90.9 569.7L91.1 569.6L91.3 569.6L93.4 568.9L95.6 568.4L97.7 567.8L99.8 567.3L101.9 566.9L104 566.6L106.2 566.3L108.3 566L110.5 565.8L112.7 565.6L114.9 565.4L117.1 565.2L119.3 565.1L121.6 564.9L123.8 564.8L126 564.7L128.2 564.6L130.4 564.6L132.6 564.5L134.8 564.5L137 564.6L139.2 564.6L141.4 564.7L143.6 564.8L145.8 564.9L148 565.1L150.2 565.3L152.4 565.5L154.6 565.7L156.8 565.9L158.9 566.2L161.1 566.5L163.3 566.8L165.5 567.2L167.7 567.5L169.9 567.9L172 568.3L174.2 568.7L176.2 569.1L176.4 569.1L176.7 569.1L176.9 569.1L177.2 569.1L177.4 569L177.6 568.9L177.8 568.8L178 568.7L178.2 568.5L178.4 568.4L178.6 568.2L178.7 568L178.8 567.8L178.9 567.5L179 567.3L179.1 567.1L179.1 566.8L179.1 566.6L179.1 566.3L179.1 566.1L179 565.8L178.9 565.6L178.8 565.4L178.7 565.2L178.6 565L178.4 564.8L178.3 564.6L176.2 562.8L176.2 562.8L174.1 560.9L174 560.9L171.9 558.9L171.8 558.9L169.6 557L169.6 557L167.4 555.1L167.4 555.1L165.2 553.2L165.2 553.1L162.9 551.3L162.9 551.3L160.7 549.4L160.7 549.4L158.4 547.5L158.4 547.5L156.1 545.7L156.1 545.7L153.8 543.8L153.8 543.8L151.5 542L151.5 542L149.2 540.3L149.1 540.2L146.8 538.5L146.8 538.5L144.4 536.8L144.4 536.8L141.9 535.1L141.9 535.1L139.5 533.5L139.4 533.5L136.9 531.9L136.9 531.9L134.4 530.4L134.3 530.4L131.8 528.9L131.7 528.9L129.2 527.6L129.1 527.5L126.5 526.3L126.4 526.2L123.8 525L123.7 525L121 523.9L120.9 523.9L118.2 522.9L118.2 522.9L115.4 521.9L115.4 521.9L112.7 521L109.9 520.1L107.2 519.2L104.5 518.2L101.9 517.2L99.2 516.2L96.5 515.1L93.9 514L91.2 512.9L88.5 511.8L85.9 510.6L83.2 509.5L83.2 509.5L80.5 508.4L80.5 508.4L77.8 507.3L77.8 507.2L75.1 506.2L75.1 506.1L72.4 505.1L72.4 505.1L69.7 504L69.6 504L66.9 503L66.9 503L64.2 502.1L64.1 502L61.4 501.1L61.3 501.1L58.6 500.3L58.5 500.3L55.8 499.5L55.7 499.5L52.9 498.7L52.9 498.7L50.1 498L50.1 498L47.3 497.4L47.3 497.3L44.4 496.7L44.4 496.7L41.6 496L38.8 495.4L36 494.8L33.2 494.1L32 493.8L31.8 493.8L31.5 493.7L31.3 493.7L31.1 493.8L30.8 493.8L30.6 493.9L30.4 494L30.2 494.1L30 494.2L29.8 494.4L29.6 494.6L29.4 494.8L29.3 495L29.2 495.2L29.1 495.4L29 495.7L29 495.9L29 496.2L29 496.4L29 496.7Z" fill="#12beb9"/><path d="M128.6 527.6L126.5 535.2L124.6 539.9L109.7 565.9L126 564.7L139.2 564.6L156.8 565.9L176.4 569.1L177.6 568.9L178.6 568.2L179.1 566.6L178.4 564.8L158.4 547.5L141.9 535.1L134.3 530.4Z" fill="#2ac3a9" stroke="#0a0a0a" stroke-width="0.5" stroke-linejoin="round"/></g><g clip-path="url(#sece)"><g clip-path="url(#ceU)"><path d="M108.6 456.7L118.5 462.9L128.7 468.6L138.6 474.8L148.1 481.6L157.4 488.7L166.8 495.6L175.9 503.1L184.2 511.4L192.7 519.6L200.9 528L208.8 536.8L216.8 545.4L224.7 554.1L231.3 547.9L223.2 539L215.3 530.5L207.4 521.7L198.7 512.8L190.5 504.8L181.8 496.3L172.1 488.2L162.7 481.2L153.4 474.1L143.5 467.1L133.1 460.5L122.8 454.8L114 449.3Z" fill="url(#dt2)" opacity="0.8"/></g><g clip-path="url(#ceU)"><path d="M143 454.6L151.8 460.4L160 466.4L167.5 472.2L174.9 477.7L183.3 484.1L191.6 491.6L198.5 498.5L204.9 504.8L212.4 512.3L219.2 519.8L225.4 526.6L231.9 533.5L238.6 540.9L268.4 512.4L261.1 504.4L254.7 497.5L249.1 491.4L241.5 482.9L232.4 473.9L226.8 468.4L219.5 461.1L208.5 451.2L198.3 443.3L191.6 438.4L184 432.5L174.6 425.7L164 418.6Z" fill="url(#dt2)" opacity="0.8"/></g><g clip-path="url(#ceU)"><path d="M185.6 467.7L189.3 470.8L193.1 474L196.8 477.1L200.4 480.1L203.9 483L207.3 486.1L210.6 489.1L213.9 492.2L217 495.5L220 498.8L223 502.2L226 505.8L229 509.4L237.3 502.1L234.3 498.4L231.2 494.8L228 491.1L224.8 487.6L221.4 484.1L218 480.8L214.5 477.5L210.9 474.4L207.3 471.3L203.6 468.2L199.9 465.2L196.2 462.1L192.6 459Z" fill="url(#dt2)" opacity="0.8"/></g><g clip-path="url(#ceband)"><path d="M176.8 566.6L188.7 542L224.4 547.2L226.4 554.3L198.6 558.4Z" fill="url(#dt3)" opacity="0.5"/></g><g clip-path="url(#ceW)"><path d="M20.3 487.7L134.2 528.7L127.3 546.1L111.4 566.6L20.3 559.5Z" fill="url(#dt4)" opacity="0.9"/></g><g clip-path="url(#ceW)"><path d="M111.4 529.8L139.2 541L176.8 566.6L149.1 563.1L117.4 562.5Z" fill="url(#dt4)" opacity="0.9"/></g><g clip-path="url(#cebot)"><path d="M77.8 565.6L109.5 565.6L117.4 581L95.6 593.3L73.8 581Z" fill="url(#dt3)" opacity="0.6"/></g><g clip-path="url(#cebot)"><path d="M176.8 566.6L225.4 554.3L224.4 585.1L212.5 607.6L188.7 593.3L172.9 576.9Z" fill="url(#dt2)" opacity="0.6"/></g><g clip-path="url(#ceK)"><path d="M198.6 455.9L238.3 472.3L238.3 509.2L223.4 490.8Z" fill="url(#dt3)" opacity="0.6"/></g><path d="M90.6 567.2L93.6 566.3L96.6 565.5L99.7 564.8L102.7 564.2L105.8 563.8L108.9 563.4L112 563.1L115.1 562.9L118.2 562.6L121.3 562.4L124.4 562.3L127.5 562.1L130.6 562.1L133.7 562L136.8 562.1L139.9 562.1L143 562.3L146.1 562.4L149.2 562.7L152.3 562.9L155.4 563.3L158.4 563.6L161.5 564L164.6 564.5L167.7 565L170.7 565.5L173.8 566.1L176.8 566.6" stroke="#35c9a0" stroke-width="2.6" fill="none"/><path d="M90.6 567.2L93.6 566.3L96.6 565.5L99.7 564.8L102.7 564.2L105.8 563.8L108.9 563.4L112 563.1L115.1 562.9L118.2 562.6L121.3 562.4L124.4 562.3L127.5 562.1L130.6 562.1L133.7 562L136.8 562.1L139.9 562.1L143 562.3L146.1 562.4L149.2 562.7L152.3 562.9L155.4 563.3L158.4 563.6L161.5 564L164.6 564.5L167.7 565L170.7 565.5L173.8 566.1L176.8 566.6" stroke="#050c12" stroke-width="2.0" fill="none" stroke-dasharray="2.2 1.3"/><path d="M32.5 496.5L35.5 497.2L38.5 497.9L41.5 498.6L44.5 499.3L47.5 500L50.5 500.7L53.5 501.5L56.5 502.3L59.4 503.2L62.4 504.1L65.3 505.1L68.2 506.1L71.1 507.2L73.9 508.4L76.8 509.5L79.7 510.7L82.5 511.9L85.4 513.1L88.2 514.3L91 515.5L93.9 516.7L96.8 517.9L99.6 519L102.5 520.1L105.4 521.2L108.3 522.2L111.2 523.2L114.2 524.1L117.1 525.1L120 526.2L122.9 527.4L125.7 528.6L128.5 530L131.2 531.5L133.9 533L136.5 534.6L139.2 536.2L141.7 538L144.3 539.8L146.8 541.6L149.3 543.5L151.8 545.4L154.2 547.3L156.6 549.3L159 551.2L161.4 553.2L163.8 555.2L166.2 557.3L168.5 559.3L170.9 561.4L173.2 563.4L175.6 565.5" stroke="#111" stroke-width="0.6" fill="none"/><path d="M30.5 495.9h3.1M32.1 494.4v3.1M33.2 496.8h3.3M34.8 495.2v3.3M52.4 501.3h3.1M53.9 499.7v3.1M55 502.2h3.3M56.6 500.6v3.3M70.4 506.9h3.2M72 505.3v3.2M73.3 507.8h2.8M74.7 506.4v2.8M86.5 514.5h3.2M88.1 512.9v3.2M89.1 515.4h3.6M90.8 513.6v3.6M102.7 520.4h3.4M104.4 518.7v3.4M105.4 521.3h3.3M107.1 519.7v3.3M121.8 527.4h3.2M123.4 525.9v3.2M124.8 528.3h2.7M126.1 527v2.7M141.6 538h3.4M143.3 536.3v3.4M161.4 555.9h3.5M163.2 554.2v3.5M164.5 556.8h2.8M165.9 555.4v2.8" stroke="#030303" stroke-width="1.95" fill="none" stroke-linecap="round"/><path d="M38.5 496.4h0M33.5 499h0M28.9 496.2h0M38.3 496.6h0M36.4 499h0M57.3 504.3h0M55.1 504.9h0M58.3 503.5h0M57.5 497.9h0M58.6 499.8h0M78.4 507.5h0M77.4 507.8h0M69.4 509.6h0M75.5 505.1h0M76.8 508.9h0M84.9 515.3h0M88.3 512.3h0M84.1 515.3h0M88.5 518.4h0M93.5 515.1h0M102.8 522.9h0M107.4 523.1h0M106.7 517.9h0M109.3 522.5h0M105.5 517.6h0M122.4 530.9h0M123.3 524.4h0M125.7 525.1h0M126.4 525.2h0M120.9 528.1h0M140.3 535.3h0M147.1 537.7h0M143.7 540.7h0M139.5 540h0M141.9 540.2h0M159.5 557.3h0M162.7 553.9h0M165.2 552.6h0M166.7 559.2h0M163.6 553.7h0" stroke="#050505" stroke-width="1.2" stroke-linecap="round" fill="none"/><path d="M110 457.7L112.6 459.4L115.3 461L118 462.6L120.7 464.1L123.4 465.6L126.2 467.1L128.9 468.7L131.6 470.2L134.2 471.9L136.8 473.6L139.4 475.3L142 477.1L144.5 478.9L147.1 480.8L149.6 482.7L152.1 484.6L154.5 486.5L157 488.4L159.5 490.3L162.1 492.1L164.6 494L167.1 495.8L169.6 497.7L172 499.7L174.4 501.8L176.7 503.9L179 506.1L181.2 508.3L183.4 510.5L185.6 512.8L187.8 515L190.1 517.2L192.4 519.3L194.7 521.5L196.9 523.7L199.1 526L201.2 528.3L203.3 530.7L205.4 533L207.5 535.4L209.6 537.7L211.7 540L213.9 542.3L216 544.6L218.2 546.9L220.3 549.3L222.4 551.6" stroke="#111" stroke-width="0.7" fill="none"/><path d="M107.3 459h3.3M108.9 457.4v3.3M109.8 459.9h3.6M111.6 458.2v3.6M125.6 467.7h3.9M127.6 465.8v3.9M128.7 468.6h3.1M130.3 467.1v3.1M138.5 476.5h3.1M140.1 474.9v3.1M141.1 477.4h3.4M142.8 475.7v3.4M156.2 488.6h3.2M157.8 487v3.2M158.9 489.5h3.1M160.5 488v3.1M172.1 500.9h3M173.6 499.4v3M183.6 513h3.3M185.2 511.3v3.3M186 513.9h3.8M187.9 512v3.8M197.6 527.2h3.1M199.1 525.6v3.1M200 528.1h3.7M201.8 526.2v3.7M209.3 540h3.3M210.9 538.3v3.3" stroke="#030303" stroke-width="1.95" fill="none" stroke-linecap="round"/><path d="M113.6 457.5h0M108.9 462.3h0M113.6 462.5h0M108.6 456.2h0M106.6 459h0M126.1 470.5h0M132 466.2h0M124.1 468.2h0M130.7 466h0M133 469.8h0M138.3 478.6h0M143.5 474.9h0M142.1 474.5h0M143.9 479.8h0M144 478.4h0M163.6 488.2h0M159.3 486.5h0M158.9 486.1h0M156.6 490.6h0M161 485.8h0M170.9 498h0M175.2 498.1h0M175.5 497.3h0M168.4 500.2h0M176.1 499.5h0M190 511.9h0M183.7 510.8h0M181.8 511.9h0M183.1 511.8h0M183.9 516.8h0M204.7 529.7h0M197.3 524.8h0M201.9 530.6h0M201.1 525.1h0M202.1 531.2h0M210.8 543.2h0M214.8 540h0M211.5 536.6h0M214.1 540.9h0M210.6 542.6h0" stroke="#050505" stroke-width="1.2" stroke-linecap="round" fill="none"/><path d="M193.8 460L196.3 462.2L198.9 464.3L201.4 466.5L204 468.6L206.6 470.7L209.1 472.9L211.7 475L214.2 477.3L216.6 479.5L219.1 481.8L221.4 484.1L223.8 486.5L226.1 489L228.3 491.5L230.5 494L232.7 496.5L234.8 499.1" stroke="#111" stroke-width="0.8" fill="none"/><path d="M193.2 461.3h3.4M194.9 459.6v3.4M196 462.2h3.2M197.6 460.6v3.2M202.5 469.8h2.8M203.9 468.4v2.8M204.9 470.7h3.4M206.6 469v3.4M215.9 480.3h2.8M217.3 478.9v2.8M218.3 481.2h3.4M220 479.5v3.4M226.3 492.5h3.1M227.8 491v3.1M228.8 493.4h3.4M230.5 491.7v3.4" stroke="#030303" stroke-width="1.95" fill="none" stroke-linecap="round"/><path d="M192.9 461.8h0M201.1 461.5h0M198 458.1h0M200.5 460.5h0M197.1 465.4h0M210.1 469.9h0M206 467h0M202 469.5h0M208.8 470.9h0M204 467.5h0M213.9 481.6h0M217.7 477.2h0M217.9 477.6h0M217.8 477.4h0M219.1 484.9h0M231.3 490.1h0M230.6 496.8h0M228.6 496.2h0M224.9 492.5h0M232.5 491.7h0" stroke="#050505" stroke-width="1.2" stroke-linecap="round" fill="none"/><path d="M34.5 553.7L37.6 554.3L40.7 554.8L43.9 555.3L47 555.7L50.2 556.2L53.3 556.6L56.4 557.1L59.6 557.8L62.7 558.5L65.7 559.4L68.8 560.3L71.8 561.3L74.8 562.2L77.9 563.2L80.9 564.2L83.9 565.1L87 566.1L90 567" stroke="#111" stroke-width="0.8" fill="none"/><path d="M33.7 553.6h2.9M35.1 552.1v2.9M36.3 554.5h3M37.8 553v3M45.4 555.1h3.2M47 553.5v3.2M48.2 556h2.9M49.7 554.6v2.9M60 557.5h2.8M61.4 556.1v2.8M62.7 558.4h2.8M64.1 557v2.8M74.8 563.6h3.1M76.3 562v3.1M84.6 565.7h2.9M86.1 564.2v2.9M87.3 566.6h2.9M88.8 565.1v2.9" stroke="#030303" stroke-width="1.95" fill="none" stroke-linecap="round"/><path d="M32.7 554.7h0M32 553.5h0M38.3 557.1h0M40.6 553h0M31.5 555.6h0M51.9 555.7h0M49.5 558.3h0M44 556.8h0M45.1 556.5h0M47.4 552.7h0M67.1 557.4h0M63.7 561.5h0M65.3 556.1h0M57.4 557.7h0M62.6 555h0M75.5 560.8h0M76.4 567.2h0M76.1 567.6h0M73.9 565.6h0M79.7 563.8h0M82.7 566.8h0M87.1 562h0M90.4 569.1h0M82.7 567.2h0M84.3 565h0" stroke="#050505" stroke-width="1.2" stroke-linecap="round" fill="none"/><path d="M89.6 566h3.2M91.2 564.4v3.2M92.3 569.4h3.2M93.9 567.8v3.2M88.8 568.2h3.2M90.4 566.6v3.2M87.1 566.1h3.2M88.7 564.5v3.2M173.8 567.8h3.2M175.4 566.2v3.2M173.2 569.1h3.2M174.8 567.5v3.2M172.3 565.5h3.2M173.9 563.9v3.2M172.4 568.2h3.2M174 566.6v3.2" stroke="#030303" stroke-width="1.8" fill="none" stroke-linecap="round"/></g></g><rect x="29.7" y="453.9" width="206.1" height="180.4" fill="none" stroke="#777" stroke-width="0.6"/><text x="45.3" y="644.6" font-size="7.1" text-anchor="middle" fill="#2c2c2c" font-family="Liberation Sans, Arial, sans-serif">−0.015</text><text x="73.9" y="644.6" font-size="7.1" text-anchor="middle" fill="#2c2c2c" font-family="Liberation Sans, Arial, sans-serif">−0.01</text><text x="102.5" y="644.6" font-size="7.1" text-anchor="middle" fill="#2c2c2c" font-family="Liberation Sans, Arial, sans-serif">−0.005</text><text x="132.4" y="644.6" font-size="7.1" text-anchor="middle" fill="#2c2c2c" font-family="Liberation Sans, Arial, sans-serif">0</text><text x="161.1" y="644.6" font-size="7.1" text-anchor="middle" fill="#2c2c2c" font-family="Liberation Sans, Arial, sans-serif">0.005</text><text x="189.7" y="644.6" font-size="7.1" text-anchor="middle" fill="#2c2c2c" font-family="Liberation Sans, Arial, sans-serif">0.01</text><text x="218.3" y="644.6" font-size="7.1" text-anchor="middle" fill="#2c2c2c" font-family="Liberation Sans, Arial, sans-serif">0.015</text><text x="26.2" y="627.7" font-size="7.1" text-anchor="end" fill="#2c2c2c" font-family="Liberation Sans, Arial, sans-serif">54</text><text x="26.2" y="606.3" font-size="7.1" text-anchor="end" fill="#2c2c2c" font-family="Liberation Sans, Arial, sans-serif">56</text><text x="26.2" y="584.9" font-size="7.1" text-anchor="end" fill="#2c2c2c" font-family="Liberation Sans, Arial, sans-serif">58</text><text x="26.2" y="563.5" font-size="7.1" text-anchor="end" fill="#2c2c2c" font-family="Liberation Sans, Arial, sans-serif">60</text><text x="26.2" y="542" font-size="7.1" text-anchor="end" fill="#2c2c2c" font-family="Liberation Sans, Arial, sans-serif">62</text><text x="26.2" y="520.6" font-size="7.1" text-anchor="end" fill="#2c2c2c" font-family="Liberation Sans, Arial, sans-serif">64</text><text x="26.2" y="499.2" font-size="7.1" text-anchor="end" fill="#2c2c2c" font-family="Liberation Sans, Arial, sans-serif">66</text><text x="26.2" y="477.8" font-size="7.1" text-anchor="end" fill="#2c2c2c" font-family="Liberation Sans, Arial, sans-serif">68</text><path d="M46.9 634.3v-2M46.9 453.9v2M75.5 634.3v-2M75.5 453.9v2M104.1 634.3v-2M104.1 453.9v2M132.8 634.3v-2M132.8 453.9v2M161.4 634.3v-2M161.4 453.9v2M190 634.3v-2M190 453.9v2M218.6 634.3v-2M218.6 453.9v2M29.7 625.2h2M235.8 625.2h-2M29.7 603.8h2M235.8 603.8h-2M29.7 582.4h2M235.8 582.4h-2M29.7 561h2M235.8 561h-2M29.7 539.5h2M235.8 539.5h-2M29.7 518.1h2M235.8 518.1h-2M29.7 496.7h2M235.8 496.7h-2M29.7 475.3h2M235.8 475.3h-2" stroke="#777" stroke-width="0.6" fill="none"/><text x="133.6" y="654" font-size="8" text-anchor="middle" fill="#2c2c2c" font-family="Liberation Sans, Arial, sans-serif">Coordinate/θ</text><text transform="translate(13.5 544.1) rotate(-90)" font-size="7.7" text-anchor="middle" fill="#2c2c2c" font-family="Liberation Sans, Arial, sans-serif">Radius/mm</text><text x="137.2" y="669.3" font-size="12.5" text-anchor="middle" fill="#111" font-family="Liberation Serif, Times New Roman, serif">T = 340 K</text><rect x="242" y="453.9" width="10.9" height="180.4" fill="url(#pg)" stroke="#777" stroke-width="0.5"/><text x="255.5" y="463.1" font-size="6.7" fill="#2c2c2c" font-family="Liberation Sans, Arial, sans-serif">40</text><text x="255.5" y="485.9" font-size="6.7" fill="#2c2c2c" font-family="Liberation Sans, Arial, sans-serif">20</text><text x="255.5" y="508.7" font-size="6.7" fill="#2c2c2c" font-family="Liberation Sans, Arial, sans-serif">0</text><text x="255.5" y="531.5" font-size="6.7" fill="#2c2c2c" font-family="Liberation Sans, Arial, sans-serif">−20</text><text x="255.5" y="554.3" font-size="6.7" fill="#2c2c2c" font-family="Liberation Sans, Arial, sans-serif">−40</text><text x="255.5" y="577.1" font-size="6.7" fill="#2c2c2c" font-family="Liberation Sans, Arial, sans-serif">−60</text><text x="255.5" y="599.9" font-size="6.7" fill="#2c2c2c" font-family="Liberation Sans, Arial, sans-serif">−80</text><text x="255.5" y="622.7" font-size="6.7" fill="#2c2c2c" font-family="Liberation Sans, Arial, sans-serif">−100</text><path d="M252.9 460.9h-2M252.9 483.7h-2M252.9 506.5h-2M252.9 529.3h-2M252.9 552.1h-2M252.9 574.9h-2M252.9 597.7h-2M252.9 620.5h-2" stroke="#555" stroke-width="0.6" fill="none"/></g><g><g clip-path="url(#bxf)"><g clip-path="url(#cfband)"><path d="M375.9 451.4L375.8 451.4L372.3 451.9L372.3 451.9L368.8 452.4L368.8 452.4L365.3 453L365.2 453L361.7 453.7L361.7 453.7L358.2 454.4L358.2 454.4L354.7 455.2L354.6 455.2L351.2 456L351.1 456L347.6 456.9L347.6 456.9L344.1 457.9L344.1 457.9L340.6 458.9L340.6 458.9L337.1 459.9L337.1 459.9L333.6 461L333.6 461.1L330.1 462.2L330.1 462.2L326.6 463.5L326.6 463.5L323.2 464.8L323.1 464.8L319.7 466.1L319.7 466.1L316.2 467.5L316.2 467.5L312.8 469L312.7 469L309.3 470.5L309.3 470.5L305.9 472.1L305.8 472.1L302.4 473.7L302.4 473.7L299 475.4L298.8 475.5L298.6 475.6L298.4 475.8L298.2 476L298.1 476.2L297.9 476.4L297.8 476.6L297.7 476.8L297.7 477.1L297.6 477.3L297.6 477.6L297.6 477.8L297.6 478.1L300.3 496.5L300.3 496.8L300.4 497L300.5 497.3L300.6 497.5L300.7 497.7L300.9 497.9L301.1 498.1L301.3 498.2L301.5 498.4L301.7 498.5L301.9 498.6L302.2 498.7L303.4 499L303.4 499L306.2 499.6L306.2 499.6L309.1 500.3L309.1 500.3L311.9 500.9L314.7 501.6L317.5 502.2L320.3 502.9L323.1 503.6L325.8 504.3L328.6 505.1L331.3 505.9L334 506.8L336.7 507.7L339.4 508.7L342.1 509.8L344.7 510.8L347.4 511.9L350.1 513L352.8 514.1L355.4 515.3L358.1 516.4L358.1 516.4L360.8 517.5L360.8 517.5L363.5 518.6L363.5 518.7L366.2 519.8L366.2 519.8L368.9 520.8L368.9 520.8L371.6 521.9L371.6 521.9L374.3 522.9L374.4 522.9L377.1 523.9L377.1 523.9L379.9 524.9L379.9 524.9L382.7 525.8L385.4 526.7L388.1 527.6L390.7 528.6L393.4 529.7L395.9 530.8L398.5 532L401 533.4L403.5 534.7L406 536.2L408.4 537.7L410.8 539.3L413.2 540.9L415.5 542.6L417.8 544.3L420.1 546L422.4 547.8L424.7 549.6L427 551.4L429.2 553.3L431.4 555.1L433.7 557L435.9 558.9L438.1 560.8L440.3 562.7L442.5 564.7L444.7 566.6L446.8 568.5L447 568.7L447.2 568.8L447.4 568.9L447.6 569L447.9 569.1L448.1 569.1L448.3 569.1L448.5 569.1L448.8 569.1L449 569.1L466.7 564.8L482.5 562.6L497 561.2L497.3 561.1L497.5 561.1L497.7 561L497.9 560.9L498.1 560.8L498.3 560.6L498.5 560.5L498.7 560.3L498.8 560.1L498.9 559.9L499.1 559.7L499.1 559.5L499.2 559.2L499.3 559L499.7 555.6L499.8 555.3L499.8 555.1L499.7 554.8L499.7 554.6L499.6 554.3L499.5 554.1L499.4 553.9L499.3 553.7L499.1 553.5L498.1 552.3L498.1 552.3L496.1 550.2L496.1 550.1L494.2 548L494.2 548L492.2 545.9L492.2 545.9L490.2 543.8L490.2 543.8L488.3 541.7L486.3 539.5L484.3 537.4L482.4 535.3L480.5 533.2L478.6 531L476.7 528.9L476.6 528.9L474.7 526.7L474.7 526.7L472.7 524.6L472.7 524.6L470.7 522.5L470.7 522.4L468.6 520.4L468.6 520.4L466.5 518.4L466.5 518.3L464.4 516.4L462.4 514.4L460.3 512.4L458.3 510.4L456.3 508.3L454.2 506.3L454.2 506.3L452.2 504.2L452.2 504.2L450.1 502.2L450 502.2L447.9 500.2L447.9 500.1L445.7 498.3L445.7 498.2L443.4 496.4L443.4 496.3L441.1 494.6L441.1 494.6L438.8 492.8L438.8 492.8L436.5 491.1L436.5 491.1L434.1 489.4L431.8 487.8L429.6 486L427.3 484.3L425 482.6L425 482.6L422.7 480.8L422.7 480.8L420.4 479.1L420.4 479.1L418.1 477.4L418.1 477.3L415.8 475.7L415.7 475.6L413.4 474L413.4 474L411 472.4L411 472.3L408.6 470.8L408.5 470.7L406.1 469.2L406.1 469.2L403.6 467.7L403.6 467.7L401.1 466.2L401.1 466.2L398.6 464.8L398.6 464.8L396.1 463.4L396.1 463.4L393.6 462L391.1 460.7L388.6 459.3L386.2 457.8L383.9 456.3L381.6 454.8L379.6 453.1L378.5 452L378.3 451.8L378.1 451.7L377.9 451.5L377.7 451.4L377.4 451.4L377.2 451.3L377 451.3L376.7 451.3L376.5 451.3Z" fill="#48cb86"/><path d="M474.8 563.5L475.3 560.4L480.8 552.6L482.3 548.7L482.6 543.5L481.5 538.9L482.4 535.3L468.6 520.4L450.1 502.2L443.4 496.4L413.4 474L403.6 467.7L383.9 456.3L377.9 451.5L376.7 451.3L372.3 451.9L358.2 454.4L337.1 459.9L326.6 463.5L312.8 469L299 475.4L297.8 476.6L297.6 478.1L300.3 496.5L300.7 497.7L301.7 498.5L323.1 503.6L334 506.8L344.7 510.8L371.6 521.9L388.1 527.6L395.9 530.8L406 536.2L417.8 544.3L429.2 553.3L447.6 569L449 569.1L466.7 564.8ZM463.8 551.2L464.9 552.7L464.4 553.4L462.7 552.7L462.7 551.2Z" fill="#62cd70" stroke="#0a0a0a" stroke-width="0.5" stroke-linejoin="round"/><path d="M455.8 567.4L455.9 554.3L456.9 547.8L458.4 544L459.9 541.5L462 538.9L462.6 537.4L463.2 532.8L464.2 529.7L465.9 527L470.1 521.8L450 502.2L441.1 494.6L411 472.4L403.6 467.7L386.2 457.8L381.6 454.8L377.9 451.5L376.7 451.3L372.3 451.9L358.2 454.4L337.1 459.9L316.2 467.5L302.4 473.7L298.8 475.5L297.9 476.4L297.6 478.1L300.3 496.5L301.5 498.4L323.1 503.6L334 506.8L344.7 510.8L371.6 521.9L393.4 529.7L403.5 534.7L415.5 542.6L429.2 553.3L447.2 568.8L448.8 569.1ZM473.3 534.1L468.4 537.4L467.1 538.9L467 540.4L467.7 542L469.2 543.5L471.8 545.1L474.8 545.2L476.3 544.6L477.8 543L478.7 540.4L478.6 537.4L477.8 535.2L476.3 533.9L474.8 533.6Z" fill="#81cc59" stroke="#0a0a0a" stroke-width="0.5" stroke-linejoin="round"/><path d="M442.3 564.5L447.3 558.9L449.6 551.2L449.8 548.1L448.6 542L448.4 538.9L449.3 534.3L452.1 529.7L458.4 524.7L460.8 522L461.2 520.5L461.2 517.4L460 512L445.7 498.2L418.1 477.4L406.1 469.2L383.9 456.3L378.1 451.7L375.9 451.4L361.7 453.7L351.1 456L337.1 459.9L316.2 467.5L302.4 473.7L298.8 475.5L297.9 476.4L297.6 478.1L300.3 496.5L301.5 498.4L323.1 503.6L334 506.8L344.7 510.8L371.6 521.9L388.1 527.6L395.9 530.8L406 536.2L415.5 542.6L427 551.4ZM476 538.9L474.8 538.1L474.1 538.9L474.8 539.8Z" fill="#9fc942" stroke="#0a0a0a" stroke-width="0.5" stroke-linejoin="round"/></g><g clip-path="url(#cfU)"><path d="M464.4 457.9L464.4 457.9L460.9 456.9L460.9 456.9L457.4 456L457.3 456L453.9 455.2L453.8 455.2L450.3 454.4L450.3 454.4L446.8 453.7L446.8 453.7L443.3 453L443.2 453L439.7 452.4L439.7 452.4L436.2 451.9L436.2 451.9L432.7 451.4L432.6 451.4L429.1 450.9L429.1 450.9L425.6 450.6L425.5 450.6L422 450.2L422 450.2L418.5 450L418.4 450L414.9 449.8L414.9 449.8L411.4 449.6L411.3 449.6L407.8 449.5L407.8 449.5L404.3 449.5L404.2 449.5L400.7 449.5L400.7 449.5L397.2 449.6L397.1 449.6L393.6 449.8L393.6 449.8L390.1 450L390 450L386.5 450.2L386.5 450.2L383 450.6L382.9 450.6L379.4 450.9L379.4 450.9L376.6 451.3L376.4 451.3L376.2 451.4L375.9 451.5L375.7 451.6L375.5 451.7L375.3 451.9L375.1 452L375 452.2L374.8 452.4L374.7 452.7L374.6 452.9L374.5 453.1L374.5 453.4L374.4 453.6L374.4 453.9L374.5 454.1L374.5 454.4L374.6 454.6L374.7 454.9L374.8 455.1L374.9 455.3L375 455.5L375.2 455.7L376.3 456.8L376.5 456.9L378.7 458.7L378.8 458.9L381.2 460.5L381.3 460.6L383.7 462.1L383.8 462.1L386.2 463.6L386.3 463.6L388.8 465L388.8 465.1L391.3 466.4L391.3 466.4L393.8 467.8L396.3 469.2L398.8 470.6L401.2 472L403.6 473.5L406 475L408.3 476.5L410.7 478.1L413 479.8L415.3 481.4L417.6 483.1L419.8 484.8L422.1 486.6L424.4 488.3L424.4 488.3L426.7 490.1L426.7 490.1L429 491.8L429 491.8L431.3 493.5L431.3 493.5L433.7 495.2L436 496.9L438.2 498.6L440.5 500.3L442.6 502.1L444.7 503.9L446.8 505.9L448.8 507.8L450.8 509.8L452.9 511.9L454.9 513.9L454.9 514L457 516L457 516L459 518L459.1 518.1L461.2 520L461.2 520L463.2 522L465.3 524L467.3 526L469.2 528L471.2 530.1L473.1 532.3L475 534.4L476.9 536.6L476.9 536.6L478.9 538.7L478.9 538.8L480.8 540.9L480.8 540.9L482.8 543L482.8 543L484.8 545.1L486.8 547.2L488.7 549.3L490.7 551.4L492.6 553.6L494.5 555.7L495.5 556.8L495.7 557L495.8 557.1L496.1 557.3L496.3 557.4L496.5 557.5L496.7 557.5L497 557.6L497.2 557.6L497.4 557.6L497.7 557.6L497.9 557.5L498.2 557.5L498.4 557.4L498.6 557.3L498.8 557.1L499 557L499.2 556.8L499.3 556.6L499.4 556.4L499.6 556.2L499.7 555.9L499.7 555.7L499.8 555.4L508 498.4L508 498.1L508 497.9L508 497.6L507.9 497.4L507.9 497.2L507.8 496.9L507.7 496.7L507.5 496.5L507.4 496.3L507.3 496.2L507.3 496.1L505.5 494.1L505.5 494.1L503.8 492L503.7 492L502 490L501.9 489.9L500.1 487.9L500.1 487.9L498.3 485.9L498.3 485.9L496.4 484L496.4 483.9L494.5 482L494.4 482L492.5 480.1L492.5 480.1L490.6 478.2L490.5 478.2L488.6 476.4L488.5 476.4L486.5 474.6L486.5 474.5L484.5 472.8L484.5 472.8L482.4 471L482.4 471L480.3 469.3L480.3 469.3L478.3 467.6L478.3 467.6L476.2 465.9L474.1 464.2L472.1 462.4L470 460.7L468.2 459.2L468 459L467.8 458.9L467.6 458.8L467.3 458.7Z" fill="#0fb2d4"/><path d="M481.4 470.1L475.7 469L468.3 465.5L460.8 463.8L458.9 461.8L456.7 455.9L439.7 452.4L429.1 450.9L418.5 450L400.7 449.5L390 450L376.6 451.3L375.1 452L374.5 453.4L375 455.5L378.8 458.9L383.8 462.1L401.2 472L408.3 476.5L442.6 502.1L467.3 526L495.7 557L496.7 557.5L497.9 557.5L499.2 556.8L499.8 555.4L507.9 497.4L507.4 496.3L502 490L494.4 482L482.4 471Z" fill="#01b9c7" stroke="#0a0a0a" stroke-width="0.5" stroke-linejoin="round"/><path d="M507.8 498.7L502.5 496.8L492.1 494.8L480.2 488.8L474.2 485.3L468.1 480.3L463.8 473.3L462.3 472.4L456.3 471.5L453.4 470L450.9 468L447 463.4L442.9 456.5L438.1 452.2L418.5 450L400.7 449.5L390 450L376.6 451.3L375.3 451.9L374.5 453.1L374.9 455.3L378.8 458.9L383.8 462.1L401.2 472L408.3 476.5L442.6 502.1L467.3 526L495.5 556.8L497 557.6L498.8 557.1L499.8 555.4Z" fill="#12beb9" stroke="#0a0a0a" stroke-width="0.5" stroke-linejoin="round"/><path d="M503 533.1L493.4 523.3L484.6 512.2L474.2 503.2L462.3 490.9L445.9 477.4L434 468.9L426.6 461.8L422.1 458.6L411.7 453.5L405.8 449.5L393.6 449.8L383 450.6L376.4 451.3L374.8 452.4L374.4 453.9L374.9 455.3L378.8 458.9L383.8 462.1L401.2 472L408.3 476.5L442.6 502.1L467.3 526L495.5 556.8L496.7 557.5L498.6 557.3L499.7 555.7Z" fill="#29c3aa" stroke="#0a0a0a" stroke-width="0.5" stroke-linejoin="round"/><path d="M500.9 547.7L493.6 539.9L484.6 529.1L475.4 518.7L456.3 498.7L441.5 485.6L428.1 476.1L419.1 468.3L414.1 464.9L405.7 460.4L398.3 455.2L388.5 450.1L376.6 451.3L375 452.2L374.4 453.6L374.8 455.1L378.8 458.9L383.8 462.1L401.2 472L408.3 476.5L442.6 502.1L467.3 526L495.5 556.8L496.7 557.5L498.6 557.3L499.7 555.7Z" fill="#35c79a" stroke="#0a0a0a" stroke-width="0.5" stroke-linejoin="round"/><path d="M464.7 523.3L460.8 517.2L454.1 511L450.4 507L444.4 498.2L437 493.6L432.5 490.1L429 486.4L425.1 481L419.1 478.4L414.6 475.6L410.2 471.9L404.2 465.4L396.8 463L390.8 459.7L387.8 457.2L383.4 452.4L381.9 451.7L378.6 451L376.2 451.4L375 452.2L374.4 453.6L374.8 455.1L378.8 458.9L383.8 462.1L401.2 472L408.3 476.5L440.5 500.3L446.8 505.9Z" fill="#48cb86" stroke="#0a0a0a" stroke-width="0.5" stroke-linejoin="round"/></g><g clip-path="url(#cfK)"><path d="M510.9 478.1L510.9 477.8L510.9 477.6L510.9 477.3L510.8 477.1L510.8 476.8L510.7 476.6L510.6 476.4L510.4 476.2L510.3 476L510.1 475.8L509.9 475.6L509.7 475.5L509.5 475.4L506.1 473.7L506.1 473.7L502.7 472.1L502.6 472.1L499.2 470.5L499.2 470.5L495.8 469L495.7 469L492.3 467.5L492.3 467.5L488.8 466.1L488.8 466.1L485.4 464.8L485.3 464.8L481.9 463.5L481.9 463.5L478.4 462.2L478.4 462.2L474.9 461.1L474.9 461L471.4 459.9L471.4 459.9L467.9 458.9L467.9 458.9L467.6 458.8L467.4 458.7L467.1 458.7L466.9 458.7L466.6 458.7L466.4 458.7L466.2 458.8L465.9 458.9L465.7 459L465.5 459.1L465.3 459.3L465.2 459.5L465 459.6L464.9 459.8L464.7 460.1L464.6 460.3L464.6 460.5L464.5 460.8L464.5 461L464.5 461.3L464.5 461.5L464.5 461.8L464.6 462L464.6 462.2L464.7 462.5L464.9 462.7L465 462.9L465.2 463.1L465.4 463.2L467 464.6L467 464.6L469 466.3L469 466.3L471.1 468.1L471.1 468.1L473.2 469.8L475.2 471.5L477.3 473.2L479.3 474.9L481.4 476.6L483.4 478.4L485.3 480.1L487.3 481.9L489.2 483.8L491.1 485.6L493 487.5L494.8 489.4L496.6 491.3L498.4 493.3L500.1 495.3L501.9 497.4L503.6 499.4L503.6 499.5L503.8 499.7L504 499.8L504.2 500L504.4 500.1L504.6 500.2L504.9 500.3L505.1 500.3L505.4 500.4L505.6 500.4L505.9 500.4L506.1 500.3L506.3 500.2L506.6 500.1L506.8 500L507 499.9L507.2 499.7L507.4 499.6L507.5 499.4L507.7 499.1L507.8 498.9L507.9 498.7L507.9 498.4L508 498.2Z" fill="#81cc59"/></g><g clip-path="url(#cfbot)"><path d="M320.1 634.9L320.2 635.2L320.3 635.4L320.4 635.7L320.5 635.9L320.6 636.1L320.8 636.3L320.9 636.5L321.1 636.6L321.3 636.8L321.5 636.9L321.8 637L322 637L322.2 637.1L322.5 637.1L322.7 637.1L323 637.1L323.2 637L323.4 637L323.7 636.9L326.3 635.6L328.9 634.3L331.6 633.1L334.2 632L336.9 630.8L339.5 629.8L342.2 628.7L344.9 627.7L347.5 626.8L350.2 625.9L352.9 625L355.6 624.2L358.3 623.4L361 622.7L363.6 622L366.3 621.4L369 620.8L371.7 620.2L374.4 619.7L377.1 619.3L379.8 618.8L382.6 618.5L385.3 618.1L388 617.9L390.7 617.6L393.4 617.4L396.1 617.3L398.8 617.1L401.5 617.1L404.2 617.1L407 617.1L409.7 617.1L412.4 617.3L415.1 617.4L417.8 617.6L420.5 617.9L423.2 618.1L425.9 618.5L428.7 618.8L431.4 619.3L434.1 619.7L436.8 620.2L439.5 620.8L442.2 621.4L444.9 622L447.5 622.7L450.2 623.4L452.9 624.2L455.6 625L458.3 625.9L461 626.8L463.6 627.7L466.3 628.7L469 629.8L471.6 630.8L474.3 632L476.9 633.1L479.6 634.3L482.2 635.6L484.8 636.9L485.1 637L485.3 637L485.5 637.1L485.8 637.1L486 637.1L486.3 637.1L486.5 637L486.7 637L487 636.9L487.2 636.8L487.4 636.6L487.6 636.5L487.7 636.3L487.9 636.1L488 635.9L488.1 635.7L488.2 635.4L488.3 635.2L488.4 634.9L499.2 559.1L499.3 558.9L499.3 558.6L499.2 558.4L499.2 558.1L499.1 557.9L499 557.6L498.9 557.4L498.8 557.2L498.6 557L498.4 556.8L498.2 556.7L498 556.5L497.8 556.4L497.5 556.3L497.3 556.2L497.1 556.2L496.8 556.2L496.6 556.2L482 557.6L481.9 557.6L466 559.9L465.7 559.9L448.4 564.1L448.4 564.1L448.3 564.1L446.7 563.8L446.7 563.8L444.5 563.4L444.4 563.4L442.2 563L442.2 563L440 562.6L440 562.6L437.8 562.2L437.8 562.2L435.6 561.9L435.6 561.9L433.3 561.5L433.3 561.5L431.1 561.2L431.1 561.2L428.9 561L428.8 561L426.6 560.7L426.6 560.7L424.4 560.5L424.3 560.5L422.1 560.3L422.1 560.3L419.9 560.1L419.8 560.1L417.6 559.9L417.6 559.9L415.4 559.8L415.3 559.8L413.1 559.7L413.1 559.7L410.8 559.6L410.8 559.6L408.6 559.6L408.6 559.6L406.3 559.5L406.3 559.5L404.1 559.5L404 559.5L401.8 559.6L401.8 559.6L399.5 559.6L399.5 559.6L397.3 559.7L397.3 559.7L395 559.8L395 559.8L392.8 559.9L392.8 559.9L390.5 560.1L390.5 560.1L388.3 560.2L388.3 560.2L386 560.4L386 560.4L383.8 560.6L383.8 560.6L381.5 560.8L381.5 560.8L379.3 561L379.3 561L377 561.3L377 561.3L374.8 561.6L374.7 561.6L372.5 562L372.4 562L370.3 562.4L370.2 562.4L368 562.9L367.9 562.9L365.8 563.5L365.7 563.5L363.6 564.1L363.6 564.1L362.1 564.6L360.7 564.1L358.6 563.5L356.6 562.9L354.5 562.3L352.5 561.6L350.4 561L348.4 560.3L346.3 559.7L344.3 559L344.3 559L342.2 558.3L342.2 558.3L340.2 557.7L340.1 557.7L338.1 557.1L338 557L336 556.5L335.9 556.4L333.8 555.9L333.8 555.9L331.7 555.4L331.6 555.4L329.5 554.9L329.5 554.9L327.4 554.5L327.3 554.5L325.2 554.2L325.2 554.2L323 553.8L323 553.8L320.9 553.5L320.9 553.5L318.8 553.3L316.6 553L314.5 552.7L312.4 552.3L311.5 552.2L311.3 552.2L311 552.1L310.8 552.2L310.6 552.2L310.3 552.3L310.1 552.4L309.9 552.5L309.7 552.6L309.5 552.8L309.3 553L309.1 553.2L309 553.4L308.9 553.6L308.8 553.8L308.7 554.1L308.7 554.3L308.7 554.6L308.7 554.8L308.7 555.1Z" fill="#3e26a8"/><path d="M320.6 636L323.5 632.9L329.5 629.1L339.9 625.6L344.4 624.5L353.3 620.3L359.3 619.9L363.8 619.1L378.6 614.3L387.6 613.9L393.5 614.1L404 612.9L414.4 614.1L420.3 613.8L429.3 614.2L445.7 619.3L450.1 620L454.6 620.1L465 624.8L469.5 625.8L478.4 628.9L485.9 633.6L487.9 636L488.4 634.9L499.2 559.1L499.1 557.9L498.2 556.7L496.8 556.2L481.9 557.6L465.7 559.9L448.4 564.1L435.6 561.9L424.4 560.5L413.1 559.7L404.1 559.5L390.5 560.1L377 561.3L370.2 562.4L362.1 564.6L331.7 555.4L311.5 552.2L310.1 552.4L309 553.4L308.7 555.1L320.1 634.9Z" fill="#422fc1" stroke="#0a0a0a" stroke-width="0.5" stroke-linejoin="round"/><path d="M319.8 632.9L329.5 626.8L341.4 623L350.3 619L360.8 616.9L372.7 613.8L377.2 612.2L381.6 611.6L387.6 611.8L399.5 610.9L408.4 610.8L420.3 611.8L429.3 611.8L436.7 614.1L448.6 617.2L457.6 618.8L468 623.3L478.4 626.5L488.7 632.9L499.2 559.1L499.1 557.9L498.2 556.7L496.8 556.2L481.9 557.6L465.7 559.9L448.4 564.1L435.6 561.9L424.4 560.5L413.1 559.7L404.1 559.5L390.5 560.1L377 561.3L370.2 562.4L362.1 564.6L331.7 555.4L311.5 552.2L310.1 552.4L309 553.4L308.7 555.1Z" fill="#4538d7" stroke="#0a0a0a" stroke-width="0.5" stroke-linejoin="round"/><path d="M319.5 630.2L322.5 629L329.5 624.4L334 622.7L339.3 621.3L348.9 616.8L356.3 615.5L363.8 613.2L371.2 611.8L377.2 609.6L381.6 608.9L387.6 609.2L396.5 608.1L404 608.4L409.9 608.1L420.3 609.2L426.3 608.9L429.3 609.2L432.3 609.8L436.7 611.6L444.2 613L453.1 615.7L459.1 616.6L469.5 621.5L474 622.5L478.4 624.1L481.4 625.7L485.9 629.1L489 630.2L499.2 559.1L499.1 557.9L498.2 556.7L496.8 556.2L481.9 557.6L465.7 559.9L448.4 564.1L435.6 561.9L424.4 560.5L413.1 559.7L404.1 559.5L390.5 560.1L377 561.3L370.2 562.4L362.1 564.6L331.7 555.4L323 553.8L310.3 552.3L309 553.4L308.7 555.1Z" fill="#4743e7" stroke="#0a0a0a" stroke-width="0.5" stroke-linejoin="round"/><path d="M319.1 627.5L322.1 626.5L329.5 621.7L338.4 618.8L347.4 614.4L354.8 612.8L363.8 610L371.2 608.7L377.2 606.6L381.6 606L387.6 606.1L396.5 605L404 605.3L409.9 604.9L414.4 605.1L420.3 606.1L429.3 606.2L436.7 608.5L445.7 610.3L453.1 612.7L459.1 613.8L463.5 615.4L469.5 618.5L478.4 621.4L481.4 623L485.9 626.1L489.4 627.5L499.2 559.1L499.1 557.9L498.2 556.7L496.8 556.2L481.9 557.6L465.7 559.9L448.4 564.1L435.6 561.9L424.4 560.5L413.1 559.7L404.1 559.5L390.5 560.1L377 561.3L370.2 562.4L362.1 564.6L331.7 555.4L323 553.8L310.3 552.3L309 553.4L308.7 555.1Z" fill="#484ff2" stroke="#0a0a0a" stroke-width="0.5" stroke-linejoin="round"/><path d="M318.6 624.4L322.1 623.2L329.5 618.7L338.4 615.3L345.9 611.5L363.8 606.4L380.1 602.6L396.5 601.3L409.9 601.2L430.8 603L445.7 606.6L453.1 609L460.5 610.8L465 612.6L471 615.6L478.4 618.4L485.9 622.9L489.9 624.4L499.2 559.1L499.1 557.9L498.2 556.7L496.8 556.2L481.9 557.6L465.7 559.9L448.4 564.1L435.6 561.9L424.4 560.5L413.1 559.7L404.1 559.5L390.5 560.1L377 561.3L370.2 562.4L362.1 564.6L331.7 555.4L323 553.8L310.3 552.3L309 553.4L308.7 555.1Z" fill="#475bf9" stroke="#0a0a0a" stroke-width="0.5" stroke-linejoin="round"/><path d="M318.1 620.8L322.1 619.4L328 615.9L336.9 611.9L344.4 608L363.8 602L377.2 598.8L381.6 598.1L396.5 596.8L408.4 596.7L429.3 598.4L447.1 602.7L463.5 607.8L471 611.6L479.9 615.6L487.4 619.9L490.4 620.8L499.2 559.1L499.1 557.9L498.2 556.7L496.8 556.2L481.9 557.6L465.7 559.9L448.4 564.1L435.6 561.9L424.4 560.5L413.1 559.7L404.1 559.5L390.5 560.1L377 561.3L370.2 562.4L362.1 564.6L331.7 555.4L323 553.8L310.3 552.3L309 553.4L308.7 555.1Z" fill="#4367fd" stroke="#0a0a0a" stroke-width="0.5" stroke-linejoin="round"/><path d="M317.6 616.6L322.1 615L345.9 602.2L363.8 596.5L381.6 592.6L395 591.2L404 591L412.9 591.2L427.8 592.7L445.7 596.7L463.5 602.6L487.4 615.5L491 616.7L499.2 558.1L498.4 556.8L496.8 556.2L482 557.6L465.7 559.9L448.4 564.1L435.6 561.9L424.4 560.5L413.1 559.7L404.1 559.5L390.5 560.1L377 561.3L370.2 562.4L362.1 564.6L331.7 555.4L323 553.8L310.3 552.3L309 553.4L308.7 555.1Z" fill="#3a74fe" stroke="#0a0a0a" stroke-width="0.5" stroke-linejoin="round"/><path d="M316.9 612L322.1 610.2L329.6 606L336.8 601.3L341.4 597.3L344.4 595.4L348.9 593.8L353.3 593.5L357.8 589.9L360.8 588.6L365.2 587.8L371.2 587.7L375.7 585L380.1 583.8L383.1 583.9L387.6 584.7L390.6 583.5L395 582.5L399.5 582.6L404 583.6L411.4 582.3L415.9 582.9L420.3 584.6L421.8 584.7L426.3 583.6L429.3 583.7L433.7 585.2L438.2 587.9L444.2 587.5L448.6 588.4L451.6 590.2L454.6 593.3L457.6 593.2L460.5 593.7L465 595.6L471.8 601.3L479.1 606L487.3 610.6L491.6 612.1L499.2 558.1L498.4 556.8L496.8 556.2L482 557.6L465.7 559.9L448.4 564.1L435.6 561.9L424.4 560.5L413.1 559.7L404.1 559.5L390.5 560.1L377 561.3L370.2 562.4L362.1 564.6L333.8 555.9L325.2 554.2L310.6 552.2L309 553.4L308.7 555.1Z" fill="#2f80fa" stroke="#0a0a0a" stroke-width="0.5" stroke-linejoin="round"/><path d="M316.1 607L320.6 605.7L323.5 604L331 598.7L334.5 595.2L338.8 589L344.4 586.8L347.4 584.5L349.7 581.4L351.8 577.5L357.8 578.5L360.8 578L363.8 576.7L366.7 573.7L369.5 567.5L371.2 566.1L384.6 562.6L399.5 561.2L411.4 561.3L418.9 562.6L424.8 563.1L432.3 565.3L439.7 566.8L441.4 569.1L443.7 573.7L445.7 575.7L448.6 577.3L451.6 577.9L454.6 577.8L457.6 577L459.1 578.2L461.6 582.9L463.5 585.1L466.5 587.1L470.7 589L474.6 595.2L478.4 599.1L482.9 602.6L487.4 605.4L492.4 607.1L499.2 558.1L498.4 556.8L496.8 556.2L482 557.6L465.7 559.9L448.4 564.1L435.6 561.9L424.4 560.5L413.1 559.7L404.1 559.5L390.5 560.1L377 561.3L370.2 562.4L362.1 564.6L333.8 555.9L325.2 554.2L310.6 552.2L309 553.4L308.7 555.1Z" fill="#2d8cf3" stroke="#0a0a0a" stroke-width="0.5" stroke-linejoin="round"/><path d="M435.7 561.9L441.2 564.9L446.3 570.6L448.6 572.6L453.1 574.4L459.1 575.2L460.5 576.2L466.5 582.2L474.4 587.5L479.9 593.2L484.4 597.2L488.8 600.1L493.1 601.6L499.2 559.1L499.1 557.9L498.2 556.7L496.6 556.2L482 557.6L466 559.9L448.4 564.1ZM315.3 601.4L320.6 599.6L325 596.7L335.2 587.5L342.9 582.7L350.3 575.9L351.8 575.3L357.8 574.5L360.8 573.1L363.8 570.5L368.2 564.7L371.5 562.2L362.1 564.6L331.7 555.4L311.5 552.2L309.7 552.6L308.9 553.6L308.7 555.1Z" fill="#2797eb" stroke="#0a0a0a" stroke-width="0.5" stroke-linejoin="round"/><path d="M314.6 595.4L317.6 594.7L320.6 593.2L330.9 586L338.4 581.9L348.2 575.2L357.8 571.5L361 569.1L365.6 563.6L362.1 564.6L331.7 555.4L311.5 552.2L309.9 552.5L308.9 553.6L308.7 555.1ZM442.7 563.1L447.1 567.7L450.1 570.3L453.1 571.8L459.1 573.7L462.5 575.2L471 581.6L478.7 586L488.8 593.6L494 595.6L499.2 559.1L499 557.6L498 556.5L496.6 556.2L482 557.6L466 559.9L448.4 564.1Z" fill="#23a1e5" stroke="#0a0a0a" stroke-width="0.5" stroke-linejoin="round"/><path d="M313.5 588.8L317.6 587.9L329.5 581.9L336.9 578.8L343.7 575.2L354.8 570.6L357.8 568.6L361.6 564.4L331.7 555.4L311.5 552.2L310.1 552.4L309 553.4L308.7 555.1ZM446.4 563.7L450.2 567.5L453.1 569.5L463.7 573.7L472.5 578.6L482.3 582.9L490.3 587.6L495 589L499.3 558.9L498.9 557.4L498 556.5L496.6 556.2L482 557.6L466 559.9L448.4 564.1Z" fill="#1caadf" stroke="#0a0a0a" stroke-width="0.5" stroke-linejoin="round"/><path d="M312.5 581.6L320.6 579.9L350.3 570.7L353.3 569.3L355.8 567.5L359.1 563.7L331.7 555.4L323 553.8L310.3 552.3L309 553.4L308.7 555.1ZM449.4 563.9L453.5 567.5L457.6 569.6L491.8 580.8L496 581.9L499.2 558.4L498.4 556.8L496.8 556.2L481.9 557.6L465.7 559.9Z" fill="#0fb2d4" stroke="#0a0a0a" stroke-width="0.5" stroke-linejoin="round"/><path d="M311.6 574.3L323.5 573.3L336.9 570.9L348.9 569.3L352.8 567.5L354.5 566L356.7 562.9L331.7 555.4L310.6 552.2L309.1 553.2L308.7 554.8ZM451.6 563.4L456.1 567.1L462 569.3L466.5 570.2L474 570.9L484.4 573.2L497 574.8L499.3 558.6L498.4 556.8L496.8 556.2L482 557.6L465.7 559.9Z" fill="#01b9c7" stroke="#0a0a0a" stroke-width="0.5" stroke-linejoin="round"/><path d="M310.4 566.9L323.5 567.6L335.5 567.1L348.9 567.4L350.3 567L351.9 566L354.4 562.2L331.7 555.4L310.8 552.2L309.3 553L308.7 554.8ZM453.6 562.9L455.1 564.4L457.6 566.1L463.5 567.9L468 568L474 567.4L484.4 568.5L493.3 568.1L497.9 568.3L499.3 558.6L498.4 556.8L496.6 556.2L481.9 557.6L466 559.9Z" fill="#12beb9" stroke="#0a0a0a" stroke-width="0.5" stroke-linejoin="round"/><path d="M309.3 559.1L332.5 562.9L341.4 563.7L348.9 565.4L350.9 564.4L351.7 561.4L331.7 555.4L311.3 552.2L309.7 552.6L308.7 554.3ZM455.5 562.4L457.5 564.4L459.1 565.3L463.5 566.2L468 565.7L474 564.1L479.9 564.6L484.4 564.4L494.8 562.1L498.8 562.3L499.3 558.6L498.4 556.8L496.8 556.2L482 557.6L465.7 559.9Z" fill="#29c3aa" stroke="#0a0a0a" stroke-width="0.5" stroke-linejoin="round"/><path d="M330.3 555.1L334 556.2L336.9 556.7ZM457.2 562L459.1 563.9L460.5 564.4L463.5 564.5L474 561.5L479.9 561.3L485.9 560L494.8 557.4L498.9 557.4L498 556.5L496.8 556.2L481.9 557.6L465.7 559.9Z" fill="#35c79a" stroke="#0a0a0a" stroke-width="0.5" stroke-linejoin="round"/><path d="M459.1 561.8L459.6 562.9L460.5 563.5L462.6 562.9L468 560.4L471 559.7L475.4 559.5L479.9 557.9L466 559.9Z" fill="#48cb86" stroke="#0a0a0a" stroke-width="0.5" stroke-linejoin="round"/></g><g clip-path="url(#cfW)"><path d="M308.7 555L308.7 555.2L308.8 555.4L308.9 555.7L309 555.9L309.1 556.1L309.3 556.3L309.4 556.5L309.6 556.6L309.8 556.8L310 556.9L310.2 557L310.5 557.1L310.7 557.1L311.7 557.3L311.7 557.3L313.8 557.6L313.8 557.6L316 557.9L316 557.9L318.1 558.2L318.1 558.2L320.3 558.5L322.4 558.8L324.5 559.1L326.5 559.5L328.6 559.8L330.6 560.3L332.7 560.7L334.7 561.3L336.7 561.9L338.8 562.5L340.8 563.1L342.8 563.8L344.9 564.4L344.9 564.4L346.9 565.1L346.9 565.1L349 565.8L349 565.8L351.1 566.4L351.1 566.4L353.1 567L353.1 567L355.2 567.7L355.2 567.7L357.3 568.3L357.3 568.3L359.3 568.9L361.4 569.6L361.6 569.6L361.8 569.6L362 569.7L362.3 569.7L362.5 569.6L362.7 569.6L364.9 568.9L367 568.4L369.1 567.8L371.2 567.3L373.3 566.9L375.5 566.6L377.6 566.3L379.8 566L382 565.8L384.2 565.6L386.4 565.4L388.6 565.2L390.8 565.1L393 564.9L395.2 564.8L397.5 564.7L399.7 564.6L401.9 564.6L404.1 564.5L406.3 564.5L408.5 564.6L410.7 564.6L412.9 564.7L415.1 564.8L417.3 564.9L419.5 565.1L421.7 565.3L423.9 565.5L426.1 565.7L428.3 565.9L430.5 566.2L432.7 566.5L434.9 566.8L437 567.2L439.2 567.5L441.4 567.9L443.6 568.3L445.8 568.7L447.8 569.1L448 569.1L448.3 569.1L448.5 569.1L448.7 569.1L449 569L449.2 568.9L449.4 568.8L449.6 568.7L449.8 568.5L450 568.4L450.1 568.2L450.3 568L450.4 567.8L450.5 567.5L450.6 567.3L450.7 567.1L450.7 566.8L450.7 566.6L450.7 566.3L450.7 566.1L450.6 565.8L450.5 565.6L450.4 565.4L450.3 565.2L450.2 565L450 564.8L449.8 564.6L447.8 562.8L447.8 562.8L445.6 560.9L445.6 560.9L443.4 558.9L443.4 558.9L441.2 557L441.2 557L439 555.1L439 555.1L436.8 553.2L436.7 553.1L434.5 551.3L434.5 551.3L432.2 549.4L432.2 549.4L430 547.5L430 547.5L427.7 545.7L427.7 545.7L425.4 543.8L425.4 543.8L423.1 542L423 542L420.7 540.3L420.7 540.2L418.3 538.5L418.3 538.5L415.9 536.8L415.9 536.8L413.5 535.1L413.4 535.1L411 533.5L410.9 533.5L408.5 531.9L408.4 531.9L405.9 530.4L405.8 530.4L403.3 528.9L403.2 528.9L400.6 527.6L400.6 527.5L398 526.3L397.9 526.2L395.2 525L395.2 525L392.5 523.9L392.4 523.9L389.7 522.9L389.6 522.9L386.9 521.9L386.9 521.9L384.1 521L381.4 520.1L378.7 519.2L376 518.2L373.3 517.2L370.6 516.2L368 515.1L365.3 514L362.6 512.9L359.9 511.8L357.3 510.6L354.6 509.5L354.6 509.5L351.9 508.4L351.9 508.4L349.2 507.3L349.2 507.2L346.5 506.2L346.5 506.1L343.8 505.1L343.8 505.1L341.1 504L341 504L338.3 503L338.3 503L335.5 502.1L335.5 502L332.7 501.1L332.7 501.1L329.9 500.3L329.9 500.3L327.1 499.5L327.1 499.5L324.3 498.7L324.2 498.7L321.4 498L321.4 498L318.6 497.4L318.6 497.3L315.8 496.7L315.8 496.7L312.9 496L310.1 495.4L307.3 494.8L304.5 494.1L303.3 493.8L303.1 493.8L302.8 493.7L302.6 493.7L302.4 493.8L302.1 493.8L301.9 493.9L301.7 494L301.5 494.1L301.3 494.2L301.1 494.4L300.9 494.6L300.7 494.8L300.6 495L300.5 495.2L300.4 495.4L300.3 495.7L300.3 495.9L300.3 496.2L300.3 496.4L300.3 496.7Z" fill="#0fb2d4"/><path d="M308.7 555.2L309.4 556.5L310.5 557.1L326.5 559.5L332.7 560.7L361.8 569.6L371.2 567.3L377.6 566.3L399.7 564.6L410.7 564.6L423.9 565.5L434.9 566.8L448 569.1L449.8 568.5L450.7 566.8L450.5 565.6L449.8 564.6L436.8 553.2L425.4 543.8L413.4 535.1L400.6 527.5L392.5 523.9L373.3 517.2L346.5 506.2L335.5 502.1L324.2 498.7L302.6 493.7L300.9 494.6L300.3 496.7ZM340.5 546.2L342 546.4L343.8 547.5L344.6 549.1L344.7 550.6L343.5 553L342 554L340.5 554.1L339 553.7L337.5 552.4L336.9 550.6L337.1 549.1L338 547.5Z" fill="#01b9c7" stroke="#0a0a0a" stroke-width="0.5" stroke-linejoin="round"/><path d="M329.4 559.8L328.6 555.7L328.4 552.2L328.9 549.1L330.1 546L332.2 542.9L334.5 540.9L337.5 539.5L340.5 539.2L344.9 539.9L350.9 541.8L355.4 543.8L356.9 545.3L357.2 546L356.9 549.1L354 558.3L352.4 561.9L349.4 565.9L361.6 569.6L371.2 567.3L377.6 566.3L399.7 564.6L410.7 564.6L423.9 565.5L434.9 566.8L448 569.1L450 568.4L450.7 566.6L449.8 564.6L436.8 553.2L425.4 543.8L413.4 535.1L400.6 527.5L392.5 523.9L373.3 517.2L346.5 506.2L335.5 502.1L318.6 497.4L303.3 493.8L301.7 494L300.6 495L300.3 496.7L308.9 555.7L309.6 556.6L310.7 557.1Z" fill="#12beb9" stroke="#0a0a0a" stroke-width="0.5" stroke-linejoin="round"/><path d="M319.3 558.3L322.5 550.6L323 546L323.8 542.9L325.2 539.9L327.1 537.1L330 534.2L333 532.5L336 531.6L340.5 531.4L353.9 533.9L358.1 535.2L362.7 538.3L365.2 541.4L366.6 544.5L367.1 547.5L364.7 564.5L363.6 569.3L371.2 567.3L377.6 566.3L399.7 564.6L410.7 564.6L423.9 565.5L434.9 566.8L448 569.1L449.8 568.5L450.7 566.8L450.5 565.6L449.8 564.6L436.8 553.2L425.4 543.8L413.4 535.1L400.6 527.5L392.5 523.9L373.3 517.2L346.5 506.2L335.5 502.1L321.4 498L303.3 493.8L302.1 493.8L300.6 495L300.3 496.7L308.7 555.2L309.4 556.5L310.5 557.1Z" fill="#29c3aa" stroke="#0a0a0a" stroke-width="0.5" stroke-linejoin="round"/><path d="M309.2 547.8L315.2 537.3L318.2 529.1L321.1 524.8L324.1 522.3L330 518.9L334.5 517.8L337.5 518L342 519.6L349.4 523.8L352.4 524L359.8 523.1L364.3 523.6L368.8 525.9L371.7 528.8L375.2 533.7L377.1 538.3L377.8 566.2L397.5 564.7L412.9 564.7L430.5 566.2L448.3 569.1L450 568.4L450.7 566.8L450.5 565.6L449.8 564.6L436.8 553.2L425.4 543.8L413.4 535.1L400.6 527.5L392.5 523.9L373.3 517.2L346.5 506.2L335.5 502.1L321.4 498L302.4 493.8L300.7 494.8L300.3 496.7L307.8 549Z" fill="#35c79a" stroke="#0a0a0a" stroke-width="0.5" stroke-linejoin="round"/><path d="M402.3 528.4L400.2 535.2L397.3 539.9L394.1 542.9L387.5 547.5L386.3 549.1L388.6 555.2L391.2 565L404.1 564.5L415.1 564.8L430.5 566.2L448 569.1L449.2 568.9L450.1 568.2L450.7 566.6L450 564.8L430 547.5L413.4 535.1Z" fill="#48cb86" stroke="#0a0a0a" stroke-width="0.5" stroke-linejoin="round"/><path d="M422.4 541.8L414.9 545.5L413.4 545.9L406 546L403.6 547.5L402.8 549.1L403 552.2L404.5 555.2L409 560.2L414.3 564.8L430.5 566.2L448 569.1L450 568.4L450.7 566.6L449.8 564.6L432.2 549.4L423 542Z" fill="#62cd70" stroke="#0a0a0a" stroke-width="0.5" stroke-linejoin="round"/></g><g clip-path="url(#secf)"><g clip-path="url(#cfU)"><path d="M380.1 456.7L390 462.9L400.2 468.6L410.1 474.8L419.6 481.6L429 488.7L438.4 495.6L447.5 503.1L455.8 511.4L464.3 519.6L472.5 528L480.4 536.8L488.4 545.4L496.4 554.1L503 547.9L494.9 539L486.9 530.5L479 521.7L470.3 512.8L462.1 504.8L453.4 496.3L443.7 488.2L434.2 481.2L424.9 474.1L415 467.1L404.6 460.5L394.3 454.8L385.4 449.3Z" fill="url(#dt3)" opacity="0.6"/></g><g clip-path="url(#cfU)"><path d="M414.5 454.6L423.3 460.4L431.5 466.4L439.1 472.2L446.5 477.7L454.9 484.1L463.2 491.6L470.1 498.5L476.6 504.8L484.1 512.3L490.9 519.8L497 526.6L503.5 533.5L510.3 540.9L540.2 512.4L532.9 504.4L526.4 497.5L520.9 491.4L513.2 482.9L504.1 473.9L498.4 468.4L491.2 461.1L480.2 451.2L470 443.3L463.2 438.4L455.6 432.5L446.2 425.7L435.5 418.6Z" fill="url(#dt5)" opacity="0.95"/></g><g clip-path="url(#cfU)"><path d="M457.2 467.7L460.9 470.8L464.7 474L468.4 477.1L472 480.1L475.6 483L479 486.1L482.3 489.1L485.5 492.2L488.6 495.5L491.7 498.8L494.7 502.2L497.7 505.8L500.7 509.4L509 502.1L506 498.4L502.9 494.8L499.7 491.1L496.5 487.6L493.1 484.1L489.7 480.8L486.2 477.5L482.6 474.4L478.9 471.3L475.2 468.2L471.5 465.2L467.9 462.1L464.2 459Z" fill="url(#dt5)" opacity="0.95"/></g><g clip-path="url(#cfband)"><path d="M298.8 495.2L311.1 498.2L323.4 501.1L335.5 504.7L347.3 509.2L358.9 514L370.6 518.9L382.5 523.1L394.4 527.4L405.7 533.1L416.3 540.1L426.4 547.8L436.2 556L445.8 564.4L450.7 558.5L441 550L431 541.8L420.5 533.8L409.4 526.5L397.3 520.3L384.8 515.8L373.3 511.7L361.8 506.9L350 502L337.8 497.4L325.2 493.6L312.7 490.7L300.6 487.8Z" fill="url(#dt3)" opacity="0.6"/></g><g clip-path="url(#cfband)"><path d="M374.8 464.1L385.7 471L395.9 476.6L405.2 482.5L414.4 489L423.7 496.2L433.2 503.1L441.5 510L449.6 518L458.2 526.4L466 534.3L473.9 543.1L482 551.8L489.8 560.4L496.4 554.1L488.4 545.4L480.4 536.8L472.5 528L464.3 519.6L455.8 511.4L447.5 503.1L438.4 495.6L429 488.7L419.6 481.6L410.1 474.8L400.2 468.6L390 462.9L380.1 456.7Z" fill="url(#dt3)" opacity="0.5"/></g><g clip-path="url(#cfband)"><path d="M297.5 476.4L323.3 468.2L333.3 484.6L319.4 501L299.5 499Z" fill="url(#dt3)" opacity="0.5"/></g><g clip-path="url(#cfband)"><path d="M448.4 566.6L460.3 542L496.1 547.2L498.1 554.3L470.3 558.4Z" fill="url(#dt3)" opacity="0.5"/></g><g clip-path="url(#cfW)"><path d="M291.6 510.3L298.2 512L304.8 513.5L311.2 515L317.4 516.5L323.2 518L328.9 519.7L334.5 521.7L340.3 523.9L346.2 526.4L352.2 528.9L358.4 531.5L364.8 534.1L371.3 536.6L376.5 521.1L370.4 518.8L364.3 516.3L358.2 513.7L352.1 511.2L346.1 508.7L339.9 506.3L333.7 504.1L327.4 502.2L321.1 500.5L314.7 499L308.3 497.5L301.9 496L295.5 494.4Z" fill="url(#dt3)" opacity="0.6"/></g><g clip-path="url(#cfW)"><path d="M301.5 552.8L306.2 553.7L310.9 554.6L315.7 555.3L320.4 556L325.1 556.7L329.9 557.5L334.5 558.7L339.1 560L343.7 561.4L348.3 562.9L352.9 564.4L357.5 565.8L362.1 567.2L366 553.4L361.4 552L356.9 550.6L352.4 549.2L347.9 547.7L343.1 546.2L338 544.8L332.6 543.5L327.3 542.5L322.2 541.8L317.6 541.1L313.2 540.5L308.8 539.6L304.2 538.7Z" fill="url(#dt2)" opacity="0.6"/></g><g clip-path="url(#cfW)"><path d="M382.9 529.8L410.7 541L448.4 566.6L420.6 563.1L388.9 562.5Z" fill="url(#dt3)" opacity="0.4"/></g><g clip-path="url(#cfbot)"><path d="M349.2 565.6L380.9 565.6L388.9 581L367 593.3L345.2 581Z" fill="url(#dt2)" opacity="0.85"/></g><g clip-path="url(#cfbot)"><path d="M448.4 566.6L497.1 554.3L496.1 585.1L484.2 607.6L460.3 593.3L444.5 576.9Z" fill="url(#dt3)" opacity="0.6"/></g><g clip-path="url(#cfK)"><path d="M470.3 455.9L510 472.3L510 509.2L495.1 490.8Z" fill="url(#dt3)" opacity="0.5"/></g><path d="M362.1 567.2L365.1 566.3L368.1 565.5L371.1 564.8L374.2 564.2L377.2 563.8L380.3 563.4L383.4 563.1L386.5 562.9L389.6 562.6L392.7 562.4L395.8 562.3L399 562.1L402.1 562.1L405.2 562L408.3 562.1L411.4 562.1L414.5 562.3L417.6 562.4L420.7 562.7L423.8 562.9L426.9 563.3L430 563.6L433.1 564L436.2 564.5L439.2 565L442.3 565.5L445.4 566.1L448.4 566.6" stroke="#0a2a3f" stroke-width="1.7" fill="none"/><path d="M303.8 496.5L306.8 497.2L309.8 497.9L312.8 498.6L315.8 499.3L318.8 500L321.8 500.7L324.8 501.5L327.8 502.3L330.8 503.2L333.7 504.1L336.6 505.1L339.6 506.1L342.4 507.2L345.3 508.4L348.2 509.5L351.1 510.7L353.9 511.9L356.8 513.1L359.6 514.3L362.5 515.5L365.3 516.7L368.2 517.9L371.1 519L374 520.1L376.9 521.2L379.8 522.2L382.7 523.2L385.6 524.1L388.6 525.1L391.5 526.2L394.3 527.4L397.2 528.6L399.9 530L402.7 531.5L405.4 533L408.1 534.6L410.7 536.2L413.3 538L415.8 539.8L418.3 541.6L420.8 543.5L423.3 545.4L425.7 547.3L428.2 549.3L430.6 551.2L433 553.2L435.4 555.2L437.8 557.3L440.1 559.3L442.5 561.4L444.8 563.4L447.1 565.5" stroke="#111" stroke-width="0.7" fill="none"/><path d="M301.8 496.1h2.6M303.1 494.8v2.6M304.5 497h2.7M305.8 495.7v2.7M313.2 498.7h2.2M314.3 497.6v2.2M315.6 499.6h2.9M317 498.1v2.9M331.8 503.6h2.8M333.2 502.2v2.8M340.3 507.3h2.1M341.3 506.2v2.1M342.8 508.2h2.5M344 506.9v2.5M352.5 512h2.4M353.7 510.8v2.4M367.3 518.8h2.4M368.5 517.6v2.4M370 519.7h2.4M371.2 518.5v2.4M382.6 524.5h2.4M383.8 523.3v2.4M395.6 528.6h2.5M396.8 527.4v2.5M398.4 529.5h2.2M399.5 528.4v2.2M408.1 535.2h2.5M409.3 534v2.5M410.6 536.1h2.9M412 534.7v2.9M419.5 544.4h2.6M420.8 543.1v2.6M422.3 545.3h2.3M423.5 544.1v2.3M432.1 553h2.7M433.4 551.6v2.7M434.7 553.9h2.8M436.1 552.5v2.8M440.5 561.3h2.2M441.6 560.2v2.2M443.2 562.2h2.2M444.3 561.1v2.2" stroke="#030303" stroke-width="1.95" fill="none" stroke-linecap="round"/><path d="M301.9 495h0M301.1 496.8h0M304.1 493.8h0M305.3 493.5h0M301.6 498.9h0M311.7 499.1h0M319.5 500.1h0M320.3 498.4h0M313.5 502.7h0M319.6 500.9h0M336.2 502h0M329.8 503.4h0M336.8 502.1h0M335.1 506.2h0M334.5 505.9h0M337.8 506.5h0M339 508.9h0M337.4 508.1h0M343.2 504.7h0M339.8 506.1h0M352.2 509.3h0M355.8 509.3h0M352.8 509.2h0M352.9 515.7h0M351.9 515.9h0M368.7 516.1h0M373.1 518.5h0M367.3 515.8h0M373.1 517.5h0M368.5 521.8h0M387.7 524.2h0M385.5 527.9h0M384.8 521.5h0M384.2 522h0M381.3 521.7h0M394.3 528.8h0M398.3 525.8h0M398.4 531.6h0M397.4 532.9h0M400.9 526.4h0M412.3 537.9h0M410.7 531.8h0M415.1 538.1h0M412.7 532.3h0M415.1 537.7h0M421.6 548.5h0M423.7 547.4h0M420.2 542.5h0M422.9 548.5h0M417.6 542.7h0M431 554.1h0M429.9 554.8h0M440.2 553.3h0M432.9 550.8h0M437.6 555h0M443.7 565.6h0M448.1 560.7h0M438.5 563.3h0M446.2 559.1h0M441.2 558.3h0" stroke="#050505" stroke-width="1.2" stroke-linecap="round" fill="none"/><path d="M381.5 457.7L384.1 459.4L386.8 461L389.5 462.6L392.2 464.1L394.9 465.6L397.7 467.1L400.4 468.7L403.1 470.2L405.7 471.9L408.4 473.6L411 475.3L413.5 477.1L416.1 478.9L418.6 480.8L421.1 482.7L423.6 484.6L426.1 486.5L428.6 488.4L431.1 490.3L433.6 492.1L436.1 494L438.7 495.8L441.2 497.7L443.6 499.7L446 501.8L448.3 503.9L450.6 506.1L452.8 508.3L455 510.5L457.2 512.8L459.5 515L461.7 517.2L464 519.3L466.3 521.5L468.5 523.7L470.7 526L472.8 528.3L474.9 530.7L477 533L479.1 535.4L481.3 537.7L483.4 540L485.5 542.3L487.7 544.6L489.9 546.9L492 549.3L494.1 551.6" stroke="#111" stroke-width="0.7" fill="none"/><path d="M378 457.7h2.8M379.4 456.3v2.8M380.5 458.6h3.3M382.1 457v3.3M394.4 465.8h3.2M396 464.3v3.2M397.1 466.7h3.3M398.7 465.1v3.3M406.8 474.9h3.1M408.4 473.4v3.1M409.4 475.8h3.3M411.1 474.2v3.3M422.5 483.5h2.8M423.9 482.1v2.8M433.6 493.3h3.2M435.2 491.7v3.2M436.2 494.2h3.3M437.9 492.5v3.3M446.6 503.1h3.6M448.4 501.3v3.6M449.7 504h2.8M451.1 502.6v2.8M457.8 516.1h2.8M459.2 514.7v2.8M460.2 517h3.3M461.9 515.3v3.3M469.3 526.7h3.5M471 525v3.5M472 527.6h3.4M473.7 525.9v3.4M476.8 535.1h3.1M478.3 533.5v3.1M479.7 536h2.7M481 534.6v2.7M488.2 548.2h3M489.7 546.7v3M490.6 549.1h3.6M492.4 547.3v3.6" stroke="#030303" stroke-width="1.95" fill="none" stroke-linecap="round"/><path d="M380.9 455.5h0M385.5 457.1h0M385.7 458.2h0M382 454.2h0M384.2 460.9h0M393 467.6h0M400.1 464.7h0M393.7 469.1h0M394.2 465.6h0M401 467.7h0M408.9 471.7h0M408.2 477.6h0M410.7 472.5h0M406.9 473.2h0M413.3 478.4h0M419.5 484.8h0M427.5 481.7h0M420.6 482.2h0M429.2 484.4h0M420.7 484.7h0M438.5 497.2h0M441 492h0M441.3 493.9h0M439.9 494.8h0M440 492.9h0M445.9 505.7h0M446.2 500.9h0M444.3 503.5h0M447.6 506.4h0M449.6 499.8h0M461 520.2h0M459.4 520.2h0M461.1 519.3h0M465.3 516.9h0M464.3 519.4h0M477.1 528.8h0M467.6 528.4h0M469.6 525.5h0M476.5 525.5h0M468.5 525.1h0M477 531.9h0M482 537.2h0M481.1 538.1h0M481.3 532.7h0M482.2 533.8h0M494.6 545.5h0M487.3 548.9h0M494 550.5h0M493.1 551.3h0M490.3 551.2h0" stroke="#050505" stroke-width="1.2" stroke-linecap="round" fill="none"/><path d="M465.4 460L467.9 462.2L470.5 464.3L473.1 466.5L475.6 468.6L478.2 470.7L480.8 472.9L483.3 475L485.8 477.3L488.3 479.5L490.7 481.8L493.1 484.1L495.5 486.5L497.8 489L500 491.5L502.2 494L504.4 496.5L506.5 499.1" stroke="#111" stroke-width="0.8" fill="none"/><path d="M463.1 459.4h3M464.6 458v3M465.8 460.3h3M467.3 458.8v3M477.9 472.7h3M479.4 471.2v3M480.5 473.6h3.1M482.1 472v3.1M491.6 484.5h3.2M493.2 482.9v3.2M503 496.6h3M504.5 495.1v3M506 497.5h2.5M507.2 496.2v2.5" stroke="#030303" stroke-width="1.95" fill="none" stroke-linecap="round"/><path d="M463.5 461.8h0M464.6 462.7h0M465.9 456.1h0M462.7 461.3h0M463.6 463.5h0M483.5 475.4h0M484.4 474.5h0M481.8 470.7h0M478 476.1h0M476.5 472.3h0M489.8 486h0M493.5 487.4h0M494.6 488.4h0M495.1 481.3h0M492.2 481.4h0M507.9 499.2h0M509.2 495.8h0M504.9 493.1h0M509.1 497.9h0M502.5 498.8h0" stroke="#050505" stroke-width="1.2" stroke-linecap="round" fill="none"/><path d="M305.8 553.7L308.9 554.3L312 554.8L315.2 555.3L318.3 555.7L321.5 556.2L324.7 556.6L327.8 557.1L330.9 557.8L334 558.5L337.1 559.4L340.1 560.3L343.2 561.3L346.2 562.2L349.3 563.2L352.3 564.2L355.4 565.1L358.4 566.1L361.5 567" stroke="#111" stroke-width="0.8" fill="none"/><path d="M305.1 554.1h2.9M306.5 552.6v2.9M311.4 555h3M312.9 553.5v3M314 555.9h3.1M315.6 554.4v3.1M318.9 556.3h3.1M320.4 554.8v3.1M321.5 557.2h3.3M323.1 555.6v3.3M330.6 558h3.3M332.2 556.4v3.3M333.4 558.9h3M334.9 557.5v3M339.4 560.8h3.2M341 559.2v3.2M342.1 561.7h3.2M343.7 560.1v3.2M346.1 562.9h3.2M347.7 561.4v3.2M348.7 563.8h3.4M350.4 562.2v3.4M357.9 566.4h2.9M359.3 564.9v2.9" stroke="#030303" stroke-width="1.95" fill="none" stroke-linecap="round"/><path d="M310.7 553.8h0M302.4 553.6h0M302.4 552.2h0M307.5 551.6h0M305.5 551.8h0M313.8 552.5h0M316.2 558.8h0M310.4 556.7h0M311.1 555.8h0M316.6 552.1h0M324.2 558.8h0M319.2 554.9h0M319.9 558.9h0M320 554.6h0M318.3 555.5h0M334.8 560.9h0M337.5 555.7h0M329.1 558.4h0M330 560.6h0M336.5 555h0M338.2 563.8h0M339.4 563.1h0M347.1 561.7h0M344.6 558.9h0M341.7 563.6h0M345.3 562.5h0M346.5 565.5h0M347 566.4h0M344.8 563.3h0M354 563.8h0M362.5 564h0M354.5 565.6h0M356.2 563.6h0M359 568.9h0M363.5 564.6h0" stroke="#050505" stroke-width="1.2" stroke-linecap="round" fill="none"/><path d="M358 568h3.2M359.6 566.4v3.2M358.2 568.4h3.2M359.8 566.8v3.2M361.2 566.9h3.2M362.8 565.3v3.2M361.3 567.7h3.2M362.9 566.1v3.2M443.7 567h3.2M445.3 565.4v3.2M447.7 567h3.2M449.3 565.4v3.2M449.5 568h3.2M451.1 566.4v3.2M446 565.6h3.2M447.6 564v3.2" stroke="#030303" stroke-width="1.8" fill="none" stroke-linecap="round"/></g></g><rect x="301" y="453.9" width="206.5" height="180.4" fill="none" stroke="#777" stroke-width="0.6"/><text x="316.6" y="644.6" font-size="7.1" text-anchor="middle" fill="#2c2c2c" font-family="Liberation Sans, Arial, sans-serif">−0.015</text><text x="345.3" y="644.6" font-size="7.1" text-anchor="middle" fill="#2c2c2c" font-family="Liberation Sans, Arial, sans-serif">−0.01</text><text x="374" y="644.6" font-size="7.1" text-anchor="middle" fill="#2c2c2c" font-family="Liberation Sans, Arial, sans-serif">−0.005</text><text x="403.9" y="644.6" font-size="7.1" text-anchor="middle" fill="#2c2c2c" font-family="Liberation Sans, Arial, sans-serif">0</text><text x="432.6" y="644.6" font-size="7.1" text-anchor="middle" fill="#2c2c2c" font-family="Liberation Sans, Arial, sans-serif">0.005</text><text x="461.3" y="644.6" font-size="7.1" text-anchor="middle" fill="#2c2c2c" font-family="Liberation Sans, Arial, sans-serif">0.01</text><text x="490" y="644.6" font-size="7.1" text-anchor="middle" fill="#2c2c2c" font-family="Liberation Sans, Arial, sans-serif">0.015</text><text x="297.5" y="627.7" font-size="7.1" text-anchor="end" fill="#2c2c2c" font-family="Liberation Sans, Arial, sans-serif">54</text><text x="297.5" y="606.3" font-size="7.1" text-anchor="end" fill="#2c2c2c" font-family="Liberation Sans, Arial, sans-serif">56</text><text x="297.5" y="584.9" font-size="7.1" text-anchor="end" fill="#2c2c2c" font-family="Liberation Sans, Arial, sans-serif">58</text><text x="297.5" y="563.5" font-size="7.1" text-anchor="end" fill="#2c2c2c" font-family="Liberation Sans, Arial, sans-serif">60</text><text x="297.5" y="542" font-size="7.1" text-anchor="end" fill="#2c2c2c" font-family="Liberation Sans, Arial, sans-serif">62</text><text x="297.5" y="520.6" font-size="7.1" text-anchor="end" fill="#2c2c2c" font-family="Liberation Sans, Arial, sans-serif">64</text><text x="297.5" y="499.2" font-size="7.1" text-anchor="end" fill="#2c2c2c" font-family="Liberation Sans, Arial, sans-serif">66</text><text x="297.5" y="477.8" font-size="7.1" text-anchor="end" fill="#2c2c2c" font-family="Liberation Sans, Arial, sans-serif">68</text><path d="M318.2 634.3v-2M318.2 453.9v2M346.9 634.3v-2M346.9 453.9v2M375.6 634.3v-2M375.6 453.9v2M404.2 634.3v-2M404.2 453.9v2M432.9 634.3v-2M432.9 453.9v2M461.6 634.3v-2M461.6 453.9v2M490.3 634.3v-2M490.3 453.9v2M301 625.2h2M507.5 625.2h-2M301 603.8h2M507.5 603.8h-2M301 582.4h2M507.5 582.4h-2M301 561h2M507.5 561h-2M301 539.5h2M507.5 539.5h-2M301 518.1h2M507.5 518.1h-2M301 496.7h2M507.5 496.7h-2M301 475.3h2M507.5 475.3h-2" stroke="#777" stroke-width="0.6" fill="none"/><text x="405.1" y="654" font-size="8" text-anchor="middle" fill="#2c2c2c" font-family="Liberation Sans, Arial, sans-serif">Coordinate/θ</text><text transform="translate(284.8 544.1) rotate(-90)" font-size="7.7" text-anchor="middle" fill="#2c2c2c" font-family="Liberation Sans, Arial, sans-serif">Radius/mm</text><text x="408.8" y="669.3" font-size="12.5" text-anchor="middle" fill="#111" font-family="Liberation Serif, Times New Roman, serif">T = 340 K</text><rect x="513.9" y="453.9" width="11.1" height="180.4" fill="url(#pg)" stroke="#777" stroke-width="0.5"/><text x="527.6" y="466.9" font-size="6.7" fill="#2c2c2c" font-family="Liberation Sans, Arial, sans-serif">20</text><text x="527.6" y="487.9" font-size="6.7" fill="#2c2c2c" font-family="Liberation Sans, Arial, sans-serif">0</text><text x="527.6" y="508.9" font-size="6.7" fill="#2c2c2c" font-family="Liberation Sans, Arial, sans-serif">−20</text><text x="527.6" y="529.9" font-size="6.7" fill="#2c2c2c" font-family="Liberation Sans, Arial, sans-serif">−40</text><text x="527.6" y="550.9" font-size="6.7" fill="#2c2c2c" font-family="Liberation Sans, Arial, sans-serif">−60</text><text x="527.6" y="571.9" font-size="6.7" fill="#2c2c2c" font-family="Liberation Sans, Arial, sans-serif">−80</text><text x="527.6" y="592.9" font-size="6.7" fill="#2c2c2c" font-family="Liberation Sans, Arial, sans-serif">−100</text><text x="527.6" y="613.9" font-size="6.7" fill="#2c2c2c" font-family="Liberation Sans, Arial, sans-serif">−120</text><text x="527.6" y="634.9" font-size="6.7" fill="#2c2c2c" font-family="Liberation Sans, Arial, sans-serif">−140</text><path d="M525 464.7h-2M525 485.7h-2M525 506.7h-2M525 527.7h-2M525 548.7h-2M525 569.7h-2M525 590.7h-2M525 611.7h-2M525 632.7h-2" stroke="#555" stroke-width="0.6" fill="none"/></g><text x="139" y="16.3" font-size="13.5" text-anchor="middle" fill="#111" font-family="Liberation Serif, Times New Roman, serif">(<tspan font-weight="bold">a</tspan>)</text><text x="410" y="16.3" font-size="13.5" text-anchor="middle" fill="#111" font-family="Liberation Serif, Times New Roman, serif">(<tspan font-weight="bold">b</tspan>)</text></svg></body></html>
